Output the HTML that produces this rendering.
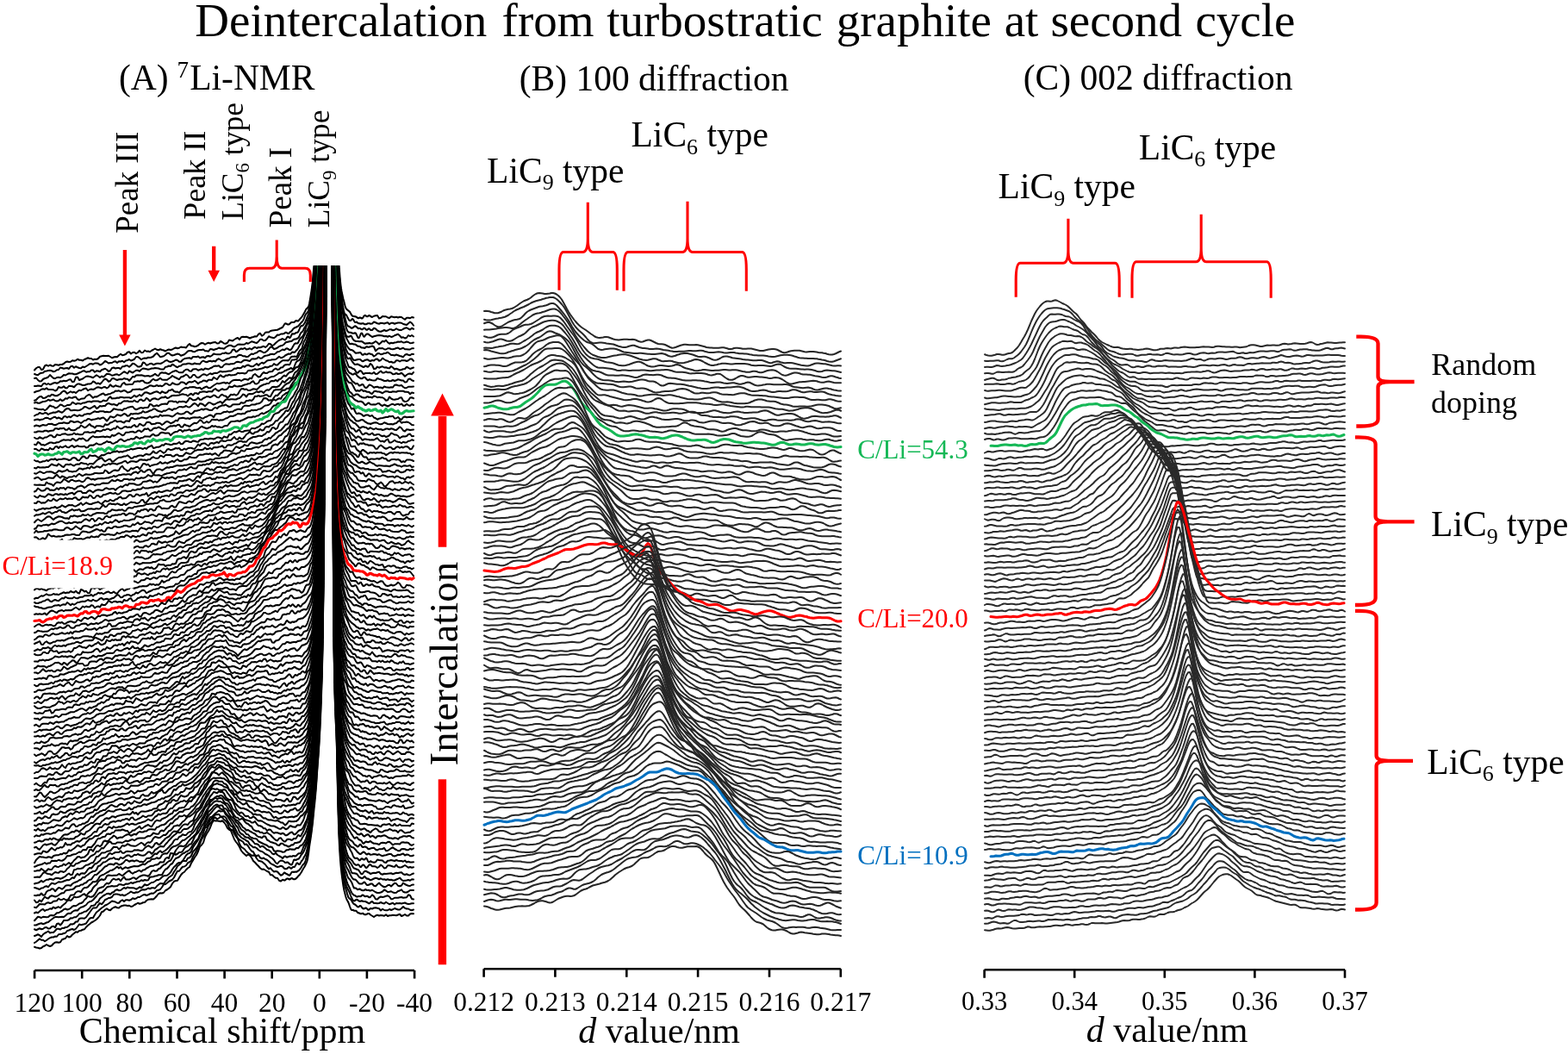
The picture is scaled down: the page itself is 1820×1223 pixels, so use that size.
<!DOCTYPE html>
<html><head><meta charset="utf-8"><title>Deintercalation from turbostratic graphite at second cycle</title>
<style>html,body{margin:0;padding:0;background:#fff;}svg{display:block;}</style></head>
<body><svg width="1820" height="1223" viewBox="0 0 1820 1223">
<defs><filter id="bl" x="0" y="0" width="1" height="1" filterUnits="objectBoundingBox"><feGaussianBlur stdDeviation="0.75"/></filter><clipPath id="ca" clipPathUnits="userSpaceOnUse"><rect x="0" y="1232" width="2400" height="4000"/></clipPath></defs>
<rect width="1820" height="1223" fill="#fff"/>
<g filter="url(#bl)"><rect width="1820" height="1223" fill="#fff"/>
<g transform="scale(0.25)" fill="none" stroke="#000" stroke-width="8" stroke-linejoin="round" stroke-linecap="round">
<g clip-path="url(#ca)"><path d="M160 1718l8-9 8-5 8 0 8 12 8-2 8-16 8-4 8 5 8-5 8 4 8 1 8-7 8 1 8 2 8-3 8 0 8-4 8-7 8-3 8 2 8-1 8-6 8 2 8-2 8-6 8 4 8 0 8 3 8-6 8-3 8-4 8 3 8 0 8 6 8-3 8 1 8-4 8-9 8-2 8-2 8 1 8 0 8-1 8 5 8 5 8-3 8-2 8 1 8-8 8-6 8 6 8-2 8-3 8-9 8-2 8 9 8-6 8-1 8 6 8-5 8-9 8 10 8-1 8-10 8 5 8-1 8 3 8-6 8-4 8-5 8 5 8 2 8-4 8 3 8 2 8 4 8-5 8-3 8 2 8-2 8-5 8-3 8 3 8-2 8-5 8 2 8 0 8 2 8-11 8-7 8 9 8 1 8 3 8-2 8-4 8-7 8-4 8 1 8 6 8-5 8-3 8 3 8-3 8-2 8-1 8 6 8-1 8-9 8 4 8 6 8 1 8-4 8-13 8 2 8 2 8-6 8-5 8-3 8 8 8-11 8-2 8 1 8-1 8 3 8 4 8-4 8-2 8-3 8 1 8-11 8-4 8 12 8-5 8-11 8-1 8 0 8-6 8-2 8-1 8-1 8-1 8-4 8-4 8-4 8-13 2-2 2-3 2 1 2 0 2 1 2 1 2 1 2 1 2 0 2 0 2-1 2-1 2-2 2-2 2-2 2-1 2-1 2 0 2 0 2 0 2 0 2 0 2-1 2-1 2-2 2-3 2 0 2-1 2 1 2 1 2 0 2 0 2-2 2-2 2-2 2-3 2-2 2-2 2-2 2-2 2-3 2-3 2-4 2-3 2-4 2-3 2-4 2-3 2-4 2-5 2-2 2-3 2-1 2-2 2-3 2-3 2-6 2-7 2-11 2-12 2-12 2-13 2-13 2-14 2-16 2-18 2-23 2-26 2-19 2-12 2-13 2-15 2-18 2-19 2-20 2-21 2-21 2-22 2-23 2-25 2-24 2 0 2 0 2 0 2 0 2 0 2 0 2 0 2 0 2 0 2 0 2 0 2 0 2 0 2 0 2 0 2 0 2 0 2 0 2 0 2 0 2 0 2 0 2 0 2 0 2 0 2 0 2 0 2 0 2 0 2 0 2 0 2 0 2 0 2 0 2 0 2 0 2 0 2 0 2 0 2 49 2 46 2 35 2 31 2 25 2 21 2 20 2 29 2 27 2 23 2 18 2 15 2 12 2 10 2 9 2 9 2 9 2 7 2 8 2 8 2 8 2 7 2 4 2 4 2 2 2 1 2 2 2 2 2 1 2 2 2 2 2 1 2 4 2 3 2 4 2 4 2 2 2 2 2 1 2 1 2 0 2 0 2 1 2 0 2 0 2 1 2 1 2 1 2 2 2 1 2 1 2 1 2-1 2-1 2-1 2 0 2 1 2 1 2 1 2 1 2-1 2-1 2-3 2-4 2-2 2-2 2-1 2 0 2 1 2 2 2 1 2 1 2 0 2-1 2-2 2-1 2 0 2-1 2 2 2 2 8 4 8-5 8-2 8-1 8 14 8-3 8-7 8 1 8 0 8 5 8 2 8-7 8 2 8 2 8-2 8 3 8-3 8 1 8 6 8 5 8-8 8 0 8 2 8-5 8 2"/><path d="M160 1736l8 3 8 2 8-7 8-3 8-1 8-7 8-1 8-2 8-1 8 2 8 4 8-2 8-6 8-1 8-10 8 2 8 3 8-2 8-1 8 4 8-11 8-2 8 8 8-6 8 4 8 3 8 1 8-7 8 3 8-5 8-5 8-6 8-1 8 3 8-5 8 0 8 1 8 7 8-3 8-7 8-8 8 4 8 6 8-2 8 0 8-5 8-2 8 7 8-7 8 1 8-3 8 6 8-7 8-2 8-4 8 6 8-3 8-4 8-11 8 0 8 6 8 7 8-5 8-2 8 1 8-4 8 1 8-2 8-4 8-9 8-6 8 8 8 10 8-2 8-2 8-6 8-8 8 0 8 7 8 4 8-2 8-3 8-3 8 2 8 7 8-3 8-3 8-7 8-8 8-2 8 0 8 4 8 1 8-5 8-3 8-1 8 0 8-2 8 7 8 0 8 2 8-11 8 1 8 3 8-3 8-2 8-5 8 3 8 0 8 2 8-7 8-5 8-4 8 0 8 4 8 3 8-5 8-6 8-1 8 1 8 0 8-1 8-6 8 3 8-5 8-5 8 2 8 3 8 2 8-7 8-10 8 0 8 6 8-1 8-8 8-11 8 4 8 2 8 2 8-6 8-9 8 1 8-5 8 0 8-2 2-2 2-2 2-1 2 0 2 1 2 1 2 1 2 2 2 0 2 0 2-2 2-2 2-2 2-2 2-1 2-1 2-2 2-2 2-3 2-3 2-2 2-2 2-1 2-2 2 0 2-1 2-1 2-1 2-1 2-1 2-1 2-1 2-2 2-2 2-3 2-2 2-2 2-3 2-2 2-2 2-2 2-2 2-3 2-3 2-4 2-5 2-6 2-5 2-4 2-4 2-2 2-2 2-2 2-2 2-4 2-5 2-7 2-7 2-9 2-10 2-9 2-11 2-15 2-16 2-20 2-22 2-24 2-27 2-18 2-12 2-12 2-14 2-14 2-16 2-18 2-19 2-22 2-25 2-24 2-28 2-28 2-14 2 0 2 0 2 0 2 0 2 0 2 0 2 0 2 0 2 0 2 0 2 0 2 0 2 0 2 0 2 0 2 0 2 0 2 0 2 0 2 0 2 0 2 0 2 0 2 0 2 0 2 0 2 0 2 0 2 0 2 0 2 0 2 0 2 0 2 0 2 0 2 0 2 0 2 20 2 51 2 42 2 38 2 33 2 29 2 25 2 19 2 28 2 24 2 19 2 17 2 14 2 16 2 14 2 15 2 15 2 12 2 11 2 7 2 6 2 3 2 2 2 1 2 1 2 4 2 3 2 5 2 4 2 3 2 4 2 2 2 1 2 0 2 0 2-2 2-3 2-1 2-2 2 1 2 2 2 3 2 4 2 3 2 3 2 0 2 0 2-1 2-1 2 2 2 2 2 1 2 2 2 0 2 0 2 1 2 0 2 0 2 1 2-1 2 0 2-1 2 0 2 0 2 1 2 1 2 2 2 0 2 0 2 0 2 0 2-1 2-1 2-1 2-1 2 0 2 0 2 0 2 0 2 1 2 1 8-1 8-8 8 3 8 4 8 2 8-4 8 1 8 2 8-3 8-2 8 8 8-6 8 0 8 4 8-3 8-2 8 0 8 1 8 5 8 2 8 2 8-7 8-7 8 6 8 11"/><path d="M160 1756l8-2 8 10 8 6 8-1 8-9 8-4 8-2 8-4 8-10 8 8 8 7 8 2 8-5 8-1 8 2 8-5 8-8 8 2 8-5 8-4 8 1 8 0 8 3 8 0 8-3 8-4 8-3 8-5 8-1 8 6 8-2 8 0 8-7 8 0 8 9 8-6 8 1 8 3 8-8 8-3 8-3 8 5 8 8 8-4 8-12 8-2 8 4 8-2 8 0 8 4 8-11 8 0 8-4 8 0 8 6 8-7 8-9 8 2 8 6 8 7 8 0 8-3 8-17 8 3 8 10 8-2 8-5 8-1 8 6 8-3 8-3 8 0 8 1 8-3 8-5 8-6 8-2 8 6 8 2 8-2 8-3 8-5 8 2 8 7 8 0 8-9 8-5 8-2 8-1 8-1 8 4 8-9 8 0 8 1 8-3 8 7 8-3 8-1 8 4 8-8 8-1 8 3 8-5 8-8 8 2 8 1 8 0 8 0 8-5 8 0 8-3 8 4 8 0 8-5 8-13 8-1 8 11 8-4 8-7 8-4 8 2 8-5 8 7 8-2 8-3 8 5 8-7 8-4 8 5 8-4 8 1 8-3 8-3 8 5 8-6 8-11 8 2 8 8 8-5 8-8 8-7 8-6 8-3 8-4 8 5 2 0 2 1 2-3 2-2 2-3 2-4 2-2 2-2 2 1 2 1 2 2 2 2 2-1 2-1 2-4 2-4 2-4 2-4 2-1 2 0 2 1 2 0 2 0 2-1 2-2 2-1 2-1 2-1 2 0 2-1 2-1 2-1 2-4 2-4 2-5 2-5 2-4 2-4 2-1 2-2 2 0 2 0 2-1 2-2 2-3 2-3 2-3 2-3 2-5 2-5 2-5 2-5 2-5 2-4 2-5 2-5 2-5 2-6 2-8 2-8 2-11 2-12 2-16 2-18 2-19 2-22 2-21 2-25 2-18 2-12 2-14 2-16 2-16 2-18 2-18 2-19 2-20 2-23 2-24 2-27 2-30 2-32 2 0 2 0 2 0 2 0 2 0 2 0 2 0 2 0 2 0 2 0 2 0 2 0 2 0 2 0 2 0 2 0 2 0 2 0 2 0 2 0 2 0 2 0 2 0 2 0 2 0 2 0 2 0 2 0 2 0 2 0 2 0 2 0 2 0 2 0 2 0 2 0 2 0 2 43 2 53 2 45 2 40 2 35 2 29 2 26 2 20 2 27 2 24 2 21 2 17 2 15 2 13 2 11 2 9 2 8 2 9 2 8 2 7 2 8 2 8 2 8 2 7 2 7 2 6 2 5 2 3 2 2 2 0 2 1 2 1 2 1 2 2 2 1 2 2 2 1 2 0 2-1 2-1 2-2 2-1 2-2 2-1 2-2 2 1 2 1 2 1 2 2 2 2 2 2 2 1 2 2 2-1 2 0 2 0 2 0 2 2 2 1 2 1 2 1 2 0 2-1 2-2 2-2 2-1 2 0 2 1 2 2 2 2 2 2 2 1 2 0 2-1 2-2 2-1 2-2 2 1 2 0 2 3 2 3 8 0 8-9 8 3 8 8 8 4 8 1 8-3 8-4 8 4 8-2 8-5 8 0 8 4 8-2 8-6 8 5 8 2 8 0 8-5 8-4 8-2 8 5 8 4 8-7 8 4"/><path d="M160 1792l8 0 8-2 8 1 8 2 8-11 8-3 8 6 8-5 8 5 8-3 8-4 8-2 8 3 8-3 8-7 8 1 8-3 8 2 8-2 8-5 8-1 8 12 8-2 8-20 8-1 8 14 8-3 8-3 8-6 8-5 8-1 8 2 8 2 8 3 8-6 8-6 8 5 8 6 8-6 8 4 8-7 8-8 8 1 8 2 8 5 8-2 8-3 8-1 8 5 8-5 8-6 8-6 8 4 8 5 8-12 8 4 8 4 8-6 8-5 8 0 8 4 8-8 8-5 8 1 8 2 8 2 8-2 8-3 8 0 8-2 8 1 8 1 8 3 8 1 8 0 8-11 8-1 8-4 8 2 8-9 8 4 8 6 8 4 8-6 8-1 8-7 8-1 8 0 8-3 8 0 8 3 8 0 8-4 8 3 8 0 8 1 8-11 8-5 8 5 8 2 8-4 8-2 8 3 8-3 8 3 8-9 8-4 8 5 8 5 8-2 8-5 8-3 8-2 8-5 8-1 8-1 8 2 8-7 8-4 8 1 8 5 8 0 8 3 8-1 8-7 8-6 8 2 8-5 8-2 8-7 8-2 8 4 8 5 8-2 8-6 8-9 8-10 8 1 8 9 8-2 8-4 8-6 8-3 8-2 8-6 2-3 2-2 2-2 2-1 2-1 2 0 2-1 2 0 2 0 2-1 2-1 2 0 2 0 2-1 2 0 2 0 2-1 2-1 2-2 2-2 2-1 2-2 2 0 2-1 2 0 2 0 2 0 2-1 2-1 2-1 2-1 2-1 2-3 2-2 2-4 2-5 2-4 2-5 2-2 2-2 2-1 2-2 2-3 2-3 2-5 2-5 2-2 2-3 2-4 2-3 2-6 2-5 2-6 2-7 2-4 2-5 2-4 2-5 2-8 2-9 2-12 2-12 2-15 2-16 2-19 2-22 2-24 2-27 2-19 2-13 2-12 2-14 2-15 2-17 2-20 2-22 2-23 2-25 2-26 2-28 2-31 2-34 2-6 2 0 2 0 2 0 2 0 2 0 2 0 2 0 2 0 2 0 2 0 2 0 2 0 2 0 2 0 2 0 2 0 2 0 2 0 2 0 2 0 2 0 2 0 2 0 2 0 2 0 2 0 2 0 2 0 2 0 2 0 2 0 2 0 2 0 2 0 2 0 2 31 2 59 2 48 2 41 2 33 2 29 2 24 2 20 2 18 2 25 2 24 2 20 2 18 2 16 2 14 2 13 2 12 2 10 2 10 2 9 2 9 2 8 2 9 2 9 2 7 2 7 2 5 2 6 2 3 2 3 2 1 2 2 2 0 2 0 2 0 2 0 2 1 2 1 2 1 2 0 2 1 2 0 2 0 2 0 2-1 2-1 2 1 2 1 2 4 2 4 2 4 2 5 2 3 2 2 2-1 2-1 2-5 2-5 2-5 2-4 2-1 2-1 2 3 2 4 2 4 2 5 2 0 2 1 2-3 2-3 2-2 2-3 2-1 2-1 2 0 2 0 2 1 2 1 2 2 2 1 2 2 2 1 8 6 8-3 8-2 8-2 8-1 8 1 8 1 8 3 8-1 8 3 8-4 8 5 8-2 8-5 8-3 8-3 8 7 8 9 8-2 8 5 8-3 8-11 8 5 8-5 8 6"/><path d="M160 1821l8-4 8-2 8-2 8-6 8-2 8 2 8-6 8 7 8 0 8 0 8 1 8 5 8-4 8-14 8 3 8 0 8-6 8 8 8 0 8-10 8 1 8 1 8 4 8-9 8-6 8 0 8 3 8 3 8 0 8-3 8-3 8 0 8-2 8-10 8 4 8 7 8-3 8 5 8-8 8-10 8-7 8 4 8 9 8-3 8-11 8-1 8 5 8 3 8-3 8-1 8 1 8-5 8 3 8 0 8 8 8-9 8-10 8 2 8-8 8-1 8 1 8-1 8 2 8 3 8-1 8-1 8 3 8-2 8-4 8-6 8 7 8 2 8-12 8-3 8 2 8-1 8 4 8 3 8-6 8-5 8-3 8-3 8 4 8 5 8 0 8 0 8-9 8-5 8 0 8 7 8 1 8-9 8-1 8 0 8 6 8-3 8-3 8 4 8-7 8 2 8 2 8-5 8-3 8-6 8-2 8 1 8-2 8 8 8-1 8-10 8-5 8 1 8 1 8-2 8 0 8-2 8-6 8-2 8 2 8 1 8-7 8-4 8 1 8 2 8 2 8-10 8-1 8 1 8-2 8-7 8 6 8-1 8-7 8-4 8-1 8-2 8-4 8-1 8 2 8-5 8-7 8-1 8-5 8-5 8 3 2-2 2-1 2-2 2-2 2 0 2-1 2 1 2 1 2 1 2 1 2 2 2 1 2 0 2 0 2-1 2-2 2-2 2-3 2-4 2-4 2-3 2-4 2-3 2-2 2-1 2-2 2 1 2 0 2 0 2 0 2-2 2-1 2-4 2-5 2-4 2-4 2-2 2-3 2-1 2-2 2-2 2-2 2-2 2-3 2-5 2-5 2-6 2-6 2-7 2-7 2-5 2-6 2-3 2-3 2-3 2-3 2-5 2-6 2-8 2-9 2-11 2-11 2-15 2-15 2-18 2-20 2-22 2-25 2-17 2-12 2-14 2-15 2-17 2-18 2-18 2-21 2-21 2-24 2-27 2-30 2-33 2-38 2-28 2 0 2 0 2 0 2 0 2 0 2 0 2 0 2 0 2 0 2 0 2 0 2 0 2 0 2 0 2 0 2 0 2 0 2 0 2 0 2 0 2 0 2 0 2 0 2 0 2 0 2 0 2 0 2 0 2 0 2 0 2 0 2 0 2 0 2 0 2 0 2 53 2 59 2 51 2 42 2 37 2 31 2 27 2 23 2 20 2 26 2 24 2 21 2 19 2 17 2 16 2 15 2 11 2 11 2 7 2 6 2 7 2 6 2 10 2 8 2 6 2 5 2 2 2 2 2 1 2 0 2 0 2 0 2-1 2-1 2-1 2-2 2 2 2 1 2 4 2 5 2 3 2 3 2 2 2 2 2 1 2 1 2 1 2 1 2 0 2 0 2 0 2 0 2 0 2 0 2 1 2 0 2 0 2 0 2 0 2-1 2 1 2 0 2 1 2 1 2 2 2 1 2 2 2 1 2 1 2 1 2 0 2-1 2 0 2-1 2 1 2 0 2-1 2 0 2-1 2 0 2 1 2 1 8 0 8-4 8-6 8 6 8 8 8-7 8-8 8 3 8-7 8 10 8 6 8-4 8 2 8-3 8-1 8-3 8 1 8-2 8 5 8-1 8-3 8 2 8 5 8-1 8-2"/><path d="M160 1859l8-3 8-9 8-6 8-1 8 8 8-1 8-4 8-6 8 2 8-8 8 2 8 4 8 0 8-4 8-5 8-9 8-5 8 4 8 9 8-5 8-5 8 5 8-3 8 5 8-7 8-6 8 2 8-5 8-4 8-2 8 11 8-5 8-2 8 2 8-3 8-6 8-2 8 2 8 3 8-5 8-1 8 6 8-5 8-12 8 8 8 2 8-6 8 3 8 2 8 1 8-14 8-5 8 9 8 0 8-1 8 0 8-1 8-12 8 0 8-2 8 2 8-4 8 0 8 8 8 3 8 0 8-4 8-9 8-6 8 6 8 0 8-4 8-6 8 7 8 1 8 0 8 0 8-6 8-5 8-8 8 5 8 4 8 4 8 4 8-11 8-2 8-4 8-6 8 5 8 11 8-3 8-11 8 0 8 10 8 3 8-4 8-7 8-5 8 1 8 5 8-5 8-5 8 4 8-4 8-2 8 1 8-5 8-4 8 3 8-1 8 0 8-2 8-1 8 0 8-5 8-7 8 1 8-4 8 2 8-2 8-8 8 4 8-7 8-2 8 4 8 3 8-1 8-6 8-6 8 8 8-8 8-5 8 4 8-6 8-7 8-2 8-1 8-2 8 0 8-1 8-6 8-7 8 6 8-2 8-5 2-2 2-2 2-1 2-1 2-1 2-1 2-1 2-1 2-1 2-1 2 1 2 0 2 0 2 0 2-2 2-2 2-2 2-2 2-1 2 0 2 1 2 1 2-1 2 0 2-2 2-2 2-2 2-3 2-2 2-1 2-3 2-3 2-4 2-4 2-4 2-4 2-2 2-3 2-3 2-4 2-5 2-6 2-5 2-5 2-5 2-5 2-4 2-4 2-4 2-4 2-3 2-3 2-3 2-4 2-5 2-5 2-6 2-7 2-10 2-11 2-13 2-15 2-17 2-18 2-17 2-19 2-19 2-20 2-16 2-10 2-15 2-15 2-19 2-19 2-20 2-22 2-23 2-25 2-28 2-31 2-33 2-37 2-34 2 0 2 0 2 0 2 0 2 0 2 0 2 0 2 0 2 0 2 0 2 0 2 0 2 0 2 0 2 0 2 0 2 0 2 0 2 0 2 0 2 0 2 0 2 0 2 0 2 0 2 0 2 0 2 0 2 0 2 0 2 0 2 0 2 0 2 0 2 7 2 71 2 59 2 52 2 44 2 37 2 33 2 27 2 23 2 20 2 25 2 25 2 20 2 18 2 15 2 11 2 10 2 9 2 8 2 10 2 9 2 8 2 7 2 7 2 5 2 4 2 4 2 5 2 3 2 4 2 3 2 4 2 4 2 3 2 2 2 0 2 1 2-1 2-1 2 0 2 1 2 1 2 0 2 1 2 0 2 0 2 0 2 1 2 1 2 1 2 2 2 2 2 1 2 1 2 0 2 0 2 1 2 0 2 1 2 2 2 1 2 1 2 1 2 0 2 0 2 0 2 0 2 1 2 1 2-1 2-1 2-2 2-2 2-1 2 0 2 1 2 1 2 0 2 0 2 0 2-1 2-1 2 0 8-3 8 4 8 19 8-8 8-5 8 1 8-1 8 5 8 1 8-5 8 0 8 3 8 1 8-2 8-3 8-2 8 6 8-2 8-3 8 6 8 0 8 1 8 0 8-5 8 0"/><path d="M160 1870l8-3 8 4 8 0 8-4 8-3 8-1 8-2 8-6 8 4 8-2 8-3 8 6 8 2 8-2 8-7 8 7 8-3 8-8 8 2 8-7 8 2 8 1 8-4 8-1 8 11 8 3 8-5 8-1 8-1 8-10 8-5 8-3 8 8 8 8 8-6 8 1 8-4 8-5 8-4 8-3 8 8 8-2 8-3 8-1 8-5 8-2 8-7 8 1 8-2 8 5 8-3 8-3 8 3 8 7 8-2 8-3 8-9 8 0 8-1 8 0 8-1 8 3 8-2 8-5 8-3 8-4 8-6 8 1 8 3 8-1 8-4 8 4 8-2 8 3 8-5 8-8 8 1 8 6 8 0 8-10 8 4 8 3 8 1 8-3 8-8 8 0 8 3 8 7 8-8 8-4 8 2 8-2 8-5 8 6 8 8 8-7 8-2 8-6 8 1 8 4 8-8 8 0 8 1 8-13 8 5 8 5 8-12 8-8 8 7 8 2 8-8 8 1 8-4 8 3 8-1 8-1 8-2 8-7 8 2 8-1 8 0 8 2 8-3 8-11 8-1 8 1 8-4 8-3 8 3 8-2 8-2 8-2 8-3 8-4 8 3 8-3 8-4 8-1 8-10 8 6 8 0 8-8 8-7 8-6 8 0 2 0 2 0 2 0 2 0 2 0 2 0 2 0 2 1 2-1 2 0 2-3 2-2 2-3 2-4 2-2 2-2 2-1 2-1 2 0 2 0 2 0 2 0 2 0 2-1 2 1 2 0 2 0 2 1 2-2 2-2 2-5 2-5 2-4 2-5 2-3 2-3 2-2 2-2 2-1 2-2 2-5 2-6 2-7 2-7 2-6 2-5 2-3 2-3 2-5 2-5 2-5 2-6 2-4 2-5 2-5 2-6 2-6 2-8 2-9 2-10 2-13 2-13 2-17 2-18 2-19 2-20 2-20 2-23 2-16 2-12 2-13 2-14 2-16 2-16 2-19 2-20 2-24 2-25 2-30 2-33 2-35 2-38 2-41 2-9 2 0 2 0 2 0 2 0 2 0 2 0 2 0 2 0 2 0 2 0 2 0 2 0 2 0 2 0 2 0 2 0 2 0 2 0 2 0 2 0 2 0 2 0 2 0 2 0 2 0 2 0 2 0 2 0 2 0 2 0 2 0 2 0 2 0 2 37 2 72 2 59 2 50 2 43 2 36 2 31 2 26 2 22 2 21 2 25 2 23 2 20 2 18 2 16 2 14 2 13 2 12 2 10 2 9 2 9 2 7 2 7 2 7 2 5 2 5 2 3 2 4 2 3 2 3 2 3 2 3 2 2 2 2 2 2 2 1 2 1 2 0 2 0 2 1 2 1 2 1 2 1 2 2 2 2 2 2 2 2 2 2 2 1 2 0 2-1 2 0 2 0 2 0 2 0 2-1 2 0 2-1 2 0 2 1 2 2 2 3 2 3 2 1 2 1 2 0 2-1 2-2 2-2 2 0 2 0 2 2 2 1 2 0 2 0 2-1 2-2 2 0 2-1 2 0 2 0 2 1 2 1 8 2 8 9 8-5 8-8 8-1 8 5 8-2 8-3 8-1 8-4 8 6 8 7 8 0 8 2 8-4 8 3 8 3 8 2 8 3 8-10 8-3 8 3 8 2 8-6 8 1"/><path d="M160 1895l8 2 8 2 8 1 8 1 8-2 8 6 8-5 8-9 8-9 8 4 8 1 8 7 8-2 8-6 8-8 8 2 8 6 8-1 8-5 8 0 8-2 8-11 8 4 8 5 8-4 8 1 8 2 8-5 8 0 8-3 8-3 8-1 8 3 8-4 8 0 8 0 8 0 8 4 8-2 8-6 8 3 8-1 8-12 8-7 8 9 8-1 8 0 8-3 8 1 8-4 8 1 8 2 8-1 8 0 8 0 8 3 8-6 8-7 8 7 8-4 8-6 8 6 8-8 8-8 8-1 8 3 8 4 8-2 8-4 8-3 8-2 8 4 8 5 8-9 8 4 8 3 8-3 8-9 8-1 8-4 8 9 8 3 8-1 8 5 8-9 8-7 8-5 8-3 8 3 8-5 8 0 8-1 8 1 8 3 8 1 8-2 8 8 8-6 8-4 8-3 8 7 8 0 8-6 8-6 8-5 8-5 8 2 8-2 8-2 8-2 8 4 8-3 8 5 8-9 8-6 8-2 8-1 8 1 8-1 8 5 8-5 8-4 8 2 8 2 8-8 8 2 8-16 8-5 8 7 8 7 8-2 8-12 8-8 8 4 8 0 8-6 8-1 8-1 8-9 8-5 8 6 8-2 8-8 8-1 8-9 2-1 2-2 2 0 2 0 2 0 2-1 2 0 2 0 2 0 2 1 2 0 2 0 2-3 2-3 2-6 2-5 2-3 2-3 2 0 2 0 2 0 2 0 2 0 2-1 2 0 2-1 2 0 2-1 2-1 2-2 2-3 2-3 2-4 2-4 2-3 2-3 2-3 2-2 2-2 2-2 2-4 2-3 2-4 2-5 2-4 2-5 2-3 2-4 2-5 2-5 2-6 2-5 2-6 2-7 2-7 2-7 2-8 2-10 2-10 2-12 2-11 2-13 2-13 2-14 2-17 2-18 2-21 2-23 2-16 2-14 2-14 2-15 2-17 2-18 2-21 2-22 2-22 2-25 2-27 2-29 2-35 2-38 2-44 2-28 2 0 2 0 2 0 2 0 2 0 2 0 2 0 2 0 2 0 2 0 2 0 2 0 2 0 2 0 2 0 2 0 2 0 2 0 2 0 2 0 2 0 2 0 2 0 2 0 2 0 2 0 2 0 2 0 2 0 2 0 2 0 2 0 2 0 2 66 2 73 2 60 2 49 2 42 2 35 2 30 2 27 2 23 2 23 2 26 2 23 2 21 2 18 2 15 2 13 2 11 2 8 2 8 2 7 2 5 2 7 2 6 2 8 2 7 2 7 2 6 2 5 2 4 2 4 2 3 2 2 2 1 2 1 2 0 2 2 2 2 2 4 2 4 2 4 2 4 2 3 2 2 2 2 2 1 2 0 2 0 2-1 2 0 2-1 2 0 2-1 2 0 2-1 2 0 2 0 2 0 2 0 2 0 2 2 2 1 2 2 2 2 2 1 2 1 2-1 2 0 2-2 2-1 2-1 2-1 2 0 2-1 2 0 2-1 2 0 2 1 2 1 2 2 2 1 2 1 2 0 2 1 8-4 8 2 8-7 8-1 8 9 8-3 8-10 8 6 8 5 8 2 8 6 8-2 8 4 8-1 8-9 8 0 8 5 8-5 8 0 8 0 8 3 8-3 8-7 8 0 8 9"/><path d="M160 1930l8-5 8-2 8-7 8 3 8 2 8-5 8 1 8 7 8-5 8-2 8-3 8 1 8-3 8-4 8 4 8 3 8-6 8-9 8-4 8 1 8 8 8 0 8-2 8 1 8 1 8-1 8-3 8-5 8-8 8 1 8 5 8 3 8-4 8-5 8-4 8 12 8-4 8-8 8 2 8-2 8 0 8-9 8-3 8 3 8 3 8-2 8 3 8 3 8-10 8 1 8-7 8-5 8 1 8-1 8 3 8-1 8 1 8-6 8 6 8 2 8-10 8-2 8 7 8-3 8-11 8 6 8 9 8-8 8-4 8-1 8 4 8 1 8-6 8-4 8 1 8-4 8 7 8-2 8-6 8-4 8-1 8 1 8-1 8-1 8-3 8-2 8 2 8 1 8 6 8-7 8-4 8 7 8-9 8 0 8 4 8-9 8-1 8-2 8 1 8 2 8-3 8 0 8 1 8-9 8-5 8 7 8 4 8-6 8-4 8 4 8-1 8-3 8-12 8 3 8 0 8-7 8 4 8 1 8-2 8 1 8-4 8-3 8-2 8-3 8-1 8-7 8-4 8 12 8 1 8-5 8-14 8 1 8-4 8-6 8 6 8-5 8-5 8-2 8-1 8-5 8-5 8-7 8 1 8-3 8-5 2-2 2-1 2 0 2-1 2-1 2-1 2-1 2-1 2-1 2 0 2-1 2 0 2-2 2-2 2 0 2-1 2 2 2 2 2 0 2 1 2-3 2-2 2-5 2-6 2-5 2-5 2-4 2-3 2-2 2-2 2-1 2-1 2-1 2 0 2-2 2-2 2-4 2-4 2-4 2-4 2-6 2-6 2-6 2-6 2-4 2-5 2-3 2-2 2-5 2-5 2-7 2-8 2-7 2-8 2-6 2-6 2-6 2-7 2-8 2-10 2-8 2-10 2-12 2-13 2-16 2-18 2-20 2-22 2-16 2-13 2-13 2-15 2-18 2-19 2-23 2-24 2-26 2-28 2-31 2-34 2-36 2-40 2-44 2-33 2 0 2 0 2 0 2 0 2 0 2 0 2 0 2 0 2 0 2 0 2 0 2 0 2 0 2 0 2 0 2 0 2 0 2 0 2 0 2 0 2 0 2 0 2 0 2 0 2 0 2 0 2 0 2 0 2 0 2 0 2 0 2 0 2 19 2 86 2 69 2 58 2 48 2 40 2 36 2 30 2 27 2 23 2 19 2 23 2 20 2 18 2 16 2 14 2 15 2 13 2 11 2 11 2 8 2 7 2 6 2 6 2 8 2 7 2 6 2 7 2 5 2 5 2 2 2 2 2 0 2-1 2-1 2-2 2 2 2 2 2 4 2 4 2 3 2 3 2 3 2 2 2 2 2 3 2 1 2 2 2 0 2 0 2-1 2 0 2-1 2 0 2 1 2 1 2 1 2 1 2 1 2 1 2 1 2 1 2 1 2 1 2 1 2 2 2 0 2 1 2-1 2-1 2-2 2-2 2 0 2 1 2 1 2 2 2 0 2 1 2-2 2-1 2-3 2-4 2-3 2-2 8 7 8 17 8-1 8-9 8 5 8-4 8-2 8 5 8-1 8 3 8 1 8-9 8 6 8 8 8-3 8 3 8 4 8-2 8-3 8-1 8-9 8 4 8 5 8-3 8-3"/><path d="M160 1950l8-3 8-1 8 4 8-3 8-1 8-5 8-2 8 2 8 5 8-4 8-5 8-2 8 7 8-4 8 4 8 4 8-12 8-2 8 6 8-5 8 4 8-7 8-5 8 4 8 3 8-6 8 4 8 0 8-7 8-1 8-2 8 2 8-4 8-5 8-4 8 3 8 0 8-3 8 0 8 0 8 4 8-2 8 2 8-1 8-6 8-9 8 2 8 2 8 1 8 0 8 3 8-8 8 0 8-5 8-2 8-2 8-1 8 10 8 4 8-3 8-4 8-2 8 3 8-3 8 0 8-1 8-15 8 2 8 8 8-2 8-3 8 4 8-6 8-3 8-1 8-1 8 2 8-13 8-1 8 0 8 3 8-2 8 7 8-7 8 2 8-2 8 1 8 4 8-8 8-13 8 4 8 6 8 0 8-3 8-8 8 9 8 0 8-7 8-3 8-5 8 1 8 3 8-4 8-6 8 3 8 7 8 1 8-10 8-4 8 6 8 1 8 9 8-7 8-9 8 2 8-3 8 5 8-5 8-14 8-11 8-1 8 4 8-2 8 6 8 0 8-3 8-4 8 1 8 2 8-7 8-8 8-4 8-4 8-2 8-3 8 0 8-10 8-2 8 1 8-6 8 7 8-9 8-3 8-9 8-7 2 2 2 2 2 0 2 0 2-2 2-3 2-3 2-2 2-2 2-2 2-2 2-2 2 0 2-1 2-1 2 0 2-1 2-1 2-2 2-1 2-3 2-2 2-2 2-2 2-3 2-2 2-1 2-1 2-1 2 0 2-1 2-1 2-2 2-2 2-4 2-3 2-5 2-4 2-5 2-4 2-5 2-4 2-5 2-6 2-6 2-6 2-4 2-4 2-4 2-5 2-5 2-5 2-6 2-7 2-7 2-7 2-7 2-9 2-10 2-10 2-11 2-12 2-14 2-14 2-17 2-18 2-19 2-21 2-16 2-15 2-15 2-17 2-18 2-19 2-20 2-23 2-25 2-28 2-30 2-33 2-35 2-39 2-42 2-47 2-3 2 0 2 0 2 0 2 0 2 0 2 0 2 0 2 0 2 0 2 0 2 0 2 0 2 0 2 0 2 0 2 0 2 0 2 0 2 0 2 0 2 0 2 0 2 0 2 0 2 0 2 0 2 0 2 0 2 0 2 0 2 0 2 41 2 86 2 70 2 58 2 49 2 42 2 36 2 32 2 28 2 24 2 21 2 23 2 19 2 17 2 14 2 13 2 10 2 9 2 9 2 8 2 10 2 8 2 9 2 10 2 8 2 8 2 6 2 5 2 5 2 5 2 6 2 6 2 4 2 4 2 1 2 1 2 0 2 0 2 1 2 1 2 2 2 1 2 1 2 1 2 0 2 1 2 2 2 2 2 4 2 3 2 3 2 3 2 0 2 1 2-2 2-1 2-3 2-2 2-1 2-1 2 0 2 1 2 2 2 2 2 3 2 4 2 1 2 2 2-1 2-1 2-1 2-1 2 0 2 0 2 0 2 0 2 0 2 0 2 0 2 0 2 0 2-1 2 1 2 1 8 1 8-6 8 8 8-1 8-7 8-6 8 8 8 0 8-5 8 4 8-1 8 2 8 7 8-1 8-4 8 4 8-1 8-4 8 7 8 9 8-7 8-5 8-1 8 3 8-9"/><path d="M160 1978l8-4 8 2 8 3 8-4 8-3 8 2 8 0 8-6 8 0 8-1 8 4 8 2 8-3 8-5 8-1 8 0 8-3 8 2 8 2 8-2 8-9 8 2 8 4 8-2 8-2 8 3 8 5 8-6 8-6 8-1 8-7 8 1 8 5 8-3 8-1 8-2 8-3 8 3 8-4 8-2 8 7 8 9 8-9 8-12 8 2 8 3 8-5 8-8 8 2 8 3 8-4 8-6 8 3 8 8 8-2 8-9 8 2 8-2 8-1 8 2 8-3 8-2 8-8 8 6 8-1 8-3 8-4 8-2 8-6 8 0 8 6 8 4 8 2 8 2 8-6 8 1 8-5 8-5 8 3 8 4 8-7 8 1 8-5 8-5 8 0 8 2 8-2 8-4 8 5 8 1 8-6 8-8 8-4 8 5 8 8 8-12 8 1 8 4 8 7 8-8 8-8 8 0 8 5 8 4 8-3 8-5 8-3 8-3 8 8 8-8 8-9 8-2 8 2 8-2 8 0 8 1 8 0 8-4 8-2 8-7 8-11 8 3 8 9 8-12 8-2 8 1 8-2 8-5 8-5 8 4 8-4 8 0 8 7 8-10 8-5 8 2 8-7 8-8 8-1 8 2 8-2 8-4 8-10 8-13 8 7 2-1 2-1 2-3 2-3 2-1 2-2 2-2 2-1 2-3 2-2 2-1 2-2 2 1 2 0 2 1 2 1 2-1 2 0 2-3 2-3 2-4 2-5 2-4 2-4 2-3 2-2 2-1 2-1 2-2 2-1 2-2 2-2 2-4 2-4 2-5 2-5 2-4 2-5 2-2 2-2 2-2 2-2 2-3 2-4 2-4 2-5 2-5 2-5 2-6 2-7 2-7 2-8 2-7 2-8 2-8 2-9 2-8 2-8 2-9 2-9 2-8 2-10 2-11 2-13 2-15 2-16 2-18 2-20 2-17 2-15 2-17 2-18 2-18 2-21 2-22 2-24 2-27 2-30 2-31 2-34 2-35 2-39 2-44 2-48 2-12 2 0 2 0 2 0 2 0 2 0 2 0 2 0 2 0 2 0 2 0 2 0 2 0 2 0 2 0 2 0 2 0 2 0 2 0 2 0 2 0 2 0 2 0 2 0 2 0 2 0 2 0 2 0 2 0 2 0 2 0 2 0 2 77 2 84 2 71 2 58 2 49 2 42 2 34 2 30 2 25 2 21 2 21 2 22 2 21 2 18 2 16 2 14 2 12 2 12 2 11 2 11 2 10 2 9 2 7 2 9 2 6 2 6 2 5 2 3 2 5 2 4 2 5 2 4 2 3 2 3 2 2 2 1 2 1 2 1 2 1 2 1 2 2 2 1 2 0 2 0 2-1 2-2 2-1 2-1 2 2 2 1 2 2 2 3 2 3 2 2 2 2 2 1 2 2 2 1 2 1 2 2 2 1 2 1 2 0 2 0 2-1 2-1 2-2 2-1 2-1 2 0 2 1 2 1 2 2 2 3 2 2 2 2 2 1 2 2 2-1 2-1 2-1 2-1 2 1 2 1 8 2 8 1 8-1 8-9 8 3 8 2 8 3 8 4 8 0 8-3 8 4 8-1 8-4 8 4 8-3 8-4 8 2 8 3 8 0 8 8 8-1 8-13 8-2 8 7 8 3"/><path d="M160 2006l8 0 8-4 8 0 8 1 8 0 8-4 8 0 8 4 8-3 8-1 8-1 8-9 8 0 8 3 8-4 8 1 8-2 8 8 8 0 8-8 8 8 8 2 8 0 8-3 8-7 8-2 8-11 8 5 8 6 8-3 8-7 8-7 8 9 8 2 8 7 8-9 8 0 8 0 8 2 8 2 8-12 8 3 8-2 8-8 8-2 8-5 8-4 8 7 8-2 8-1 8 4 8 3 8-8 8 0 8 2 8-15 8-1 8 5 8 0 8-4 8 1 8-5 8 1 8 2 8 2 8-4 8-5 8 6 8-3 8-3 8 0 8 2 8-10 8 6 8-2 8 0 8-1 8 1 8 2 8 3 8-5 8-7 8-5 8 4 8 1 8-1 8-3 8-7 8 0 8 7 8 4 8-6 8-9 8 0 8-2 8-2 8-5 8 4 8-4 8 0 8 4 8 2 8 0 8-8 8-5 8 5 8-8 8-3 8-4 8 1 8-4 8 6 8 4 8-2 8-8 8-1 8 0 8 0 8-1 8-8 8 3 8-2 8-9 8 0 8-3 8 3 8-7 8-14 8 1 8-4 8 4 8-2 8-1 8-4 8 0 8 7 8 0 8-15 8-13 8-3 8-1 8 1 8-2 8-8 8-9 2-2 2-2 2-1 2-2 2-1 2-1 2-1 2-1 2-1 2 0 2-2 2-1 2-2 2-3 2-3 2-2 2-2 2-1 2-2 2-2 2-1 2-2 2-1 2-1 2-1 2-2 2-3 2-4 2-3 2-4 2-3 2-2 2-2 2-3 2-2 2-3 2-3 2-4 2-4 2-5 2-5 2-6 2-4 2-5 2-3 2-3 2-3 2-4 2-5 2-5 2-7 2-6 2-8 2-8 2-8 2-9 2-8 2-8 2-8 2-8 2-12 2-13 2-15 2-16 2-16 2-17 2-18 2-19 2-16 2-16 2-15 2-17 2-17 2-19 2-22 2-24 2-26 2-30 2-31 2-35 2-37 2-42 2-47 2-52 2-12 2 0 2 0 2 0 2 0 2 0 2 0 2 0 2 0 2 0 2 0 2 0 2 0 2 0 2 0 2 0 2 0 2 0 2 0 2 0 2 0 2 0 2 0 2 0 2 0 2 0 2 0 2 0 2 0 2 0 2 0 2 0 2 111 2 86 2 71 2 59 2 47 2 41 2 33 2 29 2 26 2 22 2 22 2 22 2 19 2 18 2 14 2 12 2 11 2 10 2 10 2 8 2 9 2 7 2 8 2 10 2 9 2 8 2 5 2 5 2 3 2 2 2 3 2 2 2 2 2 3 2 3 2 3 2 2 2 3 2 3 2 3 2 3 2 3 2 1 2 2 2 1 2 1 2 2 2 2 2 2 2 1 2-1 2-1 2 0 2 0 2 3 2 3 2 2 2 2 2 0 2-1 2-1 2-1 2-1 2-1 2-1 2 0 2 2 2 2 2 4 2 3 2 2 2 2 2 1 2 0 2-1 2-1 2-2 2-2 2-3 2-2 2-2 2-1 2 1 2 0 8 5 8 7 8-3 8-1 8 4 8-1 8 4 8-8 8 3 8 1 8 1 8-2 8 1 8-11 8-1 8 3 8 1 8-2 8 8 8 5 8-1 8-5 8 0 8 0 8-1"/><path d="M160 2031l8 5 8 0 8-7 8 4 8 3 8-6 8 0 8-5 8-5 8 1 8 8 8 0 8-12 8 2 8 1 8-5 8-1 8-1 8 5 8 0 8-1 8-1 8-6 8 6 8-2 8 3 8 0 8-1 8-10 8 0 8-1 8 3 8-1 8-2 8 3 8-9 8 1 8 2 8-2 8-6 8 2 8-5 8 0 8 6 8-4 8-5 8 2 8-12 8 7 8 5 8-2 8-6 8-2 8 4 8-2 8 2 8-7 8-5 8 9 8-2 8-12 8 4 8 5 8-3 8-12 8-2 8 2 8 8 8-1 8-1 8-4 8 0 8 2 8 7 8-5 8-8 8-3 8 3 8 6 8-3 8-4 8-7 8 3 8-13 8 0 8-2 8 2 8 2 8-2 8 3 8-4 8-2 8-1 8 1 8 0 8-2 8 5 8 1 8-6 8-2 8-5 8-3 8 3 8 8 8-14 8-3 8 0 8 1 8-5 8-4 8 0 8-3 8 5 8-3 8 0 8-6 8-3 8-3 8 0 8 2 8-13 8-5 8 0 8 1 8-1 8-5 8 0 8 0 8-4 8-1 8-3 8-7 8-14 8-1 8 3 8 8 8-2 8 1 8-13 8-10 8 1 8-9 8-8 8-9 8 1 2-1 2 0 2-2 2-2 2-2 2-1 2 0 2 0 2 0 2 1 2-2 2-1 2-3 2-3 2-4 2-4 2-3 2-3 2-3 2-3 2-2 2-3 2-2 2-3 2-2 2-3 2-3 2-4 2-3 2-4 2-2 2-3 2-3 2-3 2-6 2-5 2-6 2-5 2-6 2-5 2-4 2-4 2-2 2-2 2-3 2-3 2-4 2-5 2-5 2-6 2-5 2-5 2-5 2-6 2-8 2-8 2-6 2-8 2-8 2-9 2-9 2-11 2-12 2-13 2-16 2-16 2-19 2-20 2-16 2-16 2-15 2-16 2-18 2-19 2-22 2-25 2-27 2-29 2-33 2-35 2-37 2-41 2-45 2-50 2-36 2 0 2 0 2 0 2 0 2 0 2 0 2 0 2 0 2 0 2 0 2 0 2 0 2 0 2 0 2 0 2 0 2 0 2 0 2 0 2 0 2 0 2 0 2 0 2 0 2 0 2 0 2 0 2 0 2 0 2 0 2 36 2 112 2 83 2 69 2 57 2 49 2 41 2 36 2 31 2 25 2 23 2 18 2 18 2 16 2 14 2 13 2 11 2 12 2 11 2 11 2 11 2 10 2 9 2 7 2 9 2 8 2 7 2 5 2 5 2 4 2 4 2 3 2 3 2 2 2 2 2 1 2 1 2 0 2 0 2 1 2 1 2 3 2 3 2 4 2 3 2 4 2 4 2 4 2 3 2 4 2 3 2 0 2 1 2-2 2-1 2 1 2 1 2 1 2 0 2-1 2-1 2-2 2-2 2 0 2 0 2 2 2 2 2 1 2 2 2-1 2-1 2 0 2 0 2 2 2 1 2 1 2 1 2 0 2 0 2 0 2 0 2 1 2 1 2 2 2 2 8 3 8-11 8-2 8 3 8 0 8 3 8 4 8-6 8-3 8 1 8 3 8 0 8-3 8 1 8 1 8-4 8 0 8 0 8 0 8 4 8 0 8 1 8 9 8-7 8 2"/><path d="M160 2063l8 2 8-13 8 4 8 9 8-1 8 3 8-5 8-4 8-4 8 0 8 3 8-1 8-3 8 0 8-5 8-4 8-3 8 2 8-1 8 0 8 2 8-8 8 3 8 7 8-4 8-7 8 3 8-4 8 5 8 7 8-1 8-9 8-7 8-5 8 5 8-1 8 1 8-1 8-1 8-1 8 3 8-3 8 2 8 2 8-11 8 4 8-3 8-6 8-4 8 5 8 6 8-3 8-11 8 0 8-1 8-2 8-1 8 4 8-1 8-7 8-1 8 7 8-6 8-9 8 2 8-3 8 10 8-2 8-8 8-3 8 1 8-5 8 4 8 5 8 3 8 1 8-9 8-5 8-4 8 1 8-3 8 3 8-6 8-1 8 11 8 0 8-12 8 4 8 2 8 4 8-7 8-6 8-4 8 2 8-6 8-10 8 4 8 10 8-1 8-6 8 6 8-5 8-10 8 1 8 1 8-2 8 5 8-3 8 1 8-3 8-5 8-2 8-6 8-3 8 1 8-3 8-4 8-5 8 1 8 1 8-3 8 1 8-8 8-3 8 0 8-6 8 2 8-2 8 1 8-5 8-1 8-4 8-7 8-5 8-1 8-2 8-6 8-13 8-6 8 5 8-6 8-4 8 2 8-15 8-5 2-2 2-1 2-2 2-2 2 0 2-1 2 0 2-1 2-2 2-2 2-3 2-3 2-3 2-4 2-3 2-3 2-3 2-3 2-2 2-2 2-2 2-2 2-3 2-2 2-2 2-1 2 0 2 0 2-1 2-2 2-4 2-3 2-3 2-4 2-3 2-3 2-5 2-4 2-6 2-6 2-7 2-6 2-6 2-5 2-5 2-5 2-5 2-6 2-6 2-7 2-8 2-8 2-7 2-7 2-5 2-6 2-8 2-8 2-10 2-10 2-11 2-11 2-12 2-12 2-13 2-13 2-14 2-15 2-15 2-16 2-18 2-19 2-20 2-21 2-23 2-24 2-28 2-30 2-32 2-35 2-38 2-41 2-47 2-53 2-37 2 0 2 0 2 0 2 0 2 0 2 0 2 0 2 0 2 0 2 0 2 0 2 0 2 0 2 0 2 0 2 0 2 0 2 0 2 0 2 0 2 0 2 0 2 0 2 0 2 0 2 0 2 0 2 0 2 0 2 0 2 61 2 115 2 87 2 70 2 59 2 47 2 39 2 32 2 27 2 25 2 21 2 21 2 20 2 17 2 16 2 13 2 12 2 11 2 10 2 9 2 8 2 7 2 6 2 5 2 9 2 10 2 8 2 8 2 7 2 6 2 5 2 6 2 5 2 6 2 4 2 4 2 3 2 1 2 2 2 1 2 2 2 3 2 2 2 3 2 2 2 1 2 0 2-1 2-1 2-2 2-2 2 0 2 0 2 0 2 0 2 1 2 1 2 2 2 2 2 2 2 1 2 1 2 1 2 1 2 2 2 0 2 1 2 0 2 1 2 0 2 0 2 0 2 0 2-1 2 0 2-2 2-2 2 0 2 0 2 1 2 2 2-1 2 0 2 0 2 0 8 3 8-8 8 2 8 5 8-2 8 2 8 0 8 5 8 9 8-2 8-15 8 8 8 4 8 1 8-2 8-1 8-6 8-1 8 15 8 4 8-1 8-5 8-12 8-1 8 4"/><path d="M160 2084l8 0 8 6 8 2 8-10 8 3 8 4 8-2 8 3 8-11 8 6 8 0 8-11 8-2 8 8 8-8 8 5 8-3 8-5 8 7 8 1 8-6 8-3 8 8 8-4 8-3 8 3 8 1 8 0 8-2 8 7 8-2 8-9 8-1 8 1 8-4 8-6 8 5 8 1 8-1 8-5 8-3 8-6 8 4 8-1 8 7 8 1 8-5 8-3 8-8 8-5 8 4 8 6 8-2 8-5 8 0 8-5 8 2 8-2 8-9 8 4 8 5 8-4 8-1 8-6 8 1 8 0 8 1 8-8 8-4 8 7 8 0 8-3 8-9 8-3 8 2 8 2 8-1 8 0 8 11 8-8 8-6 8-3 8-1 8-7 8 0 8 8 8-7 8 1 8-2 8-3 8 7 8-2 8-3 8 0 8-3 8-7 8-6 8 4 8 3 8 3 8-3 8-3 8-7 8 4 8-3 8 5 8-1 8 2 8 1 8-6 8-2 8 0 8-11 8-8 8-1 8 0 8-2 8-1 8 3 8-4 8-3 8-4 8-4 8-4 8 0 8 0 8-4 8 2 8-5 8-1 8-7 8-5 8 4 8-5 8-4 8-5 8-5 8-12 8-8 8 0 8-9 8-2 8-1 8-9 8-11 2-1 2-1 2-2 2-3 2-4 2-4 2-3 2-4 2-1 2-2 2-1 2-2 2-2 2-3 2-4 2-3 2-4 2-3 2-3 2-2 2-2 2-1 2-1 2-1 2-1 2-2 2-2 2-3 2-4 2-4 2-6 2-5 2-5 2-6 2-5 2-5 2-4 2-5 2-3 2-2 2-2 2-3 2-4 2-4 2-5 2-6 2-6 2-6 2-6 2-6 2-5 2-6 2-5 2-5 2-7 2-6 2-7 2-8 2-7 2-9 2-9 2-10 2-12 2-13 2-14 2-15 2-15 2-17 2-16 2-17 2-17 2-19 2-19 2-20 2-22 2-25 2-28 2-30 2-35 2-38 2-39 2-43 2-48 2-54 2-43 2 0 2 0 2 0 2 0 2 0 2 0 2 0 2 0 2 0 2 0 2 0 2 0 2 0 2 0 2 0 2 0 2 0 2 0 2 0 2 0 2 0 2 0 2 0 2 0 2 0 2 0 2 0 2 0 2 0 2 0 2 91 2 113 2 84 2 70 2 57 2 48 2 41 2 36 2 31 2 28 2 25 2 21 2 20 2 13 2 12 2 9 2 8 2 9 2 7 2 10 2 8 2 8 2 8 2 5 2 8 2 7 2 6 2 7 2 7 2 9 2 8 2 7 2 6 2 4 2 4 2 2 2 1 2 1 2 1 2 0 2 1 2 1 2 1 2 3 2 2 2 2 2 3 2 1 2 2 2 1 2 1 2 1 2 1 2 1 2 1 2 1 2 1 2 0 2 0 2-1 2 0 2 0 2 0 2 1 2 1 2 1 2 1 2 2 2 2 2 3 2 3 2 1 2 2 2-1 2 0 2-2 2-2 2-2 2-2 2 0 2-1 2 1 2 2 2 2 2 2 8 1 8-1 8 1 8-5 8-1 8 8 8 4 8-6 8 4 8 4 8-4 8-5 8-2 8 5 8-3 8-2 8 4 8-5 8 9 8 0 8-8 8 6 8 2 8-7 8 4"/><path d="M160 2105l8 3 8 10 8-7 8-3 8 0 8 5 8-2 8-4 8 4 8 1 8-1 8-5 8-1 8-7 8 5 8 6 8-11 8-1 8-2 8 6 8 4 8-6 8 0 8 2 8-2 8-3 8 11 8-2 8-7 8 1 8-1 8-9 8-4 8 13 8-3 8-4 8-8 8 3 8-3 8 5 8 7 8-12 8-5 8 4 8 6 8 3 8-14 8-7 8 1 8 2 8-3 8 1 8 3 8-1 8-1 8-4 8-3 8-10 8 1 8 4 8-7 8-1 8 7 8 1 8-9 8-6 8 5 8-4 8-8 8 5 8 4 8-3 8-2 8 2 8-3 8-3 8 0 8 1 8 7 8-5 8-12 8-2 8-2 8 1 8 0 8 2 8 3 8-3 8-5 8 3 8 4 8-4 8-2 8 0 8-3 8 1 8-5 8-4 8-7 8 1 8 6 8-2 8-1 8-10 8 2 8 1 8-1 8 4 8-7 8 0 8 2 8-3 8-3 8-3 8-4 8-5 8 0 8 1 8 6 8-1 8-13 8-1 8 3 8-8 8-6 8-3 8-1 8-5 8-3 8-2 8-4 8 1 8-8 8-4 8-2 8-8 8-15 8 1 8-2 8-14 8-6 8-8 8-10 8-6 8 0 2-1 2-1 2-3 2-3 2-4 2-4 2-4 2-3 2-4 2-3 2-4 2-3 2-4 2-4 2-4 2-4 2-2 2-2 2-2 2-2 2-2 2-3 2-4 2-4 2-4 2-4 2-3 2-3 2-1 2-2 2-2 2-2 2-4 2-4 2-5 2-4 2-4 2-4 2-3 2-3 2-4 2-4 2-3 2-4 2-4 2-3 2-3 2-4 2-4 2-5 2-7 2-6 2-8 2-7 2-9 2-9 2-10 2-10 2-10 2-9 2-8 2-9 2-8 2-8 2-9 2-9 2-11 2-11 2-14 2-16 2-19 2-20 2-21 2-24 2-25 2-28 2-31 2-34 2-37 2-40 2-39 2-43 2-46 2-52 2-54 2 0 2 0 2 0 2 0 2 0 2 0 2 0 2 0 2 0 2 0 2 0 2 0 2 0 2 0 2 0 2 0 2 0 2 0 2 0 2 0 2 0 2 0 2 0 2 0 2 0 2 0 2 0 2 0 2 0 2 0 2 120 2 112 2 83 2 68 2 56 2 46 2 39 2 33 2 29 2 26 2 22 2 20 2 18 2 17 2 15 2 13 2 12 2 12 2 11 2 10 2 10 2 7 2 7 2 7 2 10 2 9 2 8 2 6 2 4 2 4 2 3 2 4 2 5 2 6 2 6 2 4 2 4 2 2 2 3 2 1 2 2 2 2 2 1 2 1 2 1 2 2 2 1 2 3 2 3 2 3 2 2 2-1 2-1 2-2 2-2 2 0 2 1 2 2 2 2 2 1 2 2 2 0 2 1 2 1 2 1 2 2 2 2 2 1 2 0 2 1 2 0 2 1 2 2 2 1 2 0 2-1 2-1 2-2 2-2 2 0 2-1 2 1 2 1 2 1 2 2 8-1 8-4 8-2 8 8 8 2 8-4 8 11 8-8 8-10 8 10 8-4 8-5 8 3 8 6 8 3 8-4 8 12 8 1 8-4 8-7 8-3 8 3 8 0 8-1 8-1" stroke="#12b856" stroke-width="12.8"/><path d="M160 2136l8 5 8-1 8 6 8-2 8-3 8 0 8-5 8 4 8-6 8-3 8 2 8-4 8 7 8-4 8 0 8-1 8-2 8 1 8 2 8 4 8-2 8-8 8-2 8 3 8 9 8 1 8-10 8-9 8 1 8 8 8-1 8-13 8 2 8 1 8-2 8 4 8 6 8-5 8-7 8 1 8-3 8-5 8-3 8 2 8-5 8-2 8 0 8-4 8 6 8-3 8 2 8-4 8-1 8-4 8-1 8-5 8 3 8-2 8-2 8-2 8-1 8 2 8 3 8-5 8 4 8-8 8-3 8-5 8 13 8-2 8-3 8 0 8-3 8-7 8 2 8-8 8 2 8 1 8 3 8-2 8-4 8 1 8-2 8-6 8 9 8-1 8-9 8-4 8 1 8 3 8 1 8-6 8 1 8 3 8 1 8-9 8-2 8-1 8-3 8 1 8 1 8-3 8 1 8 2 8-3 8-5 8 0 8 3 8 3 8-10 8 3 8 2 8-15 8 1 8-7 8-6 8 2 8-4 8-3 8 5 8 0 8-4 8-1 8-1 8 0 8-10 8 0 8 1 8-5 8-3 8-6 8-9 8 2 8-5 8-7 8-3 8-1 8-14 8-14 8-5 8-2 8-4 8-9 8-3 8-5 2-1 2-1 2 0 2 0 2 0 2-1 2-3 2-4 2-5 2-6 2-6 2-5 2-5 2-4 2-3 2-2 2-2 2-2 2-3 2-2 2-3 2-3 2-5 2-4 2-4 2-4 2-3 2-3 2-3 2-3 2-6 2-5 2-7 2-7 2-6 2-7 2-6 2-6 2-4 2-3 2-4 2-3 2-5 2-6 2-7 2-7 2-6 2-6 2-6 2-6 2-7 2-7 2-7 2-7 2-7 2-8 2-8 2-8 2-10 2-10 2-13 2-13 2-13 2-14 2-11 2-11 2-11 2-12 2-14 2-16 2-18 2-20 2-21 2-22 2-24 2-26 2-28 2-32 2-32 2-36 2-38 2-41 2-48 2-54 2-46 2 0 2 0 2 0 2 0 2 0 2 0 2 0 2 0 2 0 2 0 2 0 2 0 2 0 2 0 2 0 2 0 2 0 2 0 2 0 2 0 2 0 2 0 2 0 2 0 2 0 2 0 2 0 2 0 2 0 2 6 2 142 2 112 2 83 2 68 2 56 2 49 2 41 2 36 2 31 2 25 2 22 2 17 2 15 2 14 2 13 2 14 2 12 2 12 2 12 2 10 2 10 2 6 2 6 2 3 2 7 2 8 2 6 2 8 2 6 2 7 2 5 2 5 2 5 2 3 2 2 2 3 2 2 2 4 2 5 2 3 2 4 2 0 2-1 2-1 2-1 2 2 2 2 2 5 2 4 2 4 2 4 2 2 2 2 2 0 2 0 2-1 2-1 2 0 2 1 2 0 2 1 2 1 2 0 2 2 2 1 2 2 2 2 2 2 2 1 2 0 2-1 2-1 2-2 2 0 2-1 2 0 2 0 2 0 2 0 2 1 2 1 2 2 2 1 2 0 2 0 8-3 8 10 8 3 8 6 8-4 8-2 8-1 8-2 8-2 8 0 8-4 8 1 8-2 8 11 8-1 8-5 8 8 8 4 8-11 8-3 8 3 8-1 8-1 8 2 8-3"/><path d="M160 2172l8 2 8-7 8 3 8 0 8-1 8 1 8-2 8 0 8-7 8-7 8 4 8 2 8 2 8-9 8 5 8 7 8 3 8-11 8-2 8 2 8-3 8 5 8 3 8-6 8-2 8 1 8-7 8 2 8 2 8 0 8 6 8-6 8 0 8 2 8-8 8-8 8-6 8-4 8-3 8 9 8 8 8-5 8-5 8-1 8 12 8-2 8-7 8-6 8-5 8 0 8-2 8-3 8 0 8-5 8 7 8 7 8-1 8-7 8 1 8-4 8-2 8 0 8 3 8-6 8-4 8 3 8 0 8-7 8-9 8 8 8 1 8-7 8-5 8 6 8 6 8-5 8-12 8-2 8 5 8-2 8-3 8-4 8 2 8-2 8 9 8-1 8-6 8 5 8-6 8-2 8 0 8 3 8 1 8-10 8-11 8 7 8-9 8-2 8 0 8 6 8 5 8-11 8-2 8 3 8-4 8-3 8 4 8-10 8-1 8 3 8 0 8-5 8 0 8 0 8-8 8-7 8 10 8 1 8-9 8 7 8-1 8-9 8-11 8-5 8-8 8 9 8 2 8-8 8-1 8-4 8-9 8 6 8-2 8-13 8-3 8 2 8-8 8-2 8-7 8-12 8 0 8-10 8-8 8-9 8-9 2-3 2-4 2-2 2-2 2 0 2 0 2 1 2 1 2-2 2-1 2-3 2-3 2-4 2-3 2-5 2-4 2-5 2-5 2-3 2-4 2-2 2-3 2-3 2-4 2-5 2-4 2-5 2-6 2-4 2-4 2-3 2-4 2-2 2-2 2-3 2-4 2-5 2-5 2-6 2-6 2-5 2-6 2-6 2-6 2-5 2-6 2-7 2-6 2-6 2-6 2-6 2-6 2-7 2-8 2-8 2-8 2-9 2-8 2-8 2-9 2-10 2-10 2-11 2-12 2-13 2-13 2-12 2-14 2-14 2-17 2-19 2-20 2-22 2-24 2-24 2-26 2-27 2-30 2-34 2-36 2-40 2-43 2-48 2-52 2-59 2-20 2 0 2 0 2 0 2 0 2 0 2 0 2 0 2 0 2 0 2 0 2 0 2 0 2 0 2 0 2 0 2 0 2 0 2 0 2 0 2 0 2 0 2 0 2 0 2 0 2 0 2 0 2 0 2 0 2 36 2 139 2 108 2 81 2 65 2 54 2 47 2 40 2 37 2 32 2 28 2 25 2 22 2 20 2 15 2 14 2 10 2 9 2 11 2 9 2 12 2 11 2 11 2 10 2 6 2 9 2 7 2 6 2 7 2 6 2 5 2 5 2 3 2 3 2 4 2 3 2 4 2 3 2 2 2 3 2 2 2 3 2 3 2 3 2 2 2 1 2 2 2 2 2 3 2 4 2 2 2 3 2 1 2 1 2 0 2 0 2 0 2 0 2 0 2-1 2-1 2-1 2-1 2-1 2 0 2-1 2 1 2 0 2 1 2 1 2 2 2 2 2 2 2 1 2 1 2 1 2 1 2 2 2 1 2 1 2 1 2 0 2 0 2 0 2 1 2 1 8-3 8-3 8-1 8 2 8 5 8 1 8-2 8-6 8 3 8 4 8 1 8-1 8 2 8-4 8-2 8-8 8-4 8 11 8-3 8 0 8-2 8 2 8 5 8 7 8 1"/><path d="M160 2197l8 2 8-5 8-5 8 2 8 5 8-1 8-5 8 0 8-1 8 1 8 4 8 4 8-5 8-8 8 1 8 4 8-3 8-2 8-6 8 8 8 1 8 2 8-2 8 0 8-6 8-8 8 1 8 4 8-4 8-1 8-4 8 5 8-11 8 7 8 0 8-6 8 1 8 4 8-5 8-9 8 3 8-2 8-5 8 3 8-4 8 0 8 2 8 2 8-4 8-2 8-3 8-5 8-1 8 10 8-5 8-4 8 0 8 1 8 2 8-3 8-7 8-1 8 2 8-1 8 3 8-4 8 0 8-8 8-4 8 5 8 1 8-1 8-11 8 2 8 5 8-10 8-1 8 1 8-1 8 7 8 0 8-7 8-1 8 7 8-1 8 1 8-8 8-8 8 3 8 3 8-1 8-7 8-7 8-2 8-3 8 1 8 0 8-2 8-8 8 7 8-2 8-3 8 5 8-8 8-1 8 1 8-3 8-1 8-4 8 9 8-1 8-11 8-1 8 2 8-2 8-6 8-1 8-7 8-3 8-1 8 4 8-1 8 1 8-10 8-5 8-4 8-4 8 0 8-2 8-3 8 0 8 1 8-6 8-4 8-10 8 2 8-8 8-13 8 0 8 7 8-5 8-21 8-7 8-1 8-13 2-3 2-3 2-1 2-2 2-1 2-2 2-2 2-2 2-2 2-3 2-1 2-3 2-2 2-4 2-4 2-4 2-4 2-4 2-2 2-3 2-2 2-3 2-5 2-5 2-5 2-4 2-4 2-3 2-3 2-3 2-2 2-3 2-3 2-4 2-5 2-5 2-6 2-7 2-5 2-6 2-5 2-5 2-5 2-6 2-7 2-7 2-7 2-8 2-6 2-6 2-5 2-6 2-6 2-7 2-9 2-8 2-9 2-9 2-7 2-8 2-8 2-9 2-9 2-10 2-12 2-12 2-14 2-15 2-14 2-17 2-18 2-18 2-21 2-22 2-25 2-27 2-30 2-33 2-34 2-36 2-37 2-41 2-47 2-52 2-58 2-55 2 0 2 0 2 0 2 0 2 0 2 0 2 0 2 0 2 0 2 0 2 0 2 0 2 0 2 0 2 0 2 0 2 0 2 0 2 0 2 0 2 0 2 0 2 0 2 0 2 0 2 0 2 0 2 0 2 65 2 143 2 110 2 82 2 65 2 54 2 46 2 39 2 35 2 30 2 27 2 24 2 22 2 20 2 17 2 16 2 12 2 11 2 10 2 9 2 8 2 8 2 7 2 7 2 7 2 10 2 9 2 8 2 8 2 7 2 6 2 6 2 4 2 3 2 3 2 3 2 3 2 3 2 2 2 2 2 1 2 1 2 2 2 1 2 3 2 2 2 1 2 1 2 0 2 1 2 2 2 1 2 3 2 2 2 2 2 2 2 2 2 2 2 3 2 3 2 0 2 1 2-1 2-1 2-2 2-1 2 0 2-1 2 0 2 0 2 1 2 1 2 0 2 1 2 0 2 0 2 2 2 1 2 2 2 2 2 0 2-1 2-1 2-2 2-1 2-1 8 5 8 3 8-5 8 3 8 2 8-1 8 4 8-2 8-4 8 0 8 3 8-4 8 2 8 4 8 1 8-7 8-8 8 6 8 11 8 4 8-9 8 1 8 2 8-1 8-1"/><path d="M160 2221l8-4 8-2 8 6 8 7 8-3 8-1 8-2 8-5 8 1 8 1 8 0 8-9 8-7 8 9 8 6 8-8 8 3 8 4 8 3 8-6 8 0 8-1 8-5 8 5 8-8 8-6 8 6 8 4 8-5 8-3 8 2 8 0 8-1 8-2 8-4 8 0 8 1 8 0 8-1 8-1 8-13 8 5 8 9 8-2 8-6 8-5 8-1 8 3 8-3 8-13 8-6 8 12 8 5 8 7 8-4 8-10 8 3 8-3 8-5 8-1 8 10 8-11 8-13 8-1 8 6 8-3 8 10 8-5 8-2 8-2 8-1 8-4 8-7 8 7 8-1 8-4 8 5 8-4 8-4 8-3 8 4 8-7 8-5 8 7 8 2 8-3 8-6 8 1 8-4 8-9 8 3 8 1 8 1 8-2 8-8 8-5 8 1 8-1 8-3 8-1 8 2 8-3 8 6 8-4 8-3 8 7 8 5 8-12 8-4 8-9 8-1 8 2 8 0 8 3 8-1 8-11 8-10 8 3 8 4 8-4 8-4 8-8 8 5 8 0 8-11 8-5 8 2 8 2 8 2 8-2 8-3 8-1 8-9 8-6 8 1 8-7 8 3 8-10 8-6 8-9 8-4 8-6 8-3 8-9 8-9 2-3 2-3 2-2 2-1 2 0 2 0 2-1 2-1 2-3 2-3 2-4 2-4 2-4 2-4 2-4 2-3 2-4 2-4 2-5 2-5 2-4 2-3 2-2 2-2 2-2 2-3 2-4 2-5 2-5 2-5 2-4 2-4 2-4 2-5 2-6 2-7 2-8 2-8 2-7 2-6 2-4 2-4 2-4 2-4 2-3 2-3 2-4 2-4 2-5 2-6 2-7 2-7 2-6 2-6 2-5 2-6 2-7 2-7 2-10 2-10 2-11 2-12 2-12 2-12 2-10 2-12 2-11 2-11 2-13 2-15 2-17 2-18 2-20 2-22 2-24 2-26 2-29 2-33 2-36 2-37 2-39 2-43 2-47 2-54 2-59 2-66 2-26 2 0 2 0 2 0 2 0 2 0 2 0 2 0 2 0 2 0 2 0 2 0 2 0 2 0 2 0 2 0 2 0 2 0 2 0 2 0 2 0 2 0 2 0 2 0 2 0 2 0 2 0 2 0 2 93 2 143 2 111 2 83 2 69 2 57 2 47 2 40 2 34 2 30 2 25 2 23 2 20 2 18 2 17 2 15 2 13 2 12 2 9 2 7 2 6 2 5 2 6 2 4 2 6 2 8 2 9 2 8 2 9 2 8 2 7 2 7 2 6 2 5 2 4 2 5 2 3 2 4 2 3 2 4 2 2 2 3 2 1 2 0 2 0 2 0 2 2 2 1 2 3 2 3 2 3 2 2 2 0 2 0 2-2 2-2 2-2 2-2 2 0 2 0 2 3 2 2 2 3 2 4 2 3 2 3 2 2 2 2 2-1 2 0 2-1 2-2 2-1 2-2 2 0 2 0 2 1 2 0 2 2 2 1 2 2 2 1 2 0 2 0 2-1 2-1 8-5 8 9 8 0 8-3 8 0 8 6 8 3 8-3 8 6 8-3 8-4 8-11 8 3 8 5 8 0 8 5 8 11 8-6 8-3 8 1 8-2 8-8 8-2 8 11 8-1"/><path d="M160 2250l8 1 8 0 8-1 8 1 8 1 8 0 8-14 8 6 8 2 8 2 8 7 8-11 8-6 8 1 8 2 8-6 8-11 8 3 8 6 8 4 8-8 8-2 8 5 8 2 8-2 8-2 8 5 8 2 8-5 8-11 8-4 8 4 8 5 8-3 8 4 8-4 8-2 8 0 8-1 8 1 8-1 8-2 8 0 8-4 8-1 8-5 8 4 8-3 8-5 8 1 8-3 8-1 8 2 8-2 8 0 8 3 8-8 8-4 8-2 8 7 8-8 8-7 8 8 8 1 8-7 8-4 8-1 8 11 8 11 8-14 8-8 8-1 8 0 8 5 8-4 8-6 8-4 8 2 8-3 8 0 8-3 8-3 8-2 8 2 8-1 8 1 8-3 8 0 8-2 8-3 8 1 8-2 8 1 8-7 8-6 8 1 8 1 8-1 8-1 8-4 8-2 8-4 8 3 8-1 8-6 8 0 8 0 8-1 8-2 8 0 8-2 8-1 8-9 8-5 8-4 8 1 8 3 8-4 8-2 8-11 8 3 8 1 8-10 8 0 8 0 8-1 8-4 8-2 8-2 8 3 8-5 8-6 8 3 8-3 8-1 8-7 8-3 8-8 8-5 8-2 8-10 8-9 8-2 8-9 8-8 2-1 2-1 2-2 2-2 2-2 2-3 2-2 2-1 2-1 2-1 2-3 2-3 2-5 2-6 2-5 2-5 2-3 2-3 2-3 2-2 2-3 2-3 2-5 2-5 2-6 2-6 2-4 2-6 2-4 2-4 2-5 2-4 2-4 2-3 2-3 2-3 2-3 2-4 2-5 2-5 2-6 2-6 2-6 2-5 2-6 2-6 2-6 2-6 2-4 2-4 2-4 2-4 2-7 2-6 2-8 2-9 2-8 2-8 2-7 2-8 2-7 2-8 2-9 2-9 2-10 2-11 2-12 2-14 2-15 2-18 2-19 2-19 2-21 2-22 2-24 2-25 2-27 2-31 2-32 2-33 2-38 2-40 2-48 2-52 2-59 2-66 2-71 2 0 2 0 2 0 2 0 2 0 2 0 2 0 2 0 2 0 2 0 2 0 2 0 2 0 2 0 2 0 2 0 2 0 2 0 2 0 2 0 2 0 2 0 2 0 2 0 2 0 2 0 2 0 2 123 2 138 2 109 2 81 2 68 2 57 2 48 2 42 2 35 2 30 2 25 2 22 2 20 2 17 2 16 2 15 2 13 2 11 2 10 2 9 2 9 2 7 2 8 2 7 2 6 2 10 2 7 2 7 2 6 2 5 2 7 2 5 2 8 2 6 2 6 2 6 2 3 2 3 2 2 2 1 2 1 2 2 2 2 2 3 2 2 2 2 2 2 2 1 2 3 2 2 2 3 2 2 2-1 2-1 2-3 2-2 2 0 2 0 2 1 2 2 2 1 2 0 2 2 2 2 2 3 2 3 2 1 2 2 2-1 2-2 2-1 2-1 2 0 2 0 2 0 2 1 2 0 2 1 2 0 2 0 2 0 2 0 2 1 2 1 2 0 2 0 8-1 8 1 8-5 8-4 8 10 8 6 8-2 8 4 8-8 8-5 8 16 8 0 8-5 8-6 8 6 8 2 8 1 8 5 8-6 8 3 8-1 8-6 8-1 8-5 8 3"/><path d="M160 2282l8-4 8-12 8 6 8 6 8 0 8-3 8-9 8 1 8 8 8-1 8 2 8-3 8-8 8 7 8-8 8 2 8-2 8 8 8-10 8 0 8 3 8 0 8 6 8-4 8-8 8-2 8-3 8 3 8 7 8-5 8-7 8-3 8-2 8 1 8 5 8-4 8 0 8 0 8-5 8-2 8 1 8 0 8-1 8-7 8-7 8 4 8 1 8-7 8 3 8 4 8-2 8-8 8 1 8 0 8 3 8-2 8 0 8 3 8-10 8 3 8 0 8-4 8 2 8-2 8-5 8-8 8 5 8 2 8-8 8 3 8 0 8-1 8 2 8 1 8-5 8-3 8-3 8-1 8-2 8-3 8 1 8 4 8-10 8-5 8 1 8-1 8-4 8 5 8-6 8-6 8-3 8 6 8 1 8 0 8-13 8-2 8 1 8-4 8 2 8-5 8 2 8-3 8-9 8 6 8-4 8 2 8 3 8-1 8-3 8 3 8 2 8-5 8-2 8-3 8-4 8-4 8-2 8-6 8-2 8-1 8-3 8 1 8-6 8 3 8-3 8-2 8 1 8-3 8-8 8 5 8-1 8-2 8-10 8-6 8-1 8 0 8 0 8-18 8-4 8-3 8 4 8-9 8-9 8 2 8-16 2-3 2-4 2-1 2-1 2-1 2 0 2-3 2-3 2-4 2-4 2-5 2-5 2-7 2-6 2-6 2-5 2-2 2-2 2-2 2-1 2-1 2-2 2-1 2-1 2-3 2-3 2-6 2-5 2-6 2-5 2-3 2-3 2-2 2-3 2-2 2-3 2-4 2-4 2-7 2-6 2-7 2-7 2-6 2-6 2-4 2-4 2-4 2-4 2-5 2-5 2-6 2-6 2-8 2-8 2-8 2-9 2-8 2-8 2-7 2-7 2-7 2-8 2-10 2-10 2-11 2-13 2-13 2-15 2-15 2-17 2-18 2-19 2-20 2-21 2-23 2-25 2-27 2-30 2-33 2-32 2-35 2-39 2-44 2-49 2-56 2-64 2-74 2-44 2 0 2 0 2 0 2 0 2 0 2 0 2 0 2 0 2 0 2 0 2 0 2 0 2 0 2 0 2 0 2 0 2 0 2 0 2 0 2 0 2 0 2 0 2 0 2 0 2 0 2 0 2 151 2 143 2 111 2 83 2 67 2 55 2 46 2 39 2 34 2 29 2 26 2 23 2 22 2 19 2 19 2 17 2 15 2 13 2 11 2 9 2 6 2 6 2 6 2 6 2 7 2 9 2 8 2 8 2 6 2 5 2 3 2 2 2 2 2 1 2 3 2 2 2 5 2 4 2 6 2 5 2 5 2 5 2 1 2 1 2-1 2-2 2 0 2 0 2 2 2 1 2 3 2 2 2 2 2 3 2 3 2 4 2 2 2 2 2-2 2-1 2-2 2-2 2 0 2 0 2 1 2 1 2-1 2-1 2 0 2-1 2 2 2 1 2 1 2 2 2 0 2 0 2 0 2 0 2 1 2 1 2 1 2 1 2 0 2 0 2-1 2 0 8 1 8 4 8 12 8 0 8-11 8-6 8 6 8 7 8 4 8-3 8-5 8 2 8 8 8-2 8-8 8-2 8 6 8-5 8 4 8-5 8-1 8 4 8 9 8-2 8-14"/><path d="M160 2302l8 6 8 2 8-10 8 3 8 2 8 2 8-6 8-8 8 2 8 4 8 0 8-6 8 0 8 4 8-4 8 1 8 3 8-4 8 3 8-5 8-2 8-2 8 8 8-8 8-6 8-1 8 0 8 8 8 0 8 0 8-8 8-4 8 4 8 6 8-7 8-4 8-2 8 1 8 2 8-2 8-7 8-2 8 5 8 0 8-2 8 0 8 7 8-8 8-5 8-5 8 4 8-7 8-5 8 4 8-9 8 1 8 0 8 1 8 4 8 1 8-1 8-4 8-10 8-1 8 0 8-3 8-3 8 3 8 7 8-5 8 5 8-6 8-9 8-9 8 2 8 3 8-4 8 3 8-3 8-2 8 6 8 3 8-10 8 0 8 1 8-5 8 0 8 1 8-5 8-4 8-2 8 0 8 1 8-5 8-3 8-1 8 4 8-2 8-11 8-8 8 0 8 7 8-3 8 6 8-9 8-7 8 0 8-2 8 6 8-2 8 1 8 1 8-4 8-5 8-1 8-6 8 3 8 0 8-10 8-5 8 2 8-7 8-1 8 6 8-4 8-14 8 7 8 2 8-5 8-8 8-2 8 3 8-3 8-1 8-4 8-6 8-3 8 2 8-10 8-5 8-2 8-6 8-5 8-8 8-12 2-2 2-2 2-2 2-1 2-1 2-1 2 0 2-1 2-4 2-4 2-7 2-7 2-6 2-7 2-5 2-4 2-3 2-4 2-4 2-5 2-5 2-5 2-4 2-4 2-2 2-2 2-3 2-2 2-3 2-4 2-5 2-6 2-6 2-5 2-3 2-3 2-2 2-3 2-3 2-4 2-5 2-4 2-4 2-4 2-5 2-5 2-7 2-8 2-7 2-7 2-5 2-5 2-3 2-3 2-3 2-2 2-5 2-5 2-7 2-8 2-12 2-11 2-13 2-13 2-12 2-12 2-12 2-12 2-14 2-16 2-17 2-19 2-19 2-21 2-22 2-25 2-27 2-30 2-35 2-34 2-39 2-42 2-46 2-50 2-56 2-64 2-70 2-71 2 0 2 0 2 0 2 0 2 0 2 0 2 0 2 0 2 0 2 0 2 0 2 0 2 0 2 0 2 0 2 0 2 0 2 0 2 0 2 0 2 0 2 0 2 0 2 0 2 0 2 0 2 176 2 140 2 110 2 84 2 68 2 57 2 47 2 41 2 35 2 30 2 24 2 22 2 19 2 17 2 17 2 15 2 16 2 14 2 12 2 11 2 9 2 8 2 9 2 8 2 8 2 11 2 8 2 7 2 3 2 3 2 1 2 1 2 2 2 2 2 5 2 5 2 7 2 6 2 5 2 5 2 3 2 2 2 0 2 0 2 0 2-1 2 0 2-1 2 0 2 0 2 4 2 3 2 4 2 4 2 2 2 2 2 1 2 1 2 2 2 2 2 1 2 2 2-1 2-2 2-2 2-3 2-2 2-1 2 0 2 1 2 2 2 2 2 1 2 1 2 2 2 1 2 2 2 2 2 2 2 2 2-1 2-1 2-1 2-2 2 0 2-1 8 2 8-2 8 3 8-3 8 1 8-1 8 4 8 1 8 7 8-4 8-6 8-2 8 3 8-4 8 2 8-1 8 3 8-2 8 0 8 1 8-1 8 3 8 0 8 7 8-4"/><path d="M160 2335l8 1 8-9 8 2 8 6 8-2 8 1 8-6 8-8 8 5 8-1 8-10 8 7 8 4 8-6 8-5 8 3 8-1 8-5 8 6 8-3 8 1 8 1 8-6 8-1 8 9 8 3 8-6 8-9 8 3 8-1 8 2 8-11 8 3 8 10 8-1 8-10 8-1 8 7 8-2 8-9 8 0 8-3 8-3 8-3 8 3 8 1 8-3 8 6 8-1 8-6 8-8 8-1 8 0 8 3 8-1 8-1 8-6 8 2 8-1 8-4 8 1 8-2 8-8 8 5 8 0 8 0 8-2 8-2 8 1 8-4 8-1 8 1 8-3 8-2 8-4 8 0 8-5 8-1 8-3 8 1 8-1 8 1 8 2 8-12 8 1 8 0 8-3 8 0 8-4 8-3 8 6 8 4 8-7 8-11 8-6 8 8 8-13 8-5 8-3 8 0 8 5 8 0 8 1 8-5 8-6 8 3 8-2 8-3 8 5 8-1 8-7 8-4 8-1 8 0 8-4 8 1 8 5 8-1 8-6 8-2 8-4 8-1 8-3 8 1 8-7 8-4 8-6 8-4 8 10 8-3 8 0 8 3 8-5 8-7 8-2 8-8 8-4 8-1 8-4 8 0 8-4 8-8 8-13 8-11 8-7 2 2 2 1 2 0 2 0 2-4 2-4 2-6 2-6 2-7 2-6 2-5 2-5 2-4 2-4 2-3 2-4 2-3 2-4 2-3 2-2 2-4 2-4 2-6 2-6 2-6 2-6 2-2 2-2 2 0 2 0 2-2 2-1 2-4 2-4 2-6 2-5 2-6 2-6 2-4 2-4 2-2 2-3 2-3 2-4 2-4 2-5 2-4 2-5 2-4 2-5 2-5 2-5 2-7 2-7 2-7 2-7 2-6 2-5 2-6 2-5 2-8 2-9 2-11 2-13 2-13 2-14 2-12 2-12 2-12 2-13 2-16 2-17 2-21 2-22 2-23 2-26 2-28 2-30 2-35 2-33 2-38 2-41 2-46 2-50 2-55 2-62 2-67 2-78 2-33 2 0 2 0 2 0 2 0 2 0 2 0 2 0 2 0 2 0 2 0 2 0 2 0 2 0 2 0 2 0 2 0 2 0 2 0 2 0 2 0 2 0 2 0 2 0 2 0 2 24 2 184 2 140 2 110 2 84 2 68 2 57 2 46 2 40 2 34 2 29 2 25 2 22 2 20 2 18 2 17 2 15 2 14 2 13 2 9 2 9 2 6 2 6 2 5 2 4 2 5 2 8 2 8 2 8 2 7 2 7 2 7 2 7 2 6 2 7 2 7 2 7 2 5 2 5 2 3 2 3 2 0 2 1 2 0 2 0 2 2 2 1 2 2 2 2 2 1 2 1 2 1 2 1 2 3 2 2 2 3 2 2 2 0 2 0 2-4 2-4 2-4 2-5 2 0 2-1 2 3 2 3 2 4 2 3 2 2 2 2 2 1 2 1 2 0 2 0 2 0 2-1 2 2 2 2 2 4 2 3 2 2 2 1 2-1 2-1 2-1 2-2 8 0 8 1 8-1 8-2 8 3 8-4 8-4 8 6 8 0 8 9 8 1 8-6 8-1 8 0 8 2 8-2 8 4 8 9 8-4 8 3 8-10 8 0 8 0 8 2 8 4"/><path d="M160 2365l8 6 8-4 8-3 8-2 8-3 8 4 8-4 8 2 8-1 8-4 8 0 8-4 8 7 8-4 8-3 8-7 8 5 8 4 8-6 8-4 8 1 8-1 8 5 8 1 8-5 8-4 8-7 8 10 8-5 8-6 8 4 8 3 8 0 8-4 8-2 8-2 8-3 8 6 8 5 8-9 8-7 8 3 8-1 8-7 8 5 8 1 8-7 8-2 8-7 8-3 8 8 8-1 8-1 8-7 8-8 8 0 8 8 8-1 8-10 8 1 8 6 8-3 8-3 8 0 8-7 8 15 8-6 8-7 8-3 8-3 8 4 8-8 8 3 8 1 8-3 8-3 8-2 8 2 8 1 8-5 8-11 8 4 8-4 8 2 8-8 8-3 8 1 8-3 8-2 8 6 8 1 8-6 8-8 8-11 8 1 8 6 8 4 8-16 8-1 8-6 8-1 8-2 8 7 8-2 8 1 8-9 8 4 8-2 8 0 8 3 8 1 8-3 8-8 8-4 8 0 8 0 8 1 8-5 8-2 8-4 8-1 8-3 8-5 8-5 8 4 8-5 8-7 8 2 8 6 8 0 8-5 8-7 8-6 8 3 8-2 8 1 8-2 8-7 8-1 8-3 8-6 8-12 8-9 8-13 8-11 2-4 2-4 2-4 2-3 2-2 2-2 2 0 2-1 2-2 2-3 2-5 2-6 2-8 2-8 2-7 2-7 2-5 2-4 2-2 2-2 2-1 2-2 2-3 2-4 2-4 2-3 2-3 2-2 2-3 2-2 2-4 2-4 2-4 2-3 2-3 2-3 2-3 2-3 2-2 2-1 2-1 2 0 2-2 2-1 2-5 2-5 2-7 2-6 2-6 2-5 2-3 2-3 2-5 2-5 2-9 2-8 2-9 2-10 2-10 2-9 2-8 2-8 2-7 2-8 2-10 2-10 2-11 2-12 2-14 2-16 2-17 2-19 2-17 2-19 2-19 2-22 2-26 2-28 2-35 2-34 2-37 2-40 2-46 2-50 2-55 2-62 2-68 2-79 2-79 2 0 2 0 2 0 2 0 2 0 2 0 2 0 2 0 2 0 2 0 2 0 2 0 2 0 2 0 2 0 2 0 2 0 2 0 2 0 2 0 2 0 2 0 2 0 2 0 2 60 2 182 2 140 2 107 2 82 2 66 2 54 2 46 2 39 2 33 2 29 2 25 2 21 2 20 2 18 2 17 2 15 2 14 2 12 2 11 2 10 2 11 2 10 2 10 2 10 2 8 2 10 2 7 2 7 2 6 2 5 2 5 2 4 2 4 2 3 2 2 2 2 2 0 2 1 2 1 2 0 2 2 2 1 2 3 2 2 2 2 2 2 2 3 2 3 2 3 2 3 2 2 2 3 2 2 2 3 2 2 2 2 2 1 2 2 2 0 2 0 2 0 2-1 2-1 2-1 2-1 2-1 2 0 2 1 2 2 2 1 2 1 2 1 2 2 2 1 2 0 2 1 2-1 2-1 2-1 2-1 2-1 2-2 2-1 2-1 2 0 2 1 8 5 8 3 8 7 8 3 8-3 8 1 8 1 8 1 8-1 8 1 8 2 8-4 8-3 8-4 8 4 8 4 8 0 8 5 8-5 8-1 8 2 8-1 8-2 8 8 8-2"/><path d="M160 2395l8-6 8 1 8-2 8-3 8-4 8 5 8-4 8-5 8 0 8 7 8-3 8-5 8 0 8-7 8-1 8 8 8 1 8 4 8-3 8-6 8-4 8-4 8 6 8-3 8 0 8-3 8 9 8 0 8-2 8-4 8-5 8 0 8-1 8 2 8 0 8-3 8 2 8-1 8-10 8-8 8 10 8-3 8-10 8-3 8 3 8-1 8 3 8-5 8 3 8 4 8 0 8-7 8 7 8-4 8-5 8-5 8 2 8 0 8 3 8 1 8-5 8-10 8-1 8 14 8-3 8-9 8-11 8 0 8 7 8-6 8-7 8 0 8 6 8-7 8-1 8-2 8-1 8 5 8-11 8 0 8 6 8-2 8-10 8-2 8-1 8 3 8-6 8-6 8 0 8 3 8-3 8-1 8-4 8-4 8-13 8 4 8-1 8-6 8 2 8 2 8-4 8 5 8-6 8-2 8-8 8 0 8 2 8 0 8-5 8 2 8-3 8 3 8 1 8-6 8-1 8-2 8-5 8-3 8-4 8 0 8 7 8-5 8-5 8-7 8-7 8 3 8-2 8 1 8-2 8 4 8-1 8-13 8-8 8 1 8 3 8 0 8-3 8-7 8-12 8-1 8-3 8-12 8-3 8-12 8-13 2-3 2-3 2-4 2-4 2-4 2-5 2-3 2-3 2-4 2-3 2-5 2-5 2-4 2-5 2-3 2-2 2-3 2-2 2-3 2-3 2-4 2-4 2-4 2-4 2-2 2-3 2-3 2-4 2-5 2-6 2-6 2-6 2-5 2-4 2-3 2-3 2 1 2 0 2 1 2 2 2-2 2-1 2-4 2-5 2-5 2-6 2-6 2-6 2-6 2-5 2-6 2-6 2-3 2-5 2-2 2-3 2-5 2-4 2-8 2-8 2-9 2-11 2-10 2-10 2-10 2-10 2-10 2-12 2-14 2-17 2-18 2-19 2-19 2-20 2-22 2-24 2-27 2-31 2-34 2-31 2-34 2-37 2-41 2-45 2-51 2-58 2-69 2-79 2-94 2-27 2 0 2 0 2 0 2 0 2 0 2 0 2 0 2 0 2 0 2 0 2 0 2 0 2 0 2 0 2 0 2 0 2 0 2 0 2 0 2 0 2 0 2 0 2 0 2 68 2 184 2 141 2 111 2 86 2 70 2 58 2 49 2 41 2 35 2 30 2 25 2 21 2 19 2 17 2 15 2 14 2 12 2 11 2 10 2 9 2 9 2 9 2 8 2 8 2 8 2 9 2 10 2 9 2 7 2 6 2 5 2 3 2 3 2 3 2 3 2 3 2 4 2 4 2 4 2 3 2 2 2 2 2 1 2 2 2 2 2 1 2 2 2 1 2 0 2 1 2 0 2 1 2 2 2 1 2 2 2 2 2 1 2 2 2 1 2 1 2 1 2 1 2 1 2 0 2 0 2 0 2-1 2 0 2 0 2 0 2 1 2 1 2 1 2 1 2 0 2 0 2 0 2-1 2 0 2 0 2 1 2 2 2 0 2 1 2 0 2 0 8 1 8 0 8 1 8-1 8-5 8 3 8 12 8-2 8 0 8-4 8-1 8 5 8 2 8 2 8-9 8-1 8 7 8 3 8-2 8-3 8-8 8 0 8 4 8-5 8 4"/><path d="M160 2425l8-9 8-6 8 5 8 5 8-6 8-6 8-7 8-4 8 1 8 7 8 7 8-7 8-4 8-4 8 1 8 2 8 4 8 2 8-1 8 3 8-13 8 2 8-4 8 2 8 3 8-3 8 0 8-7 8 4 8 0 8-5 8 6 8 1 8-7 8-2 8-4 8-1 8 1 8 0 8 0 8 3 8-1 8-9 8-1 8-8 8 2 8 2 8 0 8-3 8 1 8-2 8 6 8 0 8-11 8-4 8 2 8 0 8-6 8 0 8-2 8-1 8-1 8-1 8-2 8-6 8 1 8-2 8 0 8 0 8-3 8 1 8-4 8-8 8-1 8-4 8 7 8 2 8 0 8-1 8-5 8 2 8-5 8-3 8-3 8-11 8-2 8 3 8 2 8 0 8-7 8-6 8 4 8 2 8-10 8-8 8-2 8-1 8-7 8 0 8 9 8 4 8-10 8 3 8-1 8 0 8 0 8-10 8-4 8 3 8-6 8-6 8 7 8-4 8-3 8 3 8 0 8 0 8-2 8-4 8-8 8 4 8-9 8 3 8-3 8-2 8 5 8-6 8-5 8 1 8-3 8-3 8 0 8-5 8-5 8-4 8 3 8-1 8-7 8-11 8-4 8-3 8-10 8-5 8-13 8-20 2-5 2-5 2-3 2-2 2 0 2 0 2-2 2-1 2-4 2-4 2-6 2-6 2-7 2-6 2-6 2-6 2-5 2-4 2-3 2-3 2-2 2-1 2 0 2-1 2-1 2-2 2-3 2-3 2-4 2-3 2-2 2-2 2-3 2-3 2-3 2-3 2-2 2-2 2-2 2-2 2-4 2-4 2-4 2-5 2-4 2-4 2-4 2-4 2-4 2-4 2-3 2-3 2-3 2-3 2-5 2-6 2-7 2-7 2-7 2-8 2-7 2-7 2-7 2-8 2-11 2-11 2-13 2-14 2-15 2-16 2-17 2-17 2-19 2-20 2-23 2-24 2-25 2-29 2-33 2-30 2-35 2-39 2-41 2-46 2-51 2-57 2-69 2-79 2-94 2-66 2 0 2 0 2 0 2 0 2 0 2 0 2 0 2 0 2 0 2 0 2 0 2 0 2 0 2 0 2 0 2 0 2 0 2 0 2 0 2 0 2 0 2 0 2 0 2 106 2 183 2 141 2 110 2 85 2 68 2 57 2 46 2 40 2 33 2 29 2 26 2 23 2 21 2 19 2 15 2 14 2 12 2 10 2 10 2 9 2 7 2 7 2 7 2 5 2 7 2 8 2 8 2 8 2 8 2 7 2 8 2 8 2 6 2 5 2 2 2 1 2 1 2 0 2 1 2 1 2 2 2 1 2 2 2 1 2 4 2 4 2 5 2 5 2 3 2 3 2-1 2 0 2-1 2-2 2 1 2 0 2 0 2 0 2 0 2 0 2 2 2 3 2 2 2 2 2-1 2-1 2-1 2-2 2 2 2 2 2 4 2 4 2 3 2 2 2 0 2 1 2-2 2-2 2-3 2-2 2-2 2-2 2 1 2 0 2 2 2 1 8 9 8 2 8-7 8 3 8 2 8-1 8-5 8 2 8 3 8 4 8-1 8-1 8-1 8 6 8-7 8 1 8 5 8 4 8 0 8 7 8-11 8-2 8 4 8-5 8-4"/><path d="M160 2455l8-4 8-13 8 1 8 3 8-5 8 0 8-2 8 4 8-4 8-5 8 3 8-2 8-5 8-4 8-3 8 0 8 5 8 5 8 0 8-4 8 3 8-1 8-4 8 0 8 4 8-3 8 1 8-6 8-7 8-3 8 5 8 4 8-10 8 0 8 12 8-5 8-10 8 0 8 6 8-1 8-11 8-5 8 6 8 1 8-8 8 0 8-3 8 1 8-3 8 1 8-5 8-1 8 9 8-4 8-6 8 1 8 1 8 6 8-7 8-12 8 4 8-8 8 0 8-4 8 1 8 9 8-10 8 0 8 7 8-2 8-14 8-5 8 4 8 8 8-2 8 1 8 1 8-2 8-9 8-3 8 7 8 0 8-13 8-12 8 1 8 3 8 2 8 1 8-7 8-3 8 5 8-3 8-10 8-3 8-2 8-11 8 2 8 5 8-1 8-3 8-6 8-5 8-5 8-1 8 5 8-5 8-7 8-6 8 9 8 7 8-8 8-6 8 0 8 1 8-1 8 2 8 0 8 1 8-5 8-8 8-6 8 0 8-5 8-4 8 9 8-4 8-2 8-2 8-3 8 3 8-8 8-6 8-3 8 12 8-3 8-8 8-5 8 3 8-10 8-14 8 6 8-14 8-18 8-8 8-11 2-5 2-6 2-4 2-4 2-4 2-3 2-5 2-4 2-5 2-6 2-4 2-4 2-1 2-2 2 0 2 0 2-1 2 0 2-3 2-3 2-4 2-5 2-5 2-5 2-5 2-4 2-3 2-3 2-2 2-2 2-2 2-1 2-2 2-2 2-4 2-4 2-5 2-6 2-4 2-4 2-1 2-1 2 1 2 1 2-1 2-1 2-4 2-3 2-3 2-4 2-4 2-4 2-5 2-6 2-7 2-7 2-6 2-7 2-7 2-7 2-8 2-9 2-10 2-10 2-9 2-10 2-10 2-11 2-13 2-15 2-18 2-18 2-20 2-21 2-21 2-24 2-27 2-30 2-33 2-30 2-32 2-35 2-40 2-45 2-53 2-60 2-70 2-79 2-92 2-101 2 0 2 0 2 0 2 0 2 0 2 0 2 0 2 0 2 0 2 0 2 0 2 0 2 0 2 0 2 0 2 0 2 0 2 0 2 0 2 0 2 0 2 0 2 0 2 137 2 181 2 139 2 108 2 82 2 68 2 56 2 46 2 40 2 34 2 30 2 26 2 24 2 20 2 18 2 17 2 14 2 14 2 13 2 11 2 11 2 8 2 8 2 8 2 6 2 8 2 9 2 8 2 7 2 7 2 6 2 6 2 5 2 4 2 3 2 3 2 1 2 2 2 2 2 2 2 2 2 1 2 0 2 0 2 0 2 2 2 2 2 3 2 3 2 2 2 2 2 1 2 1 2 3 2 3 2 4 2 4 2 2 2 3 2 0 2 1 2 0 2 0 2 0 2 1 2 0 2 0 2 0 2 1 2-1 2 0 2 0 2 0 2 1 2 1 2 0 2 1 2-2 2-2 2-2 2-3 2-1 2-1 2 1 2 0 2 2 2 1 8 3 8 2 8 10 8 6 8-4 8-7 8 7 8 12 8-1 8-8 8-10 8-4 8-1 8 10 8-3 8 0 8-4 8 7 8-1 8-6 8 2 8 5 8-6 8 7 8 5"/><path d="M160 2473l8-11 8 8 8-1 8-1 8-1 8-3 8 1 8-2 8-2 8 1 8-4 8-1 8 1 8 2 8 1 8 0 8-1 8-9 8-3 8 3 8 7 8-2 8-6 8-8 8 6 8 5 8 4 8-13 8-4 8 1 8 1 8 4 8 2 8-4 8-7 8 1 8-1 8-7 8 5 8-6 8-6 8 4 8 1 8-6 8 4 8-6 8-7 8 4 8 7 8-4 8-1 8-5 8 2 8 0 8-1 8-3 8-2 8 0 8-14 8 1 8 2 8 2 8 2 8-6 8-1 8 0 8-4 8-3 8 0 8 5 8 2 8-10 8 1 8 2 8 4 8-3 8 6 8-8 8-3 8-9 8-9 8 0 8 5 8-1 8-2 8-6 8-7 8-2 8 1 8 1 8-3 8-3 8-1 8-5 8-7 8-5 8-3 8-4 8-3 8-2 8 1 8 5 8-5 8 1 8 0 8-9 8-3 8 5 8 1 8-8 8-3 8-2 8-3 8 3 8 1 8-1 8-3 8-3 8-4 8-7 8-3 8-2 8 5 8 1 8-5 8-1 8 0 8 0 8 1 8-8 8-6 8 5 8-2 8-2 8-3 8-6 8-6 8 0 8-2 8-12 8-3 8-16 8-20 8-11 8-17 2-6 2-5 2-5 2-5 2-4 2-4 2-3 2-2 2-2 2-1 2-2 2-1 2-1 2-1 2-1 2-2 2-3 2-3 2-4 2-4 2-4 2-4 2-2 2-3 2-2 2-2 2-4 2-3 2-2 2-2 2-1 2-1 2-1 2-2 2-3 2-2 2-4 2-4 2-4 2-3 2-3 2-2 2-3 2-2 2-2 2-3 2-2 2-3 2-2 2-3 2-3 2-3 2-4 2-4 2-5 2-5 2-6 2-6 2-6 2-7 2-7 2-7 2-7 2-8 2-9 2-9 2-12 2-12 2-14 2-15 2-16 2-16 2-18 2-19 2-24 2-25 2-28 2-32 2-33 2-30 2-33 2-36 2-40 2-46 2-52 2-59 2-67 2-78 2-90 2-105 2-40 2 0 2 0 2 0 2 0 2 0 2 0 2 0 2 0 2 0 2 0 2 0 2 0 2 0 2 0 2 0 2 0 2 0 2 0 2 0 2 0 2 0 2 0 2 156 2 181 2 138 2 110 2 85 2 69 2 57 2 48 2 40 2 36 2 31 2 28 2 25 2 21 2 18 2 15 2 14 2 13 2 11 2 11 2 9 2 8 2 7 2 6 2 5 2 6 2 7 2 7 2 6 2 6 2 6 2 6 2 6 2 5 2 5 2 4 2 4 2 3 2 4 2 2 2 2 2 2 2 2 2 2 2 3 2 3 2 3 2 2 2 2 2 0 2 0 2 1 2 1 2 1 2 1 2 0 2-1 2 2 2 2 2 4 2 4 2 2 2 3 2 1 2 1 2 0 2 0 2 0 2 0 2 0 2 0 2-1 2 0 2-1 2-1 2-1 2-1 2 0 2 0 2 0 2-1 2-1 2-1 2 1 2 0 2 3 2 3 8 7 8 5 8-9 8-12 8 7 8 5 8 1 8 2 8-3 8 4 8 0 8 4 8 3 8-6 8 3 8 3 8 0 8-7 8 2 8 2 8 3 8-2 8-10 8-1 8 11"/><path d="M160 2494l8-1 8 6 8 9 8-8 8-3 8 6 8-9 8-16 8 7 8 5 8-3 8 3 8 1 8-2 8 1 8-1 8-2 8-4 8-1 8 1 8-1 8-2 8 0 8 3 8 1 8 0 8-11 8-7 8 1 8 1 8 3 8 0 8-3 8-4 8-4 8-4 8 2 8 5 8-3 8 7 8-1 8-14 8-4 8 3 8 1 8-7 8-2 8 4 8 0 8-1 8-2 8-4 8-1 8 3 8 3 8-2 8-10 8 4 8-6 8-6 8 8 8 0 8-5 8-7 8 2 8 1 8 2 8 5 8-8 8-8 8 2 8-2 8 2 8 2 8-15 8-5 8 6 8 2 8-4 8-5 8 1 8-4 8-1 8 4 8-7 8 3 8-3 8-14 8-3 8 3 8 2 8-8 8-3 8-4 8-2 8 3 8-9 8-4 8 1 8-3 8-6 8 1 8-5 8-6 8 6 8 1 8 0 8-5 8-1 8-5 8-4 8 2 8-4 8 3 8 2 8-5 8 0 8 4 8-4 8-5 8-9 8 7 8 3 8-10 8-2 8 4 8-3 8-4 8-6 8-10 8 4 8 3 8-6 8 7 8-2 8-8 8-5 8-9 8-7 8-8 8-10 8-14 8-20 8-17 8-5 2-5 2-5 2-6 2-5 2-2 2-3 2-1 2-2 2-2 2-2 2-2 2-3 2-3 2-2 2-3 2-4 2-3 2-3 2-2 2-3 2-2 2-3 2-2 2-3 2-1 2-1 2-1 2 0 2-3 2-3 2-4 2-4 2-5 2-4 2-2 2-2 2 1 2 0 2 0 2 0 2-1 2-1 2-3 2-2 2-5 2-4 2-5 2-6 2-3 2-3 2-1 2-2 2-3 2-3 2-4 2-5 2-5 2-6 2-5 2-6 2-8 2-8 2-8 2-8 2-10 2-10 2-14 2-14 2-15 2-17 2-17 2-17 2-17 2-19 2-18 2-21 2-23 2-26 2-33 2-28 2-33 2-37 2-40 2-45 2-49 2-56 2-66 2-75 2-90 2-105 2-92 2 0 2 0 2 0 2 0 2 0 2 0 2 0 2 0 2 0 2 0 2 0 2 0 2 0 2 0 2 0 2 0 2 0 2 0 2 0 2 0 2 0 2 0 2 191 2 180 2 138 2 108 2 84 2 68 2 57 2 48 2 41 2 34 2 29 2 24 2 21 2 19 2 17 2 17 2 15 2 14 2 14 2 13 2 11 2 11 2 10 2 7 2 7 2 4 2 6 2 3 2 3 2 5 2 4 2 6 2 6 2 7 2 6 2 4 2 5 2 3 2 3 2 3 2 2 2 3 2 3 2 2 2 2 2 1 2 1 2 1 2 1 2 2 2 1 2 4 2 3 2 3 2 2 2 1 2 2 2 0 2-1 2 1 2 0 2 1 2 2 2 1 2 1 2 0 2-1 2-2 2-1 2-1 2 0 2 2 2 1 2 1 2 1 2 1 2 0 2 1 2 1 2 0 2-1 2-2 2-2 2-1 2 0 2 2 2 2 8 7 8 3 8-4 8 2 8 6 8-4 8 3 8 4 8-2 8 1 8-7 8-4 8 3 8 5 8 4 8-3 8 2 8 2 8-2 8 2 8 2 8-2 8-2 8-4 8-3"/><path d="M160 2524l8 13 8-10 8-4 8 1 8-1 8-1 8-2 8-5 8-3 8 4 8 0 8 0 8 4 8-6 8-6 8-5 8 17 8 1 8-9 8-3 8-3 8 2 8-11 8 3 8 2 8-1 8-1 8 4 8-3 8-5 8-2 8 2 8-7 8 3 8 1 8-3 8 2 8-9 8-4 8 2 8 2 8-3 8-1 8 3 8 0 8 2 8-3 8-9 8 5 8-2 8-5 8 0 8-5 8 1 8 2 8-2 8-3 8 1 8-1 8 4 8-11 8-7 8 3 8 2 8 4 8-7 8-1 8 4 8-10 8 0 8 5 8-2 8-5 8-7 8 0 8-5 8-1 8 1 8 5 8-7 8-10 8-1 8 4 8 4 8-9 8-9 8 0 8 6 8-7 8-5 8-7 8-1 8-2 8-7 8 2 8 0 8-5 8-5 8-3 8-1 8 0 8-4 8 6 8-12 8-1 8-7 8-1 8 7 8-4 8-7 8-5 8 4 8 6 8-4 8-2 8 0 8 6 8-4 8 0 8-12 8-6 8-3 8 12 8-5 8-3 8-1 8-1 8-7 8-8 8 6 8 4 8 0 8-7 8 0 8-8 8-10 8-6 8-2 8-1 8-10 8-7 8-20 8-19 8-10 8-15 2-4 2-5 2-4 2-4 2-4 2-3 2-2 2-3 2-1 2-2 2-3 2-2 2-5 2-4 2-3 2-4 2-3 2-2 2-3 2-3 2-3 2-3 2-2 2-1 2 0 2 2 2 0 2 0 2-2 2-1 2-3 2-3 2-3 2-2 2-1 2-1 2-2 2-3 2-3 2-3 2-3 2-4 2-3 2-4 2-3 2-3 2-1 2-1 2 0 2-1 2-1 2-1 2-4 2-3 2-6 2-5 2-6 2-5 2-5 2-6 2-6 2-6 2-9 2-10 2-10 2-11 2-13 2-13 2-14 2-15 2-14 2-15 2-16 2-19 2-22 2-25 2-27 2-30 2-32 2-28 2-31 2-34 2-39 2-45 2-51 2-58 2-67 2-77 2-88 2-104 2-119 2 0 2 0 2 0 2 0 2 0 2 0 2 0 2 0 2 0 2 0 2 0 2 0 2 0 2 0 2 0 2 0 2 0 2 0 2 0 2 0 2 0 2 0 2 206 2 181 2 139 2 111 2 86 2 71 2 60 2 50 2 42 2 36 2 31 2 26 2 24 2 19 2 17 2 15 2 14 2 13 2 12 2 11 2 11 2 8 2 7 2 5 2 4 2 4 2 6 2 8 2 6 2 6 2 6 2 5 2 6 2 5 2 4 2 5 2 5 2 5 2 4 2 4 2 4 2 3 2 2 2 1 2 0 2-1 2-1 2-1 2 0 2 2 2 3 2 3 2 4 2 3 2 2 2 0 2 0 2-2 2-1 2-1 2-1 2 1 2 1 2 4 2 3 2 3 2 4 2 3 2 2 2 2 2 1 2 1 2 0 2-1 2-1 2-2 2-2 2 0 2-1 2 0 2 0 2 0 2 1 2 1 2 1 2 2 2 1 8-2 8-7 8 7 8 9 8 3 8-10 8 5 8-3 8-2 8 5 8-2 8 3 8 4 8-3 8-4 8-7 8-3 8 3 8 4 8-2 8 8 8 10 8 2 8-2 8-2"/><path d="M160 2560l8-2 8 0 8-2 8-6 8 0 8 2 8-8 8-7 8 5 8 6 8-3 8 3 8-6 8 2 8-5 8 2 8-12 8 3 8-5 8-4 8 10 8 3 8 4 8-5 8-6 8-9 8 5 8 6 8-7 8-3 8 7 8 3 8-5 8-1 8-2 8 0 8-6 8-10 8 8 8-2 8-4 8-3 8 5 8-6 8-2 8 2 8-1 8-6 8 0 8-6 8-1 8 2 8-8 8 0 8 5 8 5 8-8 8 3 8 3 8-5 8 2 8-6 8-4 8 4 8 2 8-13 8 1 8 3 8-9 8-2 8 6 8-2 8 0 8 0 8-1 8-11 8-9 8-1 8 2 8-1 8 4 8-6 8-13 8 8 8-2 8-1 8-5 8-12 8-1 8-10 8 1 8 7 8-8 8 0 8-7 8 7 8 6 8-10 8-5 8-4 8-8 8 3 8-2 8-1 8-1 8-6 8-2 8-7 8 3 8 4 8-2 8-2 8-1 8-1 8-2 8 7 8-2 8-15 8 2 8-3 8 0 8-5 8 4 8 5 8-10 8-4 8-2 8-4 8 5 8-2 8-9 8 0 8 8 8-10 8-9 8 0 8-6 8-18 8 2 8-4 8-12 8-17 8-29 8-17 8-17 2-4 2-4 2-2 2-1 2 0 2 0 2 0 2 0 2-1 2 0 2-3 2-3 2-5 2-4 2-5 2-5 2-2 2-3 2-2 2-1 2-2 2-2 2-2 2-2 2-2 2-1 2-1 2-1 2 1 2 1 2 2 2 2 2 1 2 1 2-1 2-1 2-4 2-4 2-5 2-4 2-5 2-4 2-5 2-4 2-3 2-4 2-1 2-1 2-2 2-2 2-2 2-4 2-2 2-2 2-1 2-2 2-4 2-4 2-6 2-7 2-7 2-8 2-8 2-9 2-10 2-10 2-12 2-13 2-16 2-17 2-17 2-16 2-17 2-18 2-20 2-22 2-26 2-29 2-33 2-29 2-31 2-35 2-37 2-43 2-47 2-54 2-63 2-73 2-88 2-104 2-124 2-41 2 0 2 0 2 0 2 0 2 0 2 0 2 0 2 0 2 0 2 0 2 0 2 0 2 0 2 0 2 0 2 0 2 0 2 0 2 0 2 0 2 0 2 238 2 179 2 137 2 109 2 85 2 69 2 57 2 49 2 41 2 36 2 31 2 26 2 24 2 20 2 19 2 17 2 16 2 15 2 13 2 12 2 11 2 9 2 9 2 8 2 7 2 7 2 7 2 7 2 7 2 6 2 7 2 5 2 5 2 2 2 2 2 1 2 1 2 2 2 2 2 2 2 3 2 2 2 2 2 0 2 0 2 0 2-1 2 1 2 1 2 2 2 2 2 3 2 3 2 3 2 3 2 3 2 2 2 0 2 0 2-1 2 0 2 0 2-1 2 0 2 1 2 1 2 0 2 2 2 1 2 1 2 1 2 0 2 0 2-1 2-1 2 1 2 2 2 4 2 3 2 3 2 3 2-1 2-1 2-1 2-1 2 0 2 0 8-4 8 1 8 0 8 7 8-6 8 7 8 8 8-4 8-2 8 3 8-1 8-2 8-4 8 0 8 5 8-2 8-8 8 5 8 4 8-2 8 7 8-1 8-3 8 0 8 5"/><path d="M160 2584l8-6 8-4 8-2 8 0 8 1 8 8 8-8 8-6 8 5 8 5 8-9 8-7 8 10 8-5 8 2 8 6 8-10 8 1 8 0 8-9 8-9 8 7 8 2 8-2 8-1 8-1 8 5 8 1 8-9 8 1 8-1 8-7 8 9 8-1 8-5 8-4 8-2 8 1 8 2 8 5 8-8 8-5 8-1 8 3 8-4 8-7 8 4 8 8 8-4 8-11 8 0 8 7 8-2 8-7 8 8 8-8 8-6 8 0 8-8 8 3 8 6 8-1 8-1 8-3 8-2 8-2 8-7 8-4 8 6 8-3 8 1 8-3 8-1 8-4 8-3 8-1 8 4 8-1 8-4 8-3 8-4 8-14 8 7 8 7 8-6 8-9 8-4 8-3 8-5 8-5 8 1 8-5 8-7 8-1 8-1 8-10 8 2 8-1 8 2 8 1 8-3 8-13 8 3 8-1 8-14 8 12 8-1 8-3 8-6 8 3 8 3 8 0 8-1 8-7 8-6 8 4 8 0 8 0 8-11 8 0 8 1 8 8 8-4 8-11 8 1 8-6 8 2 8 3 8-12 8-3 8-1 8 1 8-3 8-6 8-2 8-10 8-5 8 0 8-11 8-20 8-21 8-19 8-9 8-13 8-8 2-4 2-4 2-5 2-5 2-4 2-3 2-1 2-2 2-1 2-2 2-2 2-3 2-2 2-2 2-2 2-2 2-3 2-3 2-2 2-1 2-2 2-1 2-2 2-1 2 0 2 1 2 0 2 0 2-2 2-1 2-1 2 0 2-1 2 0 2-2 2-2 2-2 2-2 2-1 2-2 2-2 2-1 2-4 2-4 2-4 2-5 2-2 2-2 2-1 2 0 2-1 2-1 2-2 2-2 2-4 2-3 2-6 2-5 2-6 2-6 2-6 2-7 2-8 2-9 2-11 2-12 2-12 2-13 2-12 2-14 2-15 2-15 2-17 2-18 2-20 2-22 2-25 2-28 2-31 2-28 2-30 2-33 2-39 2-43 2-48 2-56 2-63 2-74 2-85 2-102 2-122 2-86 2 0 2 0 2 0 2 0 2 0 2 0 2 0 2 0 2 0 2 0 2 0 2 0 2 0 2 0 2 0 2 0 2 0 2 0 2 0 2 0 2 32 2 240 2 180 2 137 2 110 2 85 2 70 2 59 2 48 2 41 2 35 2 30 2 28 2 24 2 20 2 19 2 15 2 14 2 13 2 12 2 11 2 10 2 6 2 7 2 5 2 4 2 6 2 6 2 6 2 6 2 6 2 6 2 5 2 6 2 3 2 4 2 1 2 2 2 3 2 2 2 4 2 4 2 3 2 3 2 2 2 1 2 3 2 2 2 4 2 3 2 3 2 3 2 1 2 1 2-1 2-1 2-2 2-2 2-2 2-1 2 1 2 2 2 3 2 3 2 3 2 3 2 1 2 2 2-1 2 0 2 2 2 1 2 2 2 3 2 2 2 2 2 0 2 1 2-1 2-1 2-2 2-2 2-2 2-1 2 0 2 0 2 2 2 2 8 7 8-6 8 2 8-1 8 4 8 0 8 4 8 2 8 0 8-5 8-2 8 1 8 7 8 4 8-10 8-1 8 0 8 12 8 6 8-3 8-3 8-1 8-12 8-2 8 4"/><path d="M160 2615l8-5 8-1 8-5 8-7 8-1 8-5 8 2 8 4 8 8 8-1 8-1 8 4 8-4 8-5 8-2 8-5 8 3 8-8 8-2 8 7 8-1 8-2 8-5 8 0 8-6 8 4 8-4 8 0 8 0 8 0 8 6 8-8 8-4 8-5 8 5 8 6 8 6 8-7 8-6 8-6 8 9 8-1 8-9 8-3 8-4 8-9 8 4 8 7 8-4 8 0 8 4 8-2 8-11 8-7 8 2 8 7 8-2 8-4 8-4 8-2 8 6 8 0 8 1 8-8 8-1 8 6 8-5 8-10 8-1 8 4 8 0 8-15 8 4 8 4 8-3 8-3 8 5 8-5 8-1 8 0 8-12 8-2 8-4 8-2 8-3 8-4 8-3 8-1 8 0 8-6 8-8 8-5 8 6 8-7 8 0 8-4 8-11 8 0 8 2 8-3 8-2 8 5 8-8 8-14 8 3 8 3 8-7 8-2 8 7 8-7 8-1 8 6 8-5 8 0 8 3 8-6 8-1 8-2 8-1 8 0 8-4 8-4 8 5 8-9 8-5 8 3 8-1 8-1 8-2 8-8 8-7 8-6 8 4 8 3 8-13 8-8 8-1 8-11 8-10 8-11 8-13 8-24 8-19 8-13 8-13 2-2 2-1 2-2 2-2 2-2 2-3 2-3 2-2 2-2 2-1 2-1 2-1 2-3 2-2 2-5 2-4 2-4 2-4 2 0 2 0 2 1 2 1 2 0 2 0 2 0 2 0 2-1 2-1 2-2 2-1 2-2 2-2 2-2 2-2 2-2 2-2 2 0 2-1 2 0 2-1 2 0 2 1 2 0 2 0 2-1 2-1 2-3 2-3 2-5 2-4 2-4 2-5 2-3 2-4 2-4 2-3 2-4 2-5 2-6 2-6 2-7 2-7 2-8 2-9 2-9 2-10 2-11 2-12 2-14 2-15 2-16 2-15 2-17 2-18 2-19 2-22 2-23 2-26 2-30 2-24 2-30 2-32 2-40 2-44 2-48 2-54 2-61 2-70 2-83 2-99 2-120 2-135 2 0 2 0 2 0 2 0 2 0 2 0 2 0 2 0 2 0 2 0 2 0 2 0 2 0 2 0 2 0 2 0 2 0 2 0 2 0 2 0 2 52 2 240 2 180 2 138 2 109 2 84 2 71 2 58 2 49 2 42 2 35 2 30 2 26 2 21 2 20 2 17 2 16 2 15 2 14 2 13 2 13 2 12 2 10 2 9 2 5 2 6 2 5 2 7 2 7 2 7 2 6 2 6 2 4 2 4 2 4 2 4 2 5 2 4 2 4 2 3 2 2 2 2 2 1 2 1 2 1 2 1 2 2 2 1 2 1 2 1 2 1 2 1 2 1 2 1 2 2 2 2 2 3 2 2 2 1 2 1 2-1 2 0 2-1 2 0 2 0 2 0 2 0 2 0 2 2 2 1 2 2 2 2 2 1 2 1 2-1 2-1 2 1 2 0 2 1 2 2 2 2 2 2 2 1 2 2 2 1 2 2 2-1 2-1 8-2 8-2 8 6 8 3 8-4 8 1 8-4 8 2 8 6 8 9 8 1 8 2 8-7 8-3 8-1 8 2 8-1 8 1 8 2 8-4 8-8 8 8 8 3 8 0 8-3"/><path d="M160 2638l8 0 8 0 8-9 8 3 8 8 8-15 8-2 8 4 8 2 8-4 8 3 8-8 8-8 8 2 8 1 8-2 8 3 8 5 8 1 8 1 8-11 8 2 8-4 8-3 8 5 8-5 8-5 8 0 8 0 8 6 8 2 8-2 8 3 8-16 8-6 8-4 8-1 8 1 8 4 8 2 8 1 8 6 8-5 8-3 8-10 8 7 8 0 8 3 8 2 8-12 8-12 8-1 8 6 8-5 8-7 8 13 8-2 8-6 8-10 8 1 8 10 8-12 8 1 8 1 8 0 8 6 8-4 8 5 8-9 8-2 8-3 8-4 8-1 8-4 8-1 8 0 8-10 8 0 8 6 8 2 8 0 8-4 8-14 8-8 8 5 8 2 8 2 8-10 8-4 8-4 8-5 8-5 8-4 8-6 8-2 8-1 8-5 8-4 8 1 8 0 8-4 8-2 8-7 8 7 8-5 8-6 8-7 8-2 8 7 8 6 8-3 8 0 8 0 8-6 8-1 8 3 8-2 8-7 8-5 8-3 8-4 8 7 8 0 8 1 8-2 8 1 8-7 8-8 8-4 8-4 8-7 8 4 8-1 8-6 8-7 8-13 8-6 8-8 8-14 8-14 8-19 8-13 8-16 8-6 8-14 2-6 2-5 2-6 2-5 2-3 2-3 2-3 2-2 2-2 2-2 2 0 2 0 2 2 2 1 2 1 2 0 2 1 2 0 2 1 2 1 2-1 2 0 2-3 2-2 2-2 2-2 2-1 2-1 2-2 2-3 2-3 2-3 2-2 2-2 2-1 2-2 2-2 2-3 2-1 2-1 2 0 2 0 2 0 2-1 2-3 2-3 2-2 2-3 2 0 2-1 2-1 2-1 2-3 2-3 2-3 2-3 2-4 2-5 2-6 2-7 2-8 2-8 2-7 2-7 2-6 2-8 2-10 2-10 2-14 2-15 2-16 2-16 2-17 2-19 2-18 2-21 2-23 2-27 2-31 2-26 2-30 2-33 2-38 2-43 2-48 2-55 2-64 2-73 2-86 2-101 2-120 2-145 2-16 2 0 2 0 2 0 2 0 2 0 2 0 2 0 2 0 2 0 2 0 2 0 2 0 2 0 2 0 2 0 2 0 2 0 2 0 2 0 2 85 2 241 2 180 2 138 2 108 2 85 2 69 2 58 2 50 2 42 2 37 2 32 2 26 2 22 2 19 2 17 2 16 2 14 2 14 2 12 2 12 2 11 2 8 2 9 2 6 2 7 2 7 2 8 2 8 2 8 2 5 2 4 2 2 2 2 2 2 2 1 2 3 2 3 2 5 2 5 2 3 2 3 2 1 2 1 2 0 2 1 2 2 2 2 2 2 2 1 2 1 2 1 2 0 2 0 2 1 2 1 2 0 2 1 2 1 2 1 2 1 2 2 2 1 2 2 2 1 2 1 2 1 2 1 2 1 2 1 2 1 2 1 2 0 2 0 2 1 2 0 2 1 2 2 2-1 2 0 2-2 2-1 2 0 2 0 2 1 2 1 2 2 2 2 8-2 8 6 8 4 8-2 8 1 8 0 8 1 8 8 8-2 8-3 8 1 8 1 8-1 8 7 8-4 8-2 8 4 8-6 8 2 8 3 8 2 8-6 8 5 8 5 8-6"/><path d="M160 2660l8-2 8 4 8 1 8-4 8-2 8 1 8-3 8-1 8-3 8-3 8 7 8 0 8 3 8-5 8-2 8-1 8 0 8-1 8-3 8-1 8 5 8-7 8-3 8 0 8 1 8 8 8 2 8-8 8-7 8-9 8 5 8 0 8-2 8-6 8 3 8 2 8 1 8-5 8-9 8 4 8 2 8-3 8-3 8-5 8 5 8-3 8-5 8-8 8 8 8 6 8-4 8-6 8-1 8-2 8-8 8-4 8 5 8-2 8-6 8-1 8 2 8-1 8 3 8 5 8-1 8-2 8-4 8-9 8-6 8 2 8-2 8 1 8 1 8-1 8-7 8-1 8-5 8-1 8 0 8-3 8 0 8-4 8-7 8-7 8-1 8 5 8-5 8-6 8-2 8 0 8 0 8-10 8-8 8-2 8 1 8-4 8-1 8-7 8-4 8-5 8-2 8 1 8-2 8 0 8 1 8 3 8-14 8-9 8 1 8 9 8 5 8 0 8-10 8 2 8 0 8-2 8-5 8-3 8-2 8-6 8 7 8-1 8 5 8-13 8-10 8 11 8-6 8-11 8 5 8 3 8-3 8-3 8-8 8-9 8-12 8-11 8-15 8-6 8-12 8-17 8-9 8-23 8-13 8-5 8-12 2-3 2-2 2-3 2-3 2-2 2-3 2-2 2-2 2-2 2-1 2-1 2-1 2-1 2-1 2-1 2 1 2-1 2 0 2-2 2-2 2-1 2-1 2 2 2 2 2 1 2 1 2-2 2-1 2-2 2-1 2-2 2-1 2-1 2-1 2-2 2-2 2-3 2-4 2-3 2-2 2 0 2 0 2 2 2 2 2 0 2-1 2-3 2-3 2-4 2-4 2-3 2-3 2-3 2-3 2-2 2-3 2-3 2-4 2-5 2-6 2-6 2-8 2-7 2-8 2-9 2-11 2-12 2-13 2-14 2-15 2-14 2-14 2-16 2-18 2-20 2-22 2-24 2-28 2-29 2-24 2-26 2-30 2-35 2-40 2-47 2-54 2-62 2-73 2-84 2-101 2-118 2-145 2-60 2 0 2 0 2 0 2 0 2 0 2 0 2 0 2 0 2 0 2 0 2 0 2 0 2 0 2 0 2 0 2 0 2 0 2 0 2 0 2 118 2 239 2 178 2 137 2 108 2 84 2 71 2 58 2 49 2 42 2 36 2 30 2 26 2 23 2 21 2 18 2 16 2 13 2 12 2 11 2 11 2 10 2 10 2 10 2 9 2 8 2 6 2 5 2 3 2 1 2 3 2 2 2 5 2 5 2 5 2 6 2 5 2 5 2 4 2 5 2 4 2 4 2 2 2 1 2 0 2 0 2 0 2 0 2 1 2 2 2 2 2 2 2 2 2 2 2 2 2 2 2 0 2 1 2-1 2 0 2-1 2 0 2 1 2 0 2 2 2 3 2 2 2 3 2 2 2 1 2 0 2 0 2-1 2 0 2-1 2 0 2 0 2 1 2 0 2 1 2 0 2 0 2 0 2 0 2 0 2 0 2 1 2 0 8 8 8-4 8-9 8 6 8 7 8 1 8-2 8-1 8 6 8 3 8-5 8 7 8 2 8 1 8 0 8 1 8-3 8-6 8 2 8 2 8 9 8 0 8-3 8 1 8-1"/><path d="M160 2691l8-3 8 4 8 0 8-2 8 4 8-10 8-6 8-2 8 6 8 2 8-4 8-1 8-7 8-11 8-6 8 13 8-1 8-1 8 2 8 1 8-6 8 1 8-1 8 4 8 2 8-2 8-6 8-2 8 3 8 0 8-3 8-2 8 0 8 1 8-2 8-4 8 3 8 1 8-5 8-1 8-10 8-1 8 3 8 5 8-3 8 1 8-5 8-4 8-2 8 0 8-5 8-3 8 9 8-2 8-1 8-3 8-8 8-1 8-9 8 4 8 4 8-3 8-4 8 1 8 0 8 0 8 0 8-2 8-3 8 0 8-3 8-5 8-4 8 1 8 3 8 0 8-7 8-3 8-8 8-7 8 5 8 0 8-6 8-6 8-2 8-9 8 3 8 1 8-4 8-13 8-1 8-3 8-4 8-1 8-8 8-5 8 1 8 2 8-9 8 1 8 3 8-7 8 4 8-9 8-3 8-2 8-6 8 7 8-8 8-1 8 2 8-5 8 3 8-5 8-3 8 6 8 2 8 0 8-2 8-7 8-6 8 8 8-2 8-8 8-6 8 5 8 5 8-7 8-2 8-1 8-6 8-10 8-7 8-5 8-12 8-17 8-3 8-12 8-15 8-17 8-20 8-21 8-3 8-11 8-12 2-3 2-3 2-2 2-3 2-1 2-2 2 0 2-1 2 0 2 0 2 0 2 0 2-1 2 0 2 0 2-1 2-1 2-2 2-2 2-1 2-1 2 0 2 0 2 0 2 2 2 1 2-1 2 0 2-4 2-4 2-2 2-2 2 1 2 1 2 1 2 1 2-2 2-2 2-4 2-4 2-4 2-3 2-2 2-1 2-1 2 0 2-2 2-2 2-1 2-2 2 0 2 0 2-1 2 0 2-4 2-3 2-6 2-5 2-6 2-7 2-7 2-7 2-6 2-6 2-7 2-8 2-10 2-11 2-13 2-14 2-14 2-14 2-16 2-17 2-22 2-24 2-27 2-29 2-31 2-26 2-27 2-31 2-35 2-39 2-45 2-51 2-60 2-69 2-81 2-96 2-114 2-139 2-113 2 0 2 0 2 0 2 0 2 0 2 0 2 0 2 0 2 0 2 0 2 0 2 0 2 0 2 0 2 0 2 0 2 0 2 0 2 0 2 140 2 242 2 182 2 140 2 108 2 85 2 68 2 57 2 47 2 41 2 36 2 32 2 29 2 26 2 22 2 20 2 16 2 14 2 12 2 11 2 10 2 10 2 6 2 5 2 3 2 3 2 3 2 4 2 4 2 5 2 6 2 6 2 7 2 7 2 6 2 6 2 5 2 4 2 4 2 3 2 3 2 3 2 2 2 2 2 2 2 1 2 3 2 2 2 4 2 3 2 1 2 1 2 0 2-1 2 0 2-1 2 1 2 0 2 1 2 1 2 1 2 0 2 1 2 0 2 2 2 2 2 3 2 3 2 0 2 0 2-1 2-1 2-1 2-1 2 0 2 0 2 1 2 1 2 2 2 1 2 3 2 2 2 1 2 2 2 0 2 0 2 0 2 1 8 0 8-2 8-3 8 5 8-4 8-1 8 5 8-2 8 2 8 3 8 5 8 2 8-2 8 5 8 2 8-4 8-2 8 5 8 3 8-2 8-7 8 1 8-5 8 4 8-1"/><path d="M160 2709l8 1 8 0 8 3 8 1 8 6 8-1 8-12 8 1 8 2 8-6 8-3 8 0 8 2 8-2 8-1 8 1 8-2 8-4 8-4 8 1 8 5 8 6 8-7 8-4 8 5 8-3 8 0 8-7 8 1 8 2 8-14 8-8 8 3 8 11 8 4 8-2 8-3 8-13 8-3 8 7 8 6 8-14 8 1 8 6 8-6 8-6 8 0 8 6 8-1 8-4 8-1 8 2 8-1 8-3 8 0 8-7 8-7 8 4 8 8 8-8 8-6 8 1 8 2 8-6 8-4 8-1 8 4 8-4 8 7 8-1 8-7 8-14 8 3 8 0 8-1 8 8 8-4 8-1 8 1 8-7 8 1 8-3 8-19 8-3 8 0 8-6 8-2 8 7 8-9 8-17 8-7 8 2 8 4 8-4 8-13 8-4 8-4 8 3 8 2 8-1 8-4 8-3 8-6 8-2 8 2 8 2 8-4 8-3 8 2 8-2 8-5 8-1 8-5 8 7 8 5 8-9 8-3 8 3 8-12 8 2 8 2 8-2 8-7 8 5 8-2 8-5 8-3 8-2 8 0 8-3 8-5 8-11 8-3 8-7 8-20 8-6 8-10 8-14 8-22 8-18 8-16 8-12 8-6 8-10 8-6 2-3 2-3 2-2 2-2 2-2 2-2 2-2 2-2 2-2 2-2 2-1 2-1 2 0 2-1 2-1 2-1 2-1 2 0 2 1 2 1 2 2 2 1 2 1 2 0 2 0 2 1 2-1 2-1 2-1 2-2 2 0 2-1 2 1 2 0 2 1 2 0 2 0 2 1 2-1 2-1 2-2 2-2 2-2 2-2 2-3 2-3 2-3 2-2 2-2 2-2 2-2 2-3 2-3 2-4 2-4 2-4 2-3 2-4 2-5 2-5 2-5 2-6 2-6 2-6 2-7 2-8 2-11 2-12 2-14 2-16 2-15 2-15 2-16 2-17 2-18 2-20 2-22 2-25 2-29 2-23 2-29 2-31 2-37 2-42 2-46 2-53 2-59 2-69 2-80 2-95 2-116 2-141 2-150 2 0 2 0 2 0 2 0 2 0 2 0 2 0 2 0 2 0 2 0 2 0 2 0 2 0 2 0 2 0 2 0 2 0 2 0 2 0 2 178 2 238 2 179 2 138 2 107 2 85 2 68 2 56 2 46 2 39 2 35 2 30 2 27 2 25 2 22 2 19 2 17 2 15 2 13 2 11 2 10 2 9 2 9 2 7 2 7 2 7 2 5 2 6 2 7 2 6 2 7 2 7 2 7 2 6 2 5 2 6 2 3 2 3 2 1 2 1 2 1 2 1 2 1 2 1 2 1 2 0 2 0 2-1 2 2 2 2 2 2 2 3 2 1 2 2 2-1 2-1 2 0 2-1 2 3 2 2 2 2 2 3 2 2 2 1 2-1 2 0 2-2 2-2 2-1 2 0 2 1 2 1 2 1 2 2 2 1 2 2 2 1 2 1 2 2 2 1 2 1 2 1 2 0 2 0 2 1 2 1 2 1 2 2 8-1 8-1 8 1 8-1 8 6 8-1 8-3 8 0 8 9 8 6 8-1 8-6 8 4 8 4 8 2 8-4 8 3 8 7 8-2 8-4 8-10 8-6 8 8 8 5 8 4"/><path d="M160 2738l8-7 8 1 8 4 8-4 8 4 8 2 8 3 8-7 8-2 8-3 8 2 8-5 8-4 8 8 8-4 8-1 8-3 8-7 8 0 8 6 8 1 8-1 8 6 8-5 8-8 8-10 8 9 8-1 8-3 8 6 8-5 8-1 8 0 8 1 8-4 8-2 8 3 8-1 8-12 8-1 8 6 8 5 8 2 8-5 8-10 8-7 8-1 8 0 8 3 8-3 8-3 8 3 8 3 8-1 8-2 8 4 8-5 8-8 8 0 8-14 8 1 8 5 8-2 8-3 8 5 8 3 8-7 8 0 8-5 8 3 8-9 8 2 8 1 8-11 8-5 8 5 8-6 8 7 8-3 8-2 8-3 8-4 8 0 8-13 8-6 8-1 8 0 8-1 8-3 8-18 8-2 8 0 8-6 8 1 8-5 8-9 8 3 8-9 8 0 8-2 8 0 8 2 8-8 8-6 8 3 8 4 8 4 8-2 8-8 8-2 8-4 8 3 8 1 8-2 8-3 8-4 8 0 8 5 8-3 8-3 8-3 8-3 8-4 8 8 8-9 8-11 8 3 8 1 8-4 8-8 8-9 8-4 8-6 8-17 8-14 8-13 8-10 8-14 8-16 8-13 8-9 8-5 8-13 8-9 8-4 2-1 2-2 2-2 2-2 2-4 2-3 2-5 2-4 2-2 2-2 2-1 2 0 2 0 2 0 2-1 2 0 2-2 2-2 2-2 2-2 2-1 2-1 2 0 2 0 2 0 2 0 2-1 2-2 2-1 2-1 2 2 2 1 2 1 2 2 2 1 2 0 2 1 2 0 2 1 2 0 2 0 2 0 2-3 2-2 2-2 2-2 2-1 2 0 2-2 2-1 2-4 2-3 2-4 2-4 2-4 2-4 2-3 2-3 2-3 2-3 2-4 2-5 2-5 2-7 2-8 2-9 2-10 2-10 2-12 2-12 2-15 2-14 2-16 2-18 2-19 2-21 2-23 2-27 2-33 2-26 2-31 2-33 2-38 2-41 2-45 2-50 2-56 2-65 2-78 2-92 2-113 2-138 2-173 2-22 2 0 2 0 2 0 2 0 2 0 2 0 2 0 2 0 2 0 2 0 2 0 2 0 2 0 2 0 2 0 2 0 2 0 2 0 2 211 2 240 2 179 2 138 2 107 2 85 2 70 2 57 2 47 2 40 2 32 2 27 2 24 2 20 2 20 2 17 2 17 2 16 2 15 2 13 2 12 2 12 2 8 2 8 2 7 2 6 2 6 2 7 2 7 2 5 2 4 2 4 2 2 2 2 2 3 2 3 2 4 2 5 2 4 2 4 2 3 2 3 2 2 2 2 2-1 2 0 2 0 2 0 2 3 2 2 2 4 2 4 2 2 2 2 2 2 2 1 2 2 2 2 2 1 2 1 2-1 2-1 2 0 2 0 2 0 2 0 2 0 2 0 2-1 2-1 2 0 2 0 2 1 2 0 2 2 2 1 2 1 2 1 2 0 2-1 2 0 2-1 2 0 2 1 2 1 2 1 2-1 2-2 8 2 8 9 8 9 8 1 8-4 8-11 8 6 8 3 8 7 8 3 8 0 8-10 8-4 8 1 8 3 8 2 8 7 8-3 8 2 8 4 8-4 8 0 8-2 8 7 8-2"/><path d="M160 2779l8-4 8 1 8-6 8-5 8 2 8-5 8-5 8 5 8 0 8-1 8-5 8 3 8-1 8 3 8-5 8-3 8-4 8 4 8-3 8 1 8-7 8 4 8 2 8-7 8 8 8 3 8-18 8 3 8 7 8-3 8 10 8-1 8-21 8-3 8 4 8-5 8 1 8 8 8-5 8-3 8-3 8-4 8-1 8 4 8-6 8-1 8 3 8 2 8-8 8-10 8-5 8 4 8 4 8-4 8 7 8-2 8-10 8 0 8 3 8 5 8-5 8-8 8 0 8-2 8-8 8 1 8 5 8-3 8-6 8 2 8 4 8-7 8-5 8 1 8-2 8 3 8 2 8-10 8-10 8-6 8 5 8 0 8-10 8-6 8-3 8-10 8 0 8-5 8 0 8-1 8-4 8 4 8-1 8-11 8-4 8 1 8 0 8-4 8-4 8 0 8-12 8-3 8 2 8-8 8-2 8-6 8 7 8 4 8 2 8-8 8-6 8-1 8-7 8 4 8 2 8-12 8 6 8 2 8-9 8 3 8 1 8-9 8-1 8-3 8 3 8 5 8-3 8-6 8-8 8-13 8-1 8-10 8-23 8-10 8-11 8-6 8-12 8-17 8-11 8-16 8-4 8-11 8-2 8-8 8-15 2-4 2-3 2-1 2-2 2-1 2-1 2-2 2-1 2-1 2-1 2-1 2-1 2 0 2 0 2 0 2 0 2 0 2-1 2-2 2-1 2-2 2-1 2 0 2 0 2 1 2 2 2 0 2 0 2-1 2-1 2-1 2-1 2 0 2 1 2 2 2 1 2 1 2 0 2-1 2-1 2 0 2-1 2-1 2-1 2-1 2-2 2-2 2-2 2-2 2-2 2-3 2-3 2-2 2-2 2-1 2-2 2-4 2-4 2-5 2-6 2-6 2-7 2-6 2-7 2-8 2-8 2-11 2-11 2-12 2-13 2-13 2-13 2-15 2-17 2-19 2-22 2-22 2-26 2-28 2-22 2-26 2-29 2-36 2-40 2-46 2-51 2-58 2-68 2-78 2-94 2-113 2-139 2-172 2-60 2 0 2 0 2 0 2 0 2 0 2 0 2 0 2 0 2 0 2 0 2 0 2 0 2 0 2 0 2 0 2 0 2 0 2 0 2 239 2 238 2 177 2 136 2 107 2 84 2 70 2 58 2 50 2 43 2 37 2 31 2 26 2 23 2 19 2 16 2 14 2 13 2 12 2 11 2 10 2 9 2 9 2 8 2 7 2 7 2 5 2 6 2 5 2 5 2 4 2 5 2 5 2 5 2 5 2 4 2 3 2 2 2 3 2 2 2 4 2 3 2 4 2 4 2 2 2 1 2 0 2-1 2 1 2 2 2 3 2 3 2 2 2 3 2 1 2 2 2 0 2 1 2 0 2 0 2 1 2 1 2 1 2 2 2-1 2 0 2-2 2-2 2 0 2-1 2 0 2 0 2-1 2 0 2 1 2 0 2 3 2 3 2 3 2 4 2 3 2 2 2 0 2 0 2-1 2-2 2-2 2-1 8 0 8 1 8 0 8 1 8 1 8-4 8 0 8 8 8-1 8 6 8 1 8 6 8-3 8-10 8 6 8-5 8 6 8 6 8 2 8-5 8 0 8-2 8 0 8 10 8-2"/><path d="M160 2796l8 4 8 0 8-3 8-2 8-5 8-1 8-6 8-1 8 8 8 3 8-6 8-3 8 3 8 2 8-7 8-6 8 2 8-8 8 5 8 2 8 0 8 0 8-6 8 5 8 1 8-4 8-2 8 0 8-6 8-1 8 1 8-1 8-4 8 7 8-7 8-2 8-7 8 3 8-2 8 5 8-5 8-4 8-2 8 6 8 0 8-6 8 7 8 2 8-11 8-7 8-5 8 10 8-4 8-4 8-1 8-10 8 5 8 3 8-3 8-2 8-4 8 0 8-2 8 1 8 0 8-4 8-7 8 4 8-3 8 5 8-3 8 2 8-8 8-13 8 9 8-4 8-5 8-1 8-9 8-2 8-3 8 1 8 0 8-5 8-6 8-1 8-2 8-11 8-8 8-1 8-5 8-7 8-4 8-5 8-5 8 5 8 4 8-10 8-3 8 6 8-9 8-5 8 3 8-4 8-1 8-3 8 0 8-5 8 2 8-1 8-2 8-2 8-4 8-8 8 13 8 6 8-12 8-8 8 4 8 0 8-9 8-1 8-2 8-2 8 0 8-8 8 4 8-2 8-13 8-10 8-13 8-4 8-6 8-9 8-17 8-17 8-14 8-10 8-14 8-15 8-4 8-5 8-14 8-16 8-4 2-1 2 0 2-1 2 0 2-3 2-1 2-3 2-3 2-2 2-1 2 0 2 1 2 1 2 2 2 0 2 0 2-1 2-1 2-1 2-2 2-1 2 0 2 0 2 0 2 2 2 1 2 1 2 1 2-1 2-2 2-2 2-3 2-2 2-2 2 0 2-1 2 2 2 2 2 3 2 3 2 2 2 2 2-1 2 0 2-3 2-3 2-4 2-4 2-4 2-5 2-3 2-3 2-2 2-2 2-2 2-2 2-2 2-2 2-2 2-3 2-5 2-5 2-7 2-8 2-8 2-9 2-10 2-10 2-11 2-12 2-12 2-12 2-14 2-16 2-18 2-20 2-22 2-25 2-27 2-21 2-26 2-28 2-34 2-39 2-43 2-49 2-57 2-66 2-79 2-94 2-115 2-138 2-170 2-113 2 0 2 0 2 0 2 0 2 0 2 0 2 0 2 0 2 0 2 0 2 0 2 0 2 0 2 0 2 0 2 0 2 0 2 0 2 267 2 235 2 175 2 134 2 106 2 84 2 69 2 58 2 50 2 41 2 37 2 31 2 27 2 24 2 20 2 17 2 16 2 14 2 15 2 13 2 13 2 12 2 9 2 9 2 7 2 6 2 5 2 5 2 4 2 2 2 3 2 3 2 4 2 3 2 4 2 4 2 3 2 3 2 3 2 3 2 3 2 3 2 2 2 3 2 2 2 1 2 2 2 1 2 0 2 0 2 1 2 1 2 2 2 2 2 4 2 4 2 2 2 2 2-1 2 0 2-1 2-2 2 1 2 0 2 1 2 0 2 1 2 1 2 2 2 2 2 2 2 2 2 1 2 0 2 0 2-1 2 1 2 1 2 0 2 0 2 0 2-1 2 0 2 0 2-1 2-1 2 0 2 0 8 4 8-3 8 8 8 5 8-5 8 9 8 1 8-1 8 3 8-6 8-1 8-6 8 0 8 4 8 6 8 0 8 6 8 3 8-1 8 8 8-8 8-2 8 4 8-6 8-1"/><path d="M160 2813l8 4 8 0 8 4 8 0 8 4 8 0 8-3 8-3 8-1 8 0 8-5 8-3 8 0 8-2 8 4 8-5 8-2 8 2 8-11 8 6 8 7 8-7 8 5 8-5 8-6 8-1 8-2 8-2 8 1 8-3 8-5 8 4 8 2 8-7 8 5 8 2 8-5 8-7 8-2 8 7 8-2 8-2 8 4 8-2 8-4 8-2 8-7 8-8 8 3 8 10 8-1 8-7 8-2 8-3 8 1 8 6 8-6 8-3 8-8 8 4 8-6 8-6 8-3 8 3 8 11 8-5 8-4 8-3 8-5 8-1 8-2 8-1 8-8 8 1 8 1 8 5 8-4 8-2 8-2 8 0 8-3 8-10 8 1 8-5 8-11 8 1 8-1 8-10 8-8 8-3 8 2 8-7 8-5 8 0 8-16 8-2 8-5 8 1 8-3 8-4 8-5 8 2 8-2 8-5 8 2 8-2 8-6 8-5 8 1 8 2 8-3 8-2 8-5 8 0 8 4 8 9 8-8 8-4 8 0 8-4 8-5 8 1 8 4 8 1 8-12 8-2 8-3 8-6 8-5 8-10 8-22 8-17 8-10 8-6 8-18 8-14 8-3 8-10 8-10 8-10 8-10 8-20 8-6 8-2 8-2 2-3 2-3 2-3 2-2 2-1 2-1 2-1 2-1 2 0 2 0 2 1 2 0 2 1 2 0 2 0 2 0 2 0 2 0 2-1 2 0 2-1 2-2 2-1 2-2 2-1 2-1 2 0 2-1 2 1 2 1 2 2 2 2 2 1 2 1 2-2 2-2 2 0 2-1 2 0 2-1 2-1 2-1 2-1 2 0 2-1 2-1 2-1 2-1 2 0 2-1 2 0 2 0 2-2 2-1 2-2 2-3 2-4 2-4 2-5 2-6 2-7 2-7 2-8 2-8 2-6 2-7 2-6 2-8 2-9 2-10 2-13 2-12 2-14 2-17 2-18 2-20 2-23 2-26 2-31 2-24 2-28 2-31 2-33 2-38 2-43 2-48 2-57 2-66 2-78 2-92 2-111 2-134 2-167 2-151 2 0 2 0 2 0 2 0 2 0 2 0 2 0 2 0 2 0 2 0 2 0 2 0 2 0 2 0 2 0 2 0 2 0 2 0 2 289 2 235 2 178 2 137 2 108 2 86 2 70 2 58 2 48 2 41 2 35 2 30 2 27 2 23 2 20 2 18 2 15 2 14 2 13 2 11 2 11 2 10 2 8 2 8 2 5 2 5 2 5 2 5 2 7 2 7 2 7 2 7 2 7 2 6 2 5 2 5 2 2 2 1 2 0 2 0 2 0 2 0 2 2 2 2 2 3 2 3 2 3 2 2 2 2 2 2 2 1 2 1 2 1 2 1 2 1 2 1 2 2 2 2 2 1 2 2 2-1 2-1 2-2 2-1 2 0 2 1 2 4 2 3 2 3 2 3 2 0 2 0 2-1 2-1 2 0 2 0 2 2 2 2 2 3 2 2 2 0 2 1 2-3 2-2 2-3 2-2 2-2 2-1 8 5 8 6 8 6 8 0 8 4 8-2 8-2 8 15 8-4 8-5 8 0 8 4 8-5 8 1 8 8 8 0 8 3 8 0 8-5 8-2 8 0 8 7 8-1 8 6 8-5"/><path d="M160 2852l8-3 8 2 8-2 8 2 8-1 8-4 8 8 8-8 8-8 8-4 8 2 8 5 8 3 8-8 8-2 8-2 8 5 8-5 8 1 8-1 8 1 8-3 8-6 8-5 8 5 8 6 8-6 8-10 8 5 8-5 8 3 8 0 8-8 8 2 8 11 8-6 8-2 8 4 8-13 8 3 8 0 8-8 8-12 8 5 8 4 8-5 8-1 8 4 8-2 8 0 8 4 8-13 8 4 8-1 8-8 8-2 8 13 8-1 8-5 8-8 8-2 8-4 8 3 8-4 8 4 8 3 8-12 8 3 8 0 8-5 8-1 8-7 8 5 8 1 8-8 8-2 8-5 8 0 8-3 8 0 8 3 8-8 8-12 8-6 8-2 8 1 8-1 8-7 8-8 8-11 8-3 8-1 8-2 8-5 8-4 8-7 8-8 8-3 8 0 8-2 8 5 8-2 8-5 8 3 8-2 8-8 8-2 8 5 8-5 8-8 8-4 8 7 8-3 8 4 8-3 8-6 8-4 8 2 8-8 8 12 8-5 8-4 8-6 8-9 8-4 8 3 8-12 8-8 8-1 8-3 8-27 8-21 8-8 8-15 8-11 8-4 8-9 8-13 8-12 8-6 8 2 8-9 8-7 8-6 8-8 2-1 2-1 2-2 2-2 2-4 2-3 2-4 2-4 2-3 2-3 2-1 2-2 2 0 2-1 2 1 2 0 2 1 2 1 2 0 2 1 2 1 2 2 2 2 2 2 2 1 2 1 2 0 2-1 2-1 2-2 2-1 2 0 2 1 2 1 2 0 2 1 2 1 2 0 2 2 2 1 2 1 2 0 2-2 2-2 2-1 2-2 2 0 2 0 2-1 2-1 2-3 2-2 2-3 2-2 2-2 2-2 2-4 2-3 2-5 2-5 2-6 2-7 2-7 2-7 2-7 2-8 2-7 2-9 2-8 2-10 2-11 2-10 2-14 2-15 2-20 2-21 2-25 2-28 2-29 2-23 2-25 2-28 2-33 2-37 2-41 2-47 2-54 2-64 2-77 2-91 2-111 2-134 2-166 2-196 2 0 2 0 2 0 2 0 2 0 2 0 2 0 2 0 2 0 2 0 2 0 2 0 2 0 2 0 2 0 2 0 2 0 2 0 2 335 2 234 2 173 2 133 2 105 2 83 2 70 2 57 2 48 2 40 2 36 2 32 2 29 2 25 2 21 2 19 2 15 2 12 2 12 2 11 2 13 2 11 2 11 2 9 2 6 2 5 2 4 2 3 2 4 2 3 2 3 2 2 2 5 2 4 2 5 2 6 2 5 2 5 2 3 2 2 2 2 2 1 2 3 2 3 2 2 2 3 2 1 2 2 2 2 2 2 2 3 2 4 2 1 2 1 2-3 2-3 2-3 2-3 2-1 2-2 2 0 2 0 2 1 2 1 2 2 2 2 2 1 2 1 2 1 2 0 2 0 2 0 2 1 2 1 2 2 2 2 2 1 2 1 2 1 2 1 2 1 2 1 2 1 2 2 2 2 2 2 2 1 2 1 8-11 8 2 8 5 8 4 8 1 8 0 8 0 8 0 8 0 8 6 8 7 8 0 8 2 8-2 8-6 8 1 8-6 8 6 8 3 8-3 8 2 8-2 8 0 8 10 8 10"/><path d="M160 2882l8-1 8-1 8-2 8 7 8 3 8-5 8-7 8-2 8-3 8 2 8-5 8-4 8 6 8-9 8-3 8 0 8 8 8-3 8-6 8-1 8 1 8 0 8-3 8 3 8 3 8-7 8-6 8 1 8-9 8-1 8 8 8 1 8-6 8-3 8 0 8 2 8 8 8-8 8-12 8-1 8 0 8 3 8 1 8-1 8-7 8 1 8-3 8 0 8-4 8 2 8 4 8-9 8-3 8 2 8 6 8-1 8 2 8-1 8-14 8 1 8-2 8-8 8 0 8 2 8 3 8-4 8-10 8-1 8 4 8-4 8-1 8-3 8 6 8 4 8-5 8 0 8-13 8-2 8 7 8-9 8-9 8-8 8-12 8 5 8 4 8-5 8-8 8-10 8-6 8-4 8-4 8-3 8-2 8-7 8-7 8 0 8-5 8-11 8 1 8 1 8-1 8-8 8-3 8-1 8 5 8-2 8-1 8-4 8-1 8-8 8 12 8 8 8-11 8 1 8 5 8 1 8-7 8-5 8-1 8 0 8-5 8 1 8-6 8-10 8-11 8 0 8-4 8-10 8-19 8-5 8-14 8-17 8-14 8-8 8-16 8-16 8-5 8-2 8-10 8-6 8-8 8-13 8 3 8-5 8-9 2-2 2-3 2-3 2-2 2-2 2-2 2-1 2-2 2-1 2-1 2 0 2 0 2 1 2 2 2-1 2 0 2-3 2-2 2-2 2-2 2 1 2 1 2 1 2 1 2-1 2 0 2-1 2 0 2 1 2 1 2 2 2 2 2 4 2 3 2 3 2 4 2-1 2-1 2-3 2-4 2-3 2-4 2-1 2-1 2 1 2 1 2 1 2 1 2 1 2 0 2-1 2-1 2-1 2-2 2-2 2-3 2-5 2-5 2-7 2-7 2-5 2-7 2-5 2-7 2-8 2-8 2-9 2-10 2-9 2-11 2-10 2-10 2-11 2-12 2-16 2-18 2-24 2-28 2-32 2-25 2-26 2-29 2-31 2-35 2-40 2-46 2-54 2-62 2-75 2-89 2-109 2-133 2-165 2-200 2-40 2 0 2 0 2 0 2 0 2 0 2 0 2 0 2 0 2 0 2 0 2 0 2 0 2 0 2 0 2 0 2 0 2 10 2 339 2 237 2 177 2 136 2 106 2 85 2 68 2 57 2 49 2 41 2 37 2 32 2 27 2 24 2 19 2 16 2 16 2 13 2 14 2 12 2 12 2 11 2 9 2 8 2 7 2 6 2 6 2 5 2 5 2 4 2 4 2 5 2 6 2 6 2 4 2 4 2 2 2 2 2 1 2 1 2 2 2 2 2 2 2 2 2 4 2 3 2 3 2 4 2 2 2 1 2 0 2 0 2 0 2 0 2 1 2 1 2 0 2 0 2-1 2 0 2 0 2 1 2 1 2 1 2 0 2 0 2 0 2 0 2 0 2 0 2 2 2 1 2 1 2 2 2 1 2 2 2 2 2 3 2 1 2 2 2 0 2-1 2-1 2-2 2-1 2-2 2-1 2 0 8 4 8 4 8 0 8 3 8-6 8 4 8 4 8-5 8 6 8 9 8 2 8-5 8 2 8-1 8 4 8 1 8-6 8 1 8 1 8 1 8 3 8 1 8-3 8 4 8-6" stroke="#ff0000" stroke-width="12.8"/><path d="M160 2909l8-6 8-5 8-1 8 7 8 2 8-5 8-2 8 3 8-2 8 1 8 5 8-2 8-11 8-4 8 2 8-3 8 7 8 0 8-6 8-3 8-2 8 2 8 4 8-3 8-11 8 2 8 5 8-9 8-7 8 2 8 4 8-5 8-5 8 4 8 7 8-8 8-7 8 2 8-6 8-1 8 1 8 4 8-3 8-2 8-2 8-8 8-4 8 9 8-6 8 3 8 0 8-4 8-1 8-3 8-7 8 1 8-6 8 0 8 0 8 1 8 3 8-12 8 4 8-1 8-4 8 1 8-3 8 0 8-2 8-6 8 6 8 1 8-10 8-7 8 6 8 1 8-12 8-9 8 9 8 1 8-13 8-2 8 2 8-7 8 3 8-1 8-11 8-8 8-9 8-5 8-6 8-5 8 0 8 0 8-8 8-11 8 0 8 3 8-6 8-6 8 1 8-1 8-5 8-3 8 0 8-4 8-8 8-1 8 7 8 4 8-4 8-1 8 4 8-1 8-1 8 3 8-6 8-1 8 2 8-8 8-4 8 1 8-4 8-7 8-8 8-3 8-3 8-10 8-13 8-15 8-16 8-6 8-7 8-28 8-11 8-6 8-15 8-11 8 1 8 1 8-12 8-14 8 5 8-12 8-6 2 2 2 3 2 1 2 2 2 0 2-1 2-3 2-3 2-4 2-3 2-3 2-3 2 0 2-1 2 0 2 1 2-1 2-1 2-1 2-1 2-1 2 0 2 1 2 1 2 2 2 2 2 2 2 2 2-1 2 0 2-2 2-1 2-1 2-1 2-1 2-1 2 0 2-1 2 1 2 1 2 1 2 1 2 0 2 1 2 1 2 1 2 0 2 1 2-2 2-2 2-4 2-3 2-3 2-3 2-1 2-2 2-1 2-1 2-2 2-3 2-4 2-5 2-7 2-7 2-8 2-10 2-10 2-12 2-11 2-12 2-12 2-12 2-14 2-16 2-17 2-20 2-22 2-25 2-30 2-23 2-29 2-32 2-34 2-38 2-40 2-47 2-52 2-61 2-72 2-87 2-106 2-131 2-164 2-200 2-72 2 0 2 0 2 0 2 0 2 0 2 0 2 0 2 0 2 0 2 0 2 0 2 0 2 0 2 0 2 0 2 0 2 26 2 342 2 237 2 179 2 136 2 109 2 87 2 71 2 59 2 48 2 41 2 34 2 28 2 26 2 22 2 21 2 19 2 15 2 14 2 12 2 10 2 10 2 10 2 10 2 10 2 9 2 9 2 8 2 8 2 7 2 6 2 4 2 4 2 2 2 2 2 3 2 2 2 3 2 3 2 3 2 4 2 1 2 1 2 0 2-1 2 0 2 0 2 3 2 4 2 4 2 4 2 3 2 3 2 2 2 3 2 1 2 1 2 0 2 0 2-1 2-1 2 0 2-1 2 1 2 1 2 3 2 2 2 1 2 1 2-1 2-1 2 0 2 0 2 1 2 1 2 0 2-1 2 0 2-1 2 2 2 1 2 1 2 2 2 0 2 1 2 0 2 0 2 2 2 1 8 2 8-2 8 5 8 5 8-5 8-4 8 1 8 12 8 8 8 2 8-2 8-4 8 4 8-2 8-5 8-8 8 6 8 13 8 7 8-2 8-12 8 2 8 0 8 5 8 5"/><path d="M160 2937l8-3 8-7 8 2 8 1 8 2 8-1 8 0 8-2 8-6 8-5 8 3 8-5 8 2 8-4 8-4 8 5 8 0 8-4 8-9 8 1 8 10 8 2 8-1 8-9 8-2 8 0 8-6 8-2 8-1 8 1 8 8 8-5 8-4 8 3 8-2 8-3 8 4 8-5 8-3 8-6 8-6 8 2 8 5 8-4 8 0 8-1 8-3 8-5 8-1 8 0 8-5 8-1 8 7 8 4 8-8 8-4 8 1 8-4 8-6 8-2 8 11 8-2 8-13 8-3 8 1 8 5 8 2 8-6 8-4 8-9 8-2 8 3 8 4 8 3 8-12 8-8 8 2 8-7 8-5 8 2 8-3 8 2 8-4 8-7 8-8 8-8 8 10 8-5 8-14 8-6 8-3 8-6 8 1 8-1 8-13 8-7 8 8 8-8 8-11 8-6 8 2 8-8 8-12 8-1 8 12 8-5 8-3 8-4 8 3 8-6 8 2 8-1 8 3 8 4 8-1 8 4 8-3 8 1 8-5 8 4 8 1 8-8 8-5 8-11 8-6 8-6 8-3 8-14 8-6 8-5 8-22 8-11 8-13 8-13 8-11 8-6 8-11 8-13 8 3 8 2 8-11 8-8 8-5 8-6 8-7 2-2 2-1 2-2 2-2 2-2 2-1 2-1 2-2 2-2 2-2 2-1 2-2 2 0 2 0 2 1 2 1 2 2 2 2 2 2 2 2 2 0 2 1 2-2 2-1 2-1 2-1 2-1 2 0 2 1 2 1 2 1 2 2 2 1 2 2 2 0 2 0 2-1 2-1 2-2 2-2 2-2 2-2 2-2 2-2 2-2 2-1 2 0 2 0 2 1 2 1 2 0 2-1 2-2 2-3 2-2 2-2 2-1 2-1 2-2 2-2 2-5 2-5 2-6 2-7 2-6 2-8 2-8 2-9 2-12 2-13 2-15 2-15 2-17 2-18 2-20 2-23 2-23 2-25 2-28 2-22 2-23 2-27 2-31 2-35 2-41 2-46 2-56 2-65 2-78 2-93 2-110 2-134 2-164 2-198 2-91 2 0 2 0 2 0 2 0 2 0 2 0 2 0 2 0 2 0 2 0 2 0 2 0 2 0 2 0 2 0 2 0 2 33 2 349 2 244 2 183 2 139 2 109 2 87 2 69 2 56 2 46 2 39 2 34 2 30 2 26 2 24 2 20 2 18 2 17 2 15 2 14 2 14 2 11 2 11 2 9 2 7 2 6 2 5 2 6 2 6 2 6 2 7 2 5 2 5 2 3 2 4 2 4 2 3 2 5 2 4 2 5 2 5 2 5 2 5 2 2 2 2 2 0 2-1 2 0 2 0 2 0 2 1 2 0 2-1 2 0 2 1 2 1 2 2 2 3 2 3 2 2 2 2 2-1 2 0 2-3 2-3 2 0 2 0 2 4 2 3 2 4 2 4 2 1 2 1 2-1 2 0 2-2 2-2 2-1 2-2 2 0 2 0 2 1 2 1 2 2 2 1 2 0 2 0 2-1 2-1 8-4 8 8 8 3 8 1 8 1 8 8 8 2 8 2 8 2 8 0 8 4 8 3 8-7 8-2 8 3 8 2 8-1 8 1 8-1 8 0 8-2 8 3 8 8 8 5 8-1"/><path d="M160 2969l8-5 8-8 8-3 8 1 8 2 8-10 8 0 8 5 8-1 8-7 8-3 8 5 8 0 8-2 8-3 8-3 8 4 8 1 8-5 8 4 8-8 8 8 8-9 8-2 8 2 8 0 8-4 8 1 8-6 8-7 8 6 8 0 8 0 8-3 8-3 8 8 8-6 8-6 8 4 8-6 8-2 8-1 8-13 8 2 8 12 8-2 8 0 8-7 8-6 8-3 8 2 8-3 8-2 8-3 8 2 8 1 8 3 8-12 8-4 8-1 8 7 8-11 8 2 8-4 8 8 8 6 8-8 8-7 8 2 8 2 8-8 8-4 8 1 8-6 8-3 8-1 8-2 8-5 8-3 8 1 8-2 8-2 8-10 8-4 8 1 8-7 8-2 8-13 8-2 8 1 8-9 8-1 8-10 8-5 8-3 8-4 8-2 8-15 8 0 8-1 8 1 8-8 8-8 8 7 8-3 8-7 8 1 8 0 8 1 8-4 8-3 8 2 8 6 8 1 8-2 8 2 8 4 8-11 8-6 8-2 8-2 8 1 8 1 8-7 8-7 8-11 8-4 8-10 8-8 8-7 8-14 8-11 8-21 8-10 8-6 8-11 8-5 8-10 8-5 8 1 8-11 8-3 8-4 8-3 8-4 2-2 2-2 2-3 2-2 2-1 2-2 2-1 2 0 2 0 2-1 2 0 2 0 2-1 2-1 2 0 2 1 2 0 2 1 2 1 2 1 2 1 2 0 2 0 2 0 2 1 2 1 2 0 2 1 2-2 2-1 2-1 2-1 2 2 2 2 2 3 2 2 2 2 2 1 2-1 2 0 2-2 2-2 2-2 2-3 2-2 2-2 2-2 2-2 2-2 2-2 2-1 2-1 2-1 2-1 2-2 2-2 2-3 2-4 2-4 2-5 2-4 2-5 2-4 2-5 2-7 2-8 2-12 2-13 2-13 2-14 2-12 2-12 2-13 2-14 2-18 2-21 2-22 2-26 2-28 2-22 2-26 2-29 2-34 2-39 2-43 2-49 2-56 2-64 2-76 2-91 2-109 2-134 2-165 2-198 2-117 2 0 2 0 2 0 2 0 2 0 2 0 2 0 2 0 2 0 2 0 2 0 2 0 2 0 2 0 2 0 2 0 2 55 2 349 2 242 2 179 2 134 2 107 2 86 2 72 2 60 2 53 2 45 2 40 2 35 2 27 2 25 2 18 2 16 2 12 2 12 2 11 2 10 2 12 2 10 2 11 2 11 2 10 2 9 2 7 2 6 2 4 2 4 2 4 2 3 2 5 2 4 2 3 2 3 2 2 2 3 2 3 2 3 2 5 2 4 2 3 2 2 2 1 2 1 2 0 2 0 2-1 2-1 2-1 2-1 2 0 2 0 2 3 2 3 2 4 2 4 2 5 2 4 2 2 2 3 2 2 2 1 2 1 2 0 2 0 2 0 2 0 2 0 2-1 2 0 2 0 2 0 2-1 2-1 2 0 2-1 2 0 2-1 2 0 2 0 2 0 2 0 2 1 2 1 2 2 2 1 8 1 8 1 8 3 8 6 8 8 8-1 8-11 8 0 8 4 8 4 8-3 8-2 8 11 8 0 8-2 8 4 8 0 8-6 8 6 8-2 8-2 8-2 8 7 8 0 8-1"/><path d="M160 2988l8-4 8-3 8-5 8 15 8 1 8-10 8-5 8 7 8 3 8-3 8-5 8 0 8-6 8 0 8 1 8-3 8 3 8-4 8-4 8-4 8-1 8-4 8 8 8-4 8 1 8-1 8-2 8-5 8-1 8 0 8 0 8 2 8 0 8 5 8-10 8-10 8 3 8-2 8 2 8-3 8-4 8 1 8-3 8-9 8-5 8-1 8 0 8-1 8 1 8-1 8-6 8 1 8 4 8-7 8 0 8 0 8-12 8 5 8 0 8-1 8-5 8-5 8 1 8 3 8 1 8 3 8 5 8-9 8-5 8-1 8-4 8-5 8-7 8 6 8-1 8-3 8-6 8 1 8 2 8-12 8-5 8 7 8-7 8-10 8-3 8-9 8-3 8 1 8-11 8-7 8-2 8-11 8 0 8-3 8 2 8-5 8-6 8-7 8-5 8-9 8 3 8 0 8-2 8-7 8-7 8-7 8-12 8 5 8 5 8 5 8-2 8-2 8 11 8 1 8-1 8 0 8-1 8 5 8-1 8 2 8-10 8-8 8-6 8-4 8-3 8-15 8-9 8 0 8-10 8-18 8-8 8-9 8-8 8-19 8-12 8-2 8-7 8 3 8-2 8-5 8-7 8-8 8-3 8-5 8-8 2-1 2-2 2-2 2-2 2-1 2 0 2 0 2 1 2 0 2 0 2-2 2-2 2-2 2-2 2 1 2 1 2 2 2 1 2 1 2 1 2-1 2 0 2-2 2-2 2 0 2-1 2 0 2 0 2 0 2 0 2 0 2 0 2 1 2 1 2 0 2 1 2 1 2 1 2 0 2 0 2 0 2 0 2 0 2 0 2-1 2-1 2-2 2-3 2-1 2-2 2 1 2 0 2 0 2-1 2-2 2-3 2-5 2-5 2-6 2-5 2-5 2-5 2-5 2-6 2-7 2-8 2-10 2-11 2-12 2-14 2-12 2-13 2-13 2-15 2-19 2-21 2-24 2-28 2-31 2-26 2-27 2-30 2-31 2-36 2-39 2-46 2-53 2-63 2-76 2-91 2-110 2-136 2-168 2-201 2-143 2 0 2 0 2 0 2 0 2 0 2 0 2 0 2 0 2 0 2 0 2 0 2 0 2 0 2 0 2 0 2 0 2 75 2 355 2 247 2 182 2 134 2 106 2 86 2 69 2 57 2 46 2 40 2 35 2 30 2 31 2 26 2 26 2 22 2 17 2 16 2 13 2 12 2 13 2 11 2 10 2 10 2 7 2 7 2 4 2 3 2 5 2 4 2 7 2 6 2 5 2 5 2 4 2 3 2 3 2 2 2 3 2 2 2 1 2 2 2 1 2 0 2 0 2 1 2 1 2 2 2 3 2 3 2 3 2 3 2 1 2 1 2 1 2 1 2 2 2 3 2 3 2 3 2 1 2 0 2-1 2-2 2-1 2-2 2 0 2 0 2 0 2-1 2-1 2-1 2-1 2-1 2 0 2 0 2 3 2 3 2 4 2 4 2 2 2 3 2 1 2 0 2-1 2-1 2-2 2-1 8-1 8 0 8 1 8 5 8-1 8 4 8 8 8 0 8-3 8-4 8-3 8 1 8 7 8 3 8 5 8-2 8-4 8 2 8 0 8 0 8-2 8-5 8 6 8 2 8-6"/><path d="M160 3021l8-4 8-4 8 5 8-3 8-8 8 2 8-2 8-3 8 6 8 0 8-10 8-5 8 5 8-3 8 2 8 0 8-4 8 4 8-7 8-2 8-1 8-3 8 0 8-5 8-2 8 4 8 2 8-6 8-5 8-1 8 0 8-1 8 1 8-3 8-11 8 2 8 4 8 3 8 6 8-6 8-14 8 3 8 1 8-12 8 1 8 6 8-3 8-8 8-1 8 1 8-7 8-1 8 1 8 6 8 4 8-6 8-11 8-1 8-2 8-5 8 5 8 3 8-7 8-3 8 3 8-7 8-6 8 3 8 5 8-4 8-4 8 2 8-3 8-2 8-7 8-3 8 7 8-5 8-5 8-6 8-3 8 1 8-13 8-7 8 4 8-3 8-11 8-8 8-3 8-2 8 1 8-8 8-9 8 2 8-2 8-11 8-5 8-6 8-6 8-2 8-3 8-9 8-10 8 5 8 5 8 0 8-12 8-8 8 4 8 5 8-1 8 4 8 4 8-1 8 0 8 3 8 2 8-6 8 2 8-6 8-2 8-3 8 4 8-12 8 6 8-8 8-15 8-11 8-14 8-19 8-2 8-6 8-10 8-5 8-8 8-12 8 4 8 1 8-13 8-6 8-3 8 1 8-2 8-11 8-7 2-3 2-3 2-1 2-2 2 1 2 1 2 0 2 0 2-2 2-2 2-3 2-2 2-1 2-1 2 1 2 2 2 2 2 3 2 0 2 0 2-2 2-3 2-2 2-3 2 0 2 1 2 2 2 3 2 1 2 1 2-1 2-2 2-2 2-2 2-1 2-1 2 0 2 0 2-1 2-1 2 0 2-1 2 0 2-1 2 0 2-1 2 0 2 0 2-1 2-1 2-1 2-2 2-3 2-3 2-2 2-3 2-3 2-3 2-3 2-4 2-3 2-5 2-6 2-7 2-7 2-9 2-9 2-10 2-11 2-12 2-13 2-14 2-14 2-16 2-17 2-20 2-21 2-25 2-31 2-24 2-27 2-31 2-32 2-36 2-42 2-47 2-57 2-66 2-80 2-96 2-111 2-137 2-163 2-196 2-170 2 0 2 0 2 0 2 0 2 0 2 0 2 0 2 0 2 0 2 0 2 0 2 0 2 0 2 0 2 0 2 0 2 86 2 358 2 249 2 183 2 134 2 107 2 86 2 71 2 58 2 51 2 45 2 40 2 36 2 29 2 26 2 21 2 19 2 18 2 16 2 15 2 14 2 11 2 10 2 8 2 7 2 7 2 7 2 5 2 5 2 2 2 2 2 3 2 3 2 6 2 5 2 6 2 6 2 5 2 4 2 3 2 3 2 1 2 1 2 1 2 0 2 0 2-1 2 0 2 0 2 1 2 0 2 2 2 2 2 3 2 3 2 2 2 2 2 2 2 2 2 3 2 2 2 1 2 2 2 0 2 1 2 1 2 2 2 2 2 2 2 1 2 0 2-2 2-2 2-2 2-1 2 0 2 0 2 0 2 0 2 1 2 0 2 2 2 2 2 2 2 1 2-1 2 0 2-1 2 0 8 5 8 4 8 4 8-3 8-2 8-1 8 2 8-1 8-1 8 5 8 0 8 5 8 0 8 8 8-8 8 6 8-4 8-4 8 4 8 5 8-1 8-4 8 1 8 6 8 4"/><path d="M160 3036l8 4 8 1 8-1 8-2 8-10 8-1 8 5 8 0 8-13 8-2 8 7 8-1 8-2 8 11 8-4 8-2 8-2 8 2 8-1 8-4 8 6 8-5 8-14 8 0 8-5 8-6 8 4 8 4 8 0 8 3 8-7 8-7 8 6 8-4 8-6 8-3 8-7 8 9 8 4 8-3 8-4 8-16 8 5 8 1 8-7 8 3 8-4 8 4 8-2 8 1 8-16 8-2 8 6 8-7 8 4 8 3 8-5 8 4 8 2 8-2 8-10 8-2 8-2 8 3 8-6 8-3 8-5 8 6 8 3 8 0 8-9 8 7 8-1 8-7 8-16 8-1 8-1 8-2 8 8 8-1 8-15 8-10 8 1 8 5 8-6 8 1 8-1 8-9 8-5 8-11 8-9 8-8 8 0 8-4 8-9 8-2 8 0 8-16 8-2 8-1 8-12 8-5 8-1 8-6 8 0 8-3 8-8 8-2 8 3 8 4 8 10 8-1 8-4 8 6 8 5 8 4 8-7 8-2 8 1 8 1 8-8 8 2 8 1 8-1 8-11 8-10 8-17 8-8 8-4 8-11 8-5 8-15 8-15 8-12 8-1 8-2 8 0 8-3 8-1 8 4 8-4 8-15 8-2 8-7 8-6 2-2 2-2 2-1 2 0 2 1 2 1 2-1 2 0 2-1 2-2 2-1 2 0 2 2 2 2 2 1 2 2 2 0 2 0 2-1 2-2 2-2 2-2 2-2 2-3 2-1 2-1 2 0 2 1 2 2 2 1 2 2 2 2 2 1 2 0 2-1 2-2 2-3 2-2 2-2 2-2 2 0 2 0 2 0 2 0 2 0 2-1 2 0 2-1 2-2 2-2 2-1 2-2 2-1 2-2 2-2 2-2 2-3 2-3 2-3 2-3 2-5 2-5 2-6 2-7 2-8 2-9 2-10 2-12 2-13 2-13 2-15 2-14 2-16 2-16 2-17 2-20 2-20 2-24 2-28 2-22 2-26 2-29 2-35 2-39 2-44 2-50 2-55 2-64 2-76 2-92 2-113 2-137 2-167 2-200 2-197 2 0 2 0 2 0 2 0 2 0 2 0 2 0 2 0 2 0 2 0 2 0 2 0 2 0 2 0 2 0 2 0 2 96 2 363 2 253 2 184 2 134 2 105 2 83 2 70 2 58 2 51 2 46 2 41 2 36 2 30 2 26 2 22 2 19 2 18 2 16 2 15 2 13 2 13 2 12 2 9 2 8 2 6 2 6 2 8 2 7 2 8 2 7 2 6 2 5 2 3 2 2 2 2 2 1 2 1 2 1 2 2 2 2 2 2 2 2 2 2 2 3 2 3 2 2 2 3 2 2 2 1 2 2 2 0 2 0 2-1 2-1 2 0 2 1 2 1 2 1 2 0 2 1 2 1 2 1 2 1 2 0 2 1 2 0 2 1 2 1 2 1 2 1 2 1 2 1 2 2 2 2 2 2 2 2 2 2 2 2 2 1 2 1 2-1 2-1 2-2 2-1 2 1 2 1 2 0 2 0 8-2 8 5 8 1 8 3 8 11 8-2 8-1 8-2 8 3 8-1 8 10 8-1 8-2 8-1 8-5 8 5 8 1 8 0 8-3 8 8 8-4 8-3 8 3 8 2 8-2"/><path d="M160 3070l8 0 8 1 8-7 8 1 8-3 8 5 8-4 8 1 8-3 8-3 8-5 8-7 8 2 8 2 8-1 8-4 8 3 8-2 8 4 8-4 8-1 8 4 8 4 8-10 8-6 8 2 8-1 8-13 8 3 8 0 8 1 8-1 8-1 8-3 8-8 8-5 8 3 8 12 8-6 8-7 8 2 8-11 8 4 8 3 8-6 8-8 8-3 8 3 8-7 8 2 8-5 8 9 8-9 8-7 8 7 8-10 8 1 8 2 8 2 8 6 8-6 8-12 8-7 8 1 8 1 8-4 8 4 8-9 8 9 8 3 8-10 8-3 8-1 8 0 8-5 8-5 8 2 8-1 8-2 8-11 8-7 8 2 8-4 8-7 8-5 8 4 8-7 8-11 8 0 8-6 8 1 8-8 8-12 8-3 8 1 8-1 8-1 8-7 8-17 8-7 8-3 8-2 8-15 8-5 8 1 8-1 8-3 8 3 8 2 8 2 8-5 8-4 8 6 8 10 8-1 8 3 8 3 8-6 8 2 8 8 8 5 8-5 8-14 8-16 8-8 8-2 8-2 8-5 8-12 8-9 8-11 8-13 8-11 8-4 8-4 8 0 8 2 8-4 8-5 8 2 8-7 8-1 8-12 8-10 8 0 2-2 2-2 2-3 2-3 2-2 2-2 2 1 2 1 2 3 2 2 2 2 2 1 2-1 2-2 2-2 2-3 2-2 2-3 2-2 2-2 2 0 2 0 2 2 2 2 2 2 2 2 2 1 2 1 2 0 2-1 2 0 2 0 2 0 2 0 2 0 2 0 2-1 2 0 2 0 2-1 2 1 2 1 2 1 2 0 2 0 2-1 2-1 2-1 2-2 2-1 2-1 2-2 2-1 2-1 2-5 2-5 2-8 2-8 2-7 2-8 2-4 2-4 2-1 2-3 2-5 2-6 2-10 2-11 2-12 2-13 2-13 2-12 2-14 2-15 2-19 2-21 2-26 2-28 2-33 2-27 2-28 2-32 2-32 2-37 2-40 2-46 2-54 2-63 2-77 2-93 2-115 2-140 2-169 2-201 2-219 2 0 2 0 2 0 2 0 2 0 2 0 2 0 2 0 2 0 2 0 2 0 2 0 2 0 2 0 2 0 2 0 2 106 2 368 2 256 2 188 2 136 2 107 2 86 2 70 2 58 2 49 2 45 2 41 2 36 2 31 2 28 2 22 2 18 2 15 2 12 2 12 2 11 2 12 2 11 2 11 2 9 2 9 2 9 2 7 2 8 2 5 2 6 2 3 2 4 2 2 2 3 2 5 2 5 2 5 2 6 2 3 2 4 2 4 2 4 2 3 2 4 2 1 2 0 2 0 2 0 2 1 2 1 2 1 2 1 2 0 2 1 2 0 2 1 2 0 2 0 2 0 2 1 2 3 2 3 2 3 2 3 2 0 2 1 2-1 2 0 2-2 2-1 2 0 2-1 2 2 2 2 2 3 2 3 2 2 2 3 2 1 2 1 2-2 2-2 2-2 2-3 2-1 2-2 2 0 2 1 8 7 8-8 8 10 8 5 8 2 8 4 8-2 8 4 8-2 8 1 8-2 8-6 8 4 8 8 8 3 8 0 8-7 8-1 8 12 8 0 8-7 8 1 8 6 8-6 8 1"/><path d="M160 3102l8-4 8-8 8 3 8 0 8-1 8 1 8 6 8-6 8-2 8-4 8-5 8-6 8 0 8-1 8 6 8 4 8-9 8 3 8 8 8-9 8-6 8-7 8 1 8 9 8-1 8-11 8-10 8 0 8 0 8 2 8 3 8-5 8-3 8-7 8 4 8 3 8-7 8 1 8 1 8-4 8-4 8-5 8 0 8-1 8 1 8-2 8-10 8-5 8 4 8 2 8-3 8-5 8-3 8-3 8 7 8-6 8-9 8 9 8 1 8-3 8 8 8-5 8-6 8-9 8 4 8 3 8-4 8-5 8 0 8-6 8-5 8 1 8-1 8-4 8-2 8-12 8 1 8 1 8 1 8-6 8-14 8-2 8 4 8 0 8-12 8-2 8 2 8-10 8-8 8-4 8-4 8-10 8-3 8 7 8-1 8-7 8-14 8-4 8-13 8-16 8 1 8 1 8-1 8-2 8-8 8-8 8-2 8 2 8-4 8 3 8 8 8 0 8 4 8 8 8 1 8-2 8-2 8 4 8-1 8-3 8 0 8-1 8-4 8-13 8-9 8-4 8-6 8-5 8-13 8-4 8-12 8-6 8-2 8-1 8-6 8-10 8 1 8-8 8-8 8 1 8 0 8-7 8-4 8-6 8-7 2 0 2-1 2 2 2 2 2 1 2 2 2-1 2 0 2-1 2-1 2 0 2-1 2 0 2 0 2 0 2 0 2-1 2 0 2-2 2-2 2-1 2-2 2 0 2 0 2 1 2 1 2 0 2 0 2-2 2-2 2-1 2 0 2 1 2 0 2 1 2 0 2 0 2-1 2-1 2-1 2-1 2 0 2-1 2-1 2-2 2-1 2-1 2-1 2 0 2 0 2-1 2 0 2-2 2-3 2-4 2-4 2-4 2-5 2-5 2-5 2-5 2-7 2-6 2-7 2-8 2-9 2-10 2-11 2-12 2-13 2-12 2-13 2-13 2-15 2-18 2-20 2-24 2-27 2-30 2-24 2-26 2-29 2-33 2-37 2-43 2-50 2-56 2-66 2-78 2-95 2-116 2-142 2-170 2-201 2-237 2 0 2 0 2 0 2 0 2 0 2 0 2 0 2 0 2 0 2 0 2 0 2 0 2 0 2 0 2 0 2 0 2 118 2 369 2 256 2 190 2 134 2 110 2 87 2 72 2 61 2 50 2 45 2 40 2 36 2 31 2 28 2 26 2 22 2 20 2 18 2 14 2 13 2 10 2 9 2 8 2 7 2 7 2 6 2 7 2 6 2 7 2 6 2 6 2 6 2 4 2 4 2 2 2 3 2 2 2 3 2 3 2 3 2 2 2 2 2 2 2 2 2 3 2 3 2 2 2 1 2 1 2 1 2 3 2 2 2 2 2 2 2-1 2 0 2-2 2-1 2 1 2 1 2 3 2 2 2 3 2 3 2 1 2 2 2 0 2 0 2-3 2-2 2-2 2-2 2 2 2 1 2 3 2 4 2 3 2 2 2 2 2 1 2 1 2 0 2 0 2 0 2 0 2 0 2 0 2 1 8-2 8-4 8 11 8-8 8 2 8 4 8-8 8-2 8 8 8 0 8 4 8 7 8-1 8 1 8-6 8-11 8 7 8 0 8 5 8-2 8 7 8 2 8-7 8 2 8-1"/><path d="M160 3122l8 0 8 4 8-5 8-8 8-8 8 8 8 4 8-5 8 2 8-3 8 6 8 0 8-7 8 0 8 4 8-7 8-13 8 5 8 7 8-3 8-6 8-3 8-4 8-3 8-9 8 3 8-1 8 0 8 10 8-1 8-2 8-14 8-3 8 0 8 0 8 2 8-7 8-6 8-1 8 8 8-10 8-3 8 1 8 1 8 5 8-9 8-8 8 1 8-3 8-1 8 2 8 0 8 1 8-5 8-9 8 9 8-1 8-7 8-6 8-4 8 1 8-5 8-2 8 7 8-1 8-3 8-1 8 1 8-1 8-4 8-7 8-2 8 3 8-6 8-1 8-1 8-4 8-2 8 0 8 0 8-13 8-4 8-4 8-6 8-3 8-3 8-9 8-3 8 2 8-6 8-11 8 1 8-5 8-5 8-3 8-3 8-13 8-13 8 0 8-10 8-4 8-4 8-9 8 3 8-1 8-7 8-3 8-2 8 0 8 2 8 4 8-6 8 2 8 4 8 6 8 6 8 6 8 7 8-7 8-10 8 6 8-2 8-9 8-9 8-5 8-1 8-4 8-8 8-11 8-8 8-8 8-11 8-13 8-1 8-1 8-2 8-6 8 0 8 0 8-3 8 3 8-4 8-5 8-14 8-1 2 0 2 0 2-2 2-2 2-2 2-2 2 0 2-1 2 1 2 0 2-1 2 0 2-2 2-2 2-1 2-2 2-1 2-1 2 1 2 0 2 1 2 0 2 0 2 1 2 0 2 1 2 1 2 1 2 1 2 1 2 0 2-1 2 0 2 0 2 1 2 2 2 2 2 3 2 1 2 2 2-1 2-1 2-2 2-2 2-4 2-4 2-5 2-6 2-3 2-5 2-1 2-2 2-1 2 0 2 0 2 0 2-1 2-2 2-4 2-5 2-8 2-8 2-8 2-8 2-7 2-8 2-9 2-11 2-12 2-13 2-14 2-14 2-15 2-17 2-19 2-21 2-25 2-26 2-30 2-25 2-26 2-29 2-31 2-35 2-41 2-46 2-55 2-64 2-78 2-95 2-117 2-142 2-170 2-200 2-250 2-25 2 0 2 0 2 0 2 0 2 0 2 0 2 0 2 0 2 0 2 0 2 0 2 0 2 0 2 0 2 0 2 134 2 377 2 262 2 189 2 132 2 107 2 85 2 72 2 60 2 52 2 47 2 43 2 38 2 33 2 29 2 23 2 19 2 17 2 14 2 14 2 12 2 12 2 12 2 10 2 9 2 7 2 6 2 6 2 6 2 6 2 5 2 7 2 6 2 6 2 5 2 4 2 4 2 4 2 3 2 2 2 3 2 2 2 2 2 2 2 2 2 2 2 1 2 2 2 1 2 2 2 1 2 2 2 1 2 3 2 2 2 2 2 1 2 1 2 1 2 1 2 1 2 2 2 1 2 1 2 0 2-1 2-1 2 0 2-1 2 1 2 0 2 0 2 1 2 1 2 1 2 2 2 2 2 1 2 2 2-1 2-1 2-1 2-2 2 1 2 0 2 1 2 2 2 1 2 0 8-4 8-2 8 0 8-3 8 5 8 5 8-4 8 2 8 3 8-4 8 8 8 3 8 4 8 1 8-6 8-1 8-1 8 2 8 7 8 6 8-8 8 5 8-2 8-3 8-1"/><path d="M160 3152l8 0 8-2 8-2 8 2 8-4 8 2 8 4 8-14 8-3 8 2 8 6 8-2 8-2 8-1 8-9 8 1 8 1 8-4 8-3 8-4 8-1 8-2 8 1 8-2 8-5 8 3 8 4 8-7 8-8 8 5 8-7 8 4 8-3 8-2 8 2 8-4 8-5 8-5 8-2 8-8 8-5 8 4 8-3 8 1 8 0 8-1 8-5 8-7 8 4 8-1 8-3 8-6 8 5 8-2 8-1 8 6 8-3 8-14 8-4 8 3 8 6 8-5 8-3 8 4 8-5 8-1 8 2 8-7 8-9 8 7 8 1 8-15 8-3 8 2 8 0 8-2 8 2 8-9 8-7 8-2 8 2 8-8 8-1 8-3 8-13 8-7 8-4 8 9 8-8 8-9 8 2 8-7 8-5 8-14 8-3 8 0 8-1 8-10 8-10 8-2 8-10 8-4 8-4 8-6 8-1 8-1 8-4 8 3 8 2 8 6 8-6 8 2 8 0 8 5 8 13 8-1 8 1 8-5 8 3 8-2 8 3 8-7 8-13 8 3 8-4 8-8 8-7 8-18 8-4 8-6 8-2 8-5 8-11 8-8 8-2 8 2 8-4 8 4 8-1 8-4 8-1 8 1 8-6 8-12 8-8 2-2 2-1 2-2 2-1 2 0 2 0 2 1 2 1 2-1 2-1 2-3 2-3 2-3 2-3 2-1 2 0 2 1 2 1 2 3 2 3 2 2 2 2 2 1 2 0 2 0 2 0 2 0 2 0 2-1 2 0 2-1 2 0 2-1 2 0 2 0 2 0 2 0 2-1 2-1 2-1 2-2 2-1 2-2 2-1 2-1 2-1 2-1 2-1 2-1 2-1 2-2 2-2 2-3 2-3 2-4 2-5 2-4 2-5 2-4 2-4 2-4 2-4 2-5 2-6 2-8 2-9 2-11 2-12 2-13 2-13 2-15 2-15 2-15 2-18 2-18 2-21 2-21 2-25 2-29 2-24 2-27 2-30 2-32 2-37 2-41 2-47 2-53 2-63 2-80 2-97 2-119 2-145 2-170 2-199 2-248 2-49 2 0 2 0 2 0 2 0 2 0 2 0 2 0 2 0 2 0 2 0 2 0 2 0 2 0 2 0 2 0 2 140 2 382 2 266 2 194 2 135 2 108 2 85 2 68 2 58 2 48 2 45 2 42 2 38 2 35 2 31 2 27 2 23 2 19 2 17 2 14 2 11 2 11 2 10 2 9 2 9 2 9 2 8 2 6 2 6 2 4 2 4 2 3 2 4 2 4 2 5 2 4 2 5 2 5 2 5 2 5 2 6 2 3 2 4 2 3 2 3 2 3 2 3 2 2 2 2 2 1 2 1 2 0 2-1 2-1 2-2 2-1 2-1 2 0 2 1 2 2 2 2 2 4 2 3 2 4 2 3 2 2 2 2 2-2 2-1 2-3 2-3 2-3 2-3 2 0 2-1 2 2 2 3 2 2 2 3 2 1 2 1 2 0 2 0 2-1 2 0 2 0 2 0 2 2 2 1 8 1 8 2 8 2 8 4 8-2 8 7 8 4 8-3 8 5 8 0 8-5 8-5 8-1 8 2 8 4 8 2 8 5 8 5 8-7 8-7 8 1 8 11 8-2 8-9 8 5"/><path d="M160 3179l8 6 8-2 8-8 8-1 8 3 8-1 8-1 8 0 8-4 8-3 8 5 8-10 8 0 8-3 8-4 8 5 8-7 8 1 8 4 8-3 8-5 8 3 8-3 8-9 8-4 8-5 8-1 8 2 8-6 8 2 8-6 8-2 8 5 8-4 8-7 8-1 8 0 8 1 8-11 8 0 8 1 8-5 8-4 8-2 8 2 8-6 8-1 8 1 8-3 8 3 8-9 8 7 8-2 8 0 8-1 8-9 8-6 8 14 8 5 8-7 8 0 8-6 8-1 8-5 8-1 8-2 8 1 8-12 8-14 8 7 8-3 8-3 8 2 8 5 8-3 8-6 8-6 8 2 8 3 8-10 8-7 8-1 8-5 8-5 8 0 8-7 8-5 8 0 8-1 8-5 8-8 8-5 8-7 8-5 8-3 8-15 8-2 8-7 8-5 8-10 8 1 8-4 8-9 8-11 8 1 8 6 8-4 8-5 8 1 8 1 8 11 8-4 8-1 8 7 8 4 8 6 8-1 8 2 8 1 8-2 8-4 8-7 8-2 8-6 8-9 8-16 8 1 8-5 8-5 8-7 8-4 8-8 8-12 8 0 8 5 8 1 8-2 8-5 8-4 8-4 8 6 8-12 8-6 8-3 8 1 2 0 2 0 2-1 2-1 2-1 2-1 2-2 2-3 2-2 2-2 2 1 2 0 2 3 2 2 2-1 2-1 2-3 2-3 2 0 2-1 2 3 2 2 2 2 2 2 2 1 2 2 2 0 2 1 2-3 2-3 2-3 2-2 2 1 2 1 2 3 2 2 2 1 2 0 2-2 2-2 2-3 2-3 2-2 2-1 2-1 2-2 2-1 2-2 2-2 2-3 2-3 2-3 2-3 2-5 2-3 2-4 2-2 2-3 2-2 2-2 2-2 2-3 2-4 2-5 2-7 2-8 2-12 2-13 2-16 2-16 2-16 2-15 2-14 2-16 2-17 2-20 2-25 2-26 2-32 2-26 2-27 2-31 2-32 2-37 2-43 2-48 2-58 2-66 2-80 2-98 2-117 2-144 2-168 2-197 2-247 2-75 2 0 2 0 2 0 2 0 2 0 2 0 2 0 2 0 2 0 2 0 2 0 2 0 2 0 2 0 2 0 2 161 2 386 2 268 2 193 2 132 2 106 2 84 2 70 2 59 2 50 2 46 2 44 2 40 2 35 2 31 2 25 2 22 2 20 2 17 2 17 2 15 2 11 2 11 2 8 2 8 2 8 2 8 2 8 2 8 2 5 2 5 2 4 2 3 2 5 2 4 2 6 2 6 2 5 2 5 2 3 2 2 2 2 2 2 2 2 2 2 2 2 2 1 2 3 2 2 2 1 2 2 2-1 2-1 2-2 2-2 2-1 2-1 2 1 2 1 2 1 2 1 2 2 2 1 2 0 2 0 2-1 2-1 2-1 2 0 2 1 2 2 2 4 2 4 2 4 2 5 2 2 2 2 2 0 2 0 2-1 2-1 2-1 2-1 2 1 2 0 2 0 2 1 2-1 2 0 8-8 8 2 8 8 8 0 8 1 8-4 8 9 8 1 8-4 8-6 8 5 8 1 8 5 8 6 8-1 8 3 8-7 8-2 8 5 8 2 8-5 8 0 8-5 8 0 8 5"/><path d="M160 3212l8-2 8-7 8-1 8 3 8-2 8-2 8-5 8-1 8 0 8-3 8-6 8 0 8-1 8-5 8-4 8 6 8 3 8-10 8-5 8-3 8 10 8 5 8-10 8-12 8 4 8 3 8 0 8-2 8-4 8-6 8-1 8 8 8-6 8-14 8 2 8-6 8 4 8-2 8-6 8-3 8-3 8-2 8 4 8-8 8 5 8-3 8-9 8 0 8-1 8-2 8 5 8 2 8-6 8 3 8-7 8-5 8 0 8-2 8-6 8 3 8 5 8-5 8-11 8 8 8 2 8-12 8-6 8 2 8 7 8 0 8-5 8-6 8-6 8 4 8 1 8-4 8 6 8-5 8-9 8-5 8-11 8-1 8-4 8-4 8-10 8 1 8-3 8-6 8 7 8-11 8-16 8 1 8-1 8-5 8-5 8-9 8-9 8-4 8-2 8-14 8-10 8 2 8-10 8-9 8-2 8 2 8-1 8 2 8 2 8 8 8-4 8-4 8 9 8 6 8-1 8 7 8 5 8 0 8-12 8-4 8 4 8-7 8-8 8 1 8 4 8-3 8-14 8-10 8-5 8-5 8-5 8-4 8 1 8-4 8-13 8 2 8 3 8-4 8-3 8 8 8-1 8-1 8-5 8-17 8-3 2 0 2 1 2 0 2 0 2-1 2-1 2-1 2 0 2 0 2 0 2 0 2-1 2-3 2-3 2-3 2-3 2-1 2-1 2 1 2 2 2 3 2 3 2 2 2 2 2 0 2 0 2-1 2-2 2-2 2-3 2-1 2-1 2 1 2 0 2 1 2 0 2-2 2-2 2-1 2-2 2 0 2-1 2-1 2-1 2 0 2-1 2 1 2 0 2 0 2 1 2-1 2-1 2-3 2-4 2-4 2-5 2-4 2-5 2-5 2-5 2-6 2-7 2-6 2-8 2-7 2-8 2-10 2-11 2-13 2-13 2-16 2-15 2-14 2-17 2-16 2-20 2-22 2-25 2-31 2-25 2-29 2-32 2-36 2-41 2-45 2-51 2-57 2-65 2-79 2-96 2-116 2-143 2-169 2-197 2-246 2-101 2 0 2 0 2 0 2 0 2 0 2 0 2 0 2 0 2 0 2 0 2 0 2 0 2 0 2 0 2 0 2 173 2 391 2 271 2 195 2 133 2 108 2 85 2 70 2 60 2 50 2 48 2 45 2 40 2 33 2 29 2 24 2 19 2 18 2 17 2 14 2 13 2 12 2 10 2 10 2 9 2 9 2 9 2 8 2 7 2 6 2 5 2 6 2 6 2 6 2 6 2 3 2 4 2 3 2 3 2 3 2 3 2 3 2 3 2 1 2 1 2 1 2 0 2 2 2 1 2 3 2 2 2 3 2 2 2 2 2 1 2 1 2 0 2 1 2 0 2 1 2 1 2 0 2 0 2-1 2-2 2 0 2-1 2 2 2 3 2 3 2 3 2 1 2 1 2-1 2-1 2-2 2-3 2 0 2-1 2 0 2 0 2 1 2 2 2 1 2 1 2 1 2 1 2 2 2 1 8 5 8 0 8-2 8 3 8-6 8 7 8 14 8-3 8-3 8-2 8 1 8 3 8-2 8 4 8 0 8 4 8-8 8-1 8 1 8 3 8-5 8 0 8 9 8-5 8 0"/><path d="M160 3241l8-7 8 0 8 9 8-6 8-15 8-3 8 1 8-1 8-1 8 2 8-1 8 3 8-1 8-6 8-3 8 1 8-3 8 4 8-5 8-3 8 3 8-4 8-7 8-2 8 0 8-1 8-9 8 0 8 6 8-5 8-5 8 0 8-10 8 0 8-1 8-2 8 2 8-2 8-5 8-3 8-6 8 1 8 1 8-6 8-7 8 2 8-4 8-7 8 10 8-1 8-6 8 2 8-1 8-7 8 3 8-2 8-9 8-3 8 7 8-4 8-5 8 6 8-1 8-1 8-8 8-1 8-4 8-3 8-4 8-1 8 3 8-2 8-6 8 1 8 0 8-11 8-3 8 4 8-2 8-2 8-5 8-11 8-4 8-11 8-1 8 3 8-6 8-9 8-7 8-3 8 1 8-7 8-6 8 0 8-3 8-1 8-11 8-12 8-3 8-12 8-9 8-1 8-1 8-2 8-10 8-1 8-5 8 2 8 7 8-9 8 5 8 10 8 10 8 2 8 0 8 7 8 0 8 1 8 4 8-7 8-9 8 0 8-11 8-1 8-3 8-11 8 0 8-9 8-11 8-3 8-8 8-4 8 9 8-9 8-2 8 2 8-1 8-6 8 7 8 3 8-5 8-7 8-3 8 4 8-3 2-3 2-2 2-4 2-4 2-2 2-3 2 1 2 2 2 2 2 2 2 1 2 1 2 1 2 1 2-1 2 0 2-2 2-2 2 0 2 0 2 1 2 1 2-1 2-1 2-1 2 0 2-1 2-1 2-2 2-2 2-2 2-3 2 0 2-1 2 0 2 0 2-1 2-1 2 0 2-1 2 0 2 0 2-1 2-1 2-2 2-2 2-1 2-2 2-2 2-2 2-3 2-3 2-2 2-3 2-4 2-3 2-5 2-6 2-5 2-5 2-5 2-5 2-6 2-7 2-9 2-10 2-10 2-12 2-12 2-13 2-14 2-14 2-16 2-18 2-21 2-23 2-24 2-27 2-27 2-22 2-23 2-27 2-32 2-36 2-43 2-49 2-58 2-67 2-82 2-101 2-119 2-147 2-168 2-196 2-245 2-130 2 0 2 0 2 0 2 0 2 0 2 0 2 0 2 0 2 0 2 0 2 0 2 0 2 0 2 0 2 0 2 188 2 396 2 275 2 198 2 134 2 107 2 85 2 70 2 60 2 51 2 48 2 46 2 42 2 34 2 31 2 26 2 21 2 18 2 15 2 13 2 11 2 11 2 10 2 10 2 10 2 10 2 8 2 7 2 6 2 6 2 5 2 4 2 5 2 4 2 4 2 4 2 4 2 4 2 3 2 2 2 2 2 1 2 2 2 2 2 2 2 4 2 5 2 4 2 3 2 1 2 1 2 1 2 0 2 2 2 1 2 0 2 1 2 0 2-1 2 0 2 0 2 1 2 2 2 2 2 2 2-1 2 0 2-2 2-1 2 0 2 1 2 1 2 2 2 2 2 1 2 2 2 1 2 1 2 1 2 1 2 1 2 0 2 1 2 1 2 1 2 1 2 1 2-1 2-2 8-10 8 11 8 9 8 1 8-4 8 0 8 3 8-1 8 6 8-6 8 4 8 0 8-7 8-7 8 2 8 9 8 0 8-6 8 3 8 0 8 6 8 1 8 1 8 2 8 5"/><path d="M160 3263l8-1 8-6 8 5 8 3 8-7 8-8 8 1 8-4 8-6 8-1 8 4 8 0 8-5 8 7 8-8 8-7 8 8 8 9 8-10 8-5 8-3 8 0 8-1 8-11 8 6 8 5 8-9 8-10 8-2 8-1 8 5 8 0 8-6 8-1 8-9 8-3 8 2 8-3 8-1 8-2 8-5 8-8 8-4 8-1 8 6 8-1 8-5 8 1 8-6 8 5 8-5 8-3 8 6 8-1 8-5 8-5 8-2 8-3 8 1 8-6 8 1 8-9 8 5 8-1 8 1 8 0 8-1 8-3 8-10 8-7 8 4 8 0 8-4 8-5 8 3 8 2 8-1 8-13 8-9 8-10 8 2 8-3 8-4 8-4 8-6 8 2 8-7 8 0 8-3 8-10 8-5 8-1 8 4 8-10 8-3 8-12 8-7 8-4 8-6 8-8 8-2 8-6 8-3 8-9 8-9 8-1 8 0 8-2 8 3 8 0 8-5 8 13 8 11 8 1 8 3 8 0 8-2 8 3 8 3 8 1 8-12 8-3 8 1 8-2 8-3 8-8 8-4 8-6 8-10 8-4 8 7 8-6 8-9 8-5 8 6 8-2 8-2 8 4 8-4 8-9 8-3 8-1 8-1 8-6 8-6 2-1 2-1 2 0 2-1 2 1 2 0 2 2 2 2 2 2 2 2 2 1 2 0 2 0 2-1 2 0 2 0 2 0 2 1 2 0 2 1 2-1 2-2 2-2 2-3 2-1 2-1 2-1 2 0 2-1 2-1 2-1 2 0 2 2 2 1 2 2 2 2 2 0 2 0 2-3 2-2 2-3 2-3 2 0 2 0 2 1 2 1 2 0 2 0 2-1 2-2 2-3 2-3 2-4 2-5 2-6 2-6 2-7 2-7 2-5 2-6 2-4 2-5 2-6 2-6 2-7 2-9 2-12 2-12 2-14 2-15 2-15 2-15 2-17 2-18 2-20 2-23 2-24 2-27 2-30 2-24 2-27 2-30 2-33 2-38 2-42 2-47 2-54 2-63 2-80 2-97 2-121 2-147 2-172 2-199 2-247 2-153 2 0 2 0 2 0 2 0 2 0 2 0 2 0 2 0 2 0 2 0 2 0 2 0 2 0 2 0 2 0 2 193 2 402 2 279 2 201 2 133 2 108 2 85 2 71 2 59 2 51 2 48 2 46 2 41 2 36 2 32 2 29 2 24 2 23 2 20 2 16 2 14 2 10 2 9 2 7 2 8 2 8 2 8 2 6 2 6 2 5 2 4 2 5 2 4 2 6 2 5 2 5 2 4 2 1 2 2 2 1 2 1 2 3 2 2 2 4 2 2 2 3 2 3 2 1 2 2 2 0 2-1 2 1 2 0 2 3 2 3 2 4 2 4 2 0 2 1 2-1 2 0 2 1 2 2 2 1 2 1 2 0 2 0 2 1 2 0 2 1 2 1 2-1 2 0 2 0 2-1 2-1 2-1 2 0 2 1 2 1 2 1 2-1 2 0 2-2 2-1 2 1 2 1 2 2 2 3 8 9 8 0 8 0 8 3 8-6 8 6 8-6 8 7 8 0 8-4 8 5 8-9 8 4 8 7 8 2 8 3 8-8 8 3 8-7 8 11 8 1 8 0 8 3 8-3 8-3"/><path d="M160 3277l8 7 8 4 8 0 8-2 8-5 8 0 8 2 8 0 8 0 8-5 8-3 8-3 8-7 8-10 8 4 8 1 8 7 8-5 8-7 8 2 8 3 8-6 8-2 8 5 8-4 8-10 8-5 8-8 8 5 8 3 8-11 8 3 8 2 8-12 8 3 8 2 8 1 8-6 8-4 8-2 8-4 8-4 8-5 8-5 8-2 8 1 8 3 8-7 8-2 8 1 8-1 8 9 8-4 8-10 8-1 8 0 8 1 8 1 8-1 8-2 8-2 8-8 8-5 8 0 8-6 8 6 8 2 8 1 8-6 8-6 8 0 8 0 8-6 8 2 8-8 8-1 8 2 8-6 8-7 8-8 8-2 8-3 8-3 8-7 8-6 8-8 8-2 8-3 8-3 8-9 8-2 8-6 8 0 8 1 8-4 8-4 8-8 8-14 8-7 8-8 8-3 8-10 8-9 8-6 8 2 8 2 8 0 8-3 8-1 8 9 8-6 8 7 8 7 8 3 8 2 8 5 8 6 8 11 8-9 8-8 8-9 8-5 8 4 8-4 8-7 8-2 8-7 8-7 8-9 8-6 8 2 8-4 8-2 8-2 8-1 8 2 8-3 8 15 8 1 8-9 8-2 8-3 8-11 8-6 8-4 2 0 2 0 2 1 2 0 2 0 2 0 2 0 2 0 2-1 2 0 2-2 2-2 2-1 2-1 2 0 2 1 2 0 2 0 2 0 2 0 2 1 2 1 2 1 2 1 2 0 2 0 2 0 2 0 2-1 2-1 2-1 2-1 2 0 2 1 2 2 2 2 2 1 2 1 2-1 2-1 2-2 2-3 2-3 2-4 2-2 2-3 2 0 2-1 2 0 2-1 2-1 2 0 2-2 2-2 2-4 2-5 2-6 2-7 2-6 2-6 2-5 2-6 2-7 2-7 2-9 2-10 2-13 2-13 2-13 2-13 2-14 2-13 2-15 2-17 2-20 2-23 2-25 2-28 2-32 2-27 2-27 2-31 2-32 2-37 2-41 2-48 2-56 2-64 2-81 2-100 2-123 2-149 2-172 2-199 2-246 2-174 2 0 2 0 2 0 2 0 2 0 2 0 2 0 2 0 2 0 2 0 2 0 2 0 2 0 2 0 2 0 2 205 2 407 2 283 2 204 2 136 2 109 2 86 2 69 2 59 2 48 2 47 2 47 2 42 2 36 2 33 2 26 2 22 2 19 2 17 2 14 2 13 2 10 2 10 2 8 2 7 2 10 2 10 2 10 2 10 2 7 2 7 2 5 2 4 2 4 2 4 2 4 2 4 2 3 2 3 2 1 2 2 2 2 2 1 2 1 2 0 2 0 2 0 2 1 2 0 2 2 2 2 2 4 2 3 2 4 2 4 2 3 2 3 2 1 2 2 2 0 2-1 2 0 2-1 2-1 2-1 2 0 2 0 2 3 2 2 2 3 2 3 2 4 2 3 2 2 2 2 2 1 2 0 2-2 2-3 2-2 2-2 2 1 2 0 2 1 2 1 2 1 2 0 2 1 2 1 8 7 8 1 8 0 8-7 8 2 8 0 8 1 8 10 8-3 8-4 8-2 8 2 8 10 8 2 8-7 8 2 8 2 8-1 8-2 8 2 8-8 8-1 8 9 8-4 8-1"/><path d="M160 3308l8 3 8 1 8-3 8 2 8 0 8-10 8-2 8-1 8-4 8 16 8-3 8-11 8-2 8 1 8-2 8-2 8 0 8 2 8-8 8-3 8 1 8 1 8-12 8-3 8 3 8 1 8-7 8 0 8 0 8-8 8 3 8-6 8 2 8-1 8 0 8-6 8-4 8-6 8 1 8-11 8-5 8 5 8 2 8 1 8-3 8-11 8 2 8-12 8-7 8-1 8 2 8 5 8-5 8 3 8 11 8-8 8 1 8-1 8-4 8 5 8-7 8-4 8-5 8 2 8-2 8 0 8-10 8-5 8 2 8 1 8-2 8-4 8-5 8-4 8 1 8 4 8-2 8-10 8-10 8-4 8-3 8 0 8-3 8-2 8-9 8-4 8 1 8-6 8 3 8-3 8-11 8-5 8 0 8-4 8-13 8-7 8-1 8-13 8-2 8-5 8-11 8-8 8-5 8-7 8-4 8-3 8-3 8 2 8-1 8 3 8 9 8 8 8-7 8 1 8 10 8-3 8 7 8 11 8-1 8-8 8-1 8-2 8 0 8-4 8-4 8-6 8-9 8-9 8-2 8 1 8-1 8-7 8-8 8 5 8 2 8 1 8 6 8-1 8-5 8 9 8 0 8-5 8-10 8-10 8 0 2-1 2-1 2-2 2-2 2-2 2-1 2 0 2 0 2 1 2 1 2 0 2 1 2 1 2 0 2-1 2 0 2-1 2-1 2 0 2 0 2-1 2 0 2 0 2 0 2 0 2 1 2 0 2-1 2-1 2-2 2-1 2 0 2-1 2 0 2 0 2-1 2 0 2 0 2-2 2-2 2-2 2-2 2-1 2-1 2 0 2 1 2 0 2 1 2 0 2 1 2-2 2-3 2-5 2-5 2-6 2-6 2-5 2-5 2-4 2-5 2-4 2-6 2-6 2-7 2-10 2-10 2-12 2-14 2-13 2-15 2-15 2-16 2-17 2-20 2-21 2-23 2-24 2-26 2-28 2-24 2-25 2-28 2-32 2-36 2-44 2-49 2-58 2-66 2-82 2-101 2-122 2-149 2-172 2-197 2-246 2-203 2 0 2 0 2 0 2 0 2 0 2 0 2 0 2 0 2 0 2 0 2 0 2 0 2 0 2 0 2 0 2 211 2 410 2 284 2 204 2 133 2 110 2 87 2 72 2 61 2 50 2 48 2 46 2 41 2 38 2 33 2 30 2 25 2 23 2 20 2 15 2 14 2 11 2 11 2 8 2 9 2 8 2 7 2 9 2 8 2 9 2 8 2 7 2 7 2 4 2 4 2 1 2 2 2 2 2 1 2 3 2 3 2 3 2 3 2 3 2 2 2 1 2 1 2-1 2 0 2-1 2 0 2 1 2 2 2 3 2 4 2 2 2 2 2 0 2 1 2 0 2 1 2 3 2 2 2 3 2 2 2 2 2 1 2 0 2 0 2-2 2-1 2-2 2-2 2 1 2 0 2 2 2 2 2 4 2 3 2 2 2 3 2 0 2 0 2-3 2-3 2-3 2-4 2-1 2-2 8 9 8 8 8-3 8 0 8-2 8 2 8 1 8 2 8-1 8 0 8 3 8 3 8-3 8 0 8-6 8 4 8 3 8-2 8 1 8 6 8-4 8 8 8-6 8 1 8 3"/><path d="M160 3335l8 1 8-1 8 7 8-7 8-6 8 0 8 1 8 0 8 1 8-2 8 0 8-7 8 1 8 6 8-5 8-8 8 0 8 0 8-3 8-4 8-4 8 0 8 0 8-5 8-3 8-5 8-3 8 0 8 5 8 5 8-8 8-8 8 4 8-5 8-3 8-3 8-9 8-2 8-7 8 5 8-6 8-8 8 0 8-13 8-2 8 6 8 1 8-2 8 0 8 4 8-4 8 0 8 2 8-7 8 1 8 8 8-7 8-5 8-7 8 0 8-1 8-4 8 0 8 1 8-5 8 4 8-4 8-2 8 0 8-4 8-4 8 1 8-9 8-1 8-3 8 0 8-1 8 4 8-6 8-8 8-7 8-9 8-2 8 5 8-17 8-12 8 10 8-7 8-2 8-7 8-8 8 2 8-5 8-5 8-10 8-7 8 1 8-5 8-5 8-12 8-11 8-6 8-4 8-3 8-7 8-2 8-2 8 1 8 8 8-6 8 6 8 7 8-7 8 3 8 10 8 2 8 0 8 7 8 5 8-5 8 0 8-8 8 0 8-6 8-5 8-2 8 0 8-7 8-6 8-3 8-4 8 0 8 6 8 0 8-3 8-5 8 2 8 9 8 0 8-7 8-5 8 2 8-5 8-2 8-6 2-2 2-2 2-1 2 0 2 1 2 2 2 1 2 1 2-1 2-1 2-2 2-1 2-1 2-2 2 0 2-1 2-1 2 0 2-1 2 0 2-1 2 0 2 0 2 0 2 2 2 3 2 2 2 3 2 0 2 1 2-2 2-1 2-2 2-2 2-2 2-2 2-3 2-3 2-2 2-3 2-2 2-1 2-1 2 0 2 0 2-1 2-1 2-1 2-1 2-1 2-1 2-1 2-2 2-3 2-3 2-4 2-5 2-5 2-4 2-4 2-4 2-6 2-6 2-8 2-9 2-11 2-13 2-14 2-14 2-14 2-13 2-14 2-15 2-18 2-22 2-24 2-25 2-27 2-30 2-25 2-29 2-32 2-35 2-40 2-43 2-49 2-56 2-65 2-82 2-101 2-123 2-150 2-170 2-194 2-243 2-233 2 0 2 0 2 0 2 0 2 0 2 0 2 0 2 0 2 0 2 0 2 0 2 0 2 0 2 0 2 0 2 232 2 416 2 290 2 206 2 133 2 108 2 85 2 69 2 59 2 49 2 48 2 47 2 43 2 36 2 32 2 29 2 24 2 24 2 21 2 19 2 16 2 11 2 11 2 6 2 6 2 7 2 6 2 8 2 7 2 7 2 7 2 8 2 6 2 7 2 6 2 4 2 4 2 0 2 1 2 0 2 1 2 2 2 3 2 2 2 2 2 2 2 1 2 3 2 2 2 4 2 3 2 4 2 4 2 3 2 2 2-1 2-1 2-3 2-2 2-1 2-1 2 2 2 1 2 3 2 2 2 2 2 2 2 0 2 1 2 1 2 1 2 2 2 2 2 0 2 1 2 0 2 0 2 0 2 0 2-1 2-2 2 0 2-1 2-1 2-1 2 0 2-1 2 1 2 2 8 10 8 8 8-6 8 2 8 5 8-3 8-2 8 2 8 7 8 0 8-1 8-3 8-3 8-1 8-2 8-3 8 0 8 4 8-1 8 6 8 4 8 0 8 0 8-8 8 3"/><path d="M160 3367l8-4 8 6 8 4 8-11 8-3 8 0 8 0 8 1 8-7 8 3 8 4 8-7 8-3 8 4 8-3 8-1 8 0 8-6 8-3 8-6 8 0 8-3 8-4 8 3 8 0 8-1 8-8 8-6 8-2 8 0 8-6 8 5 8-4 8-5 8-9 8-6 8 5 8 5 8-6 8-8 8-5 8-2 8-1 8-5 8-3 8 4 8-7 8-1 8 1 8-1 8 5 8-4 8-14 8 3 8 2 8 0 8 7 8-11 8-13 8 5 8 4 8 5 8-6 8-6 8 1 8-4 8-3 8 1 8-7 8-6 8-6 8 8 8 0 8-3 8-8 8-13 8 5 8 0 8-5 8-3 8-8 8-4 8-8 8-5 8-1 8 0 8-4 8 7 8-12 8-7 8 0 8-6 8-6 8-2 8-1 8-7 8-12 8-5 8-11 8-10 8-2 8-2 8-18 8-1 8 3 8-5 8-7 8 4 8 2 8 9 8 5 8 10 8 0 8-1 8-2 8 1 8 4 8 3 8 5 8-2 8-14 8 3 8 4 8-10 8-5 8-8 8 0 8-1 8 2 8-5 8-3 8 4 8-11 8-1 8 13 8-5 8-5 8 5 8 4 8-3 8 3 8-2 8-1 8-14 8-7 2 0 2 1 2 0 2 1 2 0 2 0 2-2 2-1 2-2 2-2 2 1 2 0 2 3 2 2 2 0 2 1 2-1 2-1 2 0 2 0 2 0 2 0 2 0 2-1 2 0 2 0 2-1 2-1 2 0 2 0 2 0 2 1 2 0 2 0 2 0 2 0 2 1 2 1 2 0 2 1 2-2 2-1 2-3 2-3 2-3 2-4 2-2 2-2 2-2 2-1 2-1 2-2 2-3 2-3 2-4 2-4 2-5 2-6 2-6 2-7 2-8 2-9 2-9 2-9 2-8 2-9 2-11 2-13 2-14 2-15 2-15 2-16 2-17 2-19 2-21 2-23 2-23 2-25 2-27 2-22 2-27 2-30 2-34 2-38 2-43 2-49 2-57 2-66 2-82 2-103 2-123 2-151 2-171 2-195 2-244 2-257 2 0 2 0 2 0 2 0 2 0 2 0 2 0 2 0 2 0 2 0 2 0 2 0 2 0 2 0 2 0 2 244 2 421 2 293 2 207 2 132 2 107 2 83 2 68 2 58 2 50 2 49 2 51 2 46 2 40 2 36 2 30 2 24 2 21 2 18 2 14 2 12 2 10 2 9 2 10 2 9 2 11 2 9 2 9 2 8 2 8 2 7 2 6 2 5 2 3 2 3 2 2 2 1 2 3 2 1 2 3 2 2 2 5 2 4 2 6 2 6 2 3 2 4 2 0 2 0 2-2 2-1 2 1 2 1 2 3 2 4 2 3 2 3 2 0 2 1 2 0 2 1 2 2 2 2 2 2 2 1 2 1 2 2 2 0 2 1 2 0 2 1 2 1 2 1 2-1 2-1 2-2 2-2 2 0 2 1 2 3 2 3 2 2 2 1 2-2 2-1 2-2 2-2 2 0 2-1 8 1 8 3 8 7 8 5 8 0 8 0 8-3 8-5 8 2 8 6 8-2 8 3 8 8 8-8 8-4 8-4 8 1 8-1 8-2 8 10 8-1 8-6 8 4 8 4 8-1"/><path d="M160 3398l8-1 8-5 8-5 8 4 8-4 8 0 8-1 8 2 8 1 8-4 8-1 8-7 8-6 8 1 8 7 8 2 8-6 8-9 8-2 8 2 8 5 8-4 8-2 8-2 8-3 8-6 8 0 8-7 8-8 8-5 8 1 8 2 8-2 8-4 8-5 8-8 8-3 8-3 8 0 8 0 8-2 8-5 8-5 8 0 8 1 8-4 8-5 8 1 8-2 8-3 8-2 8-3 8-2 8 0 8-1 8 1 8 1 8 3 8-3 8-2 8-7 8-5 8 3 8 3 8 0 8-10 8-5 8 0 8 2 8-2 8 5 8-13 8-6 8-7 8-3 8-5 8 7 8-6 8-3 8-1 8-12 8-9 8-1 8 3 8-6 8-8 8-8 8-4 8 7 8-6 8-4 8-6 8-2 8-10 8-3 8-6 8-4 8-5 8-1 8-14 8-13 8-4 8-3 8 5 8-8 8-9 8-8 8 7 8 2 8 1 8-1 8-3 8 13 8 13 8 5 8-5 8 3 8 2 8 2 8 1 8-6 8 2 8 3 8-13 8-7 8 6 8-1 8-10 8-10 8-1 8 5 8-2 8 1 8-2 8-6 8 4 8 8 8-3 8 5 8 3 8-2 8-11 8-9 8 9 8-8 2-2 2-2 2-1 2-2 2-1 2 0 2 0 2 0 2 1 2 1 2 0 2-1 2 0 2-1 2 1 2 0 2-1 2 0 2-1 2-2 2-1 2-2 2 0 2 0 2 1 2 0 2 1 2 0 2 1 2 0 2 0 2 0 2-1 2 0 2 0 2 1 2 2 2 3 2 1 2 1 2-2 2-2 2-4 2-5 2-4 2-4 2-2 2-3 2-2 2-2 2-2 2-3 2-2 2-3 2-4 2-4 2-6 2-7 2-8 2-8 2-9 2-8 2-7 2-8 2-8 2-8 2-11 2-11 2-14 2-15 2-15 2-15 2-15 2-18 2-20 2-23 2-27 2-28 2-31 2-26 2-27 2-30 2-32 2-37 2-41 2-48 2-57 2-66 2-85 2-105 2-125 2-154 2-172 2-196 2-244 2-266 2 0 2 0 2 0 2 0 2 0 2 0 2 0 2 0 2 0 2 0 2 0 2 0 2 0 2 0 2 0 2 252 2 427 2 296 2 211 2 135 2 108 2 84 2 68 2 56 2 48 2 48 2 51 2 47 2 42 2 37 2 32 2 26 2 20 2 18 2 13 2 10 2 11 2 9 2 12 2 10 2 12 2 10 2 8 2 8 2 4 2 5 2 5 2 5 2 5 2 5 2 5 2 3 2 4 2 2 2 4 2 3 2 5 2 4 2 4 2 3 2 3 2 3 2 3 2 4 2 2 2 3 2-1 2 0 2-1 2-2 2 0 2-1 2 1 2 0 2 2 2 2 2 1 2 2 2 0 2 0 2 0 2 1 2 1 2 1 2 1 2 2 2 1 2 2 2 0 2 0 2 1 2 0 2 2 2 1 2 1 2 1 2 0 2 1 2 0 2 0 2-2 2-1 2-2 2-1 8-2 8 2 8 2 8 2 8 2 8 0 8 6 8-1 8 0 8-2 8 7 8-2 8 2 8-3 8-3 8 2 8-4 8-2 8 6 8 8 8-9 8 3 8-1 8-1 8 2"/><path d="M160 3418l8 0 8-3 8 4 8-1 8-4 8 4 8-7 8-4 8-2 8 6 8 3 8-10 8-6 8 0 8 8 8 1 8-10 8-5 8-3 8 0 8-1 8-2 8-8 8 3 8-7 8 0 8 1 8-4 8-7 8-6 8 0 8 5 8-9 8-11 8 10 8 2 8-5 8-1 8-7 8-1 8-10 8-7 8-1 8-5 8 4 8 1 8-9 8-4 8 8 8 3 8-3 8-9 8 4 8-3 8-5 8 5 8 5 8-10 8-7 8 6 8-9 8 0 8 0 8-2 8 2 8-3 8-3 8-6 8-8 8-1 8 1 8 1 8-8 8 1 8 0 8-1 8-8 8-8 8 7 8-15 8-9 8-4 8-1 8-3 8-3 8-4 8 1 8 5 8-6 8-5 8-3 8-7 8-5 8-7 8-6 8-6 8-4 8-16 8-11 8-5 8-6 8-7 8-8 8-1 8-5 8 0 8-3 8-2 8 2 8 4 8 5 8 5 8-1 8 1 8 15 8 4 8-7 8-3 8 9 8-2 8 1 8-4 8-5 8-4 8-1 8 6 8-4 8-7 8-9 8-2 8 2 8-1 8-1 8-3 8 1 8 16 8 1 8-5 8 2 8-3 8 0 8-5 8 4 8-1 8-11 2 0 2-1 2 1 2 1 2 0 2-1 2-2 2-2 2-2 2-2 2-1 2 0 2 0 2 1 2 0 2 0 2-1 2 0 2-2 2-1 2-1 2-2 2-1 2 0 2 1 2 1 2 2 2 2 2 0 2 1 2 1 2 1 2 1 2 1 2 0 2-1 2-1 2-1 2-1 2-2 2-3 2-3 2-2 2-2 2-1 2 0 2-1 2-2 2-3 2-3 2-5 2-5 2-5 2-5 2-4 2-3 2-3 2-3 2-5 2-4 2-7 2-8 2-8 2-9 2-10 2-11 2-13 2-13 2-13 2-13 2-13 2-13 2-18 2-19 2-25 2-26 2-27 2-28 2-29 2-25 2-26 2-29 2-33 2-36 2-43 2-49 2-56 2-66 2-82 2-103 2-125 2-153 2-174 2-196 2-244 2-296 2 0 2 0 2 0 2 0 2 0 2 0 2 0 2 0 2 0 2 0 2 0 2 0 2 0 2 0 2 0 2 259 2 431 2 298 2 214 2 134 2 110 2 87 2 70 2 60 2 50 2 51 2 50 2 47 2 41 2 36 2 31 2 25 2 22 2 20 2 15 2 14 2 11 2 10 2 8 2 8 2 7 2 7 2 6 2 6 2 7 2 6 2 7 2 7 2 6 2 7 2 5 2 5 2 3 2 3 2 2 2 1 2 2 2 1 2 1 2 1 2 2 2 2 2 4 2 4 2 3 2 3 2 2 2 1 2 0 2 0 2 1 2 1 2 2 2 2 2 1 2 2 2 1 2 0 2 0 2 0 2 0 2 1 2 2 2 2 2 2 2 3 2 1 2 1 2 0 2 1 2 0 2 1 2 1 2 2 2 0 2 1 2 0 2-1 2-1 2-1 2 0 2 0 2 2 2 1 8 0 8-6 8 1 8-4 8 10 8 3 8-4 8-1 8-2 8 2 8 11 8-3 8-1 8-1 8 2 8 9 8-6 8-10 8 4 8-2 8-1 8 0 8 8 8 7 8-6"/><path d="M160 3451l8-5 8 2 8 1 8-8 8 5 8 2 8-4 8-5 8-13 8-2 8-2 8 4 8 0 8-1 8 0 8 0 8-7 8-1 8-1 8 3 8-2 8-6 8-2 8-3 8 5 8-3 8-1 8-8 8-10 8-2 8 6 8-3 8-7 8 0 8-4 8-16 8 0 8-1 8-7 8-4 8-3 8-2 8 10 8-4 8-6 8-3 8-3 8 5 8-3 8-2 8-2 8 2 8 6 8-3 8-9 8 2 8-5 8-6 8 6 8-2 8-5 8-6 8-3 8 1 8-9 8 5 8 6 8-10 8-11 8 6 8 1 8-6 8-3 8 6 8-3 8-4 8-12 8-10 8-3 8 0 8 1 8-6 8-4 8 2 8-14 8 0 8 1 8-11 8-5 8-3 8-4 8-4 8-1 8 4 8-9 8-10 8-4 8-16 8-11 8 4 8-9 8-5 8-10 8-6 8-3 8-2 8-3 8 4 8-1 8 1 8 8 8-3 8 2 8 11 8 7 8-1 8 8 8 1 8-7 8 1 8 0 8-4 8-3 8-3 8-3 8-1 8-5 8 7 8-11 8-2 8 0 8-4 8-2 8 3 8 4 8 6 8 1 8 1 8 8 8 1 8-6 8-2 8-6 8 0 8-2 2-1 2-1 2-2 2-2 2-2 2-2 2-2 2-2 2-2 2-2 2-1 2 0 2 1 2 2 2 3 2 4 2 2 2 3 2 0 2 0 2-2 2-2 2-3 2-3 2-2 2-1 2 1 2 2 2 0 2 0 2-2 2-2 2-1 2-2 2 0 2 0 2-1 2-2 2-2 2-3 2-2 2-2 2 0 2 0 2 2 2 2 2 1 2 1 2-2 2-2 2-5 2-5 2-6 2-6 2-5 2-5 2-6 2-6 2-6 2-7 2-7 2-9 2-8 2-10 2-9 2-10 2-10 2-10 2-11 2-12 2-13 2-14 2-16 2-19 2-22 2-24 2-26 2-28 2-31 2-27 2-29 2-32 2-35 2-38 2-45 2-52 2-58 2-68 2-83 2-105 2-124 2-154 2-171 2-193 2-242 2-312 2-4 2 0 2 0 2 0 2 0 2 0 2 0 2 0 2 0 2 0 2 0 2 0 2 0 2 0 2 0 2 271 2 438 2 305 2 215 2 132 2 106 2 83 2 67 2 57 2 49 2 51 2 53 2 49 2 43 2 38 2 33 2 27 2 24 2 21 2 17 2 14 2 13 2 11 2 9 2 9 2 7 2 6 2 6 2 4 2 4 2 3 2 4 2 4 2 6 2 7 2 8 2 7 2 6 2 5 2 4 2 3 2 3 2 3 2 2 2 2 2 1 2 2 2 3 2 3 2 3 2 3 2 1 2 0 2 0 2-1 2-1 2 0 2-1 2-1 2-1 2-1 2 0 2 0 2 3 2 2 2 2 2 3 2 1 2 1 2 1 2 0 2 1 2 1 2 0 2 1 2 0 2 1 2 0 2 0 2 1 2 0 2 1 2 0 2 1 2 0 2 0 2 0 2 0 2 1 8 4 8 2 8-2 8-5 8 0 8 2 8 6 8 0 8 2 8 9 8-6 8 1 8-1 8-4 8 6 8-1 8-4 8 0 8 0 8 3 8-9 8 2 8 4 8 11 8-5"/><path d="M160 3473l8 0 8 1 8 6 8-7 8-11 8 1 8 0 8-4 8 1 8-7 8 6 8 3 8-3 8 0 8-7 8-2 8 2 8-1 8 5 8-12 8-7 8 4 8-3 8-1 8 1 8-9 8-2 8-2 8-5 8-3 8 4 8 1 8-12 8 1 8-5 8-12 8 5 8 1 8-5 8-8 8-6 8-2 8-2 8-6 8 0 8-1 8-3 8 1 8 4 8-1 8-9 8-9 8-5 8 5 8 13 8-5 8-8 8-4 8-3 8 5 8-6 8-2 8 1 8-2 8 8 8-1 8-6 8-10 8-7 8 3 8-4 8-10 8 2 8-2 8-1 8-4 8-7 8-7 8 0 8-4 8-12 8 1 8-1 8 2 8-13 8-3 8 5 8 0 8-7 8-4 8-8 8-2 8-8 8 4 8-9 8-12 8-4 8-5 8-11 8-8 8-5 8-9 8-7 8-3 8-9 8-4 8-6 8 1 8 7 8 6 8 10 8 0 8 6 8 1 8 3 8 3 8 10 8-1 8 2 8-4 8-6 8 5 8 2 8-3 8-5 8 0 8-7 8-5 8-3 8-1 8-1 8 4 8 0 8 3 8-4 8 1 8 6 8-3 8 3 8 2 8 0 8 8 8-7 8-11 8-6 2 2 2 2 2 4 2 4 2 1 2 2 2-3 2-3 2-3 2-3 2 0 2-1 2-1 2-1 2-2 2-2 2-1 2-1 2 2 2 2 2 3 2 3 2 0 2 0 2-3 2-2 2-2 2-2 2-1 2-1 2-1 2-1 2-1 2-1 2-1 2-2 2-1 2-1 2 0 2 0 2 0 2 0 2 0 2-1 2-1 2-1 2-2 2-2 2-5 2-5 2-5 2-6 2-4 2-5 2-2 2-2 2-2 2-2 2-5 2-5 2-9 2-9 2-12 2-12 2-12 2-13 2-12 2-13 2-12 2-12 2-12 2-12 2-14 2-17 2-21 2-24 2-26 2-27 2-32 2-28 2-31 2-34 2-36 2-40 2-44 2-49 2-56 2-64 2-83 2-104 2-127 2-157 2-173 2-195 2-240 2-311 2-26 2 0 2 0 2 0 2 0 2 0 2 0 2 0 2 0 2 0 2 0 2 0 2 0 2 0 2 0 2 279 2 445 2 309 2 218 2 133 2 107 2 82 2 68 2 57 2 49 2 52 2 53 2 50 2 44 2 39 2 34 2 27 2 21 2 18 2 12 2 10 2 11 2 11 2 12 2 12 2 11 2 11 2 10 2 9 2 9 2 8 2 6 2 6 2 3 2 2 2 3 2 2 2 2 2 3 2 3 2 2 2 3 2 4 2 2 2 3 2 3 2 3 2 3 2 2 2 2 2 1 2 0 2 0 2-1 2 0 2 0 2 0 2 0 2 1 2 1 2 1 2 0 2 1 2 0 2 0 2 0 2-1 2 0 2-1 2 1 2 1 2 3 2 2 2 3 2 2 2 1 2 1 2 0 2 1 2 0 2 0 2 0 2 1 2-1 2 0 2-1 2-1 2 0 2-1 8 7 8 1 8-2 8 3 8 2 8-2 8-3 8 2 8 3 8-2 8 1 8-2 8 1 8 7 8 6 8 1 8-2 8-8 8-5 8 1 8 5 8 8 8 2 8-7 8 0"/><path d="M160 3502l8 7 8-5 8-2 8-5 8 3 8 7 8-7 8-11 8-3 8 3 8 10 8 1 8-5 8-8 8-9 8-9 8 0 8 3 8-1 8-1 8 9 8-5 8-14 8-3 8-5 8-6 8-4 8 7 8-1 8-5 8-4 8-4 8 1 8 0 8 0 8-9 8-4 8-10 8-2 8-1 8-2 8-13 8-1 8-8 8-1 8-2 8 5 8 3 8 0 8-8 8-2 8 8 8 2 8-8 8-5 8 0 8-2 8-6 8-1 8 12 8-4 8-9 8-4 8 3 8-3 8-2 8 1 8 0 8-5 8-7 8-6 8-1 8-3 8-4 8 4 8-7 8-5 8-9 8 0 8 3 8-16 8-1 8-6 8 0 8-8 8 0 8 3 8-2 8-1 8-8 8-7 8-6 8 1 8-5 8-9 8-5 8-4 8-14 8-15 8-5 8-4 8-9 8-1 8-7 8-8 8 0 8-3 8 1 8 2 8 6 8 5 8 6 8 6 8 0 8 2 8 3 8 13 8 2 8-4 8 0 8-6 8-10 8 9 8-1 8-7 8-5 8 1 8 0 8-2 8-4 8 5 8 6 8 1 8 0 8-5 8-3 8 9 8-2 8 5 8-1 8 5 8-4 8 2 8-8 8-6 2 1 2 1 2 0 2 0 2-2 2-2 2-2 2-1 2 1 2 1 2 1 2 0 2 0 2-1 2-1 2-1 2-2 2-2 2-1 2-1 2 0 2 0 2 1 2 0 2 1 2 1 2 0 2 0 2 0 2-1 2 0 2 0 2 0 2-1 2-1 2-1 2-2 2-2 2-2 2-2 2-1 2-1 2 0 2-1 2-1 2-1 2-3 2-2 2-3 2-2 2-3 2-3 2-5 2-5 2-6 2-7 2-6 2-7 2-6 2-6 2-6 2-7 2-7 2-8 2-9 2-11 2-12 2-13 2-14 2-14 2-16 2-17 2-18 2-21 2-23 2-25 2-26 2-28 2-29 2-24 2-24 2-28 2-31 2-36 2-42 2-49 2-59 2-68 2-87 2-109 2-129 2-159 2-173 2-194 2-240 2-310 2-49 2 0 2 0 2 0 2 0 2 0 2 0 2 0 2 0 2 0 2 0 2 0 2 0 2 0 2 0 2 297 2 446 2 310 2 217 2 131 2 108 2 85 2 67 2 58 2 49 2 51 2 56 2 51 2 45 2 41 2 33 2 27 2 22 2 20 2 14 2 12 2 11 2 9 2 10 2 9 2 10 2 9 2 10 2 9 2 10 2 8 2 7 2 7 2 4 2 4 2 2 2 2 2 3 2 3 2 5 2 4 2 4 2 3 2 2 2 1 2 2 2 1 2 2 2 2 2 2 2 2 2 1 2 0 2 1 2 1 2 1 2 1 2 1 2 2 2 0 2 1 2 0 2 0 2 1 2 2 2 1 2 1 2 1 2 0 2-1 2 0 2-1 2 0 2 1 2 0 2 1 2 1 2 1 2 1 2 1 2 1 2 1 2 1 2 0 2 0 2 1 2 1 2 1 2 1 8 0 8-2 8 1 8 2 8 10 8-1 8-12 8-3 8 7 8 3 8 7 8-3 8-9 8 4 8 8 8-1 8-8 8-2 8 1 8 1 8 2 8 1 8 1 8-8 8 8"/><path d="M160 3537l8 6 8-7 8-5 8-4 8-2 8 3 8-6 8-3 8 4 8-10 8 4 8-6 8-5 8 9 8 3 8-8 8-6 8-9 8 1 8 10 8-1 8-10 8 1 8-4 8-4 8 1 8-11 8-3 8-11 8 0 8 3 8-2 8-3 8-8 8 3 8 2 8-13 8 1 8-6 8-15 8 6 8-5 8-1 8-4 8-6 8 1 8-10 8 8 8 7 8-5 8-2 8 5 8-5 8 1 8-2 8-10 8-7 8 4 8 9 8-4 8-7 8-4 8-1 8 3 8-2 8-6 8-1 8-2 8 1 8 1 8-8 8-5 8-5 8-4 8-4 8 4 8-11 8-10 8 1 8 5 8-1 8-17 8-4 8 2 8-10 8-7 8 1 8-4 8-4 8 4 8-7 8-13 8 2 8-6 8-5 8-7 8-3 8-6 8-14 8-5 8-2 8-10 8-16 8 1 8 4 8-9 8-1 8-2 8 2 8 2 8 5 8-1 8 6 8 9 8 6 8 12 8 1 8-4 8 2 8-1 8-4 8 0 8-5 8-2 8 7 8-4 8-4 8-5 8-5 8 2 8 5 8-2 8 0 8 5 8 0 8 3 8-1 8 5 8 0 8 1 8-7 8-4 8-2 8-4 8-2 2 1 2 2 2 0 2 1 2-2 2-1 2-1 2-1 2-2 2-1 2-2 2-1 2 0 2-1 2 0 2 1 2-1 2-1 2 0 2 0 2 2 2 2 2 3 2 3 2 2 2 2 2-1 2-1 2-2 2-1 2 0 2 0 2 1 2 1 2 0 2 0 2-2 2-1 2-4 2-3 2-2 2-3 2-1 2-1 2 0 2 0 2-1 2-1 2-4 2-4 2-4 2-5 2-3 2-3 2-4 2-5 2-5 2-6 2-7 2-7 2-9 2-10 2-11 2-11 2-11 2-11 2-11 2-13 2-13 2-14 2-14 2-16 2-18 2-20 2-23 2-26 2-25 2-27 2-29 2-25 2-30 2-32 2-36 2-41 2-43 2-50 2-57 2-65 2-86 2-107 2-130 2-159 2-174 2-194 2-239 2-308 2-66 2 0 2 0 2 0 2 0 2 0 2 0 2 0 2 0 2 0 2 0 2 0 2 0 2 0 2 0 2 304 2 457 2 318 2 223 2 134 2 105 2 81 2 63 2 53 2 48 2 50 2 57 2 53 2 46 2 42 2 34 2 28 2 24 2 21 2 16 2 14 2 13 2 11 2 10 2 11 2 9 2 8 2 7 2 7 2 6 2 6 2 7 2 6 2 5 2 5 2 5 2 4 2 4 2 4 2 2 2 3 2 1 2 1 2 1 2-1 2 0 2 0 2 2 2 2 2 5 2 4 2 3 2 4 2 1 2 1 2-1 2-1 2 1 2 0 2 1 2 2 2 3 2 2 2 3 2 3 2 1 2 1 2 0 2-1 2-1 2-1 2 0 2 0 2 0 2 0 2 2 2 1 2 1 2 1 2 0 2 0 2 0 2 1 2 0 2 0 2 1 2 1 2 1 2 1 8 2 8 1 8 4 8-1 8 0 8-3 8-1 8-2 8 11 8 2 8-4 8 0 8-3 8 0 8-5 8 1 8 0 8 6 8-2 8 4 8-4 8-7 8 10 8-4 8 2"/><path d="M160 3553l8 1 8-2 8 4 8 1 8-6 8 1 8-3 8-1 8-3 8-4 8 1 8-5 8 3 8-2 8-3 8-4 8-3 8 0 8-6 8-1 8-5 8-5 8 2 8 0 8 4 8-8 8-1 8-1 8-7 8-5 8-3 8 6 8-4 8-15 8-1 8-4 8-6 8-6 8-5 8-4 8-2 8 5 8-3 8-4 8-2 8 1 8-2 8-6 8 2 8-2 8-7 8-1 8 1 8 2 8-2 8-3 8-1 8 0 8-2 8-4 8-4 8 0 8 1 8-1 8 6 8-8 8-8 8 0 8-9 8 2 8-2 8-1 8-6 8-3 8 2 8-4 8-6 8-5 8-3 8-7 8-13 8-3 8-4 8-7 8 2 8 0 8-5 8-3 8 1 8 2 8 2 8-14 8-7 8-3 8-7 8-5 8-14 8-6 8-5 8-6 8-10 8-11 8-11 8-6 8 0 8 4 8 10 8-6 8-5 8-2 8 5 8 9 8 3 8 3 8-6 8 9 8 13 8 9 8-4 8 6 8-13 8-10 8 2 8 8 8-5 8 1 8-5 8-1 8 5 8-4 8 4 8-4 8-4 8-4 8 3 8 8 8 10 8 4 8 1 8 2 8-2 8-10 8 0 8-6 8 1 2 1 2 1 2 0 2 0 2-1 2 0 2-1 2 0 2-1 2 0 2-2 2-3 2-2 2-2 2-1 2 0 2 0 2 0 2 0 2 0 2-1 2 0 2 0 2 0 2-1 2 0 2-1 2-2 2 0 2 1 2 2 2 3 2 2 2 2 2-1 2 0 2-3 2-2 2-3 2-3 2-1 2-1 2 1 2 1 2 0 2 0 2-2 2-3 2-5 2-4 2-5 2-4 2-5 2-6 2-7 2-8 2-7 2-8 2-4 2-4 2-4 2-5 2-8 2-8 2-13 2-13 2-14 2-16 2-13 2-13 2-12 2-13 2-17 2-18 2-24 2-26 2-27 2-28 2-30 2-26 2-29 2-33 2-37 2-41 2-46 2-51 2-56 2-64 2-84 2-106 2-132 2-162 2-176 2-195 2-239 2-308 2-86 2 0 2 0 2 0 2 0 2 0 2 0 2 0 2 0 2 0 2 0 2 0 2 0 2 0 2 0 2 325 2 459 2 318 2 220 2 130 2 105 2 80 2 66 2 55 2 51 2 53 2 59 2 55 2 46 2 41 2 33 2 26 2 21 2 18 2 16 2 13 2 13 2 11 2 10 2 10 2 9 2 9 2 10 2 8 2 9 2 9 2 6 2 6 2 5 2 5 2 4 2 5 2 3 2 3 2 1 2 1 2 2 2 1 2 4 2 3 2 7 2 6 2 6 2 5 2 3 2 2 2-1 2-1 2-1 2-1 2 1 2 0 2 2 2 1 2 1 2 1 2-1 2-2 2-2 2-1 2 0 2 0 2 0 2 0 2-1 2-1 2 0 2 1 2 2 2 2 2 2 2 2 2 1 2 1 2-1 2-1 2-1 2 0 2 1 2 1 2 2 2 2 2 1 2 0 8-2 8 4 8-3 8-4 8 5 8 13 8-4 8-12 8 7 8 4 8 6 8 5 8-4 8-11 8 6 8 1 8-7 8 7 8 4 8-4 8-2 8 1 8 4 8 2 8-5"/><path d="M160 3589l8-5 8 0 8-6 8-10 8-3 8 3 8 6 8-5 8-8 8 7 8 1 8-4 8 5 8-2 8-7 8-12 8 10 8 5 8-14 8-6 8 4 8-5 8 0 8-1 8-4 8-1 8-2 8-5 8-13 8-4 8 7 8 2 8-3 8-7 8-12 8-7 8-2 8 1 8-7 8-2 8-3 8-1 8 4 8-8 8-14 8 1 8-1 8 3 8 9 8-6 8-4 8 1 8-5 8-2 8 6 8-6 8-5 8 2 8 5 8-4 8-6 8 1 8 0 8 0 8-9 8-4 8-2 8-4 8-2 8-4 8-2 8 6 8-1 8-9 8-4 8-5 8-2 8-11 8-11 8 3 8 3 8-11 8-5 8-4 8-3 8-2 8-2 8-5 8 2 8-3 8-8 8-3 8-7 8-7 8-5 8-6 8-8 8-11 8-3 8-1 8-14 8-9 8-6 8-6 8-3 8-3 8 1 8-9 8 2 8 9 8 6 8 0 8-2 8 11 8 9 8 5 8 0 8 3 8-1 8 0 8 5 8-4 8 3 8-3 8-7 8 7 8-2 8 0 8-2 8-3 8-5 8 0 8-4 8 11 8 13 8-4 8-6 8 5 8 7 8 2 8-4 8-4 8 5 8-7 8-1 2 0 2 0 2-1 2-1 2-3 2-2 2-2 2-1 2 1 2 1 2 1 2 1 2 0 2-1 2-2 2-3 2-1 2-1 2 2 2 1 2 2 2 2 2 0 2-1 2 0 2 0 2 1 2 0 2 0 2 0 2-1 2 0 2 0 2 1 2 0 2 0 2-1 2-2 2-5 2-4 2-3 2-4 2-2 2-1 2 0 2 0 2 0 2 0 2-3 2-2 2-5 2-5 2-4 2-5 2-5 2-5 2-6 2-7 2-6 2-6 2-8 2-9 2-12 2-12 2-13 2-13 2-13 2-14 2-14 2-14 2-15 2-15 2-15 2-18 2-20 2-23 2-25 2-26 2-30 2-26 2-29 2-32 2-35 2-39 2-45 2-50 2-59 2-68 2-88 2-111 2-132 2-162 2-175 2-193 2-239 2-307 2-108 2 0 2 0 2 0 2 0 2 0 2 0 2 0 2 0 2 0 2 0 2 0 2 0 2 0 2 0 2 329 2 465 2 323 2 223 2 131 2 106 2 82 2 67 2 57 2 50 2 53 2 58 2 54 2 46 2 42 2 35 2 28 2 23 2 21 2 15 2 12 2 11 2 9 2 11 2 11 2 13 2 13 2 10 2 9 2 7 2 6 2 5 2 4 2 5 2 4 2 5 2 4 2 4 2 3 2 2 2 2 2 1 2 1 2 2 2 2 2 3 2 3 2 4 2 3 2 2 2 2 2 1 2 1 2 1 2 0 2 1 2 1 2 0 2 0 2 0 2-1 2 1 2 1 2 3 2 2 2 3 2 2 2-1 2-1 2-1 2-1 2 2 2 1 2 1 2 1 2-1 2 0 2 1 2 0 2 1 2 2 2 2 2 1 2 1 2 1 2 1 2 0 2 1 2 0 8-6 8 5 8-3 8 8 8 4 8-6 8 1 8-4 8-7 8 5 8 5 8-3 8-2 8 8 8-5 8 4 8 11 8-7 8 3 8-6 8-6 8-2 8 7 8 3 8-8"/><path d="M160 3612l8 0 8-1 8-6 8-3 8 1 8 1 8 0 8-10 8-1 8 4 8-1 8-10 8-2 8 7 8 4 8-1 8-9 8-6 8 1 8-1 8-6 8-11 8 7 8 0 8-1 8-8 8-2 8 1 8-10 8 3 8-3 8-9 8-6 8 6 8-1 8-15 8 0 8 5 8-6 8-14 8 1 8-3 8-13 8 1 8-2 8-5 8 5 8 3 8-11 8-7 8 7 8 5 8-8 8-6 8 0 8 5 8 7 8-6 8-8 8-8 8 1 8 6 8-5 8-3 8-1 8-4 8-2 8 0 8 8 8-6 8-11 8-3 8 7 8-10 8-9 8-4 8 8 8-6 8-14 8 1 8-14 8-5 8-5 8 1 8 4 8-6 8-7 8-3 8-1 8-8 8-3 8-1 8-5 8-4 8-10 8-7 8-9 8-5 8-7 8-10 8-7 8-1 8-4 8-12 8-5 8-4 8-1 8 0 8-3 8 12 8 4 8 0 8 5 8 15 8 2 8-2 8 12 8 8 8 1 8-7 8-11 8 6 8-3 8-5 8-5 8 2 8 9 8-4 8-7 8 6 8 5 8-1 8-3 8 5 8 11 8 4 8-6 8-1 8 8 8 3 8-6 8-9 8 1 8-3 8 2 2 1 2 1 2 2 2 1 2 0 2-1 2-4 2-5 2-4 2-4 2-1 2-1 2 2 2 2 2 1 2 2 2 1 2 1 2 1 2 1 2-2 2-1 2-3 2-2 2-2 2-2 2-1 2-1 2 0 2 1 2 1 2 2 2 2 2 1 2-1 2-1 2-1 2-2 2 0 2-1 2-1 2 0 2-2 2-2 2-3 2-3 2-3 2-3 2-2 2-3 2-3 2-4 2-5 2-5 2-6 2-6 2-7 2-8 2-6 2-6 2-7 2-7 2-8 2-9 2-11 2-13 2-15 2-18 2-16 2-17 2-14 2-15 2-15 2-17 2-21 2-24 2-26 2-28 2-32 2-29 2-32 2-35 2-37 2-40 2-43 2-49 2-54 2-63 2-84 2-107 2-132 2-162 2-175 2-193 2-237 2-306 2-139 2 0 2 0 2 0 2 0 2 0 2 0 2 0 2 0 2 0 2 0 2 0 2 0 2 0 2 0 2 349 2 470 2 327 2 225 2 130 2 107 2 81 2 66 2 56 2 49 2 53 2 58 2 54 2 45 2 40 2 34 2 25 2 24 2 21 2 18 2 16 2 15 2 13 2 10 2 9 2 8 2 6 2 6 2 6 2 7 2 6 2 6 2 6 2 6 2 6 2 5 2 5 2 5 2 5 2 6 2 5 2 4 2 4 2 2 2 2 2 1 2 1 2 2 2 1 2 1 2 1 2 1 2 0 2 1 2 1 2 1 2 1 2 0 2 0 2 1 2 2 2 2 2 2 2 1 2 0 2 0 2 0 2 1 2 1 2 2 2 2 2 1 2 0 2-1 2-1 2 1 2 0 2 1 2 1 2 1 2 1 2 1 2 1 2-1 2 0 2 0 2-1 2 0 2 1 8-2 8-3 8 2 8 3 8 6 8-4 8-1 8 2 8 4 8 2 8-3 8 2 8-1 8 4 8 6 8 0 8-15 8 0 8 15 8-3 8-10 8 1 8 5 8-4 8 8"/><path d="M160 3641l8-6 8 7 8 5 8 1 8-10 8-7 8 2 8-15 8-4 8 3 8-4 8 6 8-1 8-2 8-2 8-2 8-1 8 2 8-7 8-8 8 6 8 0 8-7 8 0 8-10 8-4 8 2 8-5 8-3 8-2 8-2 8-4 8-6 8-6 8 6 8-9 8-16 8-3 8-2 8-2 8 1 8-8 8-2 8-1 8-8 8 0 8 5 8-3 8-4 8 6 8 1 8-7 8-5 8 3 8 3 8-10 8-6 8 3 8-2 8 0 8 3 8 2 8-4 8-4 8-5 8-11 8 11 8-1 8-15 8 5 8-9 8 0 8-4 8-2 8-3 8-3 8-5 8-6 8-13 8 3 8 2 8-5 8-4 8-6 8-7 8-3 8 2 8-7 8-4 8-5 8-6 8 1 8-1 8-5 8-13 8-17 8-4 8 1 8-2 8-9 8-9 8-9 8-5 8-5 8-10 8-11 8 10 8-4 8 0 8 8 8 7 8 6 8 5 8-1 8 2 8 5 8 3 8 4 8 5 8-4 8 7 8 5 8-3 8-5 8-3 8 0 8 1 8 2 8 2 8-5 8 3 8 3 8-2 8-1 8 3 8 10 8-6 8 4 8 4 8-3 8 0 8 2 8-1 8-6 8-2 2 2 2 1 2 2 2 1 2 0 2-1 2-3 2-3 2-4 2-4 2-2 2-3 2 1 2 0 2 3 2 3 2 2 2 3 2-1 2-1 2-2 2-2 2 1 2 0 2 3 2 2 2 0 2 1 2-1 2-1 2-2 2-1 2-1 2-1 2-1 2-1 2-2 2-3 2-3 2-4 2-2 2-2 2 0 2 0 2 0 2-1 2-3 2-2 2-3 2-3 2-2 2-3 2-4 2-4 2-7 2-7 2-8 2-8 2-7 2-7 2-7 2-8 2-7 2-9 2-9 2-11 2-13 2-15 2-15 2-15 2-16 2-17 2-21 2-22 2-25 2-27 2-25 2-27 2-29 2-25 2-30 2-34 2-39 2-42 2-46 2-51 2-56 2-64 2-86 2-110 2-134 2-165 2-175 2-192 2-238 2-304 2-146 2 0 2 0 2 0 2 0 2 0 2 0 2 0 2 0 2 0 2 0 2 0 2 0 2 0 2 0 2 354 2 477 2 330 2 230 2 133 2 107 2 82 2 64 2 55 2 47 2 52 2 61 2 58 2 49 2 44 2 34 2 26 2 21 2 18 2 14 2 13 2 12 2 11 2 12 2 11 2 11 2 11 2 8 2 8 2 7 2 6 2 7 2 7 2 6 2 6 2 4 2 4 2 5 2 4 2 5 2 5 2 3 2 2 2 1 2 0 2 2 2 2 2 3 2 2 2 2 2 2 2 2 2 2 2 1 2 2 2 1 2 0 2 0 2 0 2 1 2 2 2 2 2 2 2 1 2 1 2-1 2 0 2-1 2 0 2-1 2-1 2 0 2 1 2 2 2 3 2 3 2 3 2 1 2 1 2-1 2-1 2-1 2-1 2-1 2-1 2 0 2 0 2 0 2 1 8 5 8 5 8-7 8-2 8 4 8 11 8-2 8-11 8 4 8 2 8-8 8 4 8 7 8-5 8 6 8-2 8-5 8 1 8 2 8 0 8 2 8 7 8-10 8 1 8-2"/><path d="M160 3668l8-4 8 4 8-1 8-7 8-10 8-7 8 9 8 2 8-11 8 1 8 1 8-2 8 7 8 0 8-7 8-3 8 0 8-3 8-1 8-6 8-2 8-4 8-3 8-3 8-1 8-2 8-12 8-2 8 2 8-1 8-4 8 3 8-5 8-4 8-4 8-8 8-16 8 1 8 3 8-3 8-10 8-4 8-4 8-5 8-3 8 1 8-4 8-11 8 3 8 2 8 12 8-1 8-9 8 1 8-1 8-6 8 1 8 0 8 4 8-8 8-5 8 5 8 1 8-3 8 0 8-10 8-13 8-2 8 9 8-1 8-2 8-9 8-1 8-4 8 1 8 2 8-15 8-2 8-11 8-2 8 1 8-15 8-4 8 0 8 1 8-9 8-2 8 0 8-5 8-2 8-2 8-4 8-3 8-10 8-6 8-8 8-10 8-2 8-1 8-12 8-17 8-17 8-2 8 0 8-6 8-1 8 1 8-3 8-2 8 4 8 9 8 4 8 0 8 10 8 8 8 1 8-4 8 11 8 7 8 4 8 0 8-6 8-4 8 4 8-4 8 2 8-3 8 4 8 2 8 0 8-3 8 4 8 4 8 3 8 0 8-1 8 10 8 4 8-7 8-1 8-7 8 0 8 1 8 1 8-4 2 1 2 0 2 2 2 3 2 1 2 2 2-1 2 0 2-1 2-1 2 0 2 0 2 0 2 0 2-2 2-1 2-1 2-2 2 0 2-1 2-2 2-2 2-2 2-3 2-2 2-2 2 0 2 0 2 2 2 1 2 2 2 1 2 1 2 1 2 0 2 1 2-2 2-1 2-3 2-3 2-3 2-3 2-1 2-2 2-2 2-2 2-3 2-4 2-4 2-4 2-3 2-4 2-3 2-3 2-5 2-5 2-8 2-8 2-7 2-7 2-7 2-8 2-8 2-10 2-12 2-14 2-15 2-16 2-15 2-16 2-15 2-15 2-18 2-20 2-23 2-26 2-26 2-26 2-29 2-26 2-28 2-32 2-35 2-40 2-44 2-50 2-58 2-67 2-88 2-112 2-134 2-166 2-178 2-193 2-238 2-304 2-167 2 0 2 0 2 0 2 0 2 0 2 0 2 0 2 0 2 0 2 0 2 0 2 0 2 0 2 0 2 369 2 480 2 332 2 229 2 129 2 107 2 82 2 66 2 58 2 49 2 54 2 61 2 57 2 49 2 44 2 36 2 27 2 22 2 20 2 13 2 11 2 11 2 9 2 12 2 12 2 13 2 12 2 9 2 9 2 9 2 8 2 8 2 8 2 6 2 6 2 5 2 5 2 3 2 3 2 3 2 2 2 1 2 2 2 2 2 2 2 1 2 2 2 0 2 0 2-1 2-1 2 2 2 1 2 4 2 3 2 2 2 3 2 1 2 2 2 1 2 2 2 2 2 2 2 1 2 1 2-1 2 0 2-2 2-1 2 0 2 0 2 0 2 0 2 0 2 0 2 0 2 0 2 1 2 1 2 2 2 2 2 3 2 2 2 1 2 0 2-1 2 0 2 0 2 1 8 8 8 1 8-9 8 5 8-4 8-2 8 8 8 4 8-11 8-6 8 3 8 6 8 7 8-4 8-6 8-4 8 6 8 7 8-1 8 1 8-9 8-1 8 2 8 6 8 3"/><path d="M160 3697l8 1 8-9 8-11 8 3 8 12 8 7 8-8 8-8 8-10 8 1 8 6 8 0 8-5 8-5 8-9 8 0 8 3 8-6 8-2 8 1 8-7 8-1 8-7 8 0 8 2 8-11 8-1 8-2 8 4 8 1 8-5 8 0 8-6 8-10 8-14 8-7 8-3 8 2 8 1 8-10 8-4 8-5 8-4 8-1 8 2 8 3 8-9 8 0 8-1 8-11 8 10 8-2 8-7 8-8 8 10 8-1 8 4 8-3 8 3 8-3 8-6 8-4 8-3 8-5 8 1 8-1 8-2 8-2 8 0 8-2 8-2 8-7 8-9 8-12 8-2 8 4 8-6 8-5 8-5 8-5 8-10 8 5 8-5 8-6 8-4 8-3 8-8 8-4 8 1 8-1 8-9 8-1 8-3 8-9 8-3 8-6 8-7 8-8 8-9 8-11 8-11 8-1 8-16 8-9 8 5 8 2 8-5 8-6 8 3 8 14 8 2 8 10 8 1 8-8 8 8 8 8 8 17 8 4 8-5 8 2 8 0 8-10 8 3 8 5 8 2 8-6 8 4 8-5 8-1 8 3 8 1 8-1 8-2 8 6 8 0 8 8 8 7 8-5 8-3 8 0 8 1 8 7 8-5 8-11 8 2 2 0 2 0 2 0 2 0 2 1 2 1 2 1 2 2 2 1 2 0 2-1 2-2 2-3 2-3 2-2 2-1 2 0 2-1 2 0 2 0 2-2 2-1 2-1 2-1 2-1 2 0 2 2 2 2 2 4 2 4 2 2 2 2 2-2 2-2 2-4 2-4 2-2 2-3 2 0 2-1 2 0 2-1 2-1 2-1 2-2 2-2 2-4 2-3 2-5 2-4 2-4 2-3 2-5 2-5 2-6 2-7 2-8 2-9 2-8 2-7 2-6 2-8 2-7 2-9 2-11 2-13 2-13 2-15 2-14 2-15 2-15 2-17 2-18 2-20 2-23 2-25 2-26 2-27 2-30 2-26 2-28 2-32 2-35 2-39 2-45 2-51 2-59 2-67 2-88 2-112 2-137 2-167 2-179 2-194 2-238 2-304 2-185 2 0 2 0 2 0 2 0 2 0 2 0 2 0 2 0 2 0 2 0 2 0 2 0 2 0 2 0 2 367 2 489 2 339 2 232 2 130 2 106 2 81 2 66 2 58 2 50 2 56 2 63 2 59 2 50 2 44 2 36 2 28 2 25 2 22 2 18 2 15 2 14 2 13 2 10 2 10 2 8 2 8 2 7 2 6 2 6 2 6 2 7 2 6 2 6 2 5 2 4 2 4 2 4 2 4 2 3 2 3 2 2 2 3 2 2 2 2 2 1 2 1 2 2 2 2 2 3 2 2 2 3 2 3 2 2 2 2 2 2 2 1 2 0 2 0 2-1 2-1 2 0 2 0 2 1 2 1 2 2 2 2 2 1 2 1 2 0 2-1 2 0 2 0 2 1 2 1 2 2 2 2 2 0 2 0 2 0 2 0 2 2 2 2 2 3 2 3 2 1 2 2 2 0 2 1 8-5 8 0 8-7 8 4 8 11 8 1 8-3 8-7 8-3 8 2 8 3 8 5 8 0 8 4 8-2 8-4 8-5 8 11 8 6 8-11 8 0 8-2 8 2 8 8 8-3"/><path d="M160 3718l8-5 8 0 8 8 8-6 8 3 8 0 8-12 8-6 8 5 8 7 8-2 8-5 8-3 8-5 8 1 8 3 8-8 8-11 8-2 8-4 8 5 8-1 8-11 8 2 8 2 8-3 8-3 8-2 8-3 8-6 8-9 8-3 8-7 8 0 8-12 8-3 8 7 8-5 8-16 8-2 8 7 8-12 8-9 8-1 8-1 8-2 8 4 8-1 8-8 8 0 8 2 8 0 8 6 8-7 8-1 8-2 8 5 8-6 8 0 8 0 8-5 8 1 8-6 8-11 8-5 8-4 8 3 8 1 8 1 8 4 8-4 8-8 8-9 8 3 8-10 8 0 8-2 8-6 8-9 8-11 8-7 8 6 8-4 8-11 8 2 8-4 8-6 8-3 8-3 8 2 8-7 8-4 8-10 8-2 8 1 8-14 8-9 8-3 8-6 8-22 8-5 8-12 8-7 8-5 8-4 8 9 8 2 8-2 8-2 8 1 8 0 8 6 8 14 8 7 8 3 8 3 8 7 8 3 8 9 8 2 8-6 8-2 8-5 8-7 8 4 8 12 8 0 8-10 8 0 8 1 8 4 8 2 8-3 8-1 8 2 8 0 8 8 8 10 8 11 8 1 8-8 8-11 8-6 8 7 8 1 2 0 2 0 2-1 2-2 2-2 2-3 2-2 2-2 2-1 2 0 2 1 2 0 2 1 2 1 2 0 2 1 2-1 2-1 2-3 2-2 2-1 2-1 2 3 2 2 2 2 2 2 2 0 2 0 2-2 2-1 2-1 2-1 2 1 2 0 2 0 2-1 2-2 2-1 2-2 2-1 2-2 2-1 2-4 2-3 2-3 2-4 2-2 2-3 2-2 2-2 2-1 2-2 2-3 2-3 2-7 2-7 2-9 2-10 2-9 2-10 2-8 2-10 2-9 2-9 2-11 2-12 2-14 2-16 2-16 2-16 2-16 2-15 2-17 2-20 2-23 2-27 2-28 2-29 2-31 2-27 2-28 2-32 2-34 2-38 2-45 2-50 2-58 2-66 2-87 2-112 2-136 2-167 2-180 2-194 2-241 2-305 2-198 2 0 2 0 2 0 2 0 2 0 2 0 2 0 2 0 2 0 2 0 2 0 2 0 2 0 2 0 2 386 2 495 2 343 2 234 2 129 2 104 2 79 2 63 2 55 2 48 2 55 2 64 2 61 2 52 2 46 2 38 2 30 2 25 2 22 2 15 2 14 2 13 2 11 2 11 2 11 2 10 2 8 2 7 2 6 2 7 2 6 2 7 2 6 2 5 2 5 2 4 2 4 2 5 2 4 2 6 2 6 2 5 2 5 2 1 2 2 2 0 2 1 2 3 2 2 2 4 2 4 2 2 2 2 2 0 2 0 2-1 2-1 2 0 2 0 2 1 2 1 2 1 2 1 2 1 2 1 2 1 2 0 2 0 2-1 2 0 2-1 2 0 2 0 2 1 2 0 2 1 2 1 2 1 2 2 2 2 2 2 2 2 2 2 2 1 2 0 2 0 2-1 2 1 2 0 8 1 8-9 8-4 8 11 8-5 8 5 8 1 8 2 8 3 8 1 8-9 8 3 8 8 8 3 8-4 8 3 8-1 8-2 8-6 8-1 8 3 8 3 8 5 8-5 8-5"/><path d="M160 3743l8 7 8-2 8-4 8-3 8 3 8-5 8-6 8 5 8 3 8-4 8-11 8-6 8-6 8 2 8 1 8 5 8-11 8 0 8-4 8-2 8 1 8 2 8-5 8-2 8 6 8-7 8-4 8-15 8-3 8-4 8 0 8 8 8-8 8-10 8-6 8-6 8-3 8-7 8-8 8 7 8-1 8-14 8-3 8-7 8 0 8-6 8 3 8 5 8-6 8 0 8-5 8 2 8 4 8 7 8-12 8-9 8 7 8-1 8-6 8-7 8-1 8 2 8-6 8-4 8 2 8-5 8 1 8 5 8-1 8-10 8-6 8 1 8 0 8-8 8-8 8-1 8 1 8-5 8-5 8-3 8-12 8-14 8 0 8 4 8-2 8-12 8-4 8-4 8-3 8 1 8-1 8-4 8-2 8-15 8-3 8-3 8-4 8-5 8-17 8-18 8-3 8-6 8-10 8-5 8-1 8 4 8-3 8-5 8 1 8 0 8 11 8 7 8-2 8 4 8 7 8 0 8 6 8 3 8 5 8 3 8-3 8-1 8-2 8 0 8 3 8 1 8 0 8 4 8-6 8-2 8 7 8 4 8-4 8-4 8 7 8 18 8-5 8-4 8 6 8 4 8-1 8-9 8-2 8 6 8 6 2-1 2 0 2-2 2-3 2-2 2-3 2-2 2-3 2 0 2-1 2 1 2 0 2 0 2 0 2-1 2 0 2 1 2 0 2 1 2 0 2 0 2-1 2-1 2 0 2 1 2 0 2 1 2 0 2 0 2 0 2 0 2-1 2-2 2-2 2-2 2-2 2-1 2-1 2-1 2-1 2-2 2-1 2-2 2-2 2-1 2-2 2-2 2-1 2-2 2-2 2-2 2-4 2-6 2-6 2-8 2-9 2-9 2-9 2-8 2-8 2-8 2-9 2-10 2-11 2-12 2-13 2-16 2-17 2-16 2-15 2-16 2-16 2-19 2-20 2-22 2-25 2-25 2-26 2-29 2-26 2-29 2-33 2-37 2-40 2-45 2-51 2-58 2-67 2-90 2-116 2-139 2-171 2-179 2-192 2-233 2-299 2-218 2 0 2 0 2 0 2 0 2 0 2 0 2 0 2 0 2 0 2 0 2 0 2 0 2 0 2 0 2 399 2 498 2 344 2 235 2 128 2 104 2 79 2 64 2 55 2 49 2 55 2 65 2 61 2 50 2 45 2 35 2 27 2 24 2 21 2 20 2 17 2 17 2 16 2 14 2 14 2 11 2 10 2 7 2 7 2 5 2 5 2 5 2 5 2 4 2 4 2 4 2 4 2 4 2 4 2 3 2 3 2 3 2 3 2 3 2 3 2 4 2 3 2 4 2 4 2 1 2 2 2 0 2 0 2 1 2 1 2 2 2 1 2 1 2 1 2 2 2 1 2 1 2 2 2 0 2 0 2-1 2 0 2 0 2-1 2 1 2 0 2 1 2 1 2 2 2 1 2 1 2 2 2 0 2 0 2 0 2 1 2 0 2 1 2 0 2 1 2 0 2 0 2-1 2 0 8 2 8 4 8 3 8 4 8-1 8-13 8 1 8 6 8 3 8 2 8-4 8-2 8 1 8-2 8-7 8 3 8 6 8 1 8 0 8-3 8 5 8 0 8 1 8-1 8-6"/><path d="M160 3777l8-1 8-3 8-6 8 9 8 0 8-8 8 1 8-8 8-6 8-9 8 0 8 9 8 2 8-3 8-8 8-3 8 2 8-1 8-8 8-4 8 1 8 1 8 1 8-5 8-9 8 1 8 1 8-9 8-6 8-3 8-4 8-5 8 3 8-15 8-3 8-1 8-6 8 0 8-1 8-11 8-14 8-3 8-7 8 7 8-3 8-4 8 1 8-3 8 2 8-4 8 2 8-7 8-8 8 8 8 6 8-1 8-3 8-4 8-2 8-1 8 8 8-6 8-7 8-8 8 0 8 0 8 1 8-14 8-3 8 3 8 0 8-7 8-8 8-1 8-5 8-6 8 4 8 1 8-6 8-11 8-11 8-13 8-2 8 2 8 6 8-1 8-2 8-10 8-7 8-5 8-4 8 3 8-6 8-4 8-6 8-11 8-7 8-8 8-12 8-11 8-8 8-10 8-8 8-2 8-7 8-2 8 3 8-1 8-8 8 11 8 3 8 0 8 5 8 9 8 20 8 11 8-5 8-1 8 2 8 1 8-5 8 1 8 5 8 1 8 2 8-5 8 5 8-2 8 1 8 2 8-3 8 1 8 8 8-2 8 6 8 3 8-2 8 2 8 7 8 5 8-6 8 3 8-5 8-2 8 3 2 1 2 0 2-1 2-2 2-2 2-2 2-1 2-1 2 1 2 0 2 1 2 1 2 1 2 1 2-1 2-1 2-2 2-2 2-2 2-2 2-3 2-3 2-2 2-2 2 1 2 0 2 2 2 1 2 0 2-1 2-2 2-3 2-1 2-2 2 1 2 0 2 0 2 0 2-1 2-2 2-2 2-2 2-1 2-1 2-1 2-1 2-4 2-4 2-4 2-4 2-3 2-3 2-4 2-5 2-6 2-7 2-7 2-8 2-7 2-6 2-9 2-10 2-11 2-12 2-13 2-14 2-15 2-16 2-17 2-16 2-16 2-17 2-18 2-20 2-22 2-25 2-26 2-27 2-30 2-27 2-29 2-32 2-35 2-39 2-43 2-48 2-57 2-65 2-89 2-116 2-140 2-173 2-179 2-191 2-234 2-298 2-247 2 0 2 0 2 0 2 0 2 0 2 0 2 0 2 0 2 0 2 0 2 0 2 0 2 0 2 0 2 404 2 505 2 350 2 237 2 127 2 104 2 78 2 63 2 55 2 49 2 56 2 65 2 62 2 53 2 46 2 40 2 31 2 28 2 25 2 20 2 17 2 14 2 13 2 9 2 10 2 9 2 8 2 9 2 9 2 9 2 8 2 5 2 6 2 3 2 3 2 2 2 2 2 4 2 3 2 5 2 6 2 4 2 3 2 2 2 0 2 2 2 1 2 1 2 2 2 3 2 3 2 3 2 4 2 1 2 2 2-1 2-1 2 0 2 0 2 2 2 1 2 1 2 1 2 2 2 1 2 1 2 2 2 1 2 2 2 2 2 2 2 1 2 1 2 0 2 0 2 0 2 0 2 2 2 1 2 0 2 1 2-1 2-2 2-1 2-1 2 0 2 0 2 2 2 2 8 8 8-7 8-1 8-2 8-4 8 0 8 8 8-1 8-3 8 6 8 4 8-3 8 3 8-6 8-3 8 0 8 0 8-1 8-2 8 1 8 0 8-7 8 5 8 4 8-3"/><path d="M160 3810l8-4 8-11 8-1 8 6 8-3 8-8 8 2 8 6 8-1 8-14 8-4 8 3 8-1 8-3 8-11 8 3 8 4 8-1 8-7 8-4 8-4 8 0 8 2 8-3 8-6 8-2 8-4 8-6 8-2 8-1 8-2 8-9 8 0 8-11 8-10 8-7 8 2 8-6 8-12 8 11 8 0 8-10 8-6 8-5 8-8 8 1 8-2 8 1 8 2 8-6 8-8 8 5 8 6 8 0 8-4 8-11 8 1 8 0 8 0 8 0 8-3 8-6 8 1 8-6 8-6 8 2 8-4 8-1 8 1 8-4 8-6 8 2 8 2 8-7 8 0 8-8 8-11 8-4 8-5 8-3 8 0 8-5 8-15 8-1 8 3 8-6 8-8 8-4 8 5 8-8 8-2 8-6 8-5 8-3 8-9 8-11 8-3 8-2 8-13 8-22 8-11 8-1 8-10 8-5 8 0 8 1 8-6 8-2 8 2 8-2 8 14 8 4 8 5 8 3 8 8 8 8 8 5 8 2 8 4 8 2 8-1 8 6 8-2 8-3 8 2 8-3 8 0 8 1 8 7 8 1 8-1 8-2 8 6 8 0 8-4 8-2 8 8 8 10 8-4 8 3 8 5 8 3 8-9 8-4 8-3 2-1 2-2 2 0 2 0 2 2 2 1 2 0 2 0 2-2 2-3 2-2 2-1 2-2 2-2 2-1 2-1 2 1 2 1 2 3 2 3 2 3 2 2 2-1 2-1 2-2 2-2 2-1 2-1 2 1 2 1 2-1 2-1 2-1 2-1 2 0 2-1 2 2 2 0 2 2 2 1 2-1 2-1 2-3 2-4 2-3 2-4 2-5 2-5 2-6 2-5 2-5 2-5 2-4 2-4 2-5 2-5 2-8 2-8 2-10 2-9 2-10 2-10 2-9 2-11 2-11 2-13 2-13 2-15 2-13 2-13 2-16 2-16 2-21 2-23 2-25 2-27 2-25 2-26 2-27 2-25 2-29 2-32 2-37 2-40 2-47 2-53 2-61 2-69 2-91 2-118 2-141 2-173 2-177 2-188 2-232 2-295 2-262 2 0 2 0 2 0 2 0 2 0 2 0 2 0 2 0 2 0 2 0 2 0 2 0 2 0 2 0 2 412 2 513 2 356 2 241 2 129 2 103 2 78 2 60 2 52 2 44 2 53 2 65 2 63 2 55 2 50 2 41 2 32 2 26 2 23 2 18 2 15 2 15 2 13 2 13 2 14 2 13 2 12 2 9 2 9 2 7 2 6 2 8 2 6 2 7 2 6 2 3 2 3 2 0 2 1 2 1 2 1 2 4 2 3 2 4 2 3 2 3 2 4 2 2 2 3 2 1 2 1 2 0 2 1 2 0 2 1 2 3 2 2 2 3 2 3 2 2 2 1 2 1 2 1 2 2 2 3 2 1 2 2 2 0 2-1 2-1 2-1 2 0 2 0 2 1 2 0 2-1 2-1 2-1 2-2 2-1 2 0 2 1 2 2 2 3 2 3 2 2 2 2 2 0 2 0 8-7 8-1 8 3 8 7 8-2 8 0 8 2 8-4 8 5 8-3 8-6 8 8 8 7 8-2 8-7 8-3 8 4 8 1 8 0 8-4 8 5 8 3 8 3 8-8 8-3"/><path d="M160 3830l8 4 8-7 8-3 8 3 8-9 8 3 8 0 8 1 8-5 8-6 8-6 8 1 8 2 8 2 8-3 8-11 8-4 8-3 8 3 8-11 8-7 8 6 8-6 8-8 8 2 8 5 8-6 8 0 8-1 8-11 8-4 8 1 8-6 8 0 8-4 8-9 8-12 8-7 8-3 8-5 8-7 8-4 8 1 8-2 8-3 8-2 8-5 8 1 8 5 8-4 8-3 8 1 8 0 8-2 8-4 8-8 8 5 8 8 8-5 8-8 8 3 8-2 8-1 8-3 8-3 8-10 8-1 8-2 8-1 8-10 8-1 8 6 8-6 8-10 8-2 8-1 8 0 8-9 8-6 8 1 8-11 8-13 8-2 8 0 8-4 8-6 8-4 8 0 8 6 8-9 8-10 8-4 8-9 8 1 8-1 8-8 8-14 8-8 8-14 8-6 8-4 8-17 8-8 8-3 8 0 8-5 8-2 8 1 8 7 8 8 8 0 8 1 8 15 8 4 8 0 8 5 8-3 8 7 8 14 8-4 8 4 8 2 8 1 8-6 8 1 8-1 8-1 8 5 8 1 8-1 8-1 8 3 8 2 8-4 8 1 8 4 8 3 8 4 8 5 8 7 8-4 8 1 8-2 8-7 8 10 2 0 2 1 2-3 2-2 2-2 2-2 2 1 2 0 2 2 2 2 2 0 2 1 2-1 2-1 2-3 2-2 2-2 2-2 2-1 2 0 2 1 2 0 2 0 2 0 2-2 2-1 2-2 2-1 2-1 2-1 2-1 2-1 2-1 2-1 2-1 2-1 2 0 2 0 2-1 2 0 2 0 2-1 2-1 2-1 2-1 2-1 2-2 2-2 2-4 2-6 2-6 2-6 2-6 2-6 2-7 2-7 2-9 2-11 2-8 2-8 2-6 2-8 2-8 2-8 2-11 2-12 2-15 2-17 2-18 2-17 2-21 2-21 2-22 2-25 2-25 2-27 2-23 2-24 2-27 2-24 2-28 2-32 2-37 2-41 2-48 2-53 2-60 2-68 2-89 2-116 2-140 2-172 2-179 2-189 2-233 2-297 2-277 2 0 2 0 2 0 2 0 2 0 2 0 2 0 2 0 2 0 2 0 2 0 2 0 2 0 2 0 2 425 2 517 2 356 2 243 2 129 2 104 2 79 2 61 2 52 2 46 2 56 2 68 2 66 2 59 2 53 2 44 2 35 2 29 2 25 2 16 2 13 2 11 2 10 2 11 2 12 2 13 2 12 2 8 2 8 2 5 2 4 2 3 2 3 2 2 2 2 2 2 2 1 2 4 2 3 2 6 2 5 2 6 2 6 2 4 2 5 2 3 2 3 2 3 2 3 2 3 2 3 2 2 2 3 2 0 2 1 2 0 2 0 2 0 2-1 2 0 2 0 2 1 2 0 2 2 2 1 2 3 2 2 2 3 2 2 2 1 2 1 2 0 2-1 2-2 2-1 2 0 2-1 2 1 2 1 2 1 2 1 2 0 2 0 2 2 2 2 2 3 2 2 2 1 2 0 8-10 8-1 8-10 8 6 8 8 8 0 8 5 8 0 8-5 8-7 8 5 8-1 8-9 8 5 8 7 8-3 8-4 8 6 8-3 8 3 8 3 8 0 8 2 8 1 8-6"/><path d="M160 3852l8 3 8-10 8 8 8 2 8-3 8 5 8-7 8-8 8 0 8-4 8 2 8-5 8-6 8 2 8 2 8-1 8-7 8-9 8-6 8 4 8-5 8-6 8-6 8 4 8 2 8-5 8-2 8 2 8-5 8-12 8-4 8-3 8-3 8-2 8-12 8 4 8-7 8-12 8-7 8-4 8-1 8-1 8-4 8-1 8-2 8-2 8-6 8-3 8-5 8-1 8 1 8 5 8-2 8-2 8-2 8-4 8-3 8 2 8 5 8 0 8 0 8-13 8-5 8 7 8 0 8 0 8-9 8-10 8 7 8-2 8-4 8-5 8-6 8-7 8-4 8-7 8-7 8-8 8-2 8 0 8-9 8-5 8-1 8-5 8-7 8-11 8 4 8 6 8-6 8-11 8 1 8-7 8-16 8-2 8 3 8-10 8-12 8-10 8-7 8-15 8-3 8-13 8-11 8-4 8 5 8-5 8 3 8 3 8 3 8-2 8 3 8 6 8 2 8 8 8 9 8 4 8 1 8 17 8 6 8-5 8-5 8-1 8 6 8-2 8 3 8 1 8-1 8-1 8 4 8 4 8-3 8 9 8-2 8-3 8-5 8 3 8 13 8 9 8 4 8 0 8-8 8-6 8 7 8-7 8-2 2 0 2 1 2 0 2 1 2-1 2-1 2-1 2-1 2-1 2-1 2 0 2 1 2 0 2 1 2 1 2 0 2 2 2 1 2 0 2-1 2-1 2-2 2-2 2-1 2-1 2-1 2 0 2 1 2 1 2 1 2 0 2-1 2-1 2-2 2-2 2-2 2 0 2-1 2 1 2 0 2 0 2-1 2-2 2-3 2-3 2-4 2-4 2-3 2-3 2-3 2-3 2-4 2-5 2-5 2-7 2-8 2-11 2-12 2-13 2-12 2-10 2-11 2-7 2-8 2-9 2-11 2-15 2-17 2-17 2-17 2-18 2-19 2-19 2-22 2-23 2-26 2-26 2-26 2-29 2-27 2-31 2-34 2-37 2-42 2-44 2-51 2-57 2-66 2-90 2-117 2-143 2-176 2-180 2-190 2-233 2-295 2-293 2 0 2 0 2 0 2 0 2 0 2 0 2 0 2 0 2 0 2 0 2 0 2 0 2 0 2 0 2 432 2 525 2 362 2 248 2 130 2 107 2 81 2 61 2 52 2 45 2 53 2 68 2 65 2 57 2 51 2 41 2 31 2 26 2 22 2 19 2 15 2 15 2 14 2 11 2 12 2 11 2 9 2 10 2 9 2 9 2 8 2 7 2 6 2 5 2 5 2 5 2 5 2 4 2 3 2 1 2 2 2 0 2 1 2 1 2 1 2 4 2 3 2 5 2 5 2 2 2 3 2 1 2 1 2 2 2 1 2 1 2 2 2-1 2-1 2 0 2-1 2 1 2 1 2 1 2 0 2 0 2 0 2 0 2 0 2 0 2 0 2-1 2-1 2 0 2-1 2 0 2 0 2 1 2 0 2 2 2 2 2 3 2 2 2 2 2 1 2 0 2 1 2-1 2 0 8 3 8 0 8-1 8-7 8 3 8 1 8 6 8-4 8-4 8 6 8 4 8-7 8 2 8 2 8 0 8-1 8 8 8-4 8 0 8-2 8-1 8 5 8 3 8-1 8 0"/><path d="M160 3883l8-6 8 3 8 1 8-8 8 2 8-4 8-2 8 0 8 2 8-1 8-5 8 1 8-7 8-7 8 3 8 0 8-6 8-7 8 2 8 2 8-12 8-8 8-1 8 11 8-1 8-6 8-1 8-6 8 1 8-6 8-4 8-13 8-10 8 2 8-9 8-8 8-2 8-7 8-2 8-5 8 1 8-8 8-6 8-8 8-2 8 5 8 3 8 0 8-8 8-4 8 0 8 7 8-4 8-10 8-1 8 7 8-4 8-10 8 5 8 3 8 2 8-3 8-10 8-5 8 4 8 0 8-6 8-3 8-3 8-5 8-13 8-9 8-3 8-7 8 15 8 1 8-8 8-9 8-4 8-6 8-5 8-1 8-8 8-6 8-5 8 2 8 0 8 0 8-5 8-5 8-5 8-7 8-7 8-7 8-9 8-11 8-11 8-9 8-6 8-12 8-11 8-13 8-3 8-1 8-2 8-4 8-5 8 3 8 5 8-1 8 10 8 9 8-2 8 10 8 4 8 6 8 6 8 10 8 1 8 0 8 3 8-3 8 1 8 1 8 1 8 1 8-3 8-3 8 1 8 4 8 4 8 3 8-7 8 6 8 11 8 0 8-2 8 2 8 8 8 4 8 2 8 5 8 1 8-2 8-4 2-3 2-2 2-1 2-2 2-1 2-1 2 0 2-1 2 0 2 0 2-2 2-2 2-3 2-2 2 1 2 0 2 3 2 2 2 1 2 1 2 0 2 0 2-2 2-1 2-2 2-2 2 0 2 0 2 2 2 3 2 2 2 2 2-1 2-1 2-4 2-3 2-3 2-2 2-1 2-1 2 0 2-1 2-2 2-2 2-3 2-4 2-3 2-3 2-3 2-3 2-5 2-5 2-7 2-7 2-7 2-8 2-7 2-8 2-8 2-7 2-8 2-10 2-10 2-12 2-14 2-15 2-19 2-20 2-17 2-18 2-16 2-17 2-19 2-21 2-24 2-27 2-27 2-26 2-29 2-26 2-30 2-33 2-36 2-39 2-44 2-50 2-57 2-66 2-91 2-119 2-145 2-178 2-182 2-190 2-231 2-294 2-313 2 0 2 0 2 0 2 0 2 0 2 0 2 0 2 0 2 0 2 0 2 0 2 0 2 0 2 0 2 442 2 529 2 365 2 246 2 126 2 104 2 78 2 63 2 54 2 49 2 60 2 71 2 68 2 57 2 50 2 43 2 32 2 28 2 25 2 18 2 15 2 12 2 11 2 11 2 10 2 12 2 11 2 9 2 8 2 7 2 6 2 6 2 6 2 7 2 6 2 6 2 6 2 6 2 5 2 3 2 4 2 1 2 2 2 1 2 1 2 2 2 2 2 2 2 1 2 3 2 2 2 3 2 2 2 1 2 1 2-1 2 0 2 0 2 0 2 3 2 3 2 3 2 3 2 0 2 0 2 0 2-1 2-1 2 0 2 0 2-1 2-1 2 0 2-1 2-1 2 0 2 1 2 1 2 1 2 1 2 1 2 1 2 1 2 2 2 1 2 0 2 1 2-1 2 0 8 2 8 1 8 2 8-2 8-4 8 3 8 3 8-2 8 6 8 5 8-7 8-3 8-2 8-1 8-4 8-5 8 7 8 8 8 1 8-5 8 1 8-9 8 10 8 11 8-4"/><path d="M160 3911l8-2 8-5 8-2 8 4 8-2 8-7 8-1 8 2 8-7 8 6 8-7 8 3 8 4 8 2 8-6 8-10 8-8 8-2 8 1 8-4 8-6 8-4 8 2 8-8 8 1 8 7 8-9 8-6 8-8 8-7 8-3 8-5 8-5 8 1 8-10 8-8 8-8 8-7 8-2 8-3 8-6 8-8 8-6 8 3 8 1 8 1 8-6 8-3 8-1 8-2 8 5 8 1 8-1 8-3 8-8 8 8 8-2 8-8 8 0 8-6 8 1 8-1 8-6 8-2 8 3 8-4 8-3 8-4 8-1 8-2 8-4 8-6 8-1 8-6 8 2 8-7 8-2 8-3 8-3 8-14 8-14 8 3 8-9 8-8 8-1 8-10 8 7 8-2 8-3 8-4 8-4 8-4 8-9 8-9 8-9 8-6 8-10 8-11 8-8 8-10 8-17 8-1 8-4 8-3 8-10 8-3 8 0 8-2 8 2 8 7 8 4 8 5 8 13 8 5 8 8 8 3 8-2 8 10 8 7 8 3 8 1 8-8 8 6 8 9 8 1 8-7 8 1 8 4 8 4 8 0 8-3 8 3 8 6 8 1 8-2 8 2 8 7 8 10 8 0 8-3 8-7 8 0 8 1 8-5 8 6 2 2 2 2 2 0 2 0 2-1 2-2 2-1 2-1 2-1 2-1 2-1 2-1 2-1 2-1 2 0 2 0 2 0 2 0 2-1 2-1 2-2 2-1 2 0 2 0 2 1 2 0 2 0 2 0 2 0 2 0 2 1 2 0 2 1 2 1 2 0 2 0 2-3 2-2 2-3 2-4 2-4 2-4 2-3 2-3 2-1 2-1 2-2 2-3 2-3 2-4 2-5 2-5 2-6 2-6 2-5 2-6 2-5 2-5 2-6 2-6 2-9 2-11 2-12 2-14 2-15 2-16 2-16 2-18 2-18 2-18 2-19 2-21 2-21 2-23 2-23 2-26 2-26 2-26 2-30 2-29 2-31 2-35 2-36 2-39 2-43 2-49 2-56 2-65 2-92 2-120 2-147 2-180 2-182 2-189 2-230 2-292 2-329 2 0 2 0 2 0 2 0 2 0 2 0 2 0 2 0 2 0 2 0 2 0 2 0 2 0 2 0 2 455 2 538 2 371 2 248 2 126 2 101 2 75 2 62 2 53 2 48 2 60 2 73 2 71 2 61 2 55 2 43 2 33 2 25 2 22 2 16 2 13 2 13 2 12 2 11 2 11 2 11 2 10 2 9 2 9 2 6 2 6 2 5 2 4 2 6 2 5 2 8 2 7 2 7 2 6 2 4 2 4 2 2 2 2 2 2 2 1 2 3 2 2 2 3 2 3 2 2 2 3 2 1 2 2 2 1 2 1 2 1 2 1 2 1 2 1 2 1 2 1 2-1 2 0 2-1 2 0 2 1 2 1 2 2 2 2 2 0 2 0 2-1 2-2 2-1 2-1 2 0 2 0 2 1 2 0 2 0 2-1 2 0 2 0 2 0 2 0 2-1 2 0 2 0 2 0 8 1 8 6 8 1 8 11 8 1 8-1 8 1 8-5 8-6 8 0 8 2 8 3 8-10 8-2 8 5 8 0 8 3 8 0 8-7 8 14 8-1 8-2 8-2 8-1 8-5"/><path d="M160 3934l8-3 8 8 8 4 8-10 8-10 8-5 8 4 8-3 8-2 8-3 8 7 8 2 8-8 8-10 8-8 8 2 8-9 8 4 8-1 8 2 8-2 8 1 8-2 8-8 8-2 8-6 8-9 8 5 8 2 8-13 8-3 8-5 8-8 8-9 8-9 8-4 8 0 8 3 8-13 8-5 8-8 8-3 8 3 8-4 8-7 8 1 8 4 8-6 8-2 8-2 8-2 8-1 8-1 8-2 8 3 8-4 8-10 8 9 8-4 8 9 8-9 8-6 8 0 8 1 8-1 8-2 8-3 8-1 8-6 8-1 8-1 8-14 8-4 8-3 8-5 8-9 8 3 8-3 8-8 8-8 8-6 8-8 8 3 8-5 8-9 8 0 8-5 8-14 8 3 8 2 8-4 8-9 8-13 8-3 8-6 8-7 8-7 8-16 8-11 8-7 8-17 8-9 8-3 8 0 8-7 8-11 8 3 8 2 8 2 8 2 8 10 8 2 8 2 8 15 8 2 8 2 8 16 8 4 8 8 8 5 8-6 8-1 8 9 8-1 8-3 8 6 8 8 8 0 8-1 8 4 8-4 8-11 8 6 8 3 8 9 8 10 8-3 8 5 8 8 8-2 8 3 8-2 8-2 8-7 8 0 2 0 2 0 2 0 2 0 2-2 2-1 2-1 2-2 2-1 2-2 2 0 2 0 2 1 2 0 2 0 2 1 2 1 2 1 2 2 2 1 2 1 2 1 2-2 2-2 2-2 2-2 2-1 2-2 2 0 2 0 2 0 2-1 2-1 2-2 2 0 2-1 2 0 2 0 2-1 2-1 2-3 2-4 2-4 2-4 2-2 2-2 2-2 2-1 2-2 2-2 2-3 2-4 2-6 2-7 2-9 2-9 2-10 2-12 2-9 2-10 2-8 2-10 2-10 2-11 2-12 2-13 2-16 2-18 2-18 2-17 2-19 2-20 2-22 2-24 2-25 2-28 2-25 2-25 2-26 2-25 2-28 2-32 2-37 2-41 2-47 2-52 2-58 2-67 2-91 2-119 2-145 2-179 2-182 2-189 2-230 2-292 2-351 2 0 2 0 2 0 2 0 2 0 2 0 2 0 2 0 2 0 2 0 2 0 2 0 2 0 2 0 2 462 2 543 2 374 2 251 2 126 2 102 2 76 2 60 2 51 2 46 2 58 2 73 2 69 2 60 2 53 2 44 2 33 2 28 2 24 2 18 2 14 2 15 2 14 2 14 2 15 2 14 2 13 2 10 2 8 2 7 2 5 2 5 2 5 2 4 2 4 2 5 2 4 2 5 2 5 2 6 2 5 2 4 2 5 2 3 2 2 2 1 2 2 2 0 2 0 2 0 2-1 2 0 2 0 2 1 2 0 2 3 2 3 2 3 2 2 2 1 2 1 2 1 2 1 2 2 2 1 2 0 2 1 2 0 2 0 2 1 2 1 2-1 2 0 2-1 2-2 2 0 2-1 2 1 2 1 2 2 2 1 2 2 2 1 2 2 2 2 2 0 2-1 2-2 2-3 8-3 8 13 8-4 8-2 8 4 8-1 8 2 8-8 8 5 8-1 8 3 8 1 8-2 8 0 8-2 8 2 8 6 8-2 8-8 8 6 8 1 8 7 8-3 8-2 8 4"/><path d="M160 3966l8-3 8-2 8 0 8 2 8-13 8 2 8 4 8-4 8-9 8-8 8 7 8 5 8-10 8 0 8-5 8 2 8-6 8-16 8 10 8-2 8 2 8-8 8-2 8-6 8-2 8 3 8-6 8-8 8-3 8 2 8-6 8-5 8-5 8-10 8-6 8 1 8-16 8-6 8 1 8-10 8-6 8 3 8-1 8-9 8-3 8-2 8 3 8-5 8-1 8 2 8-6 8 0 8-5 8 1 8 6 8-11 8-2 8 11 8 1 8-5 8-3 8-5 8-7 8 5 8 1 8-6 8 0 8-1 8-8 8-11 8-2 8-7 8 6 8-6 8-2 8-3 8-15 8-11 8 0 8-12 8-2 8 6 8-2 8-13 8-11 8 3 8 3 8-2 8-4 8-12 8-4 8-5 8-17 8-1 8-8 8-12 8-18 8-1 8-8 8-14 8-14 8-11 8-9 8 4 8 1 8-11 8-3 8 6 8 4 8 6 8 4 8 4 8 5 8 3 8 11 8 17 8 8 8 0 8 6 8 0 8 1 8 5 8 4 8-8 8-3 8 5 8 3 8 14 8 6 8 2 8-12 8-5 8 7 8 3 8 7 8-1 8 4 8 8 8-1 8 4 8 0 8-4 8-2 8-8 8 2 2 3 2 3 2 1 2 1 2-1 2 0 2-1 2-1 2 0 2 0 2 1 2 0 2 0 2-1 2-1 2-2 2 0 2 0 2 1 2 0 2-1 2-1 2-1 2-2 2 0 2-1 2 1 2 0 2 0 2 0 2 0 2-1 2-1 2-1 2-2 2-1 2-3 2-2 2-3 2-4 2-2 2-3 2-2 2-3 2-3 2-3 2-4 2-4 2-3 2-4 2-2 2-3 2-3 2-4 2-5 2-6 2-10 2-10 2-11 2-9 2-9 2-10 2-11 2-12 2-14 2-16 2-16 2-18 2-16 2-16 2-17 2-19 2-21 2-23 2-27 2-29 2-29 2-30 2-30 2-30 2-29 2-32 2-35 2-38 2-44 2-49 2-59 2-67 2-93 2-122 2-147 2-180 2-180 2-186 2-228 2-288 2-370 2 0 2 0 2 0 2 0 2 0 2 0 2 0 2 0 2 0 2 0 2 0 2 0 2 0 2 0 2 472 2 550 2 379 2 253 2 126 2 103 2 77 2 59 2 52 2 44 2 57 2 74 2 71 2 62 2 55 2 44 2 33 2 29 2 24 2 18 2 16 2 14 2 14 2 13 2 14 2 13 2 11 2 8 2 8 2 5 2 5 2 4 2 4 2 5 2 5 2 5 2 4 2 5 2 4 2 4 2 3 2 4 2 4 2 3 2 3 2 3 2 3 2 3 2 3 2 2 2 2 2 0 2 1 2-1 2-1 2 0 2 1 2 1 2 1 2 1 2 1 2 2 2 2 2 2 2 2 2 0 2 0 2-1 2-1 2 1 2 0 2 1 2 1 2 1 2 0 2 1 2 2 2 2 2 3 2 2 2 2 2-2 2-2 2-3 2-4 2 0 2 0 2 2 2 3 8 4 8-4 8-1 8-1 8 6 8-2 8 4 8-3 8 2 8-7 8 5 8 12 8-6 8 0 8-4 8-1 8 5 8 2 8 3 8 0 8 6 8-8 8-10 8-1 8 2"/><path d="M160 4005l8-14 8-8 8-7 8 2 8 0 8 2 8 1 8-4 8 1 8 4 8-9 8-3 8-1 8 0 8-5 8 1 8-6 8 3 8-4 8-13 8 4 8-6 8-5 8-7 8-8 8 4 8 4 8-7 8-2 8-12 8-8 8-9 8 1 8-5 8-8 8-1 8-1 8-7 8-6 8-9 8 0 8-7 8-12 8 2 8 5 8-9 8 5 8-1 8-3 8 1 8-3 8-3 8-6 8-4 8 7 8-5 8-1 8 4 8 0 8-5 8-2 8-2 8-3 8-2 8-5 8-6 8 5 8 2 8-8 8-10 8-4 8-9 8 4 8-5 8-2 8 1 8-4 8-13 8-7 8 0 8-10 8-9 8-4 8-4 8-5 8-1 8-4 8 6 8-5 8-11 8-6 8 2 8-6 8-7 8-9 8-20 8-12 8-10 8-13 8-7 8-8 8-10 8-14 8-3 8-10 8-4 8-8 8 3 8 7 8 10 8 8 8 4 8 7 8 8 8 3 8 15 8 9 8-1 8 1 8 16 8 8 8-9 8-2 8-2 8 0 8 14 8 7 8-2 8-9 8 1 8 18 8-2 8-8 8 4 8 7 8 11 8-2 8 5 8 3 8 0 8-4 8-8 8 1 8 1 8 0 2 1 2 0 2 2 2 1 2 2 2 2 2 0 2 1 2 0 2-1 2 0 2-1 2-2 2-1 2-2 2-1 2-1 2-2 2 1 2 0 2 1 2 0 2 0 2 0 2-1 2 0 2 0 2 0 2 0 2 1 2-1 2 0 2-2 2-2 2-3 2-2 2-3 2-3 2-3 2-3 2-1 2-2 2-1 2-1 2-3 2-3 2-5 2-5 2-3 2-4 2-2 2-2 2-5 2-5 2-8 2-9 2-9 2-10 2-7 2-8 2-8 2-10 2-11 2-12 2-14 2-16 2-18 2-20 2-19 2-19 2-20 2-20 2-21 2-23 2-24 2-27 2-25 2-26 2-28 2-28 2-30 2-34 2-36 2-40 2-45 2-51 2-58 2-66 2-92 2-122 2-149 2-183 2-182 2-188 2-227 2-288 2-374 2-13 2 0 2 0 2 0 2 0 2 0 2 0 2 0 2 0 2 0 2 0 2 0 2 0 2 0 2 478 2 557 2 386 2 257 2 127 2 103 2 76 2 59 2 51 2 44 2 58 2 75 2 72 2 62 2 56 2 44 2 33 2 29 2 25 2 18 2 16 2 13 2 11 2 9 2 9 2 11 2 11 2 12 2 11 2 10 2 10 2 8 2 8 2 6 2 6 2 5 2 5 2 3 2 4 2 2 2 2 2 3 2 3 2 4 2 3 2 1 2 1 2 0 2 0 2 1 2 1 2 2 2 2 2 1 2 2 2 0 2 0 2 1 2 0 2 3 2 3 2 3 2 4 2 2 2 3 2 0 2 0 2 0 2 0 2 0 2 0 2-1 2 0 2 0 2-1 2 1 2 0 2 0 2 1 2 0 2 1 2 1 2 1 2 0 2 1 2 0 2-1 2 0 2 0 8 1 8 1 8 1 8-1 8 4 8 3 8-9 8-2 8 2 8-2 8-2 8 7 8 1 8-8 8 8 8 0 8-6 8 6 8 0 8 0 8 0 8 0 8 2 8-12 8 2"/><path d="M160 4023l8-3 8-4 8-2 8-2 8-3 8-5 8 6 8-4 8 0 8-11 8 1 8-1 8 1 8-5 8 3 8 1 8-4 8-7 8-12 8 1 8-2 8-4 8-2 8-1 8-5 8-5 8 1 8-10 8-1 8 1 8-13 8 0 8 1 8-9 8-9 8-14 8-10 8 1 8-5 8-3 8-1 8-12 8-1 8 2 8-7 8-1 8-10 8 0 8-1 8 1 8-4 8 3 8 3 8 0 8 12 8-6 8-8 8 0 8-7 8-5 8-7 8 12 8-5 8-6 8-4 8-4 8 6 8 3 8-12 8-12 8-6 8 2 8 1 8-9 8-3 8-3 8-5 8-8 8-4 8-3 8-14 8 2 8-4 8-9 8 0 8-2 8-1 8-10 8-12 8-8 8 3 8-12 8-7 8-13 8 0 8-2 8-15 8-11 8-17 8-8 8-13 8-17 8-15 8-6 8 3 8 3 8 8 8-8 8-5 8 9 8 7 8 11 8 15 8 1 8 4 8 9 8 5 8 6 8 6 8 11 8 0 8 2 8-3 8 4 8-1 8 5 8 2 8 5 8 0 8-1 8-3 8 4 8 7 8 11 8 9 8 3 8 1 8 3 8 1 8-10 8 4 8 0 8 1 8 4 8 2 2-2 2-1 2-3 2-2 2-2 2-2 2 1 2 1 2 3 2 3 2 3 2 3 2 0 2 0 2-2 2-1 2-4 2-3 2-4 2-5 2-2 2-2 2 1 2 0 2 1 2 1 2 2 2 3 2 2 2 2 2 0 2-1 2-2 2-2 2-2 2-2 2-2 2-2 2-1 2-1 2-2 2-1 2-2 2-3 2-2 2-2 2-2 2-3 2-3 2-4 2-5 2-6 2-8 2-10 2-10 2-11 2-10 2-11 2-8 2-6 2-7 2-7 2-10 2-11 2-14 2-15 2-17 2-18 2-18 2-18 2-20 2-22 2-21 2-24 2-25 2-27 2-27 2-26 2-31 2-30 2-32 2-35 2-36 2-40 2-43 2-49 2-57 2-65 2-95 2-124 2-152 2-186 2-184 2-187 2-228 2-287 2-372 2-26 2 0 2 0 2 0 2 0 2 0 2 0 2 0 2 0 2 0 2 0 2 0 2 0 2 0 2 485 2 561 2 387 2 259 2 126 2 103 2 75 2 59 2 51 2 44 2 58 2 75 2 73 2 65 2 57 2 48 2 36 2 32 2 27 2 20 2 17 2 16 2 15 2 13 2 13 2 11 2 10 2 7 2 6 2 6 2 5 2 6 2 5 2 5 2 4 2 4 2 5 2 4 2 4 2 3 2 2 2 4 2 3 2 5 2 4 2 4 2 4 2 3 2 2 2 1 2 1 2 0 2 1 2 1 2 1 2 2 2 2 2 1 2 1 2 1 2 0 2 2 2 1 2 1 2 2 2 1 2 1 2-1 2-1 2 0 2-1 2-1 2-1 2 0 2-1 2 2 2 1 2 2 2 2 2 2 2 1 2 1 2 0 2 1 2 1 2 2 2 2 2 1 2 1 8-9 8-5 8-5 8 5 8 9 8 3 8 0 8-6 8-2 8 0 8-6 8 3 8 5 8-2 8 2 8 8 8-10 8-1 8 7 8 6 8-1 8-2 8 0 8-7 8-2"/><path d="M160 4043l8-1 8-2 8 1 8-9 8 6 8 7 8-3 8-9 8 3 8 0 8-11 8-6 8 4 8 1 8-5 8-1 8-8 8 6 8-6 8-6 8 7 8-8 8-10 8-7 8-9 8-1 8 6 8-3 8-1 8-7 8-7 8-19 8-2 8 8 8-14 8-11 8-2 8 5 8-7 8-16 8-4 8 4 8-4 8-10 8-5 8-9 8 5 8 9 8-4 8-2 8 1 8-6 8-5 8-3 8 0 8 6 8-4 8-4 8 3 8-9 8-5 8 2 8 0 8-4 8 0 8-7 8-2 8 0 8 1 8 1 8-12 8-1 8-6 8-3 8-1 8-4 8-9 8-7 8-5 8-4 8-9 8-7 8-6 8-8 8-2 8 1 8-9 8-2 8-1 8-2 8-10 8-3 8-9 8-11 8-14 8-13 8-9 8-14 8-10 8-14 8-16 8-9 8-7 8-5 8 2 8-1 8 0 8-1 8 3 8 0 8 7 8 6 8 8 8 9 8 12 8 11 8 8 8 9 8-9 8 7 8 12 8 1 8-2 8 1 8-5 8 12 8 8 8-6 8 1 8 9 8 5 8 0 8 0 8 5 8 3 8 1 8 10 8 10 8-1 8-1 8 0 8-2 8 4 8-9 8 0 2 2 2 1 2 1 2 1 2-1 2 0 2-2 2-1 2 0 2-1 2 1 2 0 2 0 2 0 2-1 2 0 2-1 2 0 2 0 2-1 2 0 2-1 2 1 2 1 2 0 2-1 2-1 2-2 2-1 2-2 2 0 2 0 2 0 2 0 2-1 2-1 2-4 2-3 2-3 2-3 2-3 2-3 2-3 2-2 2-3 2-2 2-4 2-5 2-5 2-6 2-6 2-7 2-7 2-7 2-7 2-8 2-7 2-8 2-8 2-7 2-8 2-10 2-11 2-13 2-15 2-16 2-17 2-20 2-17 2-17 2-18 2-19 2-21 2-23 2-26 2-27 2-26 2-25 2-27 2-26 2-29 2-33 2-38 2-42 2-49 2-55 2-62 2-71 2-96 2-127 2-151 2-185 2-181 2-184 2-223 2-282 2-367 2-49 2 0 2 0 2 0 2 0 2 0 2 0 2 0 2 0 2 0 2 0 2 0 2 0 2 0 2 496 2 571 2 395 2 262 2 125 2 100 2 73 2 56 2 47 2 44 2 58 2 77 2 75 2 64 2 57 2 47 2 35 2 31 2 28 2 21 2 18 2 16 2 13 2 11 2 12 2 11 2 9 2 9 2 9 2 8 2 7 2 8 2 7 2 6 2 5 2 4 2 4 2 4 2 4 2 2 2 3 2 2 2 3 2 3 2 3 2 3 2 3 2 2 2 2 2 2 2 1 2 2 2 1 2 2 2 2 2 3 2 2 2 2 2 2 2 0 2 1 2 0 2 1 2-1 2-1 2-2 2-1 2 1 2 1 2 2 2 3 2 2 2 3 2 0 2 1 2-2 2-1 2-2 2-1 2-1 2-1 2 0 2-1 2 1 2 1 2 3 2 3 2 2 2 2 8-6 8 4 8 7 8-9 8-1 8 2 8-3 8-2 8 3 8 6 8 4 8 0 8 3 8-4 8 1 8 5 8-8 8-2 8-4 8 0 8 2 8-3 8 0 8 7 8 3"/><path d="M160 4072l8-1 8-1 8 2 8-9 8-11 8-4 8 6 8 2 8 1 8 4 8-7 8-6 8 2 8 1 8-7 8 1 8 3 8-5 8-11 8-6 8-10 8 3 8 0 8-10 8-2 8-3 8-6 8-2 8 1 8-2 8-6 8-10 8-7 8-3 8-5 8-12 8 1 8-7 8-10 8 2 8-10 8-10 8-9 8-3 8 9 8 1 8 0 8-6 8 0 8 0 8 2 8-5 8-5 8 3 8-3 8-4 8-2 8 5 8-6 8-4 8-1 8 0 8 0 8 0 8-6 8-4 8 1 8-6 8-9 8 3 8 2 8 0 8-13 8-4 8 4 8-10 8-9 8-6 8-12 8 1 8-11 8-8 8-3 8-12 8 1 8-1 8-5 8 7 8-4 8-9 8-8 8-8 8-10 8-13 8-7 8-8 8-14 8-15 8-11 8-13 8-10 8-9 8-8 8-15 8-6 8 1 8 4 8 0 8 0 8 10 8 2 8 9 8 19 8 1 8 3 8 17 8-3 8 13 8 9 8 4 8 0 8 1 8 6 8-1 8 2 8 2 8 0 8 6 8 6 8 0 8 2 8 7 8-2 8 2 8 6 8 5 8 2 8 9 8 5 8-3 8 2 8 7 8 1 8-4 8-10 2 0 2 0 2 2 2 1 2 2 2 2 2 0 2 1 2-1 2-1 2-2 2-2 2-2 2-2 2-1 2 0 2 0 2-1 2 0 2-1 2-1 2-2 2-1 2-2 2 0 2 0 2 3 2 3 2 3 2 2 2 0 2 0 2-1 2-1 2-2 2-1 2-2 2-2 2-3 2-3 2-3 2-3 2-4 2-4 2-4 2-4 2-3 2-4 2-4 2-5 2-5 2-5 2-7 2-7 2-8 2-8 2-9 2-11 2-9 2-9 2-9 2-10 2-10 2-12 2-14 2-15 2-18 2-19 2-18 2-16 2-17 2-19 2-19 2-21 2-25 2-27 2-28 2-28 2-31 2-31 2-33 2-37 2-38 2-42 2-45 2-50 2-56 2-65 2-92 2-123 2-153 2-188 2-187 2-189 2-229 2-287 2-368 2-62 2 0 2 0 2 0 2 0 2 0 2 0 2 0 2 0 2 0 2 0 2 0 2 0 2 0 2 500 2 577 2 398 2 263 2 124 2 102 2 75 2 61 2 52 2 47 2 63 2 79 2 77 2 64 2 56 2 45 2 32 2 28 2 25 2 19 2 17 2 15 2 14 2 12 2 13 2 12 2 10 2 11 2 10 2 10 2 8 2 7 2 6 2 5 2 4 2 4 2 3 2 3 2 2 2 2 2 2 2 3 2 4 2 3 2 4 2 3 2 2 2 4 2 3 2 3 2 3 2 1 2 1 2-2 2-2 2 0 2-1 2 1 2 2 2 3 2 3 2 1 2 2 2 0 2 1 2 1 2 1 2 2 2 3 2 3 2 4 2 1 2 1 2-1 2-2 2-2 2-2 2-1 2-1 2 1 2 1 2 0 2 1 2 0 2-1 2-1 2-1 2-1 2-1 8 7 8 4 8 0 8 2 8 3 8-7 8-2 8 1 8 2 8-6 8-1 8 7 8 8 8-5 8 0 8 0 8 1 8-8 8-1 8 2 8-1 8 2 8 8 8 4 8-5"/><path d="M160 4102l8-3 8-1 8-4 8-7 8 7 8-6 8-5 8 0 8-4 8 2 8 2 8-6 8-2 8 1 8 3 8-3 8-4 8-5 8-8 8-5 8 7 8-2 8-22 8-1 8-5 8 1 8-1 8-2 8-8 8-6 8-1 8-4 8-5 8-1 8-12 8-16 8-1 8-7 8-10 8 0 8-1 8-5 8-2 8-1 8-9 8-9 8 1 8 0 8 10 8-7 8-11 8 3 8-3 8-7 8 4 8 4 8 1 8 1 8-1 8-5 8-5 8-5 8 5 8 9 8-11 8-5 8 2 8-6 8-14 8-7 8 2 8 3 8-2 8-6 8-6 8 1 8-8 8-11 8-3 8-8 8-12 8-1 8-3 8 3 8-9 8-10 8-5 8-10 8-9 8 0 8-6 8-6 8-8 8-14 8-3 8-6 8-17 8-13 8-13 8-17 8-9 8-14 8-12 8-10 8-2 8-4 8 4 8 2 8 3 8 7 8 2 8 2 8 10 8 11 8 9 8 12 8 7 8 15 8 1 8 7 8 6 8-2 8-7 8 13 8 9 8 2 8 8 8 9 8-6 8 1 8 4 8 5 8-3 8 2 8 2 8-2 8 6 8 12 8 9 8-5 8 7 8 2 8-4 8-2 8-3 2 0 2 1 2 1 2 1 2 0 2 0 2 0 2 0 2 0 2-1 2-1 2 0 2 0 2 0 2-1 2 0 2 0 2-1 2 1 2 1 2 1 2 0 2-1 2-1 2-1 2-1 2 0 2-1 2-1 2-1 2-2 2-2 2-3 2-2 2-3 2-3 2-2 2-1 2-1 2 0 2-1 2-2 2-5 2-4 2-5 2-4 2-2 2-2 2-3 2-3 2-4 2-6 2-6 2-6 2-8 2-8 2-9 2-11 2-8 2-8 2-8 2-10 2-12 2-13 2-17 2-18 2-19 2-21 2-18 2-18 2-18 2-20 2-21 2-24 2-26 2-28 2-28 2-26 2-29 2-28 2-31 2-33 2-38 2-41 2-47 2-53 2-59 2-68 2-95 2-126 2-153 2-188 2-183 2-184 2-224 2-283 2-364 2-90 2 0 2 0 2 0 2 0 2 0 2 0 2 0 2 0 2 0 2 0 2 0 2 0 2 0 2 511 2 582 2 400 2 265 2 124 2 103 2 75 2 59 2 52 2 46 2 62 2 82 2 79 2 67 2 60 2 48 2 35 2 29 2 25 2 17 2 14 2 12 2 10 2 12 2 13 2 14 2 13 2 10 2 10 2 7 2 7 2 7 2 7 2 8 2 7 2 7 2 5 2 4 2 4 2 2 2 3 2 1 2 2 2 1 2 1 2 2 2 1 2 3 2 2 2 4 2 3 2 2 2 2 2 1 2 1 2 2 2 1 2 2 2 2 2-1 2-1 2-2 2-3 2-2 2-2 2 1 2 2 2 3 2 4 2 1 2 2 2 0 2-1 2 0 2-1 2 0 2 0 2 1 2 1 2 1 2 1 2 3 2 2 2 1 2 1 2 0 2-1 2-1 2-1 8-2 8-1 8 8 8 3 8-5 8 0 8-1 8-4 8 13 8-1 8-5 8-6 8-4 8 7 8 4 8 5 8 0 8-8 8-1 8 1 8 4 8 0 8-6 8 4 8-5"/><path d="M160 4120l8 2 8 3 8 3 8-6 8-1 8-6 8-2 8 4 8-10 8-8 8 2 8 2 8-5 8-5 8 1 8-1 8-3 8-3 8-3 8 1 8-5 8-7 8 3 8-13 8-8 8 7 8-8 8-1 8 2 8-8 8-12 8-7 8 2 8-9 8-11 8-2 8-7 8-6 8-11 8-2 8 0 8-6 8-12 8-4 8 5 8-5 8-4 8 0 8 0 8-7 8 10 8 0 8-6 8-2 8 1 8 1 8-2 8-6 8 1 8-1 8 2 8 2 8-3 8-10 8-6 8-5 8 4 8 6 8-7 8-13 8-3 8 8 8-2 8-9 8-8 8-9 8-5 8-4 8-9 8-10 8-6 8 1 8 0 8-8 8-10 8-10 8-5 8 0 8 2 8-11 8-6 8-2 8-18 8-19 8-8 8-8 8-9 8-19 8-15 8-13 8-12 8-20 8-7 8 0 8 3 8-3 8 5 8 1 8 1 8-4 8 4 8 12 8 10 8 11 8 8 8 17 8 6 8 9 8 7 8 4 8-1 8 3 8 3 8 4 8 6 8 5 8 9 8-3 8 4 8 0 8 0 8 9 8 7 8-1 8 6 8 3 8-1 8 2 8 2 8 1 8-2 8 4 8 6 8 0 8 8 2 2 2 2 2-1 2-2 2-2 2-2 2-2 2-3 2-3 2-3 2-1 2 0 2 1 2 0 2 1 2 0 2 0 2 0 2 0 2 0 2 0 2 0 2 0 2-1 2 0 2 0 2 0 2-1 2-1 2-2 2-1 2-2 2-2 2-3 2-3 2-3 2-3 2-3 2-1 2-1 2-1 2-1 2-2 2-3 2-2 2-3 2-2 2-3 2-1 2-2 2-4 2-4 2-8 2-9 2-11 2-12 2-12 2-13 2-10 2-10 2-9 2-10 2-11 2-12 2-13 2-16 2-17 2-19 2-18 2-17 2-17 2-18 2-19 2-21 2-24 2-27 2-27 2-26 2-32 2-31 2-36 2-39 2-41 2-44 2-46 2-52 2-57 2-65 2-93 2-125 2-153 2-188 2-184 2-184 2-225 2-283 2-364 2-110 2 0 2 0 2 0 2 0 2 0 2 0 2 0 2 0 2 0 2 0 2 0 2 0 2 0 2 519 2 588 2 404 2 267 2 122 2 102 2 74 2 58 2 50 2 44 2 62 2 83 2 81 2 69 2 61 2 49 2 35 2 30 2 25 2 18 2 16 2 16 2 14 2 13 2 14 2 13 2 12 2 10 2 9 2 7 2 6 2 6 2 5 2 6 2 7 2 6 2 6 2 6 2 4 2 3 2 3 2 2 2 3 2 2 2 1 2 1 2 1 2 0 2 0 2 2 2 2 2 2 2 2 2 2 2 2 2 3 2 2 2 3 2 2 2 1 2 2 2 2 2 2 2 1 2 1 2 0 2-1 2-2 2-2 2-1 2-2 2-1 2-1 2 1 2 1 2 2 2 2 2 2 2 2 2 1 2 1 2-2 2-1 2-1 2 0 2 1 2 1 2 2 2 1 8-1 8-2 8 1 8 3 8-3 8 5 8 3 8-3 8-1 8-3 8-2 8 0 8 8 8 2 8-3 8-4 8 1 8-3 8-3 8 8 8-4 8 1 8 6 8 0 8-3"/><path d="M160 4156l8 1 8-3 8 1 8-9 8 9 8-1 8-15 8-6 8-1 8-7 8 1 8 11 8-9 8-8 8 2 8 5 8-6 8-10 8-2 8 0 8 2 8-9 8-5 8-3 8-3 8-6 8-3 8-10 8 1 8-8 8-5 8-7 8-5 8-4 8 0 8-7 8-17 8-2 8-8 8-8 8-1 8-5 8-7 8-4 8 0 8-5 8 7 8 0 8 3 8-11 8 5 8-3 8-7 8-4 8 0 8 7 8-3 8-7 8 2 8-5 8 4 8 2 8 1 8-2 8-7 8-8 8 0 8 9 8-7 8-12 8-4 8-7 8-5 8 1 8 1 8-11 8-8 8-10 8-8 8-9 8-7 8-6 8-9 8 3 8-2 8-11 8-5 8 1 8-2 8-7 8-6 8-9 8-16 8-6 8-11 8-14 8-12 8-11 8-14 8-17 8-12 8-15 8-9 8-11 8 2 8 3 8-8 8 3 8-1 8 8 8 17 8 8 8 4 8 0 8 6 8 17 8 21 8 10 8 10 8-6 8 5 8 11 8 3 8-2 8 10 8-1 8-7 8 6 8 9 8 6 8-1 8 2 8 5 8 5 8 5 8 3 8 4 8 1 8 0 8 4 8 4 8 5 8 0 8-7 8 3 2 2 2 2 2 1 2 1 2-1 2-1 2-1 2-1 2-2 2-2 2-3 2-2 2-2 2-1 2 0 2 1 2 1 2 1 2 1 2 1 2 0 2 0 2 0 2 1 2 0 2 0 2-2 2-3 2-2 2-2 2 0 2-1 2 1 2 0 2 0 2 0 2-1 2-2 2-3 2-3 2-3 2-3 2-4 2-3 2-6 2-5 2-7 2-7 2-3 2-4 2-3 2-3 2-6 2-6 2-9 2-10 2-11 2-13 2-11 2-10 2-10 2-11 2-11 2-13 2-15 2-16 2-18 2-20 2-19 2-17 2-17 2-19 2-20 2-22 2-27 2-29 2-28 2-27 2-29 2-30 2-32 2-35 2-39 2-43 2-48 2-53 2-59 2-68 2-94 2-126 2-153 2-188 2-181 2-180 2-222 2-278 2-361 2-136 2 0 2 0 2 0 2 0 2 0 2 0 2 0 2 0 2 0 2 0 2 0 2 0 2 0 2 522 2 595 2 408 2 271 2 124 2 104 2 76 2 58 2 51 2 44 2 61 2 82 2 80 2 68 2 61 2 48 2 36 2 31 2 27 2 20 2 17 2 15 2 13 2 12 2 12 2 12 2 11 2 11 2 10 2 9 2 8 2 8 2 7 2 5 2 4 2 3 2 3 2 3 2 2 2 4 2 4 2 4 2 4 2 3 2 3 2 5 2 4 2 6 2 5 2 3 2 3 2 2 2 1 2 1 2 0 2-1 2 0 2 0 2 1 2 3 2 2 2 2 2 2 2 0 2-1 2-2 2-3 2-1 2-1 2 1 2 1 2 1 2 2 2 0 2 0 2-2 2-2 2-2 2-2 2 3 2 2 2 5 2 5 2 2 2 3 2-1 2-1 2-1 2-2 8 4 8 2 8-2 8-11 8 2 8 1 8 1 8 8 8 2 8-9 8-1 8-2 8 2 8 2 8-4 8 3 8 1 8 0 8 3 8-5 8 8 8-3 8 3 8 0 8-1"/><path d="M160 4178l8 11 8-2 8-9 8 7 8-12 8-11 8 6 8 2 8-9 8-4 8 2 8 3 8-2 8-5 8-6 8-4 8 0 8-11 8-3 8 0 8-2 8-1 8-4 8-9 8-2 8-1 8-6 8 0 8-7 8-2 8-9 8-5 8-1 8-12 8-10 8 0 8-7 8-8 8-6 8-9 8-8 8-3 8-7 8-2 8 1 8 3 8-8 8 1 8 7 8-2 8-4 8-7 8-10 8 2 8 6 8-4 8-1 8 4 8-5 8 2 8 5 8-1 8 3 8-6 8-11 8-2 8 0 8-5 8-9 8-7 8 2 8-9 8-6 8 8 8-5 8-5 8-7 8-8 8-9 8-8 8-14 8-6 8 1 8-12 8-3 8-8 8 3 8 0 8-10 8-5 8-1 8-11 8-22 8-13 8-9 8-11 8-9 8-20 8-16 8-9 8-13 8-15 8-1 8-5 8-6 8-5 8 1 8-4 8 2 8 9 8 9 8 3 8 7 8 13 8 19 8 7 8 8 8 10 8 5 8 5 8 5 8 10 8 2 8 3 8 2 8 7 8 0 8-6 8 12 8 8 8 1 8 4 8 8 8 0 8 11 8-6 8 1 8 10 8 6 8-3 8 1 8 3 8 3 8-4 8 4 2 2 2 3 2 1 2 0 2 0 2-1 2-1 2-1 2-2 2-1 2-2 2-2 2-1 2-1 2-1 2-1 2 0 2-1 2 3 2 2 2 3 2 2 2 1 2 0 2-1 2-1 2-2 2-1 2-3 2-2 2-2 2-3 2-1 2-2 2-1 2-1 2 0 2-1 2-1 2-1 2-2 2-2 2-3 2-3 2-5 2-4 2-5 2-5 2-3 2-5 2-3 2-5 2-6 2-7 2-9 2-10 2-13 2-14 2-14 2-13 2-11 2-12 2-12 2-13 2-14 2-16 2-18 2-20 2-16 2-16 2-18 2-19 2-24 2-25 2-29 2-31 2-28 2-26 2-28 2-29 2-30 2-33 2-36 2-40 2-46 2-52 2-60 2-68 2-98 2-130 2-156 2-192 2-182 2-180 2-221 2-277 2-359 2-154 2 0 2 0 2 0 2 0 2 0 2 0 2 0 2 0 2 0 2 0 2 0 2 0 2 0 2 538 2 603 2 414 2 272 2 123 2 102 2 74 2 56 2 50 2 42 2 62 2 83 2 81 2 70 2 62 2 50 2 37 2 32 2 27 2 19 2 16 2 15 2 12 2 12 2 13 2 12 2 12 2 12 2 11 2 11 2 10 2 9 2 7 2 7 2 6 2 6 2 5 2 4 2 4 2 2 2 1 2 2 2 2 2 2 2 1 2 3 2 2 2 3 2 4 2 3 2 3 2 1 2 2 2 1 2 2 2 0 2 0 2 0 2-2 2 0 2 0 2 2 2 2 2 3 2 3 2 1 2 0 2-2 2-3 2-2 2-3 2 0 2 0 2 2 2 2 2 3 2 3 2 2 2 2 2-1 2-1 2-2 2-2 2-3 2-3 2-1 2-2 2 0 2 0 8 8 8 0 8 1 8 6 8-5 8-9 8 6 8 10 8-2 8-11 8 0 8 2 8 3 8 1 8-9 8 10 8 2 8-1 8-4 8-5 8 5 8 6 8-3 8 3 8-2"/><path d="M160 4211l8 2 8-8 8-9 8 1 8 0 8 1 8-7 8-2 8 3 8-2 8-7 8-1 8-1 8-11 8 6 8 0 8-5 8 5 8 3 8-9 8-15 8-1 8-1 8-11 8-5 8 0 8 3 8-13 8-7 8 0 8-3 8-9 8-7 8-9 8 1 8-3 8-10 8-13 8-5 8-2 8-5 8-5 8-4 8-6 8-1 8-4 8-6 8-7 8 8 8-6 8 11 8-6 8-4 8 5 8-3 8-3 8-2 8-2 8 1 8 0 8-3 8-4 8-4 8 3 8-7 8-7 8-2 8-9 8-1 8-1 8-5 8 4 8-3 8-14 8-5 8-2 8 1 8-10 8-12 8-8 8-4 8-2 8-4 8-5 8-9 8-8 8-1 8-6 8-7 8-5 8-10 8-6 8-10 8-13 8-12 8-13 8-15 8-12 8-16 8-15 8-12 8-24 8-7 8-7 8-7 8 6 8-3 8-1 8 3 8 14 8 8 8 0 8 11 8 15 8 16 8 13 8 10 8 1 8 10 8-5 8 1 8 12 8 8 8 3 8 8 8 4 8 14 8 5 8 3 8-1 8 7 8-1 8 6 8-2 8-3 8 6 8 5 8 9 8 8 8 7 8 3 8-11 8-2 8 11 8 6 2 0 2 0 2-2 2-2 2-2 2-3 2-1 2-1 2 0 2 0 2 0 2 1 2 0 2 0 2 2 2 1 2 0 2 0 2-2 2-1 2-2 2-2 2 0 2 0 2 0 2 1 2-2 2-2 2-4 2-3 2-3 2-3 2 1 2 0 2 2 2 2 2 0 2 0 2-4 2-3 2-4 2-4 2-3 2-4 2-5 2-5 2-5 2-6 2-5 2-5 2-5 2-6 2-7 2-7 2-7 2-7 2-8 2-10 2-9 2-9 2-11 2-13 2-14 2-15 2-17 2-18 2-19 2-21 2-18 2-17 2-18 2-19 2-22 2-25 2-28 2-30 2-29 2-27 2-28 2-28 2-30 2-33 2-36 2-40 2-46 2-53 2-60 2-69 2-98 2-130 2-156 2-192 2-183 2-181 2-221 2-278 2-357 2-173 2 0 2 0 2 0 2 0 2 0 2 0 2 0 2 0 2 0 2 0 2 0 2 0 2 0 2 541 2 612 2 422 2 275 2 123 2 100 2 72 2 55 2 48 2 43 2 64 2 87 2 85 2 72 2 64 2 48 2 35 2 29 2 25 2 20 2 17 2 16 2 15 2 15 2 15 2 16 2 13 2 11 2 9 2 7 2 7 2 6 2 6 2 5 2 5 2 4 2 3 2 4 2 3 2 2 2 2 2 2 2 3 2 3 2 3 2 4 2 4 2 3 2 3 2 2 2 2 2 1 2 0 2 1 2 1 2 1 2 1 2 0 2 1 2 1 2 1 2 2 2 3 2 3 2 3 2 3 2 3 2 1 2 1 2-1 2-1 2-3 2-3 2-2 2-3 2 0 2-1 2 0 2 1 2 1 2 1 2 1 2 2 2 0 2 1 2 1 2 2 2 1 2 2 8-3 8-2 8 1 8-3 8-2 8 9 8 3 8-4 8 1 8-1 8-1 8-1 8 4 8-3 8-3 8 1 8-2 8-1 8 8 8 3 8-3 8 4 8 1 8-5 8-3"/><path d="M160 4238l8-4 8 3 8-7 8-7 8-3 8 8 8-5 8-1 8-5 8 2 8-9 8 6 8-4 8-3 8 5 8-9 8-7 8-6 8-11 8-4 8 3 8-7 8-11 8 3 8-1 8-2 8-4 8-6 8-3 8 9 8-10 8-8 8-4 8-15 8-9 8-6 8-14 8-7 8-4 8 3 8-3 8-15 8-4 8 1 8 1 8-1 8 0 8-1 8-6 8 4 8 5 8-7 8-7 8-6 8-4 8 9 8 5 8-6 8-2 8-5 8-2 8 6 8-8 8-1 8-7 8-4 8-5 8-2 8 0 8-5 8 0 8-4 8-9 8 1 8-1 8-16 8-5 8 4 8-24 8 1 8 3 8-17 8-10 8-10 8-1 8 2 8-1 8-6 8-12 8-10 8-8 8-7 8-8 8-10 8-22 8-11 8-17 8-13 8-17 8-15 8-21 8-10 8-8 8-9 8-4 8-2 8 3 8 0 8 5 8 4 8 7 8 10 8 16 8 4 8 13 8 20 8 7 8 4 8 9 8 9 8 12 8 5 8 9 8-2 8 6 8 4 8 5 8 3 8 9 8 5 8 1 8 4 8-8 8 1 8 16 8 4 8 6 8 2 8 3 8 2 8 7 8 2 8-9 8 0 8 7 2 1 2 0 2 1 2 0 2 1 2 1 2 1 2 2 2 0 2 1 2-1 2-1 2-1 2-1 2-2 2-2 2 0 2-1 2 0 2 1 2-2 2-2 2-2 2-3 2-1 2 0 2 0 2 0 2 0 2-1 2-1 2 0 2 0 2-1 2-1 2-1 2-2 2-3 2-3 2-3 2-4 2-4 2-3 2-4 2-3 2-3 2-3 2-3 2-4 2-5 2-5 2-6 2-6 2-7 2-7 2-8 2-11 2-12 2-12 2-11 2-13 2-13 2-13 2-15 2-16 2-17 2-20 2-21 2-19 2-18 2-19 2-20 2-22 2-24 2-25 2-29 2-27 2-25 2-29 2-29 2-33 2-36 2-39 2-43 2-47 2-52 2-58 2-67 2-96 2-130 2-157 2-194 2-184 2-180 2-222 2-277 2-356 2-190 2 0 2 0 2 0 2 0 2 0 2 0 2 0 2 0 2 0 2 0 2 0 2 0 2 0 2 541 2 617 2 423 2 281 2 125 2 105 2 77 2 57 2 50 2 41 2 63 2 86 2 84 2 71 2 64 2 50 2 37 2 31 2 27 2 21 2 17 2 18 2 16 2 14 2 16 2 11 2 11 2 8 2 6 2 8 2 7 2 6 2 6 2 4 2 4 2 3 2 3 2 4 2 4 2 4 2 4 2 6 2 6 2 6 2 5 2 3 2 2 2 0 2 0 2 0 2 0 2 0 2 1 2 0 2 1 2 0 2 1 2 2 2 3 2 2 2 3 2 2 2 3 2 1 2 1 2 1 2 1 2 1 2 1 2-1 2 0 2-2 2-2 2-2 2-2 2 1 2 2 2 2 2 3 2 1 2 2 2-1 2 0 2 1 2 1 2 1 2 2 2 1 2 1 8-3 8-4 8-3 8 2 8 4 8-4 8 5 8-1 8 3 8-3 8 3 8-1 8 3 8 0 8-4 8-3 8-5 8 9 8 5 8-1 8-1 8-2 8 3 8-6 8 1"/><path d="M160 4273l8-9 8-9 8 2 8 3 8-5 8 1 8 1 8-1 8-7 8-1 8 2 8-5 8-8 8 0 8-5 8-4 8-7 8-3 8 4 8-2 8-5 8-8 8-3 8 1 8-5 8-6 8-2 8-4 8-11 8-7 8-11 8 3 8 1 8-3 8-9 8-13 8-14 8-3 8-3 8-2 8-10 8-7 8 3 8-6 8-12 8-6 8 5 8-1 8-3 8 10 8-11 8-8 8 12 8 0 8 0 8-3 8-5 8 0 8 7 8-7 8-6 8-3 8-3 8 0 8 2 8 3 8-8 8-14 8-5 8 3 8-1 8-9 8-3 8-9 8-7 8-3 8-8 8-6 8-3 8-14 8-17 8 4 8-4 8-7 8 0 8-5 8-13 8-7 8-4 8-8 8-2 8-16 8-18 8-11 8-8 8-13 8-16 8-12 8-14 8-19 8-22 8-7 8-8 8-11 8-5 8-3 8 6 8-2 8 0 8 15 8 0 8 10 8 14 8 12 8 6 8 6 8 15 8 6 8 14 8 14 8 5 8 6 8 11 8 1 8 10 8 5 8 3 8 1 8 2 8 11 8 4 8 4 8 4 8 3 8 4 8 7 8-1 8 3 8 16 8 3 8-3 8 1 8 1 8 4 8-1 2-1 2-2 2-2 2-2 2-1 2-1 2 0 2 0 2 0 2-1 2-1 2-2 2 0 2 0 2 1 2 0 2 0 2 1 2 0 2-1 2 1 2 0 2 0 2 0 2-2 2-2 2-1 2-2 2 0 2 0 2 0 2 1 2-2 2-2 2-2 2-3 2-2 2-2 2 0 2-1 2-1 2-2 2-2 2-3 2-3 2-3 2-3 2-4 2-4 2-5 2-7 2-7 2-8 2-9 2-9 2-11 2-12 2-13 2-11 2-11 2-10 2-11 2-12 2-12 2-15 2-16 2-20 2-23 2-21 2-19 2-19 2-21 2-21 2-23 2-26 2-29 2-28 2-27 2-29 2-31 2-34 2-37 2-39 2-42 2-47 2-53 2-59 2-67 2-98 2-131 2-159 2-197 2-185 2-179 2-219 2-274 2-352 2-210 2 0 2 0 2 0 2 0 2 0 2 0 2 0 2 0 2 0 2 0 2 0 2 0 2 0 2 549 2 626 2 430 2 281 2 123 2 102 2 72 2 55 2 48 2 42 2 64 2 90 2 87 2 74 2 66 2 53 2 38 2 33 2 28 2 21 2 18 2 15 2 14 2 12 2 12 2 11 2 11 2 9 2 9 2 9 2 8 2 7 2 6 2 4 2 4 2 3 2 3 2 4 2 4 2 5 2 4 2 4 2 5 2 3 2 3 2 4 2 3 2 2 2 2 2 1 2 1 2 0 2 0 2 1 2 1 2 2 2 2 2 3 2 2 2 2 2 3 2 1 2 2 2 1 2 0 2 0 2 0 2 0 2 0 2-1 2-2 2-1 2-2 2-1 2-1 2 2 2 2 2 3 2 3 2 2 2 2 2 0 2 0 2-1 2 0 2-1 2-1 2-1 2-2 8 0 8 9 8 2 8-8 8-7 8 9 8 6 8 4 8-2 8-6 8-2 8 7 8-8 8-7 8 2 8 10 8 2 8-3 8-12 8 6 8 4 8 3 8 1 8-5 8-1"/><path d="M160 4294l8 0 8-4 8-3 8-2 8 4 8-3 8-4 8-2 8-7 8-6 8-6 8-5 8 0 8 1 8-1 8-1 8 1 8-6 8-8 8-3 8 1 8-8 8-5 8-2 8 1 8-9 8-6 8-2 8-4 8-5 8-10 8-5 8-2 8-6 8-9 8-9 8-10 8-6 8 0 8-8 8-7 8-10 8-3 8-1 8-2 8 2 8-1 8-1 8-7 8 0 8 2 8 1 8-6 8 1 8-2 8-5 8 4 8-4 8-2 8-3 8 0 8-6 8 3 8-4 8 2 8-1 8-14 8-1 8-1 8-3 8-1 8-4 8 0 8 0 8-15 8-11 8-4 8-9 8-10 8-4 8-14 8-10 8-3 8-4 8-8 8-7 8-3 8-6 8-3 8-6 8-11 8-13 8-11 8-8 8-8 8-22 8-9 8-19 8-22 8-17 8-18 8-9 8-9 8-10 8-9 8-6 8 2 8 9 8 3 8 4 8 13 8 9 8 7 8 9 8 8 8 13 8 12 8 9 8 21 8 8 8 4 8 9 8 4 8 0 8 7 8 4 8 9 8 10 8 0 8 4 8 11 8-5 8 3 8 7 8 7 8 2 8 6 8 10 8 3 8-6 8 9 8 5 8 4 8 7 8-9 2 0 2-1 2 1 2 2 2 1 2 1 2-1 2 0 2-1 2-1 2-1 2 0 2-1 2 0 2 1 2 0 2 0 2 0 2-1 2-2 2 0 2 0 2 1 2 1 2 0 2 0 2-2 2-1 2-2 2-2 2-2 2-2 2-1 2-1 2 0 2 0 2 0 2-1 2-3 2-3 2-5 2-5 2-5 2-6 2-4 2-5 2-2 2-3 2-3 2-4 2-5 2-6 2-8 2-8 2-11 2-11 2-13 2-15 2-14 2-12 2-12 2-13 2-12 2-14 2-14 2-17 2-19 2-21 2-19 2-18 2-19 2-20 2-21 2-24 2-27 2-29 2-28 2-26 2-29 2-30 2-33 2-36 2-38 2-42 2-45 2-52 2-56 2-65 2-97 2-132 2-162 2-199 2-187 2-181 2-220 2-273 2-351 2-228 2 0 2 0 2 0 2 0 2 0 2 0 2 0 2 0 2 0 2 0 2 0 2 0 2 0 2 555 2 633 2 435 2 282 2 121 2 100 2 70 2 54 2 47 2 43 2 65 2 92 2 91 2 77 2 69 2 54 2 40 2 32 2 29 2 20 2 17 2 16 2 15 2 14 2 14 2 13 2 12 2 9 2 8 2 6 2 5 2 6 2 5 2 7 2 6 2 6 2 5 2 3 2 2 2 2 2 2 2 3 2 3 2 3 2 3 2 5 2 4 2 6 2 5 2 4 2 4 2 0 2 0 2 0 2 0 2 2 2 1 2 2 2 2 2-1 2 0 2-1 2-1 2 0 2 1 2 1 2 2 2 1 2 1 2 0 2 1 2 0 2 0 2-1 2-1 2-1 2-2 2 1 2 1 2 1 2 1 2 0 2 0 2 0 2-1 2 1 2 2 2 0 2 0 8-3 8 5 8 5 8 3 8 0 8-2 8-4 8-8 8 4 8 6 8-1 8-2 8 5 8 2 8-1 8-7 8-2 8-5 8 10 8 3 8 0 8-4 8-6 8 0 8 0"/><path d="M160 4313l8 4 8-4 8-4 8 4 8-2 8-6 8-1 8 6 8-1 8-8 8-2 8 6 8-17 8-2 8 8 8-9 8-13 8 0 8 0 8-3 8-8 8 1 8-5 8 0 8-6 8-10 8-2 8-3 8-5 8-1 8-7 8-7 8-12 8-1 8-2 8-12 8-4 8-15 8-6 8-7 8-4 8-5 8-1 8 4 8-8 8-3 8-8 8-3 8 4 8-1 8-6 8-6 8 4 8-6 8 3 8 0 8 0 8 1 8 5 8-4 8-6 8 4 8-7 8-9 8 4 8-2 8-6 8-5 8-1 8-5 8-6 8 0 8-5 8-8 8-6 8-1 8-1 8-6 8-8 8-14 8-11 8-7 8-9 8-4 8-1 8-7 8-13 8-13 8-8 8-2 8-8 8-19 8-12 8-11 8-12 8-17 8-18 8-18 8-10 8-12 8-16 8-14 8-2 8-8 8-8 8-6 8-7 8 4 8-1 8 0 8 16 8 7 8 13 8 11 8 14 8 12 8 16 8 17 8 7 8 9 8 5 8 4 8 6 8 4 8 14 8 6 8 7 8-1 8 5 8 8 8 5 8 2 8 5 8 7 8 3 8 5 8 7 8 5 8 8 8 12 8 5 8-10 8-5 8 1 8 5 2 2 2 2 2 0 2 0 2-1 2-1 2 0 2 0 2 2 2 2 2 1 2 2 2 2 2 1 2 1 2 1 2-1 2-1 2-5 2-5 2-5 2-6 2 0 2-1 2 1 2 1 2-1 2 0 2-1 2-2 2 0 2-1 2-1 2-1 2-3 2-3 2-3 2-4 2-3 2-3 2-2 2-2 2-3 2-4 2-3 2-4 2-5 2-5 2-5 2-6 2-5 2-5 2-4 2-5 2-7 2-9 2-12 2-13 2-12 2-11 2-12 2-13 2-14 2-15 2-19 2-20 2-21 2-23 2-18 2-17 2-17 2-20 2-21 2-25 2-26 2-30 2-28 2-26 2-30 2-31 2-33 2-36 2-38 2-42 2-47 2-53 2-61 2-69 2-98 2-133 2-161 2-198 2-185 2-179 2-219 2-272 2-347 2-247 2 0 2 0 2 0 2 0 2 0 2 0 2 0 2 0 2 0 2 0 2 0 2 0 2 0 2 575 2 638 2 437 2 285 2 120 2 102 2 72 2 55 2 48 2 41 2 64 2 90 2 88 2 75 2 65 2 53 2 38 2 32 2 28 2 21 2 17 2 16 2 15 2 12 2 14 2 13 2 12 2 13 2 11 2 10 2 10 2 7 2 7 2 7 2 5 2 6 2 5 2 4 2 4 2 4 2 4 2 5 2 5 2 5 2 4 2 3 2 3 2 2 2 2 2 2 2 1 2 1 2 0 2 2 2 1 2 2 2 1 2 0 2 0 2-1 2-1 2 0 2 0 2 0 2 1 2-1 2 0 2-2 2-2 2-1 2-1 2 1 2 1 2 2 2 1 2 1 2 1 2-1 2 0 2-1 2 0 2 1 2 1 2 1 2 2 2 1 2 0 2-1 2-1 8-10 8 7 8 13 8 1 8-8 8-4 8 2 8-2 8-3 8-2 8 5 8 11 8-1 8-5 8 0 8 0 8-2 8-1 8 3 8-1 8-1 8-12 8 3 8 16 8 2"/><path d="M160 4344l8-3 8-4 8 4 8 7 8-11 8-6 8-4 8-5 8 8 8-2 8 0 8-8 8-9 8 0 8 3 8-6 8 0 8-4 8-1 8-6 8-8 8 1 8-3 8-9 8 0 8-14 8-2 8 0 8 1 8-6 8-11 8-11 8-11 8-10 8 0 8-1 8-12 8-9 8 5 8-9 8-12 8-3 8-5 8-1 8-4 8-11 8-2 8 0 8 2 8 3 8-2 8 4 8-3 8-5 8-5 8-6 8 5 8 2 8-4 8 1 8-5 8-6 8-2 8 1 8-3 8-5 8 3 8-4 8 0 8 2 8-10 8-7 8-6 8 1 8 1 8-12 8-8 8-10 8-5 8-6 8-15 8-11 8-15 8-6 8-8 8-11 8 1 8 1 8-14 8-2 8-9 8-19 8-8 8-9 8-13 8-18 8-17 8-23 8-23 8-4 8-15 8-17 8-8 8-9 8-8 8 0 8-2 8 10 8 1 8-1 8 5 8 15 8 12 8 13 8 3 8 19 8 18 8 16 8 8 8 4 8 5 8 13 8-2 8 9 8 13 8 10 8 4 8 15 8 4 8-4 8 12 8 4 8-3 8 6 8 3 8 7 8 9 8 5 8 3 8 6 8 3 8-2 8-3 8 3 8 9 2 1 2 0 2 1 2 0 2-1 2 0 2-2 2-2 2-1 2-2 2 0 2 0 2 2 2 2 2 1 2 1 2-2 2-1 2-2 2-2 2 0 2 0 2 0 2-1 2-3 2-3 2-4 2-4 2-2 2-2 2 2 2 1 2 2 2 2 2 0 2-1 2-4 2-4 2-3 2-4 2-1 2-3 2-3 2-3 2-4 2-5 2-3 2-3 2-4 2-5 2-6 2-7 2-8 2-9 2-11 2-12 2-12 2-14 2-11 2-10 2-12 2-12 2-15 2-15 2-17 2-18 2-19 2-21 2-20 2-18 2-21 2-23 2-24 2-26 2-26 2-30 2-26 2-24 2-28 2-30 2-35 2-39 2-40 2-44 2-46 2-52 2-57 2-66 2-98 2-133 2-165 2-202 2-188 2-179 2-216 2-270 2-343 2-264 2 0 2 0 2 0 2 0 2 0 2 0 2 0 2 0 2 0 2 0 2 0 2 0 2 0 2 572 2 649 2 446 2 290 2 122 2 99 2 70 2 51 2 44 2 41 2 66 2 95 2 94 2 81 2 71 2 55 2 40 2 32 2 27 2 19 2 15 2 16 2 14 2 13 2 13 2 12 2 10 2 9 2 9 2 10 2 9 2 8 2 8 2 6 2 5 2 4 2 4 2 4 2 3 2 5 2 4 2 6 2 6 2 5 2 4 2 4 2 4 2 3 2 3 2 1 2 1 2-1 2-1 2-2 2-1 2-1 2-1 2 1 2 1 2 1 2 2 2 1 2 2 2 0 2 0 2 0 2-1 2-1 2 0 2 1 2 1 2 0 2 1 2 0 2 0 2 0 2 0 2 1 2 1 2 1 2 1 2 1 2 1 2 2 2 1 2 0 2 0 2-2 2-3 8-4 8 8 8 0 8 1 8-1 8-4 8 4 8 2 8-7 8 5 8 5 8-3 8-3 8 7 8-6 8 1 8-1 8 2 8-2 8-2 8 4 8 2 8-1 8-2 8 0"/><path d="M160 4376l8-5 8-7 8-7 8 6 8 0 8 6 8-5 8-6 8-5 8-3 8 0 8-4 8 1 8-10 8-1 8-1 8-3 8-2 8-10 8-2 8-4 8-2 8 4 8-5 8-10 8-11 8 3 8-2 8-2 8-3 8-12 8-11 8-3 8 0 8-14 8-12 8-6 8-7 8-7 8-5 8-7 8-3 8-5 8-6 8-6 8 2 8 2 8 5 8 0 8-9 8-5 8 7 8-7 8 0 8 2 8-3 8-7 8 3 8-2 8-6 8 0 8-5 8-5 8-2 8 4 8-3 8-4 8-3 8 1 8-6 8-8 8-2 8-3 8-10 8-13 8-1 8-6 8-7 8-4 8-4 8-10 8-16 8-14 8 0 8-11 8-9 8-1 8-5 8-12 8-4 8-6 8-19 8-13 8-14 8-18 8-14 8-21 8-13 8-15 8-15 8-20 8-11 8-10 8-14 8-4 8 8 8-5 8-6 8 3 8 10 8 6 8 9 8 23 8 8 8 4 8 16 8 13 8 11 8 23 8 14 8 5 8 6 8 10 8 7 8 5 8 7 8-1 8 1 8 14 8 10 8 2 8 2 8 7 8 7 8 11 8 9 8-4 8 10 8 7 8-2 8 2 8 9 8 8 8-4 8-9 2 1 2 1 2 2 2 1 2 1 2 1 2 1 2 1 2 1 2 2 2 0 2 1 2-2 2-2 2-4 2-3 2-3 2-2 2 0 2 0 2 0 2 1 2-1 2 0 2 0 2-1 2 1 2 0 2-1 2-1 2-2 2-1 2-1 2-1 2-3 2-2 2-2 2-3 2-3 2-4 2-3 2-3 2-2 2-3 2-1 2-2 2-4 2-3 2-6 2-7 2-8 2-8 2-8 2-9 2-10 2-12 2-12 2-14 2-11 2-9 2-11 2-11 2-14 2-16 2-19 2-21 2-22 2-25 2-19 2-16 2-17 2-18 2-21 2-24 2-27 2-31 2-28 2-26 2-26 2-30 2-32 2-35 2-41 2-44 2-50 2-56 2-59 2-67 2-99 2-134 2-166 2-203 2-189 2-180 2-216 2-270 2-342 2-283 2 0 2 0 2 0 2 0 2 0 2 0 2 0 2 0 2 0 2 0 2 0 2 0 2 0 2 573 2 653 2 448 2 293 2 122 2 104 2 73 2 52 2 46 2 39 2 64 2 94 2 92 2 79 2 70 2 56 2 40 2 34 2 30 2 21 2 17 2 16 2 15 2 13 2 15 2 15 2 13 2 10 2 10 2 7 2 6 2 7 2 6 2 7 2 8 2 6 2 7 2 4 2 3 2 2 2 1 2 2 2 1 2 3 2 2 2 4 2 4 2 3 2 3 2 2 2 1 2 1 2 1 2 2 2 1 2 2 2 2 2 2 2 2 2 0 2 1 2-2 2-1 2-2 2-1 2 1 2 1 2 3 2 3 2 2 2 2 2 1 2 1 2-1 2 0 2-1 2-1 2-1 2 0 2 2 2 2 2 2 2 3 2 0 2 0 2-2 2-1 2-2 2-2 8 2 8-4 8-1 8 2 8 2 8 9 8-7 8 5 8 1 8 0 8-5 8 4 8-3 8-5 8 3 8 3 8 0 8-6 8-8 8 7 8 3 8 0 8 5 8 2 8-3"/><path d="M160 4395l8 3 8 1 8 3 8-2 8-7 8-3 8-6 8 5 8 3 8-3 8-9 8-6 8-1 8 2 8-2 8-12 8-3 8-3 8-11 8 6 8-3 8-9 8-6 8-7 8 2 8-7 8-1 8-4 8-2 8-10 8-8 8-6 8-7 8-4 8-5 8-6 8-8 8-10 8-16 8-3 8-8 8-5 8 6 8 2 8-8 8-5 8-3 8 4 8 1 8-7 8-3 8-2 8 0 8 2 8-1 8 5 8-2 8-6 8-4 8-5 8 4 8-2 8-4 8-1 8-8 8-5 8-1 8-1 8 1 8-7 8-9 8-10 8-3 8 1 8-3 8-10 8-4 8-6 8-7 8-15 8-10 8-3 8-1 8-13 8-13 8-9 8-5 8-10 8-8 8-5 8-18 8-13 8-14 8-11 8-17 8-22 8-7 8-11 8-27 8-15 8-12 8-16 8-21 8-12 8 2 8-1 8 2 8 2 8-4 8 8 8 10 8 16 8 8 8 5 8 20 8 20 8 12 8 10 8 13 8 17 8 10 8 7 8 7 8-6 8 5 8 10 8 15 8 7 8 9 8 8 8 9 8 6 8-1 8 5 8 5 8 3 8 14 8 0 8 8 8 6 8 0 8 12 8 3 8-7 8 3 2 0 2-1 2-2 2-2 2-1 2-2 2 0 2 0 2 1 2 1 2 1 2 1 2-1 2-1 2-2 2-1 2 0 2-1 2 2 2 1 2 1 2 1 2 0 2 0 2-1 2-1 2-1 2-2 2-2 2-2 2-2 2-3 2-2 2-2 2-2 2-2 2-3 2-3 2-3 2-3 2-4 2-4 2-3 2-4 2-3 2-3 2-3 2-4 2-3 2-5 2-4 2-5 2-6 2-8 2-12 2-13 2-15 2-17 2-13 2-12 2-13 2-14 2-14 2-16 2-15 2-17 2-19 2-22 2-20 2-18 2-19 2-21 2-23 2-26 2-28 2-32 2-27 2-26 2-26 2-29 2-31 2-35 2-39 2-43 2-49 2-54 2-62 2-69 2-101 2-138 2-167 2-206 2-185 2-175 2-211 2-263 2-338 2-315 2 0 2 0 2 0 2 0 2 0 2 0 2 0 2 0 2 0 2 0 2 0 2 0 2 0 2 592 2 661 2 453 2 290 2 116 2 98 2 67 2 51 2 45 2 41 2 69 2 99 2 97 2 82 2 72 2 56 2 40 2 35 2 30 2 23 2 20 2 18 2 16 2 13 2 15 2 13 2 11 2 10 2 8 2 8 2 8 2 7 2 6 2 5 2 4 2 3 2 4 2 4 2 5 2 6 2 6 2 5 2 6 2 3 2 2 2 1 2 0 2 0 2 0 2 1 2 2 2 0 2 0 2 0 2 0 2 1 2 2 2 3 2 2 2 1 2 1 2 1 2 0 2 1 2 1 2 1 2 0 2 0 2-1 2 0 2-1 2 1 2 2 2 1 2 1 2 1 2 0 2 0 2-1 2-1 2 0 2-2 2-1 2 0 2 0 2 1 2 1 2 2 2 2 8 5 8 5 8-6 8-3 8 3 8-2 8 1 8 2 8-6 8 7 8-3 8 0 8-2 8 1 8 1 8-3 8-3 8 9 8-3 8-5 8 6 8 0 8-8 8-2 8 1"/></g>
<g stroke="#262626" stroke-width="8"><path d="M2248 1444l8-1 8 1 8 1 8 3 8 2 8 3 8 0 8 0 8-3 8-3 8-5 8-3 8-2 8-2 8-1 8-2 8-3 8-5 8-5 8-6 8-6 8-5 8-5 8-3 8-3 8-4 8-5 8-7 8-6 8-5 8-3 8-1 8 1 8 1 8 2 8 0 8-1 8-1 8-2 8 0 8 2 8 4 8 6 8 8 8 10 8 14 8 15 8 15 8 14 8 12 8 11 8 11 8 10 8 9 8 8 8 7 8 6 8 5 8 5 8 6 8 6 8 6 8 5 8 6 8 4 8 2 8 1 8-1 8-1 8-2 8 0 8 1 8 3 8 3 8 3 8 2 8 1 8 1 8-1 8-1 8-1 8 0 8 0 8 1 8 0 8-1 8 1 8 2 8 4 8 3 8 2 8-1 8-3 8-3 8-2 8 0 8 3 8 4 8 4 8 4 8 3 8 1 8 0 8 1 8 2 8 4 8 4 8 4 8 3 8-1 8-2 8-3 8-3 8-3 8-2 8-2 8 0 8 1 8 1 8 0 8 0 8 0 8-1 8 1 8 2 8 2 8 2 8 2 8 3 8 1 8 1 8 0 8 1 8 0 8 0 8 0 8-1 8-1 8 0 8 2 8 2 8 3 8 0 8-1 8-3 8-1 8 0 8 1 8 1 8 2 8 0 8 0 8-1 8 0 8 0 8 2 8 2 8 2 8 2 8 2 8 0 8 0 8-2 8-2 8-2 8-1 8-1 8 0 8 1 8 2 8 4 8 4 8 4 8 2 8-1 8-2 8-3 8-2 8-1 8-1 8 0 8 0 8 0 8 2 8 2 8 2 8 1 8-1 8-1 8 0 8 0 8 1 8 1 8 2 8 1 8 0 8 2 8 1 8 3 8 2 8 1 8 0 8-2 8-3 8-4 8-4 8-3"/><path d="M2248 1483l8 2 8 1 8 0 8-1 8-2 8-2 8-2 8-1 8-2 8-1 8-2 8-2 8-4 8-4 8-6 8-5 8-6 8-5 8-4 8-3 8-4 8-3 8-3 8-4 8-4 8-4 8-5 8-4 8-3 8-3 8-2 8-2 8-2 8-3 8-2 8-3 8-1 8-2 8 0 8 0 8 3 8 5 8 7 8 8 8 9 8 10 8 12 8 14 8 15 8 15 8 15 8 13 8 11 8 9 8 8 8 7 8 7 8 8 8 9 8 10 8 8 8 6 8 3 8 1 8-1 8-1 8-1 8 0 8 1 8 1 8 2 8 1 8 1 8 1 8 1 8 3 8 3 8 3 8 2 8 2 8 1 8 0 8-2 8-3 8-2 8-2 8 0 8 3 8 3 8 3 8 2 8 2 8 0 8 1 8 1 8 2 8 0 8 0 8-1 8-1 8 1 8 1 8 2 8 2 8 1 8 1 8 1 8 2 8 1 8 2 8 0 8 0 8-1 8 0 8 0 8 0 8-1 8-1 8-1 8 0 8 1 8 0 8 0 8-1 8-1 8 0 8 1 8 3 8 2 8 2 8 1 8 0 8 0 8-1 8-1 8-1 8 1 8 1 8 2 8 1 8 0 8-1 8-1 8 0 8 0 8 2 8 1 8 2 8 0 8 0 8 1 8 0 8 1 8 2 8 1 8 2 8 1 8 0 8 1 8 0 8 0 8 0 8 1 8 1 8 2 8 1 8 1 8 0 8-1 8-2 8-2 8-2 8-1 8-1 8 0 8 0 8 1 8 1 8 2 8 3 8 2 8 3 8 2 8 1 8 0 8 1 8 0 8 1 8 0 8 0 8 0 8 1 8 0 8 2 8 1 8 2 8 1 8 2 8 3 8 2 8 1 8 0 8-2 8-3 8-3 8-3 8-3"/><path d="M2248 1501l8-3 8-2 8 0 8 3 8 4 8 6 8 5 8 3 8 0 8-2 8-5 8-5 8-5 8-5 8-3 8-3 8-3 8-2 8-1 8-2 8-3 8-7 8-8 8-9 8-7 8-5 8-4 8-3 8-3 8-3 8-3 8-3 8-1 8-1 8-2 8-2 8-3 8-4 8-2 8 0 8 3 8 6 8 9 8 9 8 9 8 10 8 11 8 11 8 12 8 14 8 14 8 12 8 12 8 9 8 9 8 8 8 7 8 7 8 5 8 4 8 2 8 3 8 5 8 6 8 7 8 7 8 3 8 2 8-1 8-2 8-1 8-1 8-1 8 0 8 0 8 1 8 2 8 3 8 3 8 4 8 3 8 1 8 1 8 1 8 1 8 1 8 1 8 0 8 0 8-1 8 0 8 1 8 1 8 1 8 1 8 0 8 1 8 0 8 0 8-1 8-1 8-1 8-1 8 2 8 2 8 4 8 4 8 2 8 1 8-2 8-2 8-4 8-2 8-3 8-1 8-1 8 0 8 0 8 2 8 2 8 2 8 3 8 3 8 3 8 1 8 0 8-1 8 0 8 2 8 3 8 3 8 4 8 3 8 1 8-1 8-3 8-4 8-5 8-3 8-1 8 0 8 2 8 2 8 3 8 1 8 1 8 1 8 1 8 1 8 2 8 1 8 1 8 0 8 1 8 1 8 1 8 0 8 0 8-1 8 0 8 0 8 2 8 3 8 3 8 3 8 2 8-1 8-3 8-2 8-2 8 1 8 3 8 2 8 2 8 0 8-1 8 0 8 0 8 1 8 2 8 2 8 2 8 2 8 2 8 1 8 1 8 1 8 0 8-2 8-3 8-3 8-3 8-1 8 0 8 1 8 1 8 1 8 0 8 2 8 2 8 2 8 2 8 1 8 0 8-1 8 0 8 1"/><path d="M2248 1531l8-1 8 0 8 0 8-1 8-1 8-1 8-1 8-2 8-1 8-1 8-1 8-1 8 0 8 1 8 1 8 2 8 0 8-3 8-5 8-6 8-6 8-7 8-6 8-6 8-5 8-6 8-5 8-6 8-4 8-3 8-2 8-1 8-2 8-3 8-2 8-3 8-3 8-3 8-2 8-1 8 0 8 3 8 5 8 7 8 9 8 11 8 10 8 11 8 12 8 13 8 14 8 15 8 14 8 12 8 11 8 10 8 10 8 10 8 9 8 9 8 7 8 6 8 5 8 3 8 3 8 3 8 2 8 2 8 0 8 0 8-1 8-2 8-2 8-2 8-2 8-1 8-1 8-2 8-1 8-1 8 0 8 0 8 2 8 2 8 2 8 3 8 3 8 3 8 3 8 3 8 2 8 2 8 1 8 1 8-1 8-2 8-2 8-2 8 0 8 1 8 4 8 3 8 3 8 1 8-1 8 0 8-1 8 0 8 1 8 3 8 2 8 2 8 2 8 0 8 0 8-1 8-2 8-2 8-3 8-2 8-3 8-3 8-1 8 1 8 2 8 3 8 4 8 5 8 4 8 4 8 3 8 2 8 0 8-2 8-1 8-3 8-1 8-2 8 0 8 0 8 1 8 1 8 1 8 0 8-1 8-1 8 0 8 0 8 0 8 0 8 0 8 1 8 1 8 2 8 3 8 1 8 1 8 0 8-1 8 0 8 0 8 0 8 1 8 1 8 1 8 1 8-1 8-3 8-3 8-2 8-1 8 1 8 5 8 5 8 4 8 3 8 2 8 1 8 0 8 0 8 0 8 1 8 1 8 1 8 0 8 1 8-1 8 0 8 1 8 1 8 2 8 2 8 3 8 2 8 0 8-1 8-3 8-2 8-1 8 1 8 1 8 1 8 0 8 1 8 2 8 2 8 2"/><path d="M2248 1561l8 2 8 3 8 1 8 0 8-2 8-3 8-4 8-4 8-2 8-1 8 0 8 0 8-1 8-3 8-5 8-7 8-6 8-4 8-3 8-3 8-3 8-4 8-3 8-2 8 0 8-1 8-2 8-3 8-5 8-5 8-5 8-5 8-6 8-4 8-3 8-1 8-1 8 1 8 0 8-1 8 0 8 1 8 2 8 5 8 8 8 9 8 11 8 12 8 11 8 11 8 11 8 10 8 12 8 13 8 14 8 14 8 13 8 11 8 10 8 7 8 6 8 4 8 2 8 2 8 1 8 1 8 3 8 3 8 3 8 3 8 2 8 1 8 1 8 1 8 2 8 3 8 3 8 3 8 1 8 1 8 0 8-1 8-2 8-2 8-3 8-3 8-3 8-2 8-2 8 0 8 2 8 4 8 4 8 5 8 4 8 2 8 2 8 0 8-1 8-2 8-2 8-1 8 0 8 1 8 1 8 1 8 1 8-1 8-1 8-2 8-3 8-1 8 2 8 3 8 5 8 4 8 3 8 2 8 2 8 2 8 2 8 3 8 1 8 0 8-2 8-1 8-2 8 0 8 1 8 1 8 1 8 1 8 0 8-1 8 0 8 0 8-1 8-1 8-1 8 0 8 1 8 1 8 0 8-1 8 0 8 0 8 1 8 2 8 2 8 2 8 1 8 2 8 0 8 0 8-2 8-2 8 0 8 1 8 3 8 2 8 0 8-2 8-3 8-3 8-2 8-1 8-1 8 1 8 2 8 4 8 5 8 6 8 5 8 2 8 1 8-2 8-3 8-3 8-3 8-2 8 0 8 1 8 2 8 3 8 2 8 0 8 0 8 1 8 0 8 2 8 2 8 2 8 1 8 1 8 2 8 2 8 1 8 0 8-2 8-3 8-2 8 0 8 2 8 3 8 2 8 3 8 1"/><path d="M2248 1587l8 2 8 1 8-1 8-2 8-2 8-3 8-3 8-3 8-2 8 0 8 2 8 3 8 3 8 1 8 0 8-2 8-4 8-5 8-5 8-5 8-3 8-4 8-4 8-6 8-8 8-8 8-6 8-5 8-3 8-3 8-4 8-4 8-4 8-4 8-3 8-2 8-2 8-1 8-1 8 0 8 1 8 2 8 4 8 4 8 6 8 8 8 11 8 11 8 12 8 12 8 11 8 13 8 14 8 15 8 14 8 12 8 10 8 8 8 8 8 8 8 7 8 7 8 7 8 6 8 5 8 3 8 1 8 0 8 0 8 1 8 1 8 1 8 1 8 1 8 2 8 2 8 3 8 1 8 0 8-2 8 0 8 0 8 1 8 1 8 0 8-1 8 0 8 0 8 0 8 0 8-1 8 0 8 0 8 1 8 1 8 1 8 0 8-1 8-1 8-1 8 0 8 0 8-1 8 0 8-1 8 0 8 1 8 2 8 2 8 3 8 2 8 1 8 0 8 0 8 0 8 1 8 1 8 2 8 2 8 1 8-1 8 0 8-1 8 0 8 0 8 0 8 1 8 1 8 2 8 3 8 2 8 1 8-2 8-2 8-3 8 0 8 1 8 5 8 6 8 6 8 5 8 4 8 1 8 0 8-3 8-4 8-5 8-4 8-3 8 0 8 2 8 3 8 2 8 0 8-1 8-1 8-1 8 0 8 1 8 1 8 0 8 1 8 1 8 1 8 2 8 1 8-1 8-2 8-1 8 1 8 1 8 3 8 4 8 5 8 6 8 5 8 4 8 1 8-1 8-2 8-2 8-2 8-2 8 0 8-1 8 0 8-1 8-1 8-1 8-1 8-1 8 1 8 1 8 3 8 2 8 1 8 0 8-2 8-2 8-1 8 2 8 2 8 2 8 1 8 0 8 0 8 0"/><path d="M2248 1615l8-1 8 1 8 0 8 1 8-1 8-2 8-2 8-1 8-2 8-1 8-1 8-2 8-3 8-2 8-3 8-1 8 0 8 1 8 1 8-1 8-3 8-5 8-5 8-4 8-5 8-5 8-6 8-6 8-7 8-5 8-4 8-3 8-4 8-4 8-6 8-5 8-4 8-3 8-1 8 0 8 0 8 2 8 2 8 5 8 7 8 9 8 9 8 10 8 10 8 12 8 13 8 14 8 14 8 15 8 13 8 13 8 12 8 11 8 10 8 9 8 7 8 7 8 4 8 2 8 2 8 1 8 2 8 3 8 4 8 4 8 3 8 2 8 0 8 0 8 0 8 1 8 0 8 0 8-1 8-1 8 1 8 1 8 1 8 1 8 2 8 2 8 2 8 1 8-1 8-3 8-3 8-4 8-2 8-1 8 1 8 1 8 0 8 1 8-1 8-1 8 0 8 1 8 2 8 4 8 3 8 3 8 2 8 0 8 1 8 0 8 1 8 2 8 2 8 2 8 2 8 1 8 1 8 0 8 0 8 0 8-1 8 0 8 0 8 1 8 0 8 1 8 1 8 2 8 1 8 2 8 2 8 1 8 0 8-1 8-1 8 0 8 0 8 2 8 2 8 1 8 1 8-1 8-1 8-1 8 0 8 2 8 2 8 2 8 0 8-2 8-2 8-3 8-2 8 1 8 4 8 4 8 4 8 2 8 1 8-1 8-1 8-2 8-1 8-2 8 0 8 0 8 1 8 1 8 0 8 0 8 0 8 0 8 0 8-1 8 0 8 1 8 2 8 3 8 4 8 2 8 1 8 1 8 1 8 1 8 1 8-1 8-1 8-1 8 2 8 2 8 4 8 3 8 1 8-1 8-2 8-2 8-2 8-1 8 0 8 2 8 1 8 3 8 2 8 1 8 2 8 1 8 0"/><path d="M2248 1625l8-1 8 1 8 2 8 3 8 2 8 2 8 2 8 2 8 2 8 1 8 0 8-1 8-2 8-4 8-2 8-3 8-2 8-3 8-2 8-2 8-2 8-3 8-4 8-4 8-5 8-6 8-7 8-6 8-6 8-4 8-4 8-3 8-5 8-6 8-6 8-6 8-4 8-2 8 1 8 3 8 4 8 3 8 3 8 3 8 5 8 5 8 6 8 7 8 8 8 11 8 13 8 15 8 15 8 15 8 13 8 12 8 10 8 8 8 6 8 7 8 7 8 8 8 9 8 8 8 7 8 6 8 4 8 3 8 2 8 1 8 0 8 0 8 1 8 1 8 2 8 2 8 1 8 1 8-1 8-1 8-1 8 1 8 1 8 1 8-1 8-1 8-2 8-2 8-2 8-2 8-1 8 0 8 1 8 2 8 3 8 2 8 0 8 0 8 2 8 4 8 5 8 6 8 3 8 0 8-3 8-4 8-3 8-1 8 1 8 1 8 1 8 1 8 0 8 0 8 1 8 1 8 2 8 2 8 2 8 1 8 2 8 2 8 2 8 2 8 1 8 2 8 1 8 0 8 0 8-1 8-1 8-2 8-1 8-1 8 0 8 0 8 2 8 0 8 0 8-1 8-1 8 0 8 0 8-1 8-1 8-1 8-1 8 1 8 2 8 2 8 3 8 4 8 3 8 4 8 2 8 1 8 0 8-1 8-1 8-2 8-1 8-1 8 1 8 2 8 3 8 2 8 2 8 0 8-1 8-2 8-1 8 0 8 1 8 0 8 0 8-1 8-2 8-3 8-2 8 0 8 1 8 3 8 3 8 3 8 2 8 0 8-2 8-1 8-1 8 0 8 2 8 1 8 0 8-1 8-1 8 0 8 1 8 3 8 4 8 3 8 2 8 2 8 1 8 2 8 1 8 1 8 0"/><path d="M2248 1663l8 2 8 2 8 0 8-1 8-1 8-1 8-1 8-1 8-1 8-1 8 0 8 1 8 1 8 0 8-2 8-2 8-3 8-1 8-1 8 0 8-1 8-3 8-4 8-5 8-7 8-8 8-10 8-9 8-9 8-7 8-5 8-2 8-2 8-2 8-3 8-4 8-4 8-3 8-2 8-2 8-2 8-2 8 0 8 1 8 5 8 8 8 11 8 12 8 13 8 13 8 13 8 12 8 13 8 13 8 14 8 15 8 14 8 13 8 11 8 9 8 8 8 7 8 6 8 5 8 4 8 2 8 0 8 1 8 0 8 1 8 1 8 1 8 0 8 1 8 1 8 3 8 3 8 3 8 2 8 1 8 0 8-1 8-1 8-1 8 0 8 2 8 3 8 3 8 1 8 0 8-1 8 0 8 1 8 2 8 3 8 4 8 3 8 4 8 2 8 1 8-1 8-1 8-2 8-1 8-1 8 0 8 0 8-1 8 0 8-2 8-2 8-3 8-2 8-1 8-1 8 1 8 1 8 3 8 3 8 5 8 4 8 4 8 1 8 0 8-1 8-2 8 0 8 1 8 1 8 0 8-1 8-2 8-1 8 0 8 1 8 3 8 3 8 2 8 1 8 0 8 0 8 1 8 0 8 1 8-1 8-2 8-2 8-2 8-1 8 0 8 0 8 2 8 3 8 2 8 2 8 1 8 0 8 0 8 0 8 1 8 0 8 1 8 0 8 1 8 2 8 1 8 1 8 0 8 1 8 1 8 1 8 1 8 1 8 1 8 0 8 0 8-1 8-2 8-1 8-1 8 0 8 0 8 1 8 0 8 0 8 1 8 3 8 3 8 3 8 2 8 0 8 0 8-1 8 0 8 1 8 1 8 0 8 0 8-2 8-2 8 0 8 2 8 2 8 3 8 2 8 1 8 0"/><path d="M2248 1701l8-1 8-3 8-2 8-1 8 0 8 0 8 1 8 0 8 1 8 2 8 2 8 0 8-1 8-3 8-4 8-4 8-3 8-3 8 0 8 0 8 0 8-1 8-2 8-3 8-6 8-8 8-8 8-9 8-7 8-6 8-5 8-4 8-4 8-5 8-6 8-7 8-5 8-4 8-2 8-2 8 0 8 0 8 0 8 3 8 5 8 8 8 9 8 10 8 10 8 10 8 10 8 10 8 9 8 8 8 9 8 10 8 12 8 14 8 13 8 13 8 9 8 8 8 7 8 7 8 8 8 7 8 6 8 4 8 2 8 1 8 1 8 0 8-1 8 0 8 0 8 2 8 2 8 3 8 3 8 3 8 2 8 2 8 2 8 1 8 0 8 1 8 1 8 2 8 3 8 1 8 0 8-1 8-2 8-1 8-1 8-1 8-1 8 0 8 0 8 0 8 2 8 1 8 1 8 1 8-1 8-1 8-1 8 0 8 1 8 2 8 2 8 2 8 1 8 3 8 2 8 2 8 2 8 2 8 1 8 0 8 0 8 1 8 0 8 0 8-1 8-1 8-2 8-2 8-1 8-1 8 0 8 2 8 3 8 4 8 4 8 3 8 2 8 2 8 0 8 0 8-1 8 1 8 1 8 2 8 2 8 1 8 1 8 0 8 0 8 0 8 0 8-1 8-1 8-2 8-4 8-3 8-4 8-2 8-2 8 0 8 0 8 2 8 2 8 3 8 1 8 1 8 0 8 0 8 1 8 3 8 3 8 4 8 2 8 2 8 0 8 1 8 2 8 2 8 3 8 1 8 0 8 0 8-1 8 0 8 0 8 0 8 1 8 0 8-1 8-1 8-2 8-2 8-2 8-1 8 0 8 0 8 1 8 1 8 2 8 2 8 4 8 3 8 4 8 2 8 0 8-2 8-2"/><path d="M2248 1723l8 1 8 2 8 1 8 0 8-2 8-2 8 0 8 1 8 1 8 0 8 0 8-1 8 0 8 0 8-1 8-1 8-2 8-4 8-3 8-4 8-4 8-4 8-4 8-3 8-5 8-5 8-6 8-6 8-6 8-7 8-7 8-8 8-8 8-8 8-6 8-3 8-1 8 0 8 0 8-1 8-1 8 0 8 0 8 1 8 3 8 5 8 6 8 8 8 8 8 9 8 11 8 12 8 13 8 15 8 15 8 16 8 15 8 13 8 11 8 10 8 8 8 8 8 9 8 8 8 8 8 5 8 1 8 0 8-1 8 0 8 2 8 2 8 3 8 2 8 2 8 2 8 2 8 2 8 2 8 2 8 2 8 1 8 0 8-1 8-1 8-2 8-1 8 0 8 1 8 2 8 2 8 3 8 2 8 3 8 1 8-1 8-2 8-4 8-5 8-4 8-2 8 1 8 4 8 6 8 5 8 4 8 3 8 1 8 0 8 1 8 0 8 0 8 0 8-1 8 0 8-1 8-1 8-1 8 0 8 0 8 0 8 0 8 0 8 1 8 1 8 2 8 1 8 0 8 1 8 0 8 1 8 1 8 2 8 1 8 0 8-1 8-1 8-1 8 0 8 2 8 2 8 1 8 2 8 1 8 1 8 1 8 1 8 1 8 1 8 0 8-1 8-2 8 0 8 1 8 1 8 0 8 0 8 0 8 0 8 0 8 1 8 0 8 0 8 0 8 0 8 1 8 2 8 2 8 2 8 1 8 1 8 0 8 0 8 2 8 2 8 2 8 2 8-1 8 0 8-2 8-2 8-2 8-3 8-2 8-1 8-1 8 0 8 0 8 2 8 2 8 4 8 4 8 3 8 3 8 3 8 2 8 1 8-1 8 0 8-2 8-2 8-3 8-3 8-3 8-1 8 1 8 4"/><path d="M2248 1756l8 1 8 1 8 0 8 0 8 0 8 0 8 0 8-2 8-1 8-1 8-1 8 0 8-1 8-1 8-3 8-4 8-5 8-4 8-4 8-3 8-4 8-4 8-4 8-5 8-5 8-5 8-5 8-4 8-3 8-3 8-3 8-4 8-4 8-5 8-6 8-6 8-5 8-3 8-2 8 0 8 1 8 2 8 1 8 1 8 1 8 3 8 3 8 5 8 5 8 5 8 5 8 8 8 10 8 13 8 17 8 17 8 18 8 16 8 15 8 12 8 9 8 8 8 7 8 7 8 7 8 7 8 7 8 6 8 6 8 4 8 4 8 2 8 1 8-1 8-1 8 1 8 1 8 3 8 2 8 1 8-2 8-2 8-2 8-1 8 1 8 1 8 1 8 2 8 2 8 2 8 2 8 2 8 2 8 0 8 0 8-1 8 0 8 1 8 2 8 1 8 2 8 2 8 2 8 2 8 0 8-1 8-2 8-3 8-2 8-1 8 0 8 0 8 1 8 0 8 1 8 2 8 3 8 4 8 4 8 2 8 1 8 1 8 0 8 0 8 0 8 0 8 0 8-2 8-1 8-2 8-2 8-2 8-2 8 0 8 2 8 2 8 3 8 2 8 2 8 0 8 1 8 0 8-1 8-2 8-2 8-1 8-1 8 1 8 2 8 1 8 2 8 0 8 0 8-1 8 0 8-1 8 0 8 0 8-1 8-3 8-2 8-2 8-1 8 1 8 3 8 4 8 4 8 4 8 4 8 2 8 0 8-2 8-2 8-1 8-1 8-1 8 0 8 0 8 1 8 2 8 4 8 4 8 5 8 4 8 2 8 1 8-2 8-2 8-3 8-3 8-1 8-1 8 1 8 1 8 1 8 0 8 0 8 1 8-1 8 0 8-2 8-1 8-2 8 0 8 2 8 4 8 4"/><path d="M2248 1787l8 2 8 3 8 2 8 2 8-1 8-1 8-2 8-1 8 0 8 1 8 0 8-2 8-2 8-2 8-3 8-2 8-3 8-3 8-2 8-2 8-2 8-2 8-4 8-5 8-7 8-7 8-8 8-6 8-7 8-6 8-6 8-5 8-4 8-4 8-5 8-5 8-5 8-6 8-4 8-2 8-1 8 1 8 1 8 1 8 1 8 3 8 5 8 6 8 6 8 7 8 7 8 10 8 12 8 13 8 15 8 15 8 14 8 12 8 11 8 10 8 10 8 10 8 9 8 7 8 5 8 3 8 4 8 3 8 3 8 4 8 2 8 3 8 2 8 4 8 5 8 5 8 4 8 3 8 1 8 0 8-1 8 1 8 2 8 1 8-1 8-1 8-1 8 0 8 0 8 2 8 2 8 3 8 3 8 2 8 0 8-1 8-2 8-2 8-1 8 0 8 2 8 1 8 2 8 0 8 0 8-1 8 0 8-1 8-1 8 0 8 1 8 1 8 2 8 0 8-1 8-2 8-1 8-2 8-1 8-1 8 0 8 1 8 3 8 4 8 5 8 3 8 1 8 0 8 1 8 1 8 3 8 1 8 2 8 0 8 0 8-1 8 1 8 1 8 1 8 0 8-2 8-1 8-2 8 0 8 0 8 1 8 1 8 3 8 2 8 3 8 1 8 0 8-1 8-1 8-1 8 0 8 0 8 2 8 2 8 3 8 2 8 2 8 0 8-1 8-2 8-1 8-1 8 0 8 1 8 2 8 1 8 0 8 0 8-1 8 0 8 0 8 1 8 0 8-1 8-1 8-3 8-1 8 1 8 2 8 3 8 3 8 2 8 1 8-1 8-2 8-1 8-1 8 1 8 2 8 2 8 2 8 0 8-1 8 0 8-1 8 1 8 1 8 1 8 2 8 2 8 1 8 0"/><path d="M2248 1806l8 0 8 1 8 1 8 1 8 0 8-1 8-1 8-1 8 1 8 1 8 0 8 0 8-2 8-3 8-4 8-3 8-2 8-2 8-1 8-2 8-2 8-2 8-2 8-3 8-4 8-5 8-6 8-7 8-5 8-5 8-5 8-5 8-5 8-6 8-5 8-6 8-7 8-6 8-5 8-4 8-3 8-3 8-1 8-1 8 1 8 2 8 4 8 6 8 9 8 10 8 11 8 10 8 11 8 11 8 13 8 14 8 16 8 16 8 15 8 14 8 12 8 10 8 9 8 8 8 9 8 9 8 9 8 7 8 4 8 3 8 1 8 1 8 1 8 1 8 1 8 3 8 2 8 2 8 1 8-1 8-1 8-3 8-2 8-2 8-1 8 2 8 2 8 3 8 3 8 2 8 2 8 0 8-1 8-3 8-3 8-3 8-1 8 0 8 2 8 1 8 3 8 2 8 3 8 1 8 1 8 0 8 0 8-1 8-1 8-1 8-1 8 0 8 1 8 2 8 3 8 2 8 1 8 0 8-1 8-2 8 0 8 1 8 2 8 4 8 3 8 1 8 1 8-1 8-2 8-2 8-2 8-1 8 0 8 0 8 2 8 2 8 3 8 2 8 1 8 0 8-1 8 0 8 1 8 2 8 3 8 3 8 1 8 0 8-1 8-3 8-2 8-3 8-3 8-3 8-1 8-1 8 1 8 3 8 3 8 2 8 0 8-1 8-2 8 1 8 2 8 5 8 4 8 2 8 1 8 0 8 0 8-2 8-3 8-4 8-2 8-1 8 1 8 2 8 3 8 3 8 3 8 2 8 3 8 2 8 1 8-2 8-2 8-2 8-1 8 1 8 3 8 3 8 3 8 1 8-1 8-1 8-2 8 0 8 0 8 0 8 1 8 2 8 4 8 4 8 3 8 1 8 0"/><path d="M2248 1840l8 0 8 0 8 0 8 0 8 0 8 0 8-1 8-1 8-1 8-3 8-4 8-4 8-4 8-1 8 2 8 2 8 3 8 1 8-1 8-1 8-2 8-1 8-2 8-3 8-4 8-4 8-4 8-5 8-5 8-6 8-9 8-9 8-11 8-10 8-8 8-6 8-4 8-4 8-4 8-4 8-3 8-1 8 1 8 2 8 0 8 0 8-1 8 2 8 5 8 10 8 13 8 15 8 15 8 14 8 14 8 12 8 12 8 11 8 12 8 11 8 11 8 10 8 9 8 10 8 10 8 10 8 9 8 7 8 4 8 3 8 0 8 1 8 1 8 3 8 4 8 4 8 1 8-1 8-1 8 1 8 1 8 2 8 1 8-2 8-2 8-4 8-2 8-1 8 0 8 1 8 2 8 2 8 2 8 3 8 3 8 3 8 4 8 4 8 2 8 2 8 0 8 0 8-1 8 0 8 0 8-1 8 0 8-1 8-1 8 0 8 0 8-2 8-3 8-5 8-5 8-3 8 1 8 3 8 5 8 4 8 2 8 2 8 1 8 1 8 1 8 1 8 2 8 3 8 3 8 2 8 1 8 0 8 0 8 1 8 1 8 3 8 3 8 2 8-1 8-2 8-4 8-3 8-2 8-2 8-1 8 0 8 2 8 3 8 2 8 2 8 0 8 0 8 1 8 1 8 2 8 0 8 0 8-1 8-2 8-3 8-1 8 0 8 1 8 2 8 2 8 3 8 1 8 2 8 0 8 0 8-2 8-1 8 0 8 0 8 1 8-1 8-2 8-1 8-2 8 0 8 0 8 0 8 2 8 2 8 2 8 3 8 2 8 3 8 2 8 2 8 1 8 1 8 0 8-1 8-1 8-1 8 0 8 0 8 2 8 2 8 3 8 3 8 2 8 0 8 0 8-1 8-1"/><path d="M2248 1870l8 0 8 0 8-1 8-2 8-3 8-3 8-2 8-1 8 1 8 2 8 3 8 3 8 2 8 0 8 0 8-2 8-3 8-3 8-4 8-5 8-4 8-3 8-3 8-3 8-3 8-4 8-5 8-6 8-6 8-7 8-6 8-5 8-5 8-5 8-6 8-5 8-5 8-5 8-3 8-2 8-2 8 0 8 0 8-1 8-1 8-2 8-1 8 0 8 3 8 5 8 7 8 10 8 13 8 13 8 14 8 14 8 13 8 13 8 13 8 14 8 13 8 12 8 10 8 10 8 7 8 6 8 5 8 4 8 5 8 5 8 6 8 4 8 3 8 2 8 1 8 1 8 3 8 5 8 5 8 4 8 3 8 1 8 0 8 0 8-2 8-1 8 0 8 1 8 1 8 2 8 0 8-1 8-1 8-1 8 0 8 2 8 1 8 1 8 0 8 1 8 1 8 1 8 1 8-1 8-2 8-2 8-3 8-1 8 0 8 1 8 2 8 2 8 1 8 1 8 0 8 0 8 0 8 0 8 1 8 3 8 3 8 2 8 1 8 0 8 0 8 0 8 0 8 0 8 0 8-1 8 1 8 1 8 1 8 2 8 2 8 1 8 0 8 0 8-1 8-1 8-1 8-2 8-3 8-2 8 0 8 2 8 4 8 3 8 3 8 1 8 1 8 1 8 0 8-1 8-2 8-4 8-5 8-5 8-4 8-1 8 0 8 2 8 3 8 3 8 2 8 1 8 1 8 1 8 2 8 4 8 4 8 5 8 5 8 3 8 2 8 0 8-2 8-1 8-1 8-1 8-1 8 0 8 0 8 0 8 2 8 1 8 2 8 0 8-1 8 0 8 0 8 2 8 1 8 1 8 0 8-1 8-2 8-2 8-1 8 0 8 3 8 2 8 2 8 1 8-1 8-2 8-1"/><path d="M2248 1893l8-2 8-2 8-3 8-2 8 0 8 2 8 3 8 4 8 2 8 2 8 2 8 0 8 0 8-1 8-3 8-2 8-2 8-1 8 0 8-2 8-3 8-6 8-6 8-6 8-5 8-5 8-5 8-6 8-7 8-8 8-8 8-9 8-10 8-7 8-6 8-4 8-1 8-1 8 0 8 0 8 0 8-2 8-4 8-4 8-4 8-2 8 0 8 3 8 6 8 8 8 10 8 12 8 12 8 14 8 15 8 13 8 12 8 9 8 8 8 7 8 8 8 8 8 11 8 11 8 12 8 10 8 9 8 7 8 5 8 5 8 4 8 4 8 5 8 5 8 6 8 6 8 5 8 3 8 2 8 0 8 0 8-1 8-1 8-1 8-2 8-2 8-1 8-1 8 1 8 2 8 1 8 2 8 2 8 3 8 2 8 2 8 0 8 0 8-1 8 1 8 1 8 2 8 2 8 0 8-2 8-2 8-3 8-3 8-3 8-1 8-1 8 0 8 2 8 3 8 3 8 4 8 3 8 4 8 2 8 2 8 1 8 0 8-1 8-1 8 0 8 0 8-1 8 0 8 2 8 3 8 4 8 3 8 1 8-2 8-3 8-3 8-4 8-2 8-2 8 0 8 1 8 1 8 3 8 3 8 3 8 2 8 1 8 1 8 1 8 2 8 1 8 0 8-1 8-1 8-1 8-1 8 0 8 1 8 0 8 1 8 1 8 0 8 1 8 2 8 2 8 2 8 2 8 0 8-1 8-4 8-3 8-3 8-1 8 1 8 4 8 3 8 3 8 0 8-1 8-2 8-1 8 1 8 1 8 2 8 0 8 0 8-2 8-2 8-1 8 0 8 1 8 3 8 1 8 1 8-1 8-1 8-1 8 0 8 2 8 2 8 3 8 2 8 3 8 1 8 1 8-1 8-1" stroke="#12b856" stroke-width="12"/><path d="M2248 1921l8 0 8-1 8-1 8-1 8-1 8 0 8-1 8-1 8 0 8 1 8 2 8 2 8 2 8 1 8 2 8 0 8 0 8-3 8-5 8-5 8-4 8-4 8-4 8-4 8-5 8-5 8-6 8-6 8-6 8-6 8-5 8-6 8-4 8-5 8-4 8-6 8-5 8-6 8-6 8-5 8-5 8-3 8-2 8-1 8 1 8 1 8 0 8-1 8-2 8-1 8 2 8 6 8 10 8 13 8 16 8 16 8 18 8 18 8 18 8 18 8 17 8 14 8 11 8 7 8 6 8 6 8 7 8 9 8 8 8 8 8 5 8 4 8 3 8 3 8 3 8 4 8 2 8 1 8-1 8-1 8-1 8 0 8 1 8 0 8-1 8-1 8-3 8-3 8-1 8 0 8 2 8 3 8 3 8 2 8 1 8 1 8 0 8 0 8 0 8 0 8 1 8 1 8 2 8 1 8 1 8 1 8 1 8 1 8 1 8 3 8 2 8 2 8 2 8 0 8 0 8 0 8 0 8 1 8 0 8 0 8-2 8-1 8-2 8 1 8 2 8 3 8 3 8 2 8 1 8 0 8 0 8-1 8 0 8 0 8-2 8-2 8-4 8-3 8-2 8-1 8 0 8 1 8 2 8 1 8 1 8 0 8 0 8-1 8 0 8 2 8 3 8 2 8 2 8 1 8 1 8 1 8 2 8 1 8 1 8 1 8 0 8 0 8-1 8-1 8-2 8-1 8-1 8 0 8 1 8 1 8 3 8 2 8 2 8 1 8-2 8-3 8-3 8 0 8 2 8 3 8 3 8 2 8 2 8 1 8 0 8-1 8-2 8-2 8-2 8 1 8 2 8 5 8 6 8 5 8 4 8 1 8-1 8-3 8-5 8-5 8-4 8-2 8 0 8 4 8 4 8 4 8 3"/><path d="M2248 1950l8-2 8-3 8-1 8 1 8 1 8 1 8 1 8-1 8-2 8 0 8 2 8 4 8 4 8 3 8 1 8-2 8-4 8-5 8-5 8-3 8 0 8 1 8 2 8 0 8-4 8-6 8-7 8-7 8-6 8-5 8-5 8-5 8-6 8-6 8-7 8-6 8-5 8-6 8-6 8-6 8-5 8-5 8-5 8-4 8-4 8-2 8 1 8 3 8 5 8 5 8 5 8 6 8 8 8 9 8 12 8 13 8 14 8 14 8 13 8 13 8 12 8 12 8 11 8 12 8 10 8 10 8 8 8 8 8 8 8 8 8 7 8 5 8 4 8 1 8 2 8 1 8 2 8 3 8 4 8 3 8 3 8 3 8 1 8-1 8-1 8-1 8 0 8 0 8 0 8 1 8 0 8 1 8 1 8 1 8 0 8-1 8-3 8-3 8-2 8-2 8 1 8 2 8 3 8 3 8 2 8 0 8-1 8-1 8-2 8-1 8 0 8 0 8 2 8 3 8 3 8 4 8 2 8 2 8 1 8 1 8 0 8 0 8 0 8 1 8 0 8 1 8 1 8 2 8 2 8 1 8 1 8 0 8-1 8-1 8-2 8-2 8-1 8 0 8 2 8 0 8 0 8 0 8-1 8 0 8 1 8 1 8 2 8 1 8 0 8 0 8-1 8-1 8 0 8 0 8 1 8 1 8 0 8-1 8 1 8 1 8 2 8 3 8 2 8 3 8 2 8 2 8 1 8 1 8 1 8 0 8-1 8-2 8-3 8-3 8-1 8 2 8 2 8 1 8 0 8 0 8 0 8 0 8 1 8 0 8-1 8 0 8 0 8 1 8 2 8 0 8 1 8 0 8 1 8 0 8 0 8-1 8 0 8 2 8 3 8 5 8 5 8 4 8 1 8-1 8-1 8-2 8-1"/><path d="M2248 1978l8 0 8 0 8 0 8 0 8 0 8 0 8 2 8 2 8 1 8-1 8-1 8-2 8-1 8 0 8 1 8 0 8-1 8-2 8-3 8-4 8-5 8-4 8-3 8-4 8-4 8-5 8-6 8-4 8-4 8-2 8-2 8-4 8-5 8-6 8-7 8-5 8-6 8-4 8-4 8-2 8-2 8-2 8-3 8-6 8-6 8-6 8-3 8-1 8 1 8 2 8 2 8 5 8 6 8 9 8 9 8 11 8 11 8 13 8 13 8 15 8 17 8 16 8 16 8 15 8 12 8 10 8 9 8 8 8 7 8 6 8 4 8 2 8 1 8 1 8 3 8 3 8 4 8 4 8 4 8 4 8 3 8 4 8 2 8 3 8 2 8 0 8 0 8-2 8-1 8 1 8 1 8 1 8 1 8 1 8 0 8 1 8 0 8-1 8 0 8-1 8-1 8 0 8 1 8 2 8 3 8 1 8 0 8-1 8-2 8-2 8-3 8-3 8-2 8 1 8 4 8 5 8 5 8 3 8 2 8 1 8 0 8 0 8 0 8 0 8-2 8-2 8-3 8-1 8 0 8 2 8 2 8 1 8 1 8 0 8 0 8 0 8 1 8 0 8 1 8 2 8 2 8 2 8 2 8 1 8 0 8 0 8 1 8 2 8 2 8 1 8-1 8 0 8 1 8 2 8 3 8 2 8 0 8 0 8-1 8-1 8 0 8 0 8 0 8 0 8 0 8-1 8 1 8 2 8 2 8 3 8 1 8 1 8 1 8 1 8 1 8 1 8-1 8-3 8-4 8-4 8-1 8 0 8 3 8 4 8 4 8 3 8 1 8 2 8 2 8 2 8 2 8 1 8 0 8 0 8 0 8-1 8-2 8-3 8-4 8-4 8-2 8 0 8 1 8 2 8 4 8 3 8 2"/><path d="M2248 1998l8 4 8 3 8 1 8-2 8-2 8-1 8 0 8 0 8 0 8 0 8 0 8 1 8 2 8 1 8 1 8 0 8-2 8-2 8-3 8-3 8-2 8-1 8-2 8-3 8-3 8-4 8-4 8-3 8-3 8-3 8-5 8-7 8-8 8-7 8-5 8-3 8-3 8-4 8-5 8-7 8-7 8-7 8-5 8-3 8-3 8-2 8-2 8-1 8-1 8-1 8 0 8 3 8 5 8 8 8 10 8 10 8 11 8 13 8 13 8 16 8 16 8 16 8 17 8 16 8 14 8 13 8 12 8 9 8 7 8 6 8 4 8 3 8 2 8 2 8 2 8 3 8 3 8 3 8 4 8 3 8 2 8 2 8 2 8 2 8 2 8 3 8 2 8 2 8 0 8-2 8-2 8-1 8 1 8 1 8 1 8 1 8 1 8 3 8 2 8 1 8 0 8-2 8-1 8 0 8 1 8 2 8 0 8-1 8-1 8-2 8-1 8 0 8 1 8 2 8 1 8 1 8 0 8 0 8-1 8 0 8 0 8 0 8-1 8 0 8 1 8 2 8 1 8 2 8 1 8 2 8 1 8 1 8 0 8-1 8-1 8 0 8 1 8 1 8 1 8 0 8 0 8-1 8 1 8 1 8 2 8 1 8 0 8 0 8-1 8 0 8 2 8 3 8 2 8 1 8-1 8-1 8-1 8 0 8 0 8 1 8 2 8 1 8 1 8-1 8-1 8-1 8 1 8 2 8 2 8 2 8 2 8 1 8 0 8 0 8-1 8-1 8-1 8-1 8-1 8 0 8 0 8 1 8 1 8 2 8 3 8 2 8 2 8 1 8 0 8 1 8 0 8-2 8-2 8-2 8-1 8 0 8 2 8 3 8 4 8 3 8 1 8 1 8 0 8 1 8 1 8 2 8 1"/><path d="M2248 2029l8 1 8 1 8 1 8 0 8 0 8-2 8-2 8-2 8-1 8 1 8 1 8 0 8 0 8-1 8-1 8-1 8 0 8-2 8-2 8-1 8-1 8-1 8-1 8-1 8-3 8-2 8-3 8-2 8-3 8-3 8-4 8-5 8-7 8-8 8-7 8-8 8-8 8-7 8-6 8-5 8-5 8-3 8-4 8-2 8-3 8-2 8-3 8-2 8-2 8-1 8 0 8 1 8 4 8 6 8 9 8 9 8 12 8 12 8 15 8 17 8 17 8 17 8 16 8 13 8 11 8 10 8 9 8 9 8 8 8 8 8 7 8 5 8 5 8 4 8 4 8 3 8 2 8 3 8 3 8 3 8 2 8 3 8 2 8 3 8 2 8 1 8 1 8 2 8 1 8 1 8 2 8 1 8 1 8 1 8-2 8-2 8-4 8-2 8 0 8 3 8 4 8 2 8-1 8-4 8-4 8-1 8 1 8 3 8 3 8 2 8 2 8 0 8 1 8 0 8 1 8 2 8 2 8 2 8 1 8 1 8 1 8 0 8 1 8 1 8 2 8 2 8 0 8-1 8-1 8-1 8 0 8 0 8 0 8 2 8 2 8 2 8 1 8 1 8-1 8-1 8-2 8-1 8 1 8 2 8 4 8 4 8 2 8 1 8-2 8-4 8-4 8-3 8-1 8 1 8 2 8 2 8 4 8 3 8 2 8 2 8 2 8 1 8-1 8-3 8-4 8-4 8-2 8 0 8 3 8 4 8 4 8 3 8 2 8 1 8 0 8 0 8 0 8 1 8 3 8 2 8 3 8 2 8 2 8 1 8 0 8 1 8 0 8-1 8-1 8-2 8-3 8-3 8-3 8-1 8 0 8 0 8 2 8 1 8 0 8-1 8-1 8-1 8 1 8 2 8 4 8 5 8 4"/><path d="M2248 2052l8 1 8 2 8 3 8 2 8 3 8 1 8 2 8 1 8 0 8-2 8-3 8-3 8-1 8-1 8-1 8-1 8-1 8-3 8-3 8-3 8 0 8 0 8 0 8-1 8-2 8-2 8-2 8-3 8-4 8-6 8-6 8-7 8-6 8-5 8-3 8-4 8-4 8-6 8-6 8-6 8-5 8-5 8-4 8-4 8-3 8-4 8-3 8-4 8-3 8-3 8-2 8-1 8 1 8 3 8 6 8 8 8 11 8 13 8 14 8 15 8 16 8 16 8 16 8 15 8 13 8 12 8 10 8 10 8 8 8 9 8 8 8 10 8 9 8 8 8 7 8 4 8 2 8 1 8 1 8 1 8 1 8 1 8 2 8 2 8 2 8 2 8 2 8 2 8 1 8 2 8 2 8 1 8 0 8-2 8-1 8-2 8 0 8 0 8 1 8 2 8 3 8 3 8 3 8 3 8 2 8 0 8 0 8 0 8 0 8-1 8-1 8-3 8-3 8-2 8-2 8 0 8 1 8 3 8 3 8 3 8 2 8 2 8 1 8 0 8-1 8-2 8-1 8 0 8 2 8 2 8 3 8 2 8 1 8 1 8-1 8 0 8-1 8-1 8 0 8 1 8-1 8-1 8-1 8-1 8-1 8 1 8 2 8 3 8 5 8 5 8 4 8 3 8 1 8 0 8-1 8 0 8 1 8 0 8 1 8 0 8-1 8 0 8 0 8 1 8 3 8 3 8 2 8-1 8-3 8-3 8-2 8 0 8 1 8 1 8 0 8-1 8-2 8-3 8-3 8-2 8 0 8 2 8 2 8 2 8 3 8 3 8 3 8 2 8 1 8 0 8-1 8-1 8 0 8 0 8 2 8 2 8 3 8 1 8 0 8-1 8-1 8 0 8 1 8 2 8 3 8 2 8 4"/><path d="M2248 2089l8 2 8 1 8 0 8 0 8 1 8 0 8 1 8 0 8 0 8-1 8-1 8 0 8-1 8-1 8-1 8-2 8-2 8-2 8-2 8-3 8-4 8-4 8-5 8-4 8-4 8-4 8-4 8-5 8-5 8-5 8-4 8-4 8-3 8-4 8-3 8-4 8-5 8-5 8-5 8-3 8-3 8 0 8 0 8 0 8-2 8-3 8-6 8-6 8-7 8-4 8-3 8 1 8 4 8 5 8 5 8 5 8 6 8 8 8 11 8 12 8 13 8 14 8 14 8 15 8 15 8 16 8 16 8 15 8 13 8 12 8 10 8 9 8 8 8 6 8 5 8 3 8 2 8 1 8 2 8 1 8 0 8 1 8 1 8 1 8 4 8 4 8 6 8 5 8 3 8 2 8 0 8-1 8-2 8-1 8-2 8 0 8 0 8 0 8 1 8 2 8 1 8 3 8 3 8 2 8 0 8-1 8-3 8-2 8-2 8-2 8-1 8-1 8 0 8-1 8 0 8 1 8-1 8 0 8 1 8 1 8 1 8 1 8 2 8 0 8 1 8 1 8 1 8 2 8 2 8 0 8 0 8 1 8 1 8 1 8 2 8 0 8 1 8 1 8 1 8 1 8 0 8 0 8 0 8 1 8 2 8 2 8 2 8 1 8 1 8-1 8-1 8-1 8 0 8 0 8 0 8 1 8 1 8 0 8 1 8 1 8 0 8 0 8 0 8 2 8 2 8 3 8 2 8 1 8 0 8-1 8-1 8-1 8 1 8 2 8 2 8 1 8 1 8 0 8-1 8-1 8-2 8-1 8-1 8-1 8 0 8 1 8 2 8 1 8 1 8 1 8 1 8 1 8 2 8 3 8 4 8 3 8 2 8 1 8-2 8-4 8-4 8-3 8-1 8 1 8 1 8 2 8 2"/><path d="M2248 2113l8 1 8 0 8-2 8-2 8-1 8-1 8-1 8-2 8-2 8-2 8 0 8 1 8 2 8 2 8 3 8 1 8 2 8 0 8-1 8-3 8-4 8-3 8-3 8-2 8-2 8-4 8-5 8-6 8-6 8-6 8-5 8-5 8-4 8-5 8-3 8-4 8-4 8-5 8-5 8-6 8-6 8-4 8-3 8-2 8-1 8-2 8-2 8-3 8-3 8-4 8-3 8-1 8-1 8 2 8 4 8 7 8 9 8 10 8 12 8 12 8 13 8 15 8 15 8 16 8 15 8 13 8 11 8 9 8 10 8 9 8 8 8 8 8 7 8 7 8 7 8 7 8 7 8 6 8 6 8 5 8 6 8 5 8 4 8 3 8 2 8 1 8-1 8-1 8-1 8-1 8 0 8 0 8 1 8 2 8 1 8 2 8 0 8 1 8 0 8 0 8 0 8-1 8-1 8-1 8 0 8 1 8 1 8 1 8 0 8-1 8 0 8 0 8 2 8 3 8 2 8 1 8 0 8-1 8 0 8-1 8 0 8 1 8 0 8-1 8-1 8-1 8-1 8 0 8 1 8 2 8 3 8 4 8 2 8 2 8 2 8 0 8 2 8 2 8 3 8 1 8 1 8 0 8-2 8-3 8-3 8-3 8-2 8-1 8 1 8 3 8 4 8 4 8 4 8 2 8 1 8 0 8-2 8-2 8-2 8-2 8-2 8 1 8 0 8 2 8 1 8 2 8 0 8-1 8-2 8-2 8-1 8 1 8 4 8 3 8 3 8 2 8 0 8-1 8-1 8-1 8 0 8 1 8 2 8 2 8 2 8 2 8 2 8 3 8 1 8 1 8-1 8 0 8-1 8 0 8 0 8 1 8 1 8 2 8 1 8 0 8 1 8 0 8 0 8 1 8 0 8 1 8 1"/><path d="M2248 2150l8 3 8 3 8 3 8 1 8 0 8-2 8-3 8-3 8-3 8-3 8-3 8-2 8-2 8-3 8-3 8-3 8-3 8-2 8-2 8-1 8 0 8 0 8 0 8-2 8-5 8-6 8-6 8-5 8-4 8-4 8-4 8-4 8-3 8-2 8-2 8-2 8-4 8-4 8-5 8-5 8-5 8-5 8-5 8-3 8-3 8-1 8-2 8-2 8-2 8-2 8-1 8 0 8 1 8 1 8 2 8 2 8 4 8 5 8 7 8 10 8 11 8 13 8 12 8 12 8 13 8 13 8 14 8 15 8 15 8 13 8 12 8 10 8 9 8 8 8 6 8 5 8 5 8 5 8 6 8 5 8 5 8 4 8 4 8 2 8 2 8 1 8 0 8 0 8 0 8 0 8-1 8-1 8-2 8 0 8 1 8 2 8 2 8 1 8 1 8 1 8 2 8 3 8 4 8 3 8 1 8-1 8-1 8-2 8-2 8 0 8 0 8 0 8 2 8 2 8 2 8 3 8 3 8 2 8 1 8 0 8-1 8-3 8-2 8-1 8 0 8 2 8 2 8 1 8 0 8-1 8-1 8-1 8 0 8-1 8 1 8 3 8 4 8 4 8 3 8 1 8-1 8-1 8-1 8 1 8 0 8 1 8-1 8-1 8-1 8 0 8 1 8 1 8 3 8 2 8 3 8 3 8 3 8 1 8 0 8-1 8 0 8 0 8 0 8-1 8-1 8-3 8-2 8-2 8 0 8 2 8 3 8 3 8 0 8-1 8-1 8-3 8-2 8-2 8-1 8 2 8 3 8 6 8 5 8 4 8 2 8 1 8 1 8 1 8 3 8 3 8 2 8 1 8-2 8-2 8-2 8 0 8 2 8 4 8 3 8 2 8-1 8-2 8-2 8-1 8-1 8 0 8-1"/><path d="M2248 2183l8 1 8 0 8-2 8-4 8-3 8-3 8-1 8 0 8 1 8 1 8 1 8 0 8-2 8-3 8-4 8-5 8-5 8-3 8-2 8-1 8 0 8 0 8 0 8-1 8-2 8-4 8-3 8-3 8-2 8-2 8-1 8-2 8-3 8-4 8-5 8-4 8-4 8-3 8-4 8-6 8-6 8-8 8-5 8-2 8-1 8-1 8-2 8-5 8-7 8-6 8-5 8-3 8-3 8-1 8 0 8 0 8 3 8 4 8 7 8 10 8 12 8 12 8 14 8 15 8 16 8 17 8 18 8 17 8 15 8 13 8 10 8 7 8 7 8 5 8 7 8 6 8 6 8 6 8 6 8 7 8 8 8 8 8 7 8 5 8 4 8 2 8 1 8 0 8 0 8-1 8-2 8-2 8-1 8 1 8 3 8 3 8 2 8 0 8 0 8-1 8 1 8 3 8 4 8 3 8 0 8 0 8-2 8-2 8 0 8 1 8 0 8 0 8-1 8-2 8-1 8-2 8-1 8-2 8 0 8 0 8 2 8 1 8 1 8 2 8 3 8 4 8 3 8 1 8 0 8-1 8-2 8-1 8 0 8 0 8 0 8 1 8 1 8 1 8 1 8 0 8 0 8 0 8 0 8 0 8 1 8 2 8 4 8 3 8 4 8 2 8 1 8 2 8 1 8 1 8 1 8 0 8 0 8 0 8 1 8 1 8 2 8 1 8-1 8-2 8-1 8-1 8 0 8 0 8 0 8-1 8-1 8-2 8 0 8 0 8 2 8 2 8 3 8 4 8 2 8-1 8-3 8-4 8-5 8-3 8 0 8 2 8 4 8 5 8 3 8 3 8 2 8 3 8 5 8 4 8 1 8 0 8-3 8-4 8-2 8-1 8 1 8 0 8 0 8-1 8-1 8-2 8 0"/><path d="M2248 2201l8 1 8 1 8 2 8 1 8 0 8 0 8 1 8 2 8 1 8 1 8-2 8-4 8-4 8-3 8-1 8 1 8 2 8 1 8 0 8-1 8-1 8-3 8-4 8-4 8-5 8-6 8-6 8-6 8-5 8-3 8-3 8-3 8-4 8-5 8-4 8-4 8-4 8-3 8-5 8-5 8-5 8-5 8-3 8-3 8-1 8-1 8-1 8-2 8-3 8-3 8-2 8-2 8 0 8-1 8 1 8 2 8 3 8 4 8 6 8 6 8 6 8 6 8 8 8 10 8 14 8 17 8 18 8 18 8 15 8 14 8 12 8 12 8 11 8 10 8 9 8 8 8 8 8 9 8 8 8 7 8 5 8 4 8 2 8 1 8 1 8-1 8-2 8-2 8-2 8-1 8 1 8 2 8 4 8 4 8 3 8 1 8-1 8-2 8-4 8-3 8-2 8 0 8 1 8 2 8 4 8 3 8 3 8 1 8 1 8-1 8-1 8-1 8 0 8 1 8 2 8 3 8 2 8 1 8 0 8 0 8-1 8-1 8 1 8 1 8 2 8 3 8 2 8 1 8-2 8-2 8-3 8-1 8 1 8 4 8 5 8 4 8 2 8 0 8-2 8-1 8-2 8-1 8 0 8 0 8 1 8 1 8 2 8 2 8 3 8 2 8 1 8 0 8 0 8-1 8 0 8 0 8 0 8 0 8 0 8 0 8 0 8 1 8 0 8-1 8-1 8-1 8 0 8 2 8 3 8 4 8 3 8 1 8 1 8 1 8 0 8 0 8-1 8 0 8-1 8 0 8 0 8 0 8 0 8 0 8 1 8 1 8 1 8 1 8 0 8 1 8 1 8 0 8 1 8 1 8 2 8 2 8 2 8 2 8 1 8-1 8-2 8 0 8 0 8 2 8 2 8 1 8 0"/><path d="M2248 2236l8-1 8 0 8 0 8 0 8 0 8 0 8-2 8-1 8-2 8-1 8 0 8 1 8 1 8 1 8 1 8 1 8 1 8 0 8 0 8-1 8-3 8-3 8-4 8-5 8-6 8-6 8-6 8-6 8-5 8-4 8-3 8-4 8-4 8-3 8-4 8-5 8-5 8-6 8-5 8-4 8-5 8-4 8-3 8-4 8-3 8-3 8-3 8-4 8-5 8-4 8-3 8-1 8 0 8 1 8 1 8 1 8 1 8 3 8 5 8 7 8 9 8 10 8 12 8 12 8 12 8 13 8 12 8 12 8 12 8 13 8 13 8 13 8 13 8 11 8 11 8 8 8 8 8 6 8 6 8 6 8 5 8 5 8 5 8 4 8 4 8 3 8 4 8 4 8 2 8 1 8 0 8-1 8-1 8 0 8 1 8 2 8 2 8 2 8 2 8 1 8-1 8 0 8 0 8-1 8-1 8 0 8-1 8 2 8 2 8 4 8 3 8 3 8 2 8 3 8 3 8 2 8 2 8 1 8-2 8-3 8-3 8-3 8-2 8-1 8-1 8-1 8-1 8 0 8 1 8 1 8 1 8 1 8 0 8 1 8 2 8 2 8 1 8 1 8 1 8 0 8 0 8 1 8 1 8 2 8 2 8 2 8 1 8 0 8 1 8 0 8 1 8 1 8 1 8 0 8-1 8-2 8-1 8 0 8 2 8 2 8 3 8 1 8 0 8 0 8-1 8 0 8 0 8 1 8-1 8-1 8-2 8-1 8-1 8 0 8 0 8 1 8 3 8 3 8 3 8 3 8 1 8 1 8 2 8 2 8 2 8 2 8 1 8 0 8 0 8-2 8-2 8-2 8-1 8 0 8 1 8 2 8 3 8 5 8 4 8 3 8 1 8-1 8-2 8-3 8-2 8-2 8-2"/><path d="M2248 2261l8 3 8 5 8 3 8 2 8-1 8 0 8-1 8 0 8-2 8-3 8-4 8-4 8-3 8-1 8 0 8-1 8-1 8-2 8-1 8-1 8 1 8 1 8 1 8-1 8-3 8-6 8-7 8-8 8-6 8-6 8-4 8-4 8-4 8-3 8-4 8-3 8-2 8-3 8-4 8-5 8-7 8-7 8-9 8-8 8-8 8-6 8-4 8-2 8-1 8-1 8-1 8 0 8 0 8 1 8 2 8 2 8 3 8 4 8 4 8 6 8 7 8 8 8 10 8 12 8 12 8 13 8 13 8 14 8 15 8 14 8 14 8 13 8 12 8 13 8 12 8 10 8 7 8 6 8 4 8 3 8 4 8 4 8 5 8 4 8 4 8 4 8 3 8 2 8 1 8 0 8-1 8 0 8 1 8 2 8 3 8 3 8 1 8 1 8-1 8 0 8 1 8 1 8 2 8 3 8 2 8 1 8 0 8-2 8-2 8-3 8 0 8 1 8 3 8 4 8 3 8 2 8 1 8-1 8-1 8-1 8 0 8 0 8 0 8-1 8-1 8-1 8 0 8 1 8 1 8 2 8 1 8 0 8 0 8-1 8 1 8 3 8 5 8 5 8 4 8 3 8 2 8 1 8 1 8 0 8-1 8-2 8-2 8-2 8 0 8 1 8 0 8 1 8 0 8 2 8 2 8 3 8 3 8 1 8-2 8-5 8-5 8-4 8-3 8 0 8 2 8 3 8 4 8 5 8 3 8 3 8 1 8 0 8 0 8 1 8 0 8 1 8 0 8 0 8 1 8 3 8 3 8 3 8 2 8 0 8-1 8-2 8-3 8-2 8-1 8 2 8 3 8 4 8 2 8 1 8-1 8-2 8-2 8-1 8 0 8 2 8 1 8 1 8 1 8 1 8 2 8 1 8 2"/><path d="M2248 2286l8 1 8 1 8 1 8 1 8 0 8 0 8-1 8-2 8-2 8-1 8 1 8 1 8 1 8 0 8-2 8-2 8-2 8-4 8-3 8-4 8-3 8-2 8-2 8-1 8-2 8-3 8-3 8-3 8-2 8-3 8-2 8-3 8-3 8-3 8-4 8-6 8-6 8-6 8-5 8-4 8-4 8-5 8-4 8-3 8-4 8-4 8-5 8-5 8-6 8-3 8-1 8 1 8 3 8 3 8 1 8 0 8-1 8 0 8 0 8 2 8 4 8 5 8 8 8 9 8 12 8 11 8 12 8 10 8 11 8 12 8 14 8 14 8 14 8 14 8 12 8 11 8 10 8 8 8 7 8 6 8 7 8 8 8 8 8 9 8 7 8 6 8 3 8 3 8 2 8 2 8 2 8 2 8 0 8-1 8-2 8-2 8-1 8 0 8 2 8 2 8 2 8-1 8-1 8-3 8-1 8 0 8 2 8 4 8 3 8 3 8 2 8 2 8 1 8 1 8-1 8-1 8-1 8 0 8 1 8 1 8 2 8 2 8 1 8 0 8 1 8 1 8 0 8 0 8-1 8-2 8-2 8-3 8-3 8-1 8 0 8 0 8 1 8 1 8 0 8 0 8 1 8 2 8 2 8 3 8 4 8 3 8 4 8 3 8 3 8 2 8 2 8 0 8-1 8-3 8-4 8-4 8-3 8-1 8 1 8 3 8 4 8 3 8 4 8 1 8 0 8-1 8-3 8-1 8 0 8 3 8 4 8 6 8 4 8 1 8-1 8-4 8-3 8-1 8-1 8 0 8-1 8-1 8-1 8 0 8 2 8 2 8 1 8 1 8 0 8 1 8 2 8 4 8 3 8 2 8 1 8 1 8 0 8 0 8 0 8 0 8 0 8-1 8 0 8 2 8 1 8 2 8 1"/><path d="M2248 2320l8-4 8-2 8-1 8 0 8 3 8 2 8 0 8 0 8-1 8-1 8 1 8 1 8 0 8 1 8-1 8-1 8-2 8 0 8-1 8-1 8-2 8-4 8-4 8-3 8-3 8-2 8-3 8-4 8-5 8-6 8-6 8-6 8-6 8-6 8-7 8-6 8-5 8-3 8-2 8-2 8-3 8-2 8-1 8-1 8-1 8-3 8-5 8-6 8-6 8-4 8-2 8 0 8-1 8 0 8-2 8-3 8-3 8-2 8-1 8 2 8 4 8 6 8 8 8 9 8 9 8 10 8 11 8 11 8 14 8 16 8 17 8 17 8 17 8 15 8 14 8 10 8 9 8 8 8 7 8 8 8 7 8 7 8 7 8 7 8 7 8 6 8 5 8 4 8 2 8 2 8 0 8 0 8-1 8-2 8-2 8-1 8 0 8 2 8 2 8 2 8 3 8 3 8 2 8 3 8 1 8 1 8-1 8-2 8-1 8 0 8 1 8 1 8 1 8 1 8 1 8 1 8 1 8 0 8 0 8-1 8-1 8-2 8-1 8 0 8 0 8 1 8 2 8 2 8 4 8 4 8 3 8 3 8 0 8-1 8-2 8-1 8-1 8 0 8 0 8-1 8-1 8 1 8 2 8 4 8 3 8 2 8 1 8 1 8 0 8 0 8 0 8 0 8-1 8 0 8 0 8 1 8 1 8 0 8 0 8 1 8 1 8 2 8 2 8 2 8 1 8-1 8-2 8-2 8-1 8-1 8 1 8 1 8 2 8 1 8 1 8 0 8-1 8 0 8 0 8 1 8 1 8-1 8-1 8 0 8 1 8 2 8 2 8 2 8 1 8 1 8 0 8 1 8 1 8 2 8 1 8 1 8 1 8 1 8 1 8 2 8 1 8-1 8 0 8-1 8 0 8 1 8 0"/><path d="M2248 2350l8 0 8-1 8-1 8 0 8-1 8-1 8-2 8-4 8-4 8-5 8-2 8 0 8 3 8 3 8 2 8 1 8-1 8-1 8 0 8 1 8 0 8-1 8-3 8-3 8-5 8-4 8-3 8-4 8-3 8-6 8-6 8-7 8-5 8-4 8-2 8-2 8-4 8-4 8-5 8-3 8-3 8-3 8-2 8-2 8-2 8-1 8-3 8-4 8-6 8-7 8-7 8-6 8-2 8-1 8 2 8 1 8-1 8-1 8 0 8 1 8 3 8 5 8 5 8 7 8 8 8 10 8 12 8 12 8 13 8 12 8 12 8 14 8 14 8 16 8 18 8 17 8 16 8 13 8 11 8 9 8 7 8 6 8 4 8 2 8 2 8 1 8 3 8 4 8 6 8 6 8 6 8 5 8 2 8 0 8-2 8-3 8-2 8-2 8-2 8 0 8-1 8 1 8 2 8 3 8 3 8 3 8 1 8-1 8-2 8-2 8-1 8 0 8 1 8 3 8 3 8 2 8 2 8 1 8 1 8 0 8 0 8-1 8-1 8-2 8-2 8-1 8 0 8 1 8 2 8 2 8 1 8 0 8 0 8 1 8 2 8 2 8 2 8 2 8 1 8-1 8-2 8-2 8-2 8 0 8 2 8 3 8 4 8 2 8 0 8-2 8-2 8-1 8-1 8 1 8 0 8 1 8 0 8 2 8 2 8 4 8 4 8 4 8 2 8 1 8 0 8 1 8 0 8 0 8-2 8-2 8-3 8-2 8 1 8 2 8 3 8 2 8 2 8 2 8 3 8 2 8 3 8 0 8-1 8-3 8-3 8-3 8-1 8-1 8 0 8 0 8 2 8 3 8 3 8 4 8 3 8 1 8 0 8 0 8 1 8 1 8 1 8 0 8-1 8-2 8-1 8 1 8 3"/><path d="M2248 2376l8 0 8 1 8 2 8 1 8-1 8-3 8-4 8-3 8-2 8-2 8-2 8-1 8-2 8-1 8-1 8-1 8 0 8 0 8 0 8 0 8 0 8 0 8-1 8-2 8-2 8-3 8-2 8-3 8-3 8-4 8-6 8-5 8-6 8-3 8-3 8-2 8-2 8-2 8-4 8-3 8-4 8-5 8-5 8-6 8-6 8-7 8-6 8-4 8-5 8-3 8-3 8-2 8-1 8-2 8-2 8-2 8-1 8 1 8 3 8 4 8 4 8 4 8 4 8 4 8 5 8 7 8 9 8 13 8 13 8 15 8 15 8 14 8 14 8 14 8 14 8 12 8 12 8 10 8 10 8 9 8 9 8 9 8 7 8 5 8 4 8 1 8 1 8 1 8 3 8 4 8 6 8 6 8 5 8 3 8 1 8-1 8-1 8-1 8 1 8 4 8 5 8 5 8 3 8 1 8-2 8-2 8-2 8-1 8-1 8-1 8-2 8-2 8-1 8 1 8 3 8 3 8 4 8 3 8 1 8 0 8 1 8 0 8 1 8 0 8 1 8 0 8-1 8 0 8 1 8 2 8 2 8 2 8 2 8 2 8 2 8 1 8 1 8 0 8-1 8-1 8-1 8 0 8 0 8 2 8 1 8 0 8-2 8-1 8-1 8 0 8 1 8 2 8 2 8 2 8 1 8 2 8 2 8 2 8 1 8 0 8-2 8-3 8-3 8-2 8 0 8 1 8 2 8 2 8 2 8 1 8 1 8 3 8 3 8 4 8 4 8 2 8 0 8-2 8-4 8-4 8-2 8 0 8 2 8 3 8 4 8 3 8 2 8 0 8-1 8-1 8-1 8 1 8 1 8-1 8 0 8-2 8 0 8 1 8 0 8 0 8-1 8-2 8 0 8 1 8 3 8 3 8 3"/><path d="M2248 2397l8 3 8 3 8 1 8 1 8 1 8 0 8-1 8 0 8 0 8-1 8 0 8 0 8-1 8-1 8-2 8-1 8-1 8-1 8-1 8-2 8-3 8-4 8-5 8-4 8-4 8-2 8-3 8-2 8-2 8-4 8-5 8-6 8-6 8-4 8-4 8-4 8-4 8-3 8-3 8-1 8 0 8-1 8-1 8-2 8-5 8-5 8-5 8-5 8-4 8-3 8-4 8-2 8-1 8-1 8 1 8 0 8 0 8-1 8-2 8-1 8-1 8 0 8 0 8 1 8 3 8 4 8 6 8 9 8 11 8 15 8 16 8 17 8 17 8 17 8 16 8 15 8 14 8 14 8 12 8 12 8 11 8 10 8 8 8 7 8 4 8 2 8 1 8 2 8 2 8 4 8 4 8 4 8 2 8 1 8-1 8-2 8-1 8 1 8 3 8 4 8 4 8 4 8 1 8 0 8-1 8-3 8-2 8-1 8 0 8 1 8 1 8 1 8 2 8 2 8 1 8 0 8-1 8-3 8-2 8 0 8 2 8 3 8 2 8 1 8 0 8 0 8 1 8 3 8 3 8 3 8 3 8 2 8 0 8-1 8 0 8 1 8 1 8 1 8 1 8 1 8 1 8 2 8 0 8-1 8-1 8 0 8 1 8 2 8 2 8 1 8-2 8-2 8-3 8-1 8-1 8 0 8 1 8 1 8 1 8 1 8 1 8 1 8 2 8 2 8 3 8 3 8 2 8 1 8 2 8 1 8 2 8 1 8 0 8-1 8-1 8 0 8 1 8 1 8 1 8-1 8-2 8-3 8-2 8 1 8 3 8 4 8 4 8 2 8 0 8-1 8-1 8-1 8-1 8-1 8 1 8 2 8 2 8 3 8 1 8 0 8-1 8 1 8 0 8 1 8 1 8-1 8 0"/><path d="M2248 2425l8-1 8-2 8-1 8 0 8 0 8 1 8 1 8 1 8 1 8 0 8-1 8 0 8-1 8 0 8-1 8-1 8-1 8-1 8-1 8-2 8-2 8-2 8-2 8-2 8-2 8-3 8-4 8-5 8-5 8-6 8-6 8-3 8-2 8-1 8-1 8-3 8-4 8-6 8-5 8-5 8-4 8-3 8-4 8-4 8-3 8-3 8-2 8-2 8-2 8-3 8-4 8-4 8-4 8-4 8-4 8-3 8-2 8-2 8 0 8 1 8 1 8 1 8 2 8 3 8 4 8 7 8 8 8 9 8 10 8 10 8 11 8 14 8 15 8 19 8 19 8 18 8 17 8 14 8 12 8 12 8 11 8 12 8 10 8 8 8 7 8 5 8 4 8 5 8 4 8 4 8 3 8 4 8 2 8 2 8 1 8 0 8 0 8-1 8-2 8-2 8-1 8-1 8 1 8 2 8 2 8 1 8 0 8-1 8-1 8-2 8-1 8 0 8 0 8 1 8 1 8 2 8 2 8 3 8 3 8 2 8 1 8 0 8 0 8 1 8 3 8 3 8 3 8 2 8 0 8 0 8 0 8-1 8 1 8 2 8 2 8 2 8 1 8 1 8 0 8 0 8 0 8-1 8-1 8-1 8 1 8 2 8 2 8 2 8 1 8-1 8-1 8-1 8-1 8 0 8-1 8-2 8-1 8-1 8 0 8 0 8 0 8-1 8 1 8 1 8 2 8 3 8 3 8 4 8 3 8 3 8 3 8 2 8 1 8 0 8 0 8-1 8 0 8-1 8 0 8-1 8-1 8-1 8 1 8 1 8 1 8 2 8 1 8-2 8-2 8-1 8-1 8 2 8 2 8 2 8 0 8 0 8 1 8 1 8 2 8 2 8 2 8 1 8 2 8 2 8 1 8-1 8-3"/><path d="M2248 2466l8-1 8 0 8 0 8 1 8 0 8 0 8-1 8-1 8-2 8-3 8-2 8-1 8 0 8 0 8-1 8-1 8-3 8-3 8-3 8-1 8 0 8 0 8 0 8-3 8-3 8-4 8-2 8-1 8-2 8-1 8-4 8-4 8-5 8-6 8-6 8-4 8-4 8-3 8-2 8-3 8-5 8-4 8-5 8-5 8-3 8-2 8-2 8-4 8-3 8-5 8-5 8-4 8-4 8-3 8-2 8-3 8-2 8-3 8-2 8-1 8 0 8 2 8 4 8 5 8 6 8 6 8 6 8 8 8 8 8 10 8 10 8 11 8 11 8 12 8 14 8 14 8 15 8 16 8 16 8 15 8 15 8 13 8 11 8 9 8 7 8 6 8 4 8 3 8 2 8 3 8 3 8 4 8 3 8 3 8 3 8 2 8 0 8 0 8-1 8-1 8 0 8 1 8 3 8 3 8 2 8 1 8 1 8 1 8 3 8 3 8 2 8 1 8-1 8-3 8-2 8-1 8 0 8 2 8 1 8 1 8 1 8 2 8 2 8 2 8 2 8 0 8-1 8-2 8-2 8-1 8 1 8 2 8 2 8 2 8 1 8 0 8-1 8-1 8 0 8 0 8 0 8 1 8 1 8 0 8 2 8 1 8 1 8 1 8 0 8 0 8-1 8-1 8 0 8 1 8 1 8 2 8 1 8 2 8 2 8 3 8 4 8 4 8 1 8 0 8-2 8-1 8-1 8 1 8 1 8 2 8 1 8 1 8 0 8 0 8 0 8-1 8 0 8 0 8 0 8 1 8 0 8 0 8 1 8 1 8 2 8 2 8 3 8 2 8 2 8 1 8 1 8 0 8-1 8 0 8 0 8 0 8 1 8 1 8 1 8 0 8-1 8-4 8-3 8-2 8 0 8 2 8 5"/><path d="M2248 2484l8-1 8 0 8 1 8 1 8 0 8 0 8-1 8-2 8-1 8 0 8 0 8 0 8 1 8 1 8 0 8-2 8-2 8-3 8-3 8-3 8-2 8-2 8-3 8-3 8-1 8-2 8-1 8-3 8-4 8-5 8-4 8-3 8-3 8-2 8-4 8-4 8-5 8-4 8-4 8-1 8 0 8 0 8-1 8-3 8-5 8-6 8-6 8-6 8-5 8-2 8-1 8 0 8 0 8-2 8-4 8-4 8-5 8-4 8-3 8-1 8-1 8 0 8 0 8-1 8 1 8 4 8 6 8 10 8 12 8 12 8 11 8 12 8 12 8 13 8 15 8 16 8 16 8 15 8 14 8 13 8 11 8 11 8 8 8 8 8 5 8 5 8 5 8 5 8 6 8 6 8 5 8 4 8 4 8 4 8 2 8 2 8 3 8 2 8 3 8 4 8 2 8 2 8 0 8-2 8-2 8-2 8-2 8 0 8 1 8 1 8 2 8 2 8 2 8 3 8 3 8 3 8 2 8 2 8 2 8 1 8 0 8-1 8-2 8-1 8-1 8-1 8 1 8 0 8 0 8-1 8-2 8-2 8-1 8 0 8 2 8 4 8 3 8 3 8 2 8 1 8 0 8-1 8-3 8-4 8-3 8-3 8-1 8 1 8 3 8 5 8 5 8 4 8 2 8 2 8 2 8 1 8 2 8 2 8 3 8 2 8 1 8 2 8 1 8 0 8 1 8-1 8 0 8 0 8 1 8 2 8 3 8 1 8 1 8-2 8-3 8-5 8-3 8-2 8 2 8 3 8 3 8 2 8 0 8-2 8-2 8-2 8-1 8 0 8-1 8 0 8 0 8 2 8 2 8 4 8 5 8 3 8 2 8 1 8 0 8 2 8 2 8 4 8 4 8 2 8 1 8-1 8-2"/><path d="M2248 2518l8 1 8 1 8-1 8-1 8-2 8-2 8-3 8-1 8 0 8 1 8 1 8 1 8 1 8 0 8 0 8 0 8-2 8-3 8-4 8-4 8-3 8-3 8-1 8 0 8-1 8-2 8-1 8-2 8-3 8-4 8-5 8-6 8-5 8-5 8-3 8-3 8-2 8-4 8-3 8-5 8-4 8-5 8-4 8-5 8-4 8-4 8-4 8-4 8-3 8-3 8-3 8-1 8-1 8 0 8-2 8-3 8-5 8-4 8-3 8-1 8-1 8 0 8 1 8 0 8 1 8 1 8 2 8 5 8 8 8 11 8 14 8 17 8 17 8 18 8 16 8 16 8 14 8 13 8 12 8 11 8 11 8 9 8 10 8 8 8 8 8 6 8 7 8 6 8 7 8 8 8 7 8 7 8 6 8 5 8 3 8 0 8-2 8-3 8-2 8-2 8 1 8 2 8 3 8 4 8 4 8 3 8 2 8 1 8 0 8 0 8 1 8 0 8 1 8 0 8-1 8-3 8-3 8-2 8 0 8 3 8 4 8 4 8 2 8 1 8 0 8-1 8 0 8 3 8 4 8 5 8 4 8 3 8 1 8 1 8-1 8-2 8-2 8-3 8-2 8-1 8 1 8 1 8 1 8 1 8-1 8-1 8-2 8 0 8 2 8 3 8 3 8 3 8 3 8 1 8 0 8 1 8 0 8 1 8 2 8 2 8 0 8 0 8 0 8-1 8 0 8 0 8 0 8 0 8-1 8-1 8 0 8 0 8 1 8 1 8 0 8 1 8 2 8 1 8 2 8 2 8 2 8 3 8 3 8 3 8 2 8 0 8-1 8-2 8-2 8-1 8 0 8-1 8-1 8-1 8 0 8 0 8 1 8 2 8 2 8 2 8 2 8 1 8 0 8 0 8 0 8 2 8 1"/><path d="M2248 2543l8 0 8-2 8-3 8-2 8-2 8-1 8 1 8 0 8 0 8 0 8 1 8 1 8 2 8 2 8 1 8-1 8-3 8-3 8-2 8-2 8-2 8-4 8-5 8-6 8-6 8-4 8-1 8 2 8 1 8 1 8 0 8-1 8-3 8-3 8-5 8-5 8-6 8-4 8-4 8-4 8-4 8-3 8-3 8-3 8-2 8-1 8-2 8-2 8-3 8-5 8-4 8-5 8-5 8-3 8-2 8-3 8-3 8-4 8-4 8-3 8-1 8 0 8 1 8 1 8 1 8 0 8 0 8 2 8 5 8 7 8 10 8 11 8 12 8 12 8 13 8 13 8 14 8 14 8 15 8 15 8 15 8 14 8 14 8 15 8 14 8 14 8 12 8 8 8 5 8 2 8 2 8 5 8 6 8 6 8 4 8 1 8-2 8-3 8-1 8-1 8 1 8 0 8 0 8 1 8 1 8 2 8 2 8 2 8 3 8 2 8 1 8 2 8 0 8 0 8-1 8-2 8-2 8 0 8 1 8 2 8 3 8 3 8 2 8 2 8 1 8 1 8 0 8 2 8 2 8 2 8 2 8 2 8 0 8 0 8-2 8-1 8-2 8-1 8 1 8 2 8 2 8 1 8-1 8-2 8-1 8-1 8 0 8 2 8 3 8 4 8 2 8 1 8 0 8-1 8 0 8 0 8 0 8-1 8-1 8 0 8 0 8 2 8 2 8 2 8 1 8 0 8 0 8 0 8 0 8 0 8 2 8 2 8 2 8 2 8 2 8 0 8 1 8 0 8 0 8 1 8 1 8 3 8 1 8 0 8 0 8 0 8 1 8 0 8 0 8-1 8 0 8 0 8 2 8 3 8 3 8 4 8 2 8 1 8-1 8-2 8-2 8-1 8 0 8 1 8 2 8 3 8 3"/><path d="M2248 2568l8 4 8 3 8 2 8-1 8-3 8-3 8-2 8-1 8 0 8 0 8-1 8-1 8-2 8-1 8 1 8 2 8 2 8 0 8-2 8-5 8-5 8-5 8-2 8-1 8 0 8 0 8 0 8-1 8-1 8-2 8-2 8-3 8-4 8-5 8-5 8-6 8-4 8-5 8-4 8-6 8-6 8-5 8-5 8-3 8-2 8-3 8-2 8-2 8-2 8-2 8-1 8-3 8-4 8-5 8-5 8-4 8-2 8-2 8-2 8-2 8-3 8-3 8-1 8 0 8 2 8 4 8 5 8 7 8 8 8 8 8 8 8 7 8 6 8 6 8 9 8 13 8 17 8 19 8 20 8 18 8 17 8 15 8 13 8 12 8 12 8 10 8 9 8 9 8 7 8 6 8 5 8 4 8 3 8 1 8 1 8 0 8 1 8 0 8 2 8 2 8 3 8 3 8 2 8 0 8-1 8-1 8-1 8-1 8-1 8-1 8 0 8 0 8 3 8 3 8 4 8 3 8 2 8 0 8 1 8 0 8 1 8 2 8 1 8 1 8 0 8 0 8-1 8 1 8 1 8 2 8 1 8 1 8 0 8-1 8-1 8-1 8-1 8 0 8-1 8 0 8 0 8 2 8 5 8 5 8 4 8 2 8-1 8-2 8-3 8-3 8 0 8 1 8 2 8 2 8 1 8 1 8 2 8 1 8 2 8 1 8 1 8 0 8 1 8 0 8 0 8-2 8-1 8-1 8 1 8 3 8 5 8 4 8 3 8 0 8 0 8-2 8-1 8 0 8 1 8 1 8 0 8-1 8-1 8 0 8 2 8 4 8 5 8 4 8 3 8 0 8-2 8-4 8-4 8-3 8 0 8 1 8 3 8 4 8 3 8 4 8 4 8 2 8 2 8 0 8-1 8-1 8-1"/><path d="M2248 2591l8-1 8 1 8 1 8 0 8-1 8-2 8-2 8-1 8 1 8 1 8 2 8 0 8-1 8-1 8 0 8 0 8 0 8 0 8-1 8-2 8-1 8-1 8-1 8-1 8-2 8-3 8-5 8-6 8-6 8-5 8-4 8-3 8-3 8-2 8-1 8-2 8-1 8-2 8-1 8-3 8-4 8-4 8-5 8-5 8-6 8-4 8-5 8-4 8-3 8-4 8-4 8-3 8-2 8-1 8-2 8-2 8-2 8-1 8-1 8-1 8-1 8-1 8-1 8 0 8 0 8-1 8-1 8-2 8-2 8 0 8 3 8 5 8 6 8 7 8 6 8 6 8 9 8 10 8 11 8 12 8 10 8 8 8 8 8 9 8 11 8 12 8 13 8 12 8 9 8 7 8 4 8 2 8 1 8 2 8 6 8 11 8 14 8 15 8 11 8 6 8 4 8 3 8 4 8 5 8 6 8 5 8 5 8 4 8 2 8 2 8 1 8 1 8 0 8 1 8 1 8 3 8 4 8 4 8 3 8 0 8-3 8-4 8-2 8 0 8 2 8 3 8 3 8 2 8 1 8 1 8-1 8-1 8-1 8 0 8 2 8 4 8 3 8 3 8 0 8-3 8-4 8-4 8-2 8 1 8 5 8 6 8 5 8 4 8 2 8 0 8 0 8 1 8 1 8 1 8 2 8 0 8 0 8-1 8 0 8 0 8 0 8 0 8 0 8 0 8 0 8 0 8 1 8 2 8 2 8 1 8 1 8 0 8 0 8 1 8 0 8 1 8-1 8-2 8-2 8 0 8 2 8 4 8 5 8 3 8 1 8-1 8-1 8 0 8 2 8 2 8 2 8 1 8 0 8 2 8 2 8 3 8 1 8 1 8-1 8-1 8 0 8 0 8 0 8 0 8 0 8-1 8 0"/><path d="M2248 2613l8 2 8 2 8 1 8 0 8 1 8 1 8 1 8 1 8 2 8 1 8 0 8-2 8-3 8-4 8-5 8-4 8-3 8-1 8-1 8 0 8 0 8 1 8 1 8 0 8-1 8-2 8-4 8-5 8-5 8-3 8-3 8-3 8-2 8-2 8-3 8-2 8-3 8-4 8-4 8-6 8-6 8-5 8-3 8-2 8-2 8-2 8-4 8-4 8-5 8-4 8-2 8 0 8 1 8-1 8-2 8-3 8-5 8-5 8-4 8-2 8 0 8 1 8 1 8 1 8 0 8 1 8 1 8 1 8 1 8 0 8-1 8 0 8 0 8 3 8 4 8 4 8 6 8 5 8 7 8 6 8 6 8 6 8 5 8 5 8 5 8 6 8 6 8 5 8 5 8 3 8-2 8-5 8-7 8-4 8 3 8 14 8 23 8 26 8 24 8 19 8 13 8 9 8 8 8 7 8 6 8 6 8 5 8 5 8 3 8 2 8 2 8 3 8 3 8 6 8 6 8 7 8 7 8 4 8 3 8 2 8 0 8 0 8-1 8 0 8 1 8 0 8 0 8 0 8 1 8 2 8 3 8 3 8 1 8 0 8 1 8 2 8 3 8 4 8 3 8 2 8 0 8 0 8-1 8-3 8-2 8-3 8-1 8 1 8 1 8 1 8 1 8 0 8 0 8 1 8 1 8 0 8 1 8 0 8 0 8 0 8 0 8 1 8 1 8 3 8 3 8 2 8 3 8 2 8 3 8 3 8 2 8 1 8 0 8 0 8 1 8 2 8 2 8 2 8 0 8-2 8-4 8-4 8-3 8-1 8 1 8 1 8 2 8 3 8 4 8 3 8 4 8 3 8 1 8 1 8 0 8 0 8 0 8 0 8-1 8-1 8 0 8 1 8 2 8 1 8 1 8 0 8 0"/><path d="M2248 2648l8 1 8 1 8 1 8 1 8 1 8 1 8-1 8-1 8-2 8-3 8-4 8-3 8-2 8-2 8 1 8 0 8 1 8 0 8-2 8-2 8-2 8-2 8 0 8-1 8-2 8-3 8-4 8-4 8-3 8-3 8-3 8-3 8-4 8-4 8-3 8-4 8-5 8-3 8-3 8-3 8-3 8-3 8-3 8-4 8-4 8-4 8-3 8-1 8 0 8 0 8-1 8-1 8-3 8-2 8-3 8-3 8-3 8-3 8-2 8-2 8-1 8 0 8 0 8 1 8 0 8-1 8-2 8-3 8-1 8 0 8 2 8 3 8 1 8 1 8 0 8 0 8 1 8 2 8 4 8 5 8 6 8 6 8 5 8 6 8 5 8 5 8 3 8 2 8 1 8-1 8-5 8-11 8-15 8-16 8-8 8 5 8 19 8 26 8 28 8 23 8 18 8 11 8 9 8 8 8 8 8 9 8 10 8 9 8 9 8 9 8 8 8 7 8 6 8 5 8 4 8 4 8 4 8 4 8 4 8 5 8 5 8 5 8 3 8 2 8 1 8 3 8 3 8 5 8 4 8 3 8 0 8-1 8-1 8-1 8 1 8 2 8 4 8 4 8 4 8 4 8 4 8 4 8 3 8 1 8-1 8-2 8-2 8-1 8 0 8 2 8 2 8 2 8 2 8 3 8 4 8 3 8 3 8 0 8-2 8-3 8-3 8-3 8-2 8-2 8-1 8 0 8 1 8 3 8 3 8 4 8 3 8 4 8 3 8 3 8 3 8 2 8 1 8 0 8-2 8-2 8-3 8-1 8-1 8 1 8 2 8 2 8 1 8 3 8 2 8 1 8 1 8-1 8-1 8-1 8 0 8 1 8 0 8 0 8 0 8 1 8 2 8 4 8 4 8 4 8 2 8 0 8-1" stroke="#ff0000" stroke-width="12"/><path d="M2248 2678l8-2 8-1 8-1 8 1 8 1 8 1 8 0 8 1 8 0 8-1 8-1 8 0 8-1 8 0 8-1 8 0 8-2 8-2 8-2 8-3 8-3 8-3 8-3 8-2 8 0 8 1 8 2 8 1 8 1 8 0 8 0 8-2 8-3 8-4 8-5 8-3 8-1 8 0 8 1 8-1 8-5 8-7 8-9 8-7 8-4 8-1 8 0 8 1 8-1 8-3 8-5 8-5 8-6 8-6 8-5 8-3 8-2 8 0 8 0 8 0 8-1 8-3 8-3 8-5 8-6 8-5 8-5 8-3 8-2 8 1 8 1 8 1 8 0 8-1 8-3 8-3 8-3 8-4 8-5 8-5 8-5 8-5 8-5 8-5 8-5 8-7 8-8 8-11 8-11 8-10 8-8 8-4 8-2 8 2 8 4 8 7 8 13 8 21 8 27 8 30 8 30 8 30 8 26 8 23 8 20 8 17 8 15 8 13 8 12 8 10 8 9 8 6 8 5 8 4 8 3 8 5 8 6 8 7 8 8 8 8 8 5 8 3 8 3 8 2 8 2 8 2 8 2 8 3 8 3 8 3 8 2 8 1 8 1 8 3 8 3 8 3 8 3 8 3 8 2 8 1 8 0 8 0 8-1 8 0 8 0 8 1 8 2 8 3 8 2 8 2 8 1 8 1 8 1 8 1 8 2 8 2 8 0 8 0 8-2 8-1 8-1 8 0 8 1 8 2 8 2 8 2 8 1 8 0 8-1 8-1 8-1 8 0 8 1 8 1 8 3 8 4 8 3 8 3 8 2 8 1 8-1 8-1 8-1 8 0 8 2 8 4 8 6 8 4 8 3 8 2 8 2 8 1 8 1 8 0 8 0 8-1 8-1 8 0 8 1 8 0 8-1 8-1 8 0 8 2 8 3 8 4 8 5"/><path d="M2248 2693l8-2 8-1 8 1 8 1 8 1 8 0 8-1 8-1 8-1 8 0 8 1 8 1 8 2 8 2 8 3 8 3 8 2 8 3 8 1 8 1 8-1 8-3 8-4 8-6 8-6 8-4 8-2 8 0 8 2 8 2 8 1 8-2 8-3 8-3 8-1 8 0 8-1 8-4 8-7 8-8 8-7 8-5 8-2 8-1 8-1 8-2 8-2 8-2 8-2 8-1 8-2 8-3 8-2 8-2 8-2 8-3 8-3 8-3 8-2 8-1 8-2 8-2 8-4 8-4 8-4 8-2 8-1 8-1 8 0 8-3 8-3 8-5 8-4 8-4 8-3 8-3 8-4 8-4 8-4 8-5 8-4 8-4 8-3 8-3 8-3 8-2 8-4 8-4 8-6 8-8 8-8 8-10 8-9 8-6 8-3 8 2 8 9 8 19 8 26 8 29 8 29 8 28 8 26 8 23 8 21 8 18 8 16 8 14 8 14 8 13 8 11 8 10 8 10 8 8 8 7 8 4 8 3 8 0 8-1 8 0 8 2 8 3 8 4 8 5 8 5 8 5 8 4 8 2 8 2 8 2 8 2 8 2 8 2 8 2 8 2 8 1 8 1 8 0 8-1 8 0 8 1 8 2 8 3 8 3 8 2 8 0 8 0 8-1 8 2 8 2 8 3 8 3 8 1 8-2 8-3 8-4 8-2 8 0 8 3 8 4 8 7 8 7 8 6 8 5 8 3 8 2 8 0 8-1 8 0 8 1 8 1 8 0 8 0 8 1 8 1 8 2 8 2 8 1 8 0 8 0 8-1 8-2 8-1 8 0 8 1 8 0 8 0 8 0 8 1 8 0 8 0 8 2 8 2 8 3 8 2 8 1 8 0 8 0 8 0 8 1 8 1 8 2 8 1 8 2 8 0 8 1 8 0"/><path d="M2248 2716l8 2 8 3 8 3 8 2 8 1 8 0 8-1 8 0 8 1 8 1 8 2 8 1 8 1 8 0 8-2 8-2 8-1 8 0 8 1 8 0 8-1 8-1 8-1 8 0 8-1 8-1 8-2 8-3 8-4 8-4 8-4 8-3 8-3 8-2 8-2 8-2 8-1 8-1 8-1 8-1 8-2 8-2 8-3 8-3 8-3 8-4 8-3 8-3 8-2 8-2 8-3 8-2 8-3 8-3 8-3 8-2 8-1 8-1 8 1 8 0 8 0 8-2 8-3 8-4 8-4 8-4 8-4 8-4 8-5 8-5 8-3 8-1 8 0 8-1 8-1 8-2 8-2 8-4 8-3 8-3 8-4 8-7 8-8 8-10 8-8 8-9 8-7 8-7 8-6 8-4 8-4 8-5 8-4 8-3 8-1 8 3 8 9 8 18 8 25 8 28 8 27 8 25 8 21 8 19 8 18 8 17 8 17 8 15 8 14 8 12 8 12 8 12 8 10 8 10 8 9 8 8 8 6 8 4 8 3 8 2 8 2 8 3 8 4 8 3 8 2 8 1 8 1 8 3 8 3 8 4 8 3 8 2 8 0 8-1 8-2 8-3 8-2 8 1 8 3 8 5 8 5 8 3 8 1 8-1 8-1 8-1 8 1 8 2 8 2 8 2 8 3 8 3 8 4 8 3 8 2 8 1 8-1 8-2 8-2 8-1 8 1 8 3 8 4 8 4 8 3 8 2 8 1 8 1 8 0 8 0 8-1 8-1 8-2 8 0 8 1 8 3 8 3 8 1 8 1 8-1 8-2 8-3 8-2 8 0 8 2 8 3 8 4 8 4 8 5 8 4 8 3 8 1 8 0 8-1 8-1 8-1 8 1 8 2 8 0 8-1 8-1 8-1 8 0 8 3 8 4 8 3 8 2"/><path d="M2248 2752l8 1 8 0 8-1 8-2 8-1 8 0 8 2 8 2 8 3 8 1 8 1 8-1 8-2 8-1 8-1 8 1 8 1 8 0 8 1 8-1 8-1 8-3 8-3 8-2 8-3 8-2 8-2 8-1 8-2 8-1 8-1 8-1 8 0 8 0 8-1 8 0 8-1 8-1 8 0 8-1 8-1 8-1 8-3 8-2 8-2 8-1 8-1 8-2 8-2 8-4 8-3 8-3 8-3 8-1 8-3 8-3 8-5 8-4 8-5 8-3 8-3 8-2 8-4 8-6 8-6 8-4 8-2 8 1 8 3 8 3 8 2 8-1 8-3 8-6 8-6 8-6 8-6 8-4 8-4 8-4 8-4 8-5 8-5 8-5 8-5 8-6 8-7 8-7 8-7 8-7 8-7 8-6 8-6 8-4 8-2 8 2 8 7 8 16 8 23 8 27 8 28 8 27 8 25 8 22 8 20 8 18 8 14 8 13 8 12 8 10 8 10 8 9 8 9 8 7 8 6 8 6 8 4 8 4 8 5 8 4 8 5 8 3 8 4 8 4 8 5 8 6 8 6 8 5 8 3 8 2 8-1 8-1 8-1 8 0 8 2 8 2 8 3 8 3 8 3 8 4 8 4 8 2 8 1 8 1 8 0 8 0 8-1 8-2 8-1 8-2 8 0 8 0 8 2 8 3 8 3 8 4 8 3 8 1 8 1 8-1 8 1 8 2 8 3 8 2 8 1 8 0 8-1 8-1 8 0 8 0 8 1 8 2 8 1 8 2 8 2 8 1 8 1 8-1 8-2 8-1 8 1 8 3 8 5 8 7 8 6 8 4 8 3 8 0 8-2 8-3 8-4 8-2 8-2 8-1 8 0 8 1 8 2 8 1 8 2 8 2 8 1 8 0 8 1 8 0 8 1 8 0 8 0"/><path d="M2248 2793l8-3 8-3 8-2 8-2 8 0 8 0 8 2 8 0 8 0 8 0 8 1 8 1 8 3 8 1 8-1 8-1 8-2 8-1 8-1 8 0 8-1 8-2 8-2 8-1 8-2 8 0 8-1 8-1 8 0 8 0 8 1 8 2 8 0 8-1 8-2 8-3 8-2 8-3 8-1 8 1 8 1 8 1 8 0 8-2 8-4 8-4 8-5 8-6 8-6 8-6 8-5 8-4 8-3 8-1 8-1 8-1 8-1 8 0 8 0 8 0 8-1 8-2 8-2 8-2 8-2 8-4 8-4 8-4 8-3 8-2 8 0 8-1 8-2 8-3 8-5 8-4 8-4 8-3 8-3 8-4 8-6 8-8 8-9 8-10 8-10 8-10 8-10 8-9 8-9 8-8 8-6 8-4 8-4 8-2 8-1 8 1 8 4 8 14 8 22 8 29 8 30 8 29 8 26 8 23 8 19 8 18 8 16 8 15 8 14 8 12 8 10 8 9 8 8 8 7 8 6 8 6 8 6 8 4 8 4 8 3 8 2 8 1 8 2 8 1 8 2 8 1 8 3 8 4 8 6 8 7 8 7 8 5 8 2 8 0 8-2 8-2 8 0 8 2 8 5 8 5 8 3 8 2 8-1 8-2 8-1 8-1 8 1 8 3 8 2 8 2 8 1 8 1 8 1 8 1 8 2 8 2 8 1 8 0 8-1 8-1 8-1 8 0 8 2 8 3 8 3 8 3 8 2 8 1 8 0 8-1 8 1 8 2 8 3 8 4 8 3 8 2 8 0 8-2 8-1 8 0 8 2 8 2 8 1 8 2 8 0 8 1 8 1 8 1 8 1 8 1 8 1 8 2 8 2 8 2 8 3 8 3 8 2 8 2 8 1 8 0 8-1 8 0 8-1 8 0 8-2 8-1 8 1"/><path d="M2248 2805l8 0 8 1 8 4 8 4 8 4 8 3 8 1 8-1 8-2 8-2 8 0 8 0 8 1 8 1 8 2 8 1 8 0 8-1 8-1 8-2 8-2 8-3 8-3 8-1 8-1 8-1 8-1 8-2 8-2 8-2 8-3 8-2 8-1 8-1 8 1 8 1 8 1 8-1 8-2 8-4 8-2 8-1 8 1 8 1 8 0 8-2 8-3 8-4 8-3 8-3 8-2 8-2 8-2 8-3 8-2 8-2 8-3 8-2 8-3 8-3 8-2 8 0 8 0 8-1 8 0 8-2 8-3 8-3 8-2 8-3 8-3 8-3 8-4 8-4 8-5 8-4 8-4 8-5 8-6 8-7 8-7 8-6 8-5 8-7 8-8 8-11 8-12 8-12 8-9 8-7 8-5 8-4 8-3 8-3 8-3 8-1 8 1 8 10 8 19 8 26 8 29 8 30 8 30 8 27 8 24 8 21 8 17 8 14 8 13 8 13 8 11 8 10 8 9 8 7 8 5 8 4 8 4 8 4 8 5 8 5 8 4 8 3 8 3 8 3 8 4 8 3 8 4 8 4 8 3 8 2 8 2 8 0 8 1 8 0 8 1 8 1 8 1 8 1 8 2 8 2 8 3 8 3 8 3 8 2 8 3 8 2 8 2 8 2 8 0 8-1 8 0 8-1 8 0 8-1 8-1 8-1 8-1 8 0 8 1 8 2 8 1 8 1 8 0 8 2 8 2 8 3 8 3 8 1 8 1 8 1 8 0 8 1 8 1 8 1 8 1 8 2 8 2 8 1 8 0 8 0 8 0 8 0 8 0 8 1 8 2 8 4 8 4 8 4 8 4 8 3 8 3 8 2 8 2 8 2 8 0 8-2 8-4 8-4 8-5 8-3 8-2 8 0 8 2 8 2 8 2 8 3 8 2"/><path d="M2248 2841l8 1 8 2 8 1 8 0 8 1 8 0 8 0 8 0 8 0 8 0 8 1 8 1 8 1 8 0 8-2 8-3 8-3 8-3 8-3 8-1 8 0 8 2 8 3 8 3 8 2 8 1 8 0 8 0 8-2 8-1 8-2 8-2 8-2 8 0 8 2 8 2 8 2 8 1 8-1 8-3 8-3 8-4 8-2 8-3 8-3 8-3 8-2 8-3 8-2 8-2 8-2 8-3 8-2 8 0 8-1 8 0 8-2 8-2 8-2 8-2 8-2 8-2 8-4 8-5 8-4 8-3 8-2 8-2 8-2 8-1 8-1 8 0 8 0 8-3 8-4 8-6 8-6 8-6 8-5 8-5 8-7 8-6 8-7 8-6 8-5 8-8 8-9 8-12 8-14 8-14 8-12 8-11 8-7 8-6 8-3 8 0 8 2 8 9 8 18 8 26 8 30 8 32 8 30 8 28 8 25 8 21 8 18 8 16 8 13 8 10 8 8 8 7 8 6 8 6 8 6 8 8 8 8 8 8 8 6 8 5 8 4 8 3 8 2 8 2 8 1 8 2 8 1 8 1 8 1 8 1 8 0 8 0 8 2 8 4 8 5 8 4 8 2 8 2 8 0 8 0 8 1 8 1 8 2 8 2 8 2 8 1 8 0 8 0 8 0 8 2 8 2 8 2 8 1 8 2 8 1 8 2 8 2 8 3 8 3 8 2 8 1 8 1 8 0 8 0 8-1 8-1 8-1 8-2 8-2 8-2 8-1 8 0 8 1 8 1 8 1 8 1 8 2 8 4 8 4 8 5 8 3 8 0 8-1 8-2 8 0 8 1 8 2 8 3 8 5 8 5 8 5 8 2 8 2 8 0 8 0 8 1 8 0 8 1 8 1 8 2 8 2 8 1 8 1 8 1 8 1 8 0 8 0"/><path d="M2248 2867l8 2 8 3 8 2 8 0 8 0 8-1 8-1 8-1 8 0 8-1 8 0 8 0 8 1 8 1 8 0 8-1 8-1 8 0 8 1 8 2 8 1 8 0 8-1 8-1 8-1 8 0 8 1 8 1 8 2 8 1 8-1 8-3 8-4 8-4 8-1 8 0 8 0 8-1 8-2 8-2 8-1 8 0 8-1 8 0 8-1 8-1 8-4 8-5 8-5 8-6 8-3 8-1 8 2 8 4 8 3 8 1 8-1 8-2 8-1 8-1 8 0 8-2 8-2 8-4 8-5 8-6 8-6 8-6 8-6 8-4 8-3 8-3 8-2 8-1 8-1 8-2 8-2 8-3 8-4 8-6 8-7 8-9 8-9 8-8 8-8 8-7 8-8 8-9 8-11 8-12 8-13 8-11 8-9 8-7 8-3 8 1 8 3 8 9 8 16 8 22 8 24 8 24 8 26 8 25 8 24 8 23 8 19 8 16 8 15 8 14 8 14 8 14 8 13 8 10 8 7 8 5 8 3 8 3 8 4 8 5 8 6 8 4 8 3 8 2 8 2 8 3 8 6 8 5 8 5 8 3 8 1 8-1 8-2 8-1 8 1 8 2 8 2 8 2 8-1 8-1 8-2 8 0 8 1 8 2 8 2 8 2 8 2 8 1 8 1 8 2 8 1 8 0 8 1 8 0 8 1 8 2 8 2 8 3 8 2 8 2 8 1 8 3 8 3 8 3 8 4 8 3 8 1 8 1 8 0 8 0 8-1 8-2 8-1 8-1 8 0 8 1 8 2 8 3 8 2 8 1 8 1 8 1 8 1 8 0 8 0 8 0 8 0 8 1 8 1 8 1 8 1 8 0 8 1 8 1 8 0 8-1 8-2 8 0 8 0 8 3 8 4 8 3 8 3 8 0 8-1 8-2 8 0"/><path d="M2248 2901l8 1 8 1 8 0 8-1 8 0 8 0 8 0 8 0 8-1 8-1 8-2 8-2 8-1 8-1 8 1 8 2 8 1 8 1 8 1 8 0 8 0 8 1 8 3 8 2 8 2 8 0 8-2 8-2 8-2 8-1 8-2 8-1 8-3 8-3 8-2 8 1 8 1 8 1 8 0 8-1 8-1 8 0 8 1 8 2 8 2 8 2 8 0 8-2 8-4 8-5 8-5 8-4 8-3 8-3 8-3 8-3 8-4 8-3 8-3 8-2 8-1 8 1 8 1 8 0 8-1 8-2 8-4 8-3 8-3 8-3 8-2 8-2 8-3 8-5 8-4 8-5 8-3 8-2 8-2 8-4 8-6 8-8 8-9 8-9 8-9 8-8 8-10 8-10 8-12 8-12 8-12 8-10 8-10 8-8 8-6 8-5 8 0 8 5 8 16 8 24 8 30 8 31 8 31 8 27 8 25 8 21 8 20 8 19 8 17 8 14 8 10 8 7 8 4 8 5 8 5 8 7 8 9 8 8 8 7 8 6 8 4 8 3 8 2 8 0 8-1 8-1 8 0 8 1 8 2 8 3 8 2 8 2 8 1 8 1 8 0 8 2 8 3 8 6 8 5 8 4 8 2 8 0 8 0 8 0 8-1 8-1 8-1 8-1 8-1 8 0 8 1 8 1 8 3 8 2 8 2 8 2 8 2 8 0 8-1 8-1 8 1 8 1 8 2 8 3 8 2 8 3 8 2 8 2 8 2 8 0 8 0 8-1 8 0 8 1 8 2 8 3 8 2 8 1 8-1 8-1 8-1 8 0 8 3 8 4 8 5 8 4 8 2 8 0 8-1 8-3 8-3 8-2 8 0 8 1 8 0 8 1 8 2 8 3 8 4 8 3 8 2 8 2 8 1 8 0 8 1 8 1 8 1"/><path d="M2248 2929l8-1 8-2 8-2 8-3 8-1 8 1 8 1 8 2 8 1 8 0 8-2 8-2 8-1 8 1 8 4 8 4 8 4 8 3 8-1 8-2 8-2 8-3 8 0 8 1 8 1 8 2 8 2 8 1 8 0 8 0 8 1 8 0 8-1 8-2 8-2 8-3 8-1 8 0 8 1 8 0 8-1 8-2 8-2 8-3 8-2 8-1 8 0 8 0 8 1 8 0 8-2 8-2 8-4 8-4 8-3 8-3 8-2 8-1 8 0 8 1 8 0 8-2 8-3 8-4 8-3 8-2 8 0 8 0 8-1 8-3 8-4 8-5 8-6 8-5 8-5 8-5 8-4 8-5 8-5 8-6 8-8 8-9 8-10 8-10 8-9 8-10 8-10 8-11 8-10 8-10 8-10 8-10 8-11 8-8 8-7 8-2 8 2 8 6 8 15 8 20 8 26 8 27 8 28 8 26 8 24 8 20 8 18 8 15 8 14 8 13 8 12 8 11 8 11 8 11 8 11 8 9 8 7 8 5 8 4 8 2 8 1 8 1 8 4 8 5 8 8 8 6 8 4 8 2 8 0 8-2 8-1 8-1 8 0 8 2 8 3 8 5 8 4 8 3 8 1 8 0 8-1 8 1 8 0 8 1 8 1 8 1 8 2 8 2 8 4 8 4 8 3 8 3 8 1 8-1 8 0 8 0 8 1 8 2 8 2 8 1 8 0 8 0 8 0 8 0 8 1 8 3 8 5 8 4 8 2 8 0 8-2 8-3 8-3 8-2 8-1 8 1 8 1 8 2 8 1 8 1 8 1 8 2 8 2 8 3 8 4 8 3 8 2 8 1 8 0 8 0 8 0 8 1 8 1 8 1 8 1 8 2 8 3 8 4 8 3 8 2 8 0 8-2 8-1 8 0 8 1 8 2 8 3"/><path d="M2248 2950l8 4 8 4 8 3 8 2 8 1 8 0 8-1 8-3 8-2 8-2 8-1 8 1 8 2 8 2 8 1 8 1 8 2 8 1 8 1 8 1 8-1 8-2 8-2 8-1 8 0 8 0 8-1 8-2 8-3 8-3 8-3 8-1 8 1 8 2 8 2 8 0 8-1 8-3 8-2 8 0 8 1 8 0 8 0 8-2 8 0 8 0 8 1 8 1 8 1 8-1 8-2 8-2 8-2 8-2 8 0 8-2 8-2 8-3 8-3 8-3 8-1 8-1 8 0 8 1 8 1 8 0 8-2 8-4 8-5 8-4 8-4 8-2 8-4 8-4 8-5 8-6 8-6 8-7 8-6 8-5 8-5 8-5 8-8 8-9 8-11 8-12 8-10 8-10 8-9 8-9 8-8 8-8 8-9 8-10 8-9 8-7 8-4 8 0 8 10 8 18 8 24 8 27 8 27 8 27 8 26 8 24 8 22 8 19 8 17 8 14 8 13 8 12 8 11 8 9 8 6 8 4 8 2 8 1 8 2 8 4 8 6 8 8 8 7 8 6 8 3 8 2 8 2 8 2 8 4 8 3 8 2 8 1 8 0 8 0 8 0 8 1 8 2 8 1 8 1 8 2 8 0 8 1 8 0 8 1 8 0 8 1 8 0 8 1 8 1 8 0 8 0 8 1 8 2 8 3 8 3 8 3 8 3 8 2 8 3 8 4 8 4 8 4 8 2 8 0 8 0 8-1 8 0 8 0 8 1 8 0 8 0 8 1 8 2 8 2 8 2 8 2 8 2 8 1 8 2 8 2 8 2 8 2 8 0 8-3 8-3 8-2 8-2 8 0 8-2 8-1 8-1 8 0 8 1 8 4 8 5 8 6 8 5 8 3 8 2 8 0 8 1 8 2 8 3 8 4 8 3 8 2 8 1"/><path d="M2248 2977l8 1 8 2 8 1 8 1 8 0 8 0 8 0 8 0 8 0 8 1 8 3 8 4 8 4 8 3 8 2 8 2 8 0 8 0 8-1 8-2 8-4 8-3 8-3 8-2 8 0 8 2 8 3 8 2 8 2 8 0 8-1 8-1 8-2 8-1 8-1 8 0 8 0 8 0 8-1 8-1 8 0 8-1 8-1 8-1 8-1 8 0 8 0 8-1 8-1 8-1 8-1 8 1 8 1 8 1 8 0 8-1 8-3 8-3 8-5 8-5 8-3 8-1 8 1 8 3 8 2 8 2 8 1 8-1 8-2 8-3 8-4 8-4 8-5 8-6 8-6 8-6 8-6 8-5 8-6 8-5 8-7 8-9 8-9 8-10 8-10 8-12 8-12 8-13 8-13 8-13 8-13 8-12 8-10 8-9 8-7 8-4 8-1 8 2 8 11 8 19 8 25 8 27 8 28 8 27 8 25 8 22 8 20 8 18 8 16 8 13 8 12 8 10 8 8 8 8 8 8 8 7 8 7 8 5 8 3 8 2 8 4 8 5 8 7 8 8 8 6 8 4 8 1 8 0 8 0 8 0 8 1 8 3 8 4 8 3 8 2 8 1 8-1 8-2 8-1 8-1 8 1 8 2 8 3 8 5 8 5 8 4 8 3 8 2 8 0 8 0 8 1 8 2 8 2 8 2 8 1 8 0 8-2 8-3 8-4 8-2 8 0 8 1 8 2 8 3 8 2 8 1 8 1 8 0 8 1 8 2 8 4 8 4 8 3 8 1 8 1 8-1 8-1 8 0 8 0 8 1 8 0 8 0 8 0 8 1 8 1 8 2 8 1 8 0 8 1 8 1 8 2 8 3 8 2 8 2 8 1 8 0 8 0 8 2 8 1 8 3 8 2 8 3 8 2 8 1 8 1 8-1 8-1"/><path d="M2248 3014l8-1 8-2 8-2 8-2 8 0 8 1 8 1 8 1 8 1 8 2 8 1 8 2 8 2 8 0 8 1 8 1 8 2 8 2 8 0 8 0 8-2 8-2 8-2 8-1 8-1 8 0 8 1 8 1 8 0 8 1 8 1 8 1 8 0 8-1 8-1 8 0 8 0 8 1 8 2 8 1 8 1 8-1 8-1 8-1 8 0 8 1 8 1 8 0 8-1 8-2 8-1 8-1 8 0 8 0 8 0 8-2 8-2 8-3 8-2 8-2 8-2 8-2 8-4 8-5 8-4 8-3 8 0 8 1 8 3 8 1 8-1 8-3 8-4 8-7 8-8 8-8 8-8 8-7 8-6 8-4 8-6 8-6 8-9 8-11 8-11 8-11 8-11 8-13 8-14 8-14 8-14 8-10 8-8 8-5 8-4 8-3 8-2 8 0 8 6 8 15 8 22 8 27 8 28 8 27 8 25 8 23 8 21 8 18 8 14 8 10 8 7 8 6 8 7 8 9 8 8 8 8 8 7 8 6 8 5 8 4 8 4 8 3 8 2 8 2 8 2 8 3 8 4 8 5 8 5 8 4 8 3 8 2 8 4 8 4 8 5 8 5 8 4 8 2 8 0 8-1 8-1 8-1 8 1 8 2 8 3 8 3 8 2 8 1 8 2 8 1 8 1 8 1 8 1 8 3 8 3 8 3 8 2 8 0 8 0 8 0 8 0 8 0 8 1 8 0 8-2 8-2 8-2 8-1 8 0 8 1 8 0 8 1 8 1 8 3 8 3 8 5 8 4 8 4 8 2 8 2 8 0 8 1 8 2 8 1 8 0 8 1 8 1 8 1 8 0 8 1 8-1 8-2 8-2 8-2 8-1 8 1 8 2 8 4 8 4 8 3 8 1 8-1 8-2 8-1 8-1 8 0 8 2"/><path d="M2248 3042l8 0 8-1 8-3 8-1 8-1 8 0 8 2 8 1 8 2 8 1 8 0 8 1 8-1 8-1 8-1 8 0 8 2 8 3 8 3 8 2 8 0 8-1 8-3 8-2 8-1 8-1 8 1 8 1 8 1 8 3 8 3 8 4 8 2 8 0 8-3 8-4 8-4 8-3 8-1 8 1 8 0 8-1 8-1 8-2 8 0 8 0 8 0 8 0 8-1 8-2 8-1 8 0 8 1 8 2 8 2 8 1 8 1 8 1 8 1 8 0 8 1 8-1 8-2 8-4 8-6 8-6 8-7 8-4 8-3 8 0 8 1 8 0 8-2 8-3 8-5 8-5 8-5 8-4 8-4 8-5 8-6 8-8 8-9 8-11 8-12 8-12 8-13 8-13 8-13 8-12 8-10 8-10 8-8 8-9 8-8 8-7 8-5 8-1 8 4 8 14 8 21 8 24 8 24 8 24 8 22 8 21 8 21 8 21 8 19 8 17 8 14 8 12 8 10 8 8 8 6 8 6 8 6 8 5 8 5 8 5 8 4 8 3 8 3 8 4 8 5 8 6 8 5 8 3 8 1 8 0 8 1 8 3 8 4 8 3 8 2 8 0 8-2 8-2 8-1 8 1 8 1 8 2 8 2 8 2 8 2 8 1 8 1 8 0 8 1 8 1 8 1 8 2 8 2 8 2 8 2 8 1 8 1 8 1 8 0 8 0 8 1 8 2 8 3 8 4 8 3 8 2 8 2 8 2 8 1 8 2 8 1 8 1 8-1 8-1 8-1 8 1 8 2 8 4 8 4 8 3 8 1 8-1 8-2 8-2 8-1 8 1 8 3 8 3 8 3 8 2 8 1 8-1 8 0 8-1 8 0 8 1 8 3 8 4 8 3 8 0 8-1 8-2 8-1 8-1 8 2 8 4 8 3"/><path d="M2248 3054l8 4 8 3 8 4 8 3 8 2 8 3 8 1 8 0 8-1 8-1 8-2 8-1 8 0 8 1 8 2 8 3 8 2 8 2 8 1 8 0 8 0 8-1 8 1 8 1 8 3 8 2 8 2 8 1 8-1 8-1 8-1 8 0 8 1 8 1 8 2 8 1 8 0 8-1 8-2 8-1 8-1 8-1 8-1 8-1 8-1 8 0 8 1 8 1 8 1 8 0 8-1 8-1 8-1 8 1 8 0 8 1 8-1 8-1 8-2 8-2 8-2 8-4 8-4 8-5 8-5 8-2 8-1 8 0 8-1 8 0 8-1 8-3 8-4 8-6 8-7 8-6 8-6 8-5 8-4 8-5 8-6 8-9 8-10 8-11 8-11 8-12 8-11 8-12 8-12 8-13 8-14 8-14 8-13 8-12 8-11 8-7 8-4 8 1 8 8 8 18 8 24 8 28 8 29 8 26 8 24 8 21 8 18 8 16 8 14 8 14 8 13 8 11 8 10 8 9 8 7 8 7 8 6 8 6 8 6 8 5 8 5 8 5 8 5 8 4 8 3 8 2 8 1 8 1 8 1 8 2 8 3 8 4 8 4 8 3 8 2 8 0 8 0 8 0 8 0 8 3 8 3 8 4 8 2 8 0 8 0 8 0 8 1 8 3 8 3 8 2 8 2 8 0 8 0 8 0 8 1 8 0 8 1 8 0 8 0 8 0 8-1 8 1 8 1 8 2 8 3 8 3 8 2 8 1 8 1 8 2 8 3 8 4 8 5 8 3 8 1 8 0 8-1 8-1 8 0 8 0 8 0 8-1 8 1 8 1 8 3 8 3 8 2 8 1 8 0 8-1 8-1 8-2 8-1 8 0 8 2 8 4 8 4 8 4 8 2 8 2 8 2 8 2 8 1 8 1 8-1 8-2 8-1"/><path d="M2248 3087l8 5 8 5 8 3 8 1 8-1 8-1 8 0 8 1 8 2 8 2 8 1 8 0 8 0 8 0 8 2 8 4 8 4 8 5 8 3 8 1 8-2 8-5 8-5 8-3 8-1 8 3 8 3 8 2 8 1 8 0 8-1 8-1 8-1 8-1 8-1 8-1 8-2 8-2 8-1 8 0 8 1 8 1 8 0 8-1 8-1 8 0 8 0 8 1 8 1 8 0 8 1 8 1 8 3 8 3 8 1 8 0 8-3 8-5 8-5 8-4 8-4 8-2 8-3 8-1 8-1 8 0 8 1 8 0 8-1 8-2 8-4 8-6 8-6 8-5 8-5 8-5 8-4 8-4 8-5 8-6 8-8 8-8 8-10 8-10 8-11 8-10 8-10 8-11 8-11 8-11 8-13 8-13 8-14 8-14 8-13 8-11 8-7 8-2 8 2 8 10 8 18 8 23 8 27 8 28 8 29 8 26 8 22 8 20 8 16 8 14 8 12 8 10 8 8 8 9 8 9 8 10 8 9 8 8 8 6 8 6 8 5 8 6 8 5 8 4 8 3 8 2 8 1 8 1 8 2 8 3 8 3 8 1 8 2 8 0 8 0 8 0 8 2 8 3 8 4 8 4 8 3 8 0 8-1 8-1 8 1 8 1 8 2 8 3 8 2 8 1 8 1 8 1 8-1 8 0 8 1 8 2 8 3 8 2 8 1 8 3 8 3 8 4 8 3 8 3 8 0 8-3 8-3 8-3 8-2 8 1 8 2 8 4 8 5 8 5 8 6 8 4 8 2 8 1 8 0 8 0 8-1 8-1 8-1 8-1 8 0 8 3 8 3 8 2 8 0 8-3 8-5 8-6 8-3 8-1 8 2 8 3 8 5 8 4 8 4 8 3 8 3 8 3 8 2 8 2 8 0 8-1 8-2"/><path d="M2248 3114l8-2 8-2 8-1 8-1 8 0 8 1 8 2 8 2 8 2 8 2 8 2 8 1 8 1 8 0 8 0 8 1 8 3 8 3 8 3 8 2 8 1 8 1 8 0 8 0 8-1 8 1 8 0 8 1 8 2 8 3 8 4 8 3 8 2 8 0 8-2 8-2 8-1 8 0 8 0 8 0 8-1 8-1 8-2 8-1 8-1 8 0 8 0 8 1 8 0 8 0 8-1 8 0 8 1 8 0 8 0 8-1 8 0 8 0 8-1 8-1 8-3 8-4 8-4 8-3 8-2 8 0 8 1 8 1 8 0 8-1 8-3 8-5 8-6 8-5 8-5 8-4 8-4 8-5 8-5 8-6 8-7 8-7 8-9 8-10 8-11 8-13 8-13 8-13 8-14 8-14 8-15 8-15 8-16 8-15 8-13 8-9 8-4 8-1 8 4 8 11 8 18 8 23 8 24 8 26 8 25 8 24 8 24 8 23 8 21 8 17 8 14 8 10 8 9 8 7 8 8 8 7 8 7 8 6 8 5 8 3 8 3 8 2 8 3 8 3 8 5 8 6 8 6 8 4 8 2 8 0 8 0 8 0 8 1 8 3 8 3 8 4 8 2 8 2 8 2 8 3 8 2 8 4 8 3 8 2 8 1 8 2 8 1 8 0 8 0 8 0 8 0 8-1 8 1 8 2 8 3 8 4 8 3 8 3 8 3 8 2 8 2 8 0 8-1 8-2 8-1 8-1 8 0 8 1 8 3 8 2 8 4 8 2 8 2 8 0 8-1 8-2 8-1 8-1 8 1 8 3 8 5 8 5 8 3 8 2 8 1 8 0 8 1 8 2 8 2 8 3 8 1 8 0 8-1 8 0 8 0 8 1 8 2 8 2 8 1 8 0 8-2 8-2 8-3 8 0 8 1 8 4 8 3"/><path d="M2248 3148l8 4 8 3 8 3 8 0 8 0 8-2 8 0 8 0 8 1 8 1 8 0 8-1 8-1 8 0 8-1 8 0 8-1 8 1 8 1 8 3 8 3 8 2 8 2 8 0 8 1 8 1 8 1 8 2 8 1 8 2 8 0 8-2 8-2 8-2 8-2 8 0 8 1 8 0 8 1 8 0 8 1 8 1 8 1 8 1 8-1 8 0 8-1 8-1 8 1 8 0 8 1 8 1 8 0 8-1 8-2 8-1 8 0 8 2 8 2 8 2 8 0 8-2 8-4 8-3 8-3 8-2 8-1 8-1 8-1 8-2 8-2 8-3 8-3 8-3 8-4 8-4 8-3 8-4 8-4 8-5 8-7 8-9 8-10 8-12 8-14 8-14 8-15 8-15 8-15 8-14 8-14 8-14 8-13 8-13 8-12 8-10 8-7 8-4 8-1 8 8 8 16 8 25 8 29 8 30 8 28 8 25 8 20 8 17 8 14 8 13 8 12 8 10 8 11 8 10 8 11 8 11 8 10 8 8 8 7 8 5 8 4 8 4 8 4 8 2 8 1 8 0 8-1 8 0 8 2 8 5 8 6 8 6 8 5 8 1 8 0 8-1 8 0 8 3 8 4 8 5 8 5 8 4 8 4 8 3 8 1 8-2 8-2 8-3 8-1 8-1 8 1 8 2 8 2 8 2 8 2 8 1 8 1 8 0 8 0 8-1 8-1 8-1 8 0 8-1 8 0 8 1 8 3 8 5 8 6 8 5 8 4 8 2 8 0 8-1 8-1 8-1 8 0 8 1 8 0 8 0 8 0 8 0 8 1 8 0 8-1 8 0 8 0 8 1 8 0 8 2 8 2 8 2 8 2 8 2 8 1 8 1 8 1 8 2 8 2 8 4 8 3 8 3 8 3 8 2 8 1 8 0 8 0"/><path d="M2248 3188l8 1 8 2 8 1 8 2 8 1 8 0 8 0 8-1 8-1 8-1 8-1 8-1 8-1 8 0 8-1 8 1 8 0 8 0 8 0 8 1 8 0 8 1 8 1 8 2 8 1 8 2 8 2 8 1 8 2 8 1 8 0 8-1 8-1 8-1 8 0 8 0 8 1 8 0 8-2 8-2 8-1 8 1 8 1 8 2 8 1 8 1 8 0 8 1 8 1 8 2 8 1 8 0 8-2 8-3 8-1 8 0 8 1 8 1 8 0 8-1 8-1 8-1 8 0 8-1 8-1 8-2 8-2 8-1 8-1 8-1 8-2 8-3 8-5 8-5 8-5 8-5 8-5 8-5 8-6 8-7 8-8 8-9 8-9 8-9 8-10 8-12 8-12 8-14 8-13 8-14 8-14 8-16 8-16 8-18 8-16 8-13 8-10 8-6 8-1 8 6 8 16 8 24 8 27 8 28 8 27 8 25 8 22 8 21 8 18 8 17 8 16 8 14 8 12 8 10 8 7 8 7 8 6 8 7 8 6 8 5 8 4 8 3 8 4 8 5 8 5 8 5 8 3 8 2 8 1 8 2 8 3 8 3 8 4 8 2 8 2 8 3 8 3 8 3 8 1 8 1 8 2 8 1 8 2 8 2 8 1 8-1 8-1 8-1 8 1 8 2 8 2 8 2 8 2 8 2 8 2 8 1 8-1 8-2 8-2 8-1 8 2 8 2 8 2 8 2 8 1 8 1 8 2 8 3 8 4 8 4 8 4 8 2 8 0 8-2 8-4 8-3 8-1 8 2 8 2 8 2 8 2 8 1 8 1 8 0 8 1 8 1 8 1 8 2 8 2 8 1 8 2 8 1 8 0 8-2 8-2 8-3 8-3 8-1 8 2 8 3 8 4 8 4 8 3 8 1 8 0 8 0 8 2"/><path d="M2248 3198l8 3 8 2 8 2 8 2 8 1 8 0 8-1 8 0 8 1 8 3 8 4 8 3 8 3 8 2 8 0 8-1 8-3 8-2 8-3 8-1 8 1 8 3 8 5 8 4 8 3 8 1 8-1 8-1 8-1 8 0 8 1 8 1 8 1 8 0 8 0 8 0 8 0 8 1 8 1 8 2 8 1 8 0 8-2 8-3 8-4 8-2 8-2 8 0 8 0 8 1 8 1 8 0 8-1 8-1 8-1 8 0 8 1 8 2 8 2 8 2 8 1 8 1 8 0 8-2 8-3 8-5 8-5 8-6 8-4 8-3 8-2 8 0 8-1 8-2 8-4 8-5 8-6 8-8 8-9 8-10 8-10 8-9 8-9 8-11 8-12 8-13 8-15 8-14 8-13 8-10 8-9 8-11 8-12 8-14 8-15 8-13 8-11 8-7 8-3 8 3 8 12 8 19 8 24 8 28 8 29 8 29 8 27 8 26 8 22 8 20 8 15 8 12 8 8 8 7 8 6 8 6 8 5 8 4 8 4 8 5 8 5 8 6 8 5 8 5 8 6 8 6 8 6 8 6 8 5 8 3 8 3 8 2 8 2 8 3 8 2 8 2 8 2 8 2 8 2 8 2 8 1 8 1 8 0 8 1 8 0 8 2 8 2 8 2 8 3 8 2 8 1 8 1 8 1 8-1 8-1 8-3 8-3 8-2 8-1 8 0 8 2 8 3 8 3 8 3 8 3 8 3 8 4 8 3 8 4 8 4 8 2 8 1 8 0 8-2 8-1 8-1 8 0 8 2 8 3 8 3 8 4 8 3 8 3 8 1 8 0 8-1 8-3 8-2 8-2 8-1 8-1 8-1 8 0 8 0 8 1 8 1 8 0 8 0 8 1 8 3 8 5 8 5 8 3 8 1 8-1 8-2 8 0"/><path d="M2248 3232l8 2 8 2 8 2 8 2 8 1 8 0 8 0 8-2 8-2 8-3 8-2 8-3 8-1 8 0 8 1 8 2 8 3 8 4 8 5 8 3 8 3 8 1 8 0 8 1 8 1 8 1 8 2 8 0 8-1 8-2 8-3 8-3 8-3 8-1 8 1 8 1 8 2 8 2 8 1 8 1 8 0 8 1 8 1 8 2 8 1 8 2 8 1 8-1 8-2 8-1 8 0 8 1 8 2 8 2 8 0 8 0 8-1 8-2 8-2 8-3 8-4 8-3 8-4 8-3 8-3 8-3 8-1 8 0 8 0 8 0 8-3 8-3 8-5 8-6 8-6 8-5 8-4 8-4 8-3 8-5 8-6 8-9 8-11 8-11 8-12 8-12 8-14 8-14 8-16 8-16 8-15 8-15 8-14 8-13 8-13 8-11 8-9 8-5 8-2 8 2 8 9 8 17 8 23 8 27 8 28 8 27 8 25 8 22 8 19 8 18 8 15 8 14 8 12 8 11 8 9 8 9 8 7 8 6 8 6 8 7 8 6 8 8 8 7 8 8 8 7 8 6 8 4 8 2 8 1 8 0 8 2 8 2 8 3 8 2 8 2 8 1 8 0 8-1 8-1 8 2 8 4 8 4 8 5 8 3 8 1 8 1 8 1 8 2 8 3 8 2 8 0 8 1 8 1 8 2 8 2 8 2 8 1 8-1 8-1 8-1 8-1 8 1 8 3 8 5 8 5 8 4 8 2 8 0 8 0 8 0 8-1 8-1 8-1 8-1 8-1 8 2 8 3 8 3 8 1 8-1 8-1 8 0 8 2 8 2 8 2 8 1 8 1 8-1 8-1 8-1 8 0 8 2 8 3 8 4 8 3 8 1 8-1 8-2 8-2 8-2 8 0 8 0 8 2 8 4 8 4 8 4 8 2"/><path d="M2248 3268l8-2 8-1 8 0 8 1 8 1 8 0 8 0 8 0 8-1 8 1 8 0 8 1 8 2 8 1 8 1 8 0 8-1 8-3 8-3 8-2 8-2 8 0 8 1 8 3 8 5 8 5 8 5 8 4 8 2 8 2 8 0 8-1 8 0 8 0 8 1 8 1 8 1 8 0 8-1 8-2 8-2 8-1 8 0 8 1 8-1 8-1 8-3 8-1 8-1 8 0 8 0 8-1 8-1 8-2 8 0 8 1 8 2 8 2 8 2 8 1 8 1 8-1 8-2 8-3 8-3 8-3 8-3 8-4 8-4 8-4 8-6 8-5 8-5 8-4 8-4 8-2 8-4 8-5 8-8 8-10 8-11 8-11 8-10 8-10 8-11 8-11 8-11 8-10 8-11 8-11 8-13 8-15 8-16 8-15 8-15 8-11 8-9 8-6 8-1 8 2 8 9 8 17 8 22 8 25 8 26 8 25 8 23 8 21 8 17 8 15 8 13 8 12 8 10 8 10 8 8 8 9 8 8 8 8 8 9 8 7 8 7 8 6 8 5 8 5 8 5 8 4 8 4 8 4 8 3 8 4 8 4 8 3 8 3 8 4 8 4 8 6 8 5 8 5 8 3 8 2 8 2 8 1 8 1 8 1 8 1 8 1 8 2 8 3 8 4 8 4 8 4 8 3 8 2 8 1 8 1 8 0 8-1 8-2 8-2 8-4 8-2 8-1 8 2 8 4 8 5 8 4 8 2 8 1 8 0 8 2 8 2 8 3 8 2 8 0 8-1 8-3 8-2 8-1 8 0 8 1 8 2 8 2 8 2 8 1 8 2 8 4 8 4 8 4 8 2 8 0 8-3 8-3 8-2 8-1 8 1 8 1 8 2 8 1 8 2 8 2 8 2 8 2 8 1 8 1 8 1 8 1 8-1"/><path d="M2248 3289l8-2 8 0 8 1 8 4 8 4 8 5 8 3 8 1 8-1 8-2 8-2 8-2 8-2 8 0 8 0 8 0 8 1 8 2 8 1 8 2 8 1 8 0 8 0 8-1 8 0 8 0 8-1 8-1 8-1 8 0 8 1 8 2 8 2 8 3 8 1 8 2 8 0 8 0 8-1 8 0 8-1 8-1 8 0 8 0 8-1 8-2 8-4 8-3 8-3 8 0 8 1 8 2 8 2 8 1 8 0 8-1 8 0 8-1 8-1 8-2 8 0 8-1 8 0 8-1 8-3 8-5 8-5 8-5 8-4 8-3 8-1 8-2 8-2 8-2 8-2 8-3 8-3 8-4 8-6 8-7 8-9 8-9 8-9 8-10 8-11 8-12 8-15 8-16 8-16 8-15 8-15 8-16 8-17 8-16 8-15 8-11 8-7 8-4 8-2 8 0 8 8 8 14 8 21 8 25 8 27 8 25 8 24 8 23 8 21 8 19 8 18 8 16 8 12 8 11 8 9 8 8 8 8 8 9 8 8 8 9 8 8 8 7 8 4 8 3 8 2 8 1 8 1 8 2 8 5 8 6 8 7 8 5 8 2 8 1 8 2 8 3 8 5 8 6 8 6 8 5 8 3 8 1 8 0 8 0 8-1 8 0 8 1 8 3 8 3 8 4 8 3 8 1 8 1 8 0 8 2 8 2 8 2 8 1 8 0 8-1 8-2 8-1 8 0 8 2 8 3 8 2 8 1 8 0 8 0 8 1 8 1 8 3 8 2 8 2 8 2 8 1 8-1 8-1 8-1 8 0 8 2 8 3 8 4 8 4 8 3 8 1 8 0 8-1 8-1 8 0 8 0 8 1 8 1 8 2 8 2 8 2 8 3 8 2 8 0 8 1 8-1 8 1 8 0 8 1 8 0 8-2 8-1"/><path d="M2248 3317l8 3 8 1 8-1 8 0 8 0 8 3 8 3 8 2 8-1 8-1 8-3 8-3 8-2 8-1 8 0 8 2 8 4 8 4 8 4 8 2 8 1 8 0 8-1 8-1 8-1 8 0 8-1 8-1 8-2 8-1 8 0 8 2 8 2 8 4 8 3 8 3 8 0 8-1 8-4 8-5 8-5 8-3 8-1 8 2 8 2 8 2 8 0 8 0 8 0 8 0 8 2 8 2 8 1 8 0 8-1 8-2 8-3 8-4 8-5 8-3 8-3 8-1 8-1 8-1 8-1 8-2 8-2 8-2 8-2 8-3 8-3 8-4 8-4 8-3 8-4 8-3 8-5 8-5 8-6 8-6 8-6 8-6 8-8 8-10 8-12 8-14 8-15 8-16 8-18 8-18 8-17 8-16 8-13 8-11 8-11 8-10 8-11 8-12 8-9 8-4 8 5 8 16 8 23 8 27 8 28 8 26 8 25 8 22 8 20 8 17 8 15 8 15 8 14 8 15 8 15 8 13 8 9 8 7 8 3 8 3 8 5 8 8 8 9 8 9 8 8 8 6 8 3 8 2 8 2 8 3 8 3 8 4 8 4 8 3 8 4 8 5 8 5 8 4 8 4 8 2 8 1 8 0 8 0 8 0 8 1 8 0 8 2 8 2 8 3 8 5 8 4 8 5 8 4 8 2 8 1 8 0 8-1 8 1 8 1 8 3 8 3 8 1 8 1 8-1 8-1 8-1 8 1 8 0 8 0 8-1 8-2 8-1 8 0 8 2 8 1 8 2 8 1 8 2 8 2 8 3 8 2 8 2 8 1 8 0 8 2 8 3 8 2 8 2 8 0 8-2 8-2 8-1 8-1 8 1 8 1 8 2 8 2 8 2 8 2 8 1 8 0 8-2 8-1 8-1 8 0 8 1 8 4"/><path d="M2248 3340l8 0 8 0 8 2 8 2 8 3 8 3 8 1 8 0 8-1 8-3 8-2 8 0 8 1 8 1 8 3 8 2 8 2 8 3 8 3 8 3 8 2 8 1 8 1 8 0 8 0 8-2 8-1 8-1 8-2 8-1 8 0 8 0 8 1 8 2 8 2 8 1 8-1 8-1 8-1 8 1 8 1 8 2 8 1 8 0 8 0 8-1 8 0 8 0 8 0 8-1 8-2 8-2 8-2 8-1 8-2 8-1 8-2 8-2 8-2 8-3 8-3 8-2 8-1 8 0 8-1 8-1 8-3 8-4 8-3 8-3 8-3 8-3 8-3 8-3 8-4 8-5 8-5 8-6 8-6 8-6 8-7 8-7 8-9 8-11 8-13 8-14 8-14 8-15 8-14 8-13 8-15 8-15 8-17 8-18 8-16 8-14 8-13 8-10 8-7 8-2 8 5 8 14 8 21 8 26 8 27 8 26 8 26 8 23 8 21 8 20 8 17 8 15 8 13 8 11 8 10 8 9 8 8 8 8 8 8 8 7 8 7 8 7 8 7 8 7 8 6 8 5 8 6 8 5 8 5 8 4 8 3 8 2 8 3 8 4 8 5 8 7 8 6 8 6 8 4 8 2 8 1 8 0 8-1 8 1 8 1 8 1 8 1 8-1 8 0 8 0 8 2 8 4 8 5 8 4 8 2 8-1 8 0 8 0 8 1 8 1 8 2 8 2 8 3 8 2 8 2 8 1 8 1 8 1 8 2 8 3 8 3 8 2 8 0 8-2 8-2 8-1 8-1 8-1 8-1 8 0 8 1 8 3 8 3 8 3 8 3 8 2 8 0 8 0 8-1 8-3 8-2 8-2 8-1 8 2 8 3 8 3 8 2 8 1 8 1 8 2 8 2 8 2 8 2 8 1 8 2 8 1 8 2"/><path d="M2248 3374l8-1 8-1 8-1 8 1 8 3 8 4 8 2 8 0 8-2 8-1 8 1 8 2 8 4 8 4 8 2 8 1 8-1 8-2 8-3 8-2 8-1 8 2 8 2 8 4 8 4 8 2 8 0 8-2 8-3 8-3 8-2 8-2 8-1 8 0 8-1 8 0 8 1 8 1 8 1 8 1 8 0 8-1 8-1 8 0 8 0 8 1 8 0 8 1 8-1 8-1 8 0 8 0 8 1 8 1 8 0 8-2 8-3 8-4 8-3 8-3 8-3 8-2 8-3 8-2 8-2 8-3 8-3 8-4 8-5 8-4 8-3 8-3 8-3 8-3 8-6 8-6 8-8 8-7 8-7 8-5 8-6 8-6 8-7 8-9 8-10 8-11 8-13 8-15 8-15 8-17 8-17 8-18 8-17 8-16 8-14 8-11 8-8 8-5 8-4 8-2 8 3 8 11 8 19 8 24 8 25 8 25 8 23 8 22 8 20 8 18 8 17 8 14 8 14 8 12 8 11 8 11 8 9 8 8 8 8 8 8 8 9 8 8 8 9 8 8 8 7 8 6 8 7 8 7 8 7 8 7 8 6 8 5 8 3 8 1 8 1 8 3 8 3 8 3 8 3 8 2 8 3 8 2 8 1 8 2 8 2 8 2 8 1 8 0 8 0 8 2 8 1 8 3 8 1 8 2 8 1 8 1 8 1 8 2 8 2 8 1 8 1 8 2 8 1 8 3 8 2 8 3 8 1 8 1 8-1 8-1 8-1 8-1 8 0 8 0 8 0 8 0 8 0 8 0 8 1 8 1 8 2 8 1 8 1 8 0 8 0 8 0 8 1 8 3 8 3 8 4 8 3 8 2 8 1 8 0 8 0 8 0 8 0 8 0 8 1 8 2 8 2 8 1 8 0 8-1 8-1 8 0 8 1"/><path d="M2248 3397l8-1 8 0 8 0 8 0 8 0 8 1 8 1 8 1 8 3 8 3 8 3 8 2 8-1 8-2 8-3 8-2 8 0 8 1 8 2 8 2 8 2 8 1 8 0 8-1 8-1 8-1 8 1 8 2 8 3 8 2 8 1 8-1 8-3 8-2 8-1 8 0 8 1 8 1 8 2 8 1 8 0 8-1 8-1 8 0 8 1 8 1 8-1 8-2 8-1 8 1 8 2 8 3 8 3 8 1 8-2 8-2 8-3 8-4 8-4 8-5 8-4 8-4 8-3 8-1 8-2 8-1 8-2 8-3 8-4 8-3 8-3 8-4 8-4 8-3 8-4 8-5 8-6 8-8 8-8 8-9 8-9 8-9 8-10 8-12 8-13 8-14 8-13 8-14 8-13 8-13 8-14 8-13 8-14 8-14 8-15 8-14 8-13 8-12 8-9 8-5 8 0 8 9 8 17 8 23 8 26 8 28 8 28 8 27 8 26 8 24 8 20 8 16 8 12 8 11 8 9 8 9 8 9 8 6 8 5 8 3 8 3 8 5 8 5 8 6 8 6 8 6 8 6 8 6 8 7 8 7 8 8 8 8 8 8 8 8 8 8 8 5 8 3 8 2 8 1 8 2 8 3 8 3 8 4 8 3 8 3 8 1 8 2 8 2 8 2 8 2 8 3 8 3 8 4 8 4 8 2 8 0 8-2 8-2 8-2 8 0 8 0 8 2 8 3 8 3 8 3 8 3 8 3 8 2 8 1 8 1 8-1 8 0 8-1 8-1 8-1 8-1 8 0 8 2 8 3 8 3 8 3 8 1 8 0 8-1 8-2 8 0 8 1 8 3 8 3 8 1 8-1 8 0 8-1 8 1 8 1 8 2 8 2 8 3 8 3 8 2 8 1 8-1 8-1 8-2 8-1 8 0 8 2"/><path d="M2248 3430l8-3 8-2 8 0 8 2 8 3 8 3 8 3 8 1 8 0 8-1 8-1 8-1 8 0 8-1 8 0 8 1 8 2 8 2 8 3 8 1 8 1 8 0 8-1 8-1 8-1 8-2 8-2 8-2 8-2 8-2 8-1 8-2 8 0 8 1 8 2 8 4 8 4 8 4 8 2 8-1 8-3 8-4 8-5 8-3 8 0 8 2 8 1 8 0 8-2 8-3 8-3 8-2 8-2 8 0 8-1 8-1 8 0 8 1 8 1 8 0 8-2 8-2 8-4 8-3 8-4 8-3 8-4 8-3 8-4 8-3 8-4 8-4 8-6 8-6 8-7 8-8 8-7 8-6 8-5 8-3 8-4 8-4 8-7 8-8 8-11 8-14 8-15 8-16 8-18 8-17 8-16 8-16 8-14 8-13 8-12 8-10 8-9 8-7 8-5 8-3 8 1 8 8 8 14 8 20 8 23 8 25 8 25 8 24 8 24 8 21 8 16 8 13 8 9 8 8 8 8 8 7 8 8 8 8 8 7 8 9 8 9 8 10 8 9 8 7 8 5 8 3 8 4 8 5 8 8 8 8 8 9 8 8 8 6 8 6 8 5 8 6 8 5 8 4 8 4 8 4 8 4 8 3 8 4 8 2 8 2 8 1 8 1 8 1 8 2 8 3 8 3 8 4 8 3 8 3 8 3 8 1 8 0 8-2 8-2 8-1 8 0 8 1 8 3 8 3 8 3 8 3 8 3 8 3 8 2 8 1 8 0 8-2 8-2 8-2 8 0 8 1 8 3 8 2 8 1 8 2 8 2 8 3 8 3 8 3 8 1 8 0 8-2 8-2 8 0 8 0 8 1 8 2 8 2 8 2 8 3 8 1 8 2 8 1 8 2 8 2 8 1 8-1 8-3 8-3 8-3 8-1 8 0"/><path d="M2248 3446l8-1 8 0 8 1 8 2 8 2 8 3 8 2 8 3 8 4 8 3 8 3 8 0 8-1 8-3 8-2 8-1 8 0 8-1 8-1 8-2 8-2 8-1 8 1 8 2 8 2 8 2 8 3 8 2 8 3 8 1 8 0 8-2 8-1 8-2 8-1 8 0 8 0 8 0 8-1 8 1 8 1 8 2 8 1 8 1 8-2 8-2 8-3 8-3 8-3 8-2 8-2 8-1 8-1 8-3 8-1 8-2 8 0 8 0 8-2 8-3 8-3 8-3 8-2 8-2 8-2 8-2 8-3 8-3 8-3 8-3 8-4 8-6 8-6 8-6 8-7 8-7 8-6 8-5 8-5 8-5 8-6 8-6 8-8 8-10 8-11 8-13 8-16 8-15 8-16 8-15 8-14 8-13 8-14 8-13 8-13 8-12 8-11 8-7 8-5 8-1 8 2 8 9 8 15 8 18 8 20 8 19 8 19 8 20 8 18 8 18 8 17 8 14 8 14 8 12 8 11 8 10 8 10 8 10 8 10 8 9 8 10 8 8 8 9 8 7 8 7 8 5 8 3 8 4 8 4 8 7 8 10 8 10 8 9 8 8 8 6 8 5 8 3 8 3 8 3 8 5 8 5 8 5 8 4 8 3 8 2 8 2 8 1 8 2 8 1 8 1 8 1 8 1 8 1 8 1 8 0 8 1 8 1 8 1 8 0 8 1 8 2 8 3 8 2 8 3 8 2 8 2 8 1 8 0 8 0 8 1 8 3 8 4 8 5 8 4 8 2 8 1 8 0 8-2 8-2 8-3 8 0 8 1 8 1 8 2 8 1 8 2 8 3 8 1 8 0 8 0 8 0 8-1 8 0 8-1 8 0 8 0 8 2 8 2 8 2 8 2 8 0 8 1 8 2 8 2 8 2 8 2 8 2"/><path d="M2248 3483l8 4 8 5 8 3 8 3 8 1 8 1 8 1 8 0 8-1 8-2 8-3 8-4 8-4 8-3 8-1 8 0 8 0 8 1 8 1 8 1 8 0 8-1 8-2 8-1 8 0 8 0 8 0 8-2 8-2 8-1 8 0 8 3 8 4 8 3 8 1 8-1 8-3 8-3 8-2 8 0 8 3 8 3 8 2 8-1 8-3 8-5 8-4 8-4 8-1 8-1 8 1 8 1 8 1 8 0 8 0 8-1 8-2 8-3 8-2 8-3 8-2 8-2 8-1 8 0 8 0 8-1 8-2 8-2 8-3 8-4 8-5 8-6 8-7 8-8 8-8 8-7 8-6 8-6 8-6 8-8 8-8 8-10 8-11 8-10 8-11 8-10 8-12 8-12 8-13 8-13 8-13 8-14 8-14 8-13 8-14 8-12 8-11 8-10 8-6 8-4 8-1 8 7 8 14 8 18 8 22 8 23 8 22 8 20 8 17 8 16 8 15 8 16 8 15 8 13 8 11 8 8 8 6 8 5 8 6 8 7 8 9 8 8 8 9 8 7 8 7 8 7 8 7 8 7 8 9 8 8 8 8 8 8 8 7 8 7 8 7 8 7 8 6 8 5 8 5 8 5 8 6 8 6 8 4 8 3 8 3 8 2 8 2 8 3 8 2 8 1 8 1 8 0 8 0 8 1 8 2 8 2 8 3 8 3 8 2 8 3 8 3 8 3 8 2 8 0 8-2 8-2 8-1 8 2 8 4 8 5 8 5 8 4 8 2 8-1 8-1 8-3 8-2 8-1 8 0 8 2 8 1 8 1 8 1 8 1 8 2 8 2 8 2 8 1 8 0 8 0 8-1 8-2 8-1 8 0 8 2 8 2 8 2 8 2 8 2 8 3 8 4 8 3 8 2 8 1 8 0 8 0 8 0"/><path d="M2248 3509l8-1 8 2 8 2 8 2 8 1 8 0 8-1 8-2 8-2 8-2 8-2 8-1 8-2 8-1 8 1 8 4 8 4 8 4 8 4 8 1 8 0 8-2 8-1 8-1 8 0 8 0 8 1 8 0 8 1 8 2 8 2 8 3 8 1 8-1 8-2 8-4 8-4 8-5 8-5 8-3 8-2 8 0 8 2 8 3 8 2 8-1 8-3 8-6 8-5 8-5 8-2 8-2 8-2 8-1 8 0 8 1 8 1 8 2 8 2 8 0 8-2 8-5 8-5 8-6 8-4 8-4 8-3 8-4 8-4 8-5 8-4 8-3 8-1 8-1 8-2 8-4 8-6 8-9 8-9 8-11 8-11 8-10 8-9 8-7 8-8 8-8 8-10 8-13 8-14 8-16 8-15 8-13 8-13 8-11 8-12 8-11 8-10 8-8 8-7 8-5 8-2 8 2 8 8 8 15 8 19 8 22 8 23 8 22 8 21 8 17 8 15 8 11 8 10 8 9 8 9 8 10 8 10 8 9 8 8 8 8 8 7 8 8 8 7 8 7 8 8 8 8 8 8 8 7 8 8 8 7 8 8 8 8 8 9 8 10 8 9 8 8 8 6 8 6 8 5 8 5 8 4 8 4 8 4 8 2 8 3 8 2 8 3 8 3 8 4 8 4 8 5 8 4 8 4 8 2 8 0 8-2 8-1 8-1 8 1 8 2 8 3 8 2 8 3 8 3 8 4 8 4 8 4 8 3 8 1 8 1 8 1 8 1 8 0 8 0 8 1 8 0 8 1 8 1 8 0 8 0 8 0 8 1 8 0 8 2 8 1 8 1 8 1 8-1 8-1 8-1 8 0 8 1 8 1 8 1 8 2 8 2 8 2 8 1 8 1 8 0 8 2 8 3 8 3 8 2 8 0 8-2 8-3"/><path d="M2248 3541l8-2 8-2 8-1 8 0 8 1 8 2 8 1 8 0 8 1 8 1 8 2 8 2 8 1 8 1 8 0 8-1 8-1 8-1 8 0 8 0 8 0 8 0 8-1 8-2 8-3 8-2 8-2 8 0 8 0 8 0 8-1 8-1 8-1 8 1 8 2 8 2 8 3 8 3 8 2 8 0 8-1 8-3 8-3 8-3 8-2 8-1 8-1 8 0 8 0 8-1 8-2 8-2 8-4 8-4 8-4 8-5 8-5 8-4 8-3 8-2 8 0 8 0 8 0 8-1 8-3 8-5 8-5 8-5 8-3 8-3 8-2 8-3 8-2 8-5 8-5 8-7 8-7 8-6 8-6 8-5 8-4 8-5 8-6 8-9 8-11 8-13 8-14 8-14 8-15 8-15 8-16 8-14 8-15 8-13 8-13 8-12 8-12 8-10 8-9 8-6 8-3 8 3 8 9 8 16 8 19 8 22 8 22 8 20 8 19 8 17 8 16 8 14 8 13 8 11 8 10 8 10 8 9 8 10 8 10 8 9 8 9 8 8 8 8 8 6 8 6 8 5 8 6 8 7 8 8 8 9 8 8 8 8 8 6 8 7 8 7 8 7 8 8 8 7 8 6 8 5 8 4 8 5 8 6 8 9 8 8 8 7 8 4 8 0 8-1 8-1 8 1 8 3 8 5 8 4 8 3 8 0 8-1 8 0 8 1 8 3 8 4 8 5 8 4 8 4 8 2 8 2 8 1 8 2 8 1 8 0 8 0 8 0 8-1 8-2 8-3 8-3 8 0 8 2 8 5 8 5 8 4 8 5 8 3 8 2 8 0 8-1 8-2 8-1 8 0 8-1 8 0 8 0 8 1 8 1 8 0 8 1 8 0 8 0 8 1 8 1 8 2 8 2 8 2 8 2 8 3 8 2 8 2"/><path d="M2248 3574l8-2 8-1 8 0 8 2 8 2 8 2 8 2 8 1 8 1 8-1 8-1 8-2 8-3 8-4 8-5 8-4 8-2 8-1 8 1 8 3 8 1 8 1 8-1 8-1 8 0 8 1 8 2 8 1 8 0 8-3 8-5 8-4 8-2 8 0 8 1 8 1 8 0 8-1 8-2 8-2 8-3 8-2 8 0 8 0 8 2 8 2 8 2 8 2 8-1 8-1 8-3 8-4 8-4 8-4 8-3 8-2 8-3 8-2 8-3 8 0 8 0 8 1 8 1 8-1 8-2 8-4 8-5 8-6 8-5 8-4 8-3 8-3 8-4 8-6 8-6 8-8 8-7 8-8 8-8 8-8 8-8 8-9 8-8 8-7 8-8 8-7 8-9 8-11 8-14 8-14 8-15 8-14 8-13 8-13 8-13 8-14 8-13 8-13 8-10 8-6 8-2 8 4 8 11 8 16 8 17 8 18 8 17 8 17 8 17 8 17 8 16 8 16 8 15 8 14 8 12 8 11 8 10 8 9 8 7 8 6 8 5 8 5 8 5 8 6 8 5 8 7 8 8 8 9 8 8 8 9 8 8 8 9 8 8 8 9 8 8 8 9 8 7 8 7 8 8 8 7 8 8 8 7 8 6 8 4 8 4 8 3 8 2 8 3 8 4 8 4 8 4 8 3 8 3 8 2 8 1 8 1 8 2 8 1 8 2 8 2 8 4 8 5 8 5 8 4 8 4 8 2 8 1 8 1 8 0 8 0 8 1 8 2 8 2 8 3 8 2 8 0 8-1 8-2 8-1 8 1 8 2 8 1 8 2 8 1 8 1 8 1 8 1 8 0 8 0 8 1 8 0 8 0 8-1 8-1 8-1 8-2 8-2 8-1 8 2 8 3 8 3 8 4 8 2 8 2 8 2 8 1 8 0"/><path d="M2248 3597l8 1 8 1 8 0 8-2 8-3 8-2 8-2 8 0 8 1 8 2 8 0 8-1 8-1 8-1 8-1 8 0 8 1 8-1 8 0 8-1 8-1 8-1 8-1 8 0 8-2 8 0 8 0 8 2 8 4 8 2 8 1 8-2 8-4 8-3 8-3 8-2 8-2 8-2 8-2 8-1 8 0 8 0 8 0 8-1 8-1 8-1 8 0 8 0 8 0 8-1 8-2 8-2 8-1 8-1 8-2 8-2 8-5 8-5 8-5 8-4 8-2 8 0 8 0 8 0 8-1 8-2 8-2 8-4 8-5 8-7 8-7 8-7 8-6 8-4 8-4 8-4 8-5 8-6 8-7 8-8 8-7 8-8 8-8 8-9 8-10 8-11 8-10 8-11 8-10 8-12 8-11 8-13 8-13 8-14 8-14 8-12 8-9 8-7 8-4 8-3 8-3 8-1 8 3 8 8 8 12 8 18 8 19 8 20 8 18 8 17 8 16 8 14 8 12 8 10 8 8 8 6 8 6 8 5 8 5 8 5 8 6 8 8 8 10 8 9 8 10 8 8 8 9 8 8 8 7 8 7 8 6 8 6 8 7 8 7 8 7 8 7 8 7 8 10 8 11 8 13 8 12 8 10 8 8 8 5 8 4 8 3 8 4 8 3 8 5 8 4 8 4 8 4 8 5 8 5 8 5 8 5 8 4 8 2 8 0 8-1 8-1 8-1 8-1 8 0 8 0 8 0 8 2 8 2 8 2 8 0 8-1 8 0 8 1 8 4 8 5 8 6 8 5 8 3 8 1 8 0 8 0 8 0 8 0 8-1 8-3 8-4 8-3 8-1 8 2 8 4 8 5 8 4 8 2 8 0 8-2 8-2 8-1 8 0 8 1 8 1 8 1 8 2 8 1 8 2 8 2 8 3 8 4"/><path d="M2248 3619l8 0 8 1 8 1 8 1 8-1 8 0 8 0 8 1 8 1 8 1 8 0 8 0 8-1 8-3 8-2 8-1 8 1 8 2 8 3 8 2 8 1 8 1 8 0 8-1 8 0 8-1 8-2 8-1 8-1 8-1 8-1 8-1 8-1 8 0 8 0 8 0 8 0 8 0 8-1 8-1 8-2 8-4 8-6 8-5 8-3 8-1 8 1 8 1 8-1 8-3 8-3 8-3 8-4 8-4 8-5 8-5 8-4 8-2 8 0 8 0 8 0 8-2 8-2 8-4 8-4 8-5 8-4 8-4 8-2 8-3 8-3 8-4 8-5 8-5 8-5 8-5 8-5 8-7 8-7 8-6 8-5 8-5 8-6 8-7 8-10 8-13 8-13 8-12 8-12 8-9 8-9 8-9 8-9 8-10 8-8 8-9 8-9 8-8 8-7 8-6 8-3 8 0 8 5 8 10 8 13 8 14 8 14 8 13 8 12 8 12 8 11 8 11 8 9 8 7 8 4 8 3 8 2 8 4 8 8 8 10 8 11 8 13 8 10 8 8 8 6 8 5 8 4 8 7 8 8 8 11 8 12 8 11 8 12 8 11 8 11 8 9 8 7 8 6 8 4 8 4 8 4 8 6 8 8 8 10 8 9 8 7 8 6 8 5 8 4 8 5 8 3 8 4 8 3 8 4 8 5 8 4 8 5 8 4 8 3 8 2 8 2 8 1 8 2 8 2 8 2 8 2 8 2 8 2 8 3 8 2 8 0 8 0 8-2 8 0 8 0 8 2 8 2 8 2 8 4 8 3 8 3 8 0 8-1 8-2 8-1 8 1 8 3 8 3 8 2 8 2 8 1 8 2 8 1 8 1 8 0 8-1 8 0 8 0 8 1 8 1 8 1 8 1 8 0 8 1 8 1 8 1 8 2"/><path d="M2248 3657l8 0 8-1 8-2 8-2 8-1 8-1 8-1 8 0 8 0 8 1 8 1 8 0 8 0 8 0 8 0 8 0 8 1 8 1 8 0 8 0 8-1 8-1 8 0 8 0 8 0 8 0 8 0 8-1 8-1 8-2 8-3 8-3 8-2 8-1 8-1 8-1 8-1 8-3 8-2 8-3 8-1 8 0 8 0 8-1 8-2 8-2 8-2 8-2 8-1 8-2 8-2 8-3 8-2 8-2 8-3 8-2 8-3 8-2 8-2 8-2 8-3 8-3 8-3 8-2 8-2 8-1 8-2 8-4 8-5 8-8 8-8 8-8 8-7 8-5 8-5 8-5 8-7 8-6 8-5 8-4 8-3 8-3 8-6 8-7 8-10 8-11 8-9 8-8 8-7 8-8 8-11 8-13 8-13 8-12 8-10 8-7 8-6 8-5 8-3 8-3 8-2 8-1 8 3 8 7 8 10 8 12 8 14 8 12 8 11 8 9 8 8 8 8 8 9 8 10 8 10 8 9 8 7 8 4 8 4 8 3 8 2 8 3 8 4 8 5 8 6 8 8 8 8 8 8 8 8 8 8 8 9 8 9 8 10 8 9 8 8 8 9 8 8 8 9 8 9 8 8 8 8 8 8 8 10 8 11 8 11 8 10 8 8 8 6 8 5 8 5 8 5 8 4 8 4 8 2 8 2 8 3 8 3 8 4 8 5 8 5 8 4 8 4 8 3 8 3 8 2 8 1 8 1 8 0 8 0 8 0 8 1 8 2 8 3 8 3 8 3 8 1 8 1 8-1 8 0 8-1 8 0 8 0 8-1 8-2 8-2 8-1 8 0 8 3 8 5 8 4 8 3 8 1 8 1 8 0 8 0 8 0 8 1 8 0 8 1 8 1 8 1 8 1 8 2 8 1 8 2 8 2 8 2"/><path d="M2248 3660l8 1 8 3 8 4 8 3 8 1 8-1 8 0 8 0 8 0 8 1 8 2 8 1 8 0 8-2 8-1 8-2 8-1 8 0 8 0 8 1 8 0 8 0 8 0 8 1 8 0 8 2 8 2 8 2 8-1 8-3 8-4 8-4 8-4 8-1 8-1 8-1 8 0 8-1 8 0 8 0 8 1 8 0 8 0 8-3 8-4 8-5 8-6 8-5 8-4 8-2 8-2 8-1 8-2 8-1 8-2 8-2 8-1 8-2 8-2 8-3 8-5 8-5 8-5 8-4 8-3 8-4 8-4 8-3 8-3 8-2 8-1 8-2 8-2 8-4 8-5 8-6 8-5 8-6 8-7 8-8 8-9 8-10 8-9 8-8 8-6 8-5 8-3 8-4 8-5 8-7 8-11 8-12 8-14 8-13 8-11 8-9 8-7 8-5 8-3 8-1 8-1 8-1 8 2 8 5 8 9 8 10 8 12 8 12 8 10 8 10 8 9 8 8 8 6 8 5 8 3 8 3 8 3 8 2 8 3 8 3 8 4 8 6 8 6 8 7 8 5 8 7 8 7 8 8 8 9 8 8 8 8 8 8 8 10 8 11 8 12 8 12 8 11 8 9 8 9 8 9 8 9 8 10 8 8 8 7 8 6 8 6 8 5 8 6 8 6 8 6 8 7 8 7 8 7 8 6 8 5 8 5 8 4 8 4 8 4 8 5 8 5 8 6 8 5 8 3 8 2 8 1 8 1 8 1 8 1 8 0 8 1 8 2 8 2 8 2 8 1 8 0 8 0 8-1 8-1 8 0 8 1 8 2 8 2 8 1 8 0 8-2 8-1 8-1 8 0 8 0 8 0 8 0 8 1 8 1 8 3 8 4 8 3 8 3 8 2 8 2 8 1 8 0 8-1 8-2 8-1 8 2 8 2"/><path d="M2248 3704l8-1 8-1 8-1 8 0 8 0 8 1 8 1 8 0 8 0 8 0 8 1 8 1 8 0 8 0 8-1 8-2 8-1 8 0 8 0 8 0 8-1 8-1 8-2 8-1 8 0 8 0 8 0 8-1 8-2 8-3 8-2 8-1 8 0 8 0 8-1 8-1 8 0 8-1 8 0 8-1 8-3 8-2 8-1 8-1 8-2 8-2 8-3 8-4 8-4 8-4 8-2 8-3 8-1 8-1 8-1 8 0 8 0 8-2 8-2 8-3 8-4 8-3 8-3 8-2 8-3 8-2 8-4 8-4 8-6 8-5 8-7 8-6 8-7 8-7 8-6 8-6 8-6 8-4 8-4 8-5 8-6 8-7 8-7 8-7 8-6 8-4 8-5 8-4 8-5 8-5 8-6 8-8 8-8 8-9 8-9 8-10 8-9 8-9 8-6 8-5 8-2 8 0 8 2 8 6 8 6 8 8 8 8 8 6 8 7 8 5 8 6 8 6 8 6 8 6 8 7 8 6 8 7 8 6 8 4 8 3 8 2 8 3 8 3 8 4 8 5 8 5 8 6 8 6 8 7 8 7 8 8 8 8 8 8 8 10 8 10 8 11 8 11 8 10 8 10 8 8 8 10 8 10 8 12 8 13 8 13 8 10 8 9 8 7 8 6 8 6 8 7 8 7 8 7 8 5 8 4 8 4 8 2 8 3 8 4 8 5 8 6 8 6 8 5 8 5 8 3 8 3 8 1 8-1 8-3 8-2 8-2 8 1 8 2 8 2 8 2 8 2 8 2 8 2 8 1 8 1 8 0 8 1 8 3 8 3 8 3 8 1 8 0 8-2 8-1 8 0 8 1 8 3 8 2 8 2 8 2 8 1 8 1 8 1 8-1 8-1 8-2 8 0 8 0 8 1 8 1 8 0 8 1"/><path d="M2248 3723l8-1 8 0 8 0 8 0 8 0 8 1 8 2 8 2 8 2 8 2 8 0 8-1 8-2 8-2 8 0 8 0 8 0 8 0 8-1 8-1 8 0 8-1 8-1 8-1 8-2 8-2 8-2 8-1 8-2 8-1 8 0 8 1 8 2 8 0 8-1 8-3 8-4 8-4 8-3 8-2 8-1 8 1 8 1 8 1 8-1 8-2 8-4 8-4 8-3 8-2 8-2 8-1 8-1 8-1 8 0 8-1 8-1 8-3 8-4 8-5 8-8 8-8 8-7 8-7 8-5 8-4 8-4 8-2 8-2 8-2 8-2 8-3 8-3 8-4 8-3 8-2 8-3 8-2 8-3 8-3 8-5 8-7 8-8 8-9 8-9 8-9 8-8 8-8 8-6 8-6 8-6 8-6 8-6 8-7 8-6 8-7 8-7 8-7 8-6 8-5 8-2 8 1 8 3 8 4 8 4 8 4 8 4 8 5 8 5 8 5 8 7 8 6 8 7 8 6 8 5 8 5 8 4 8 4 8 4 8 4 8 3 8 2 8 1 8 3 8 3 8 5 8 6 8 6 8 7 8 8 8 10 8 12 8 12 8 12 8 11 8 10 8 10 8 8 8 9 8 9 8 10 8 10 8 9 8 8 8 8 8 7 8 7 8 6 8 7 8 8 8 7 8 7 8 6 8 7 8 9 8 9 8 9 8 7 8 5 8 4 8 4 8 4 8 4 8 4 8 3 8 2 8 1 8 0 8-2 8-2 8-3 8-2 8 1 8 3 8 5 8 5 8 5 8 3 8 1 8 1 8-1 8-1 8-1 8 0 8 2 8 3 8 4 8 4 8 3 8 1 8-1 8-3 8-3 8-2 8 0 8 1 8 2 8 2 8 1 8 0 8 1 8 1 8 2 8 1 8-1 8-2 8-4"/><path d="M2248 3768l8 2 8 0 8-2 8-3 8-4 8-3 8-3 8-4 8-3 8-1 8 0 8 1 8 0 8 0 8 0 8-1 8-1 8 0 8 0 8 1 8 1 8 0 8 1 8 0 8 0 8-1 8 0 8-1 8-1 8-1 8-1 8-1 8-2 8-3 8-3 8-4 8-4 8-3 8-1 8-1 8-1 8 1 8 0 8 0 8 0 8-1 8-1 8-2 8-3 8-4 8-4 8-5 8-4 8-4 8-3 8-3 8-4 8-4 8-4 8-2 8-2 8 0 8 0 8-1 8-2 8-2 8-4 8-4 8-6 8-6 8-7 8-5 8-4 8-4 8-2 8-4 8-4 8-6 8-7 8-6 8-6 8-4 8-2 8-2 8-3 8-4 8-6 8-7 8-7 8-6 8-7 8-6 8-6 8-7 8-8 8-9 8-7 8-6 8-4 8-3 8-1 8 1 8 3 8 5 8 5 8 4 8 5 8 5 8 5 8 4 8 4 8 3 8 2 8 3 8 4 8 4 8 4 8 3 8 2 8 2 8 2 8 1 8 2 8 2 8 5 8 5 8 7 8 8 8 7 8 8 8 7 8 7 8 10 8 10 8 11 8 10 8 8 8 9 8 8 8 10 8 10 8 12 8 12 8 11 8 10 8 10 8 8 8 9 8 7 8 7 8 6 8 6 8 5 8 6 8 6 8 7 8 8 8 7 8 6 8 6 8 4 8 2 8 1 8 1 8 2 8 3 8 2 8 3 8 2 8 1 8 2 8 1 8 0 8 1 8 1 8 2 8 3 8 2 8 2 8 1 8 1 8 1 8 0 8 2 8 2 8 4 8 4 8 4 8 2 8 1 8-1 8 0 8 1 8 1 8 1 8 0 8 0 8 0 8-1 8 0 8 0 8 0 8 1 8 1 8 1 8 3 8 2"/><path d="M2248 3791l8 1 8 1 8 1 8 0 8 1 8 0 8-1 8 0 8 1 8 2 8 1 8-1 8-2 8-3 8-4 8-3 8-1 8-1 8 0 8 0 8-2 8-2 8-2 8-2 8 0 8 0 8-1 8-1 8-3 8-2 8-4 8-3 8-2 8-3 8-1 8-1 8 0 8 0 8 1 8-1 8-1 8-2 8-3 8-1 8-2 8-1 8-2 8-4 8-5 8-6 8-6 8-6 8-5 8-4 8-3 8-2 8-1 8-1 8 0 8-1 8-3 8-3 8-4 8-5 8-5 8-5 8-4 8-3 8-4 8-3 8-3 8-4 8-4 8-5 8-4 8-3 8-2 8-2 8-3 8-5 8-5 8-5 8-5 8-3 8-2 8-2 8-2 8-4 8-4 8-6 8-7 8-7 8-8 8-7 8-5 8-4 8-2 8-3 8-1 8 0 8 0 8 0 8-1 8-2 8-3 8-2 8 1 8 2 8 3 8 3 8 3 8 3 8 3 8 4 8 4 8 4 8 4 8 3 8 3 8 2 8 1 8 0 8 0 8 0 8 1 8 4 8 7 8 9 8 10 8 10 8 9 8 7 8 7 8 7 8 8 8 7 8 8 8 8 8 10 8 10 8 12 8 13 8 12 8 11 8 10 8 7 8 7 8 7 8 8 8 10 8 10 8 10 8 9 8 7 8 6 8 5 8 6 8 6 8 6 8 7 8 7 8 7 8 7 8 7 8 6 8 5 8 3 8 1 8 1 8 1 8-1 8 0 8 0 8 0 8 2 8 3 8 4 8 2 8 1 8 0 8-1 8 0 8 2 8 2 8 1 8 0 8-2 8-1 8 0 8 1 8 1 8 0 8 1 8-1 8 0 8 0 8 0 8 1 8 2 8 2 8 2 8 1 8 2 8 1 8 1 8 1 8 2"/><path d="M2248 3829l8-3 8-4 8-2 8-3 8-2 8-2 8-1 8-2 8 0 8 1 8 2 8 1 8 1 8-1 8-2 8-1 8-2 8-2 8 0 8 0 8 1 8 1 8 0 8-1 8-2 8-2 8-2 8-5 8-4 8-5 8-3 8 0 8 0 8 1 8-1 8-2 8-2 8-3 8-2 8-3 8-2 8-2 8-1 8 1 8 1 8 1 8 0 8-3 8-4 8-4 8-5 8-3 8-3 8-3 8-3 8-3 8-3 8-3 8-3 8-3 8-4 8-3 8-3 8-3 8-3 8-5 8-5 8-5 8-6 8-5 8-4 8-4 8-3 8-4 8-5 8-5 8-3 8-2 8-2 8-2 8-2 8-4 8-3 8-3 8-3 8-5 8-5 8-5 8-4 8-4 8-5 8-5 8-6 8-6 8-5 8-3 8 0 8 0 8 0 8 0 8-2 8-3 8-4 8-3 8-3 8-2 8 1 8 2 8 3 8 5 8 5 8 3 8 3 8 1 8 1 8 0 8 0 8-1 8 0 8 1 8 0 8 1 8 1 8 2 8 4 8 4 8 5 8 4 8 4 8 3 8 4 8 6 8 7 8 9 8 10 8 11 8 11 8 12 8 11 8 11 8 10 8 11 8 12 8 11 8 11 8 10 8 8 8 9 8 9 8 11 8 11 8 10 8 9 8 7 8 7 8 6 8 7 8 7 8 7 8 5 8 3 8 3 8 4 8 5 8 5 8 5 8 5 8 4 8 4 8 3 8 1 8 1 8 0 8 3 8 3 8 4 8 3 8 2 8 0 8 0 8-1 8 0 8 2 8 2 8 2 8 2 8 2 8 1 8 0 8 0 8 0 8-1 8-1 8 0 8 1 8 2 8 1 8 0 8-1 8-2 8 0 8-1 8 0 8-1 8-2 8 0 8 0" stroke="#0070c0" stroke-width="12"/><path d="M2248 3850l8 4 8 2 8 1 8-2 8-4 8-4 8-4 8-3 8-1 8-1 8 0 8 1 8 0 8 0 8-1 8-1 8 0 8-1 8 0 8 0 8-2 8-1 8-2 8-2 8-2 8-2 8-3 8-1 8-1 8 1 8 1 8 1 8 0 8-2 8-1 8-2 8 0 8 0 8-1 8-1 8-3 8-4 8-4 8-2 8-1 8 1 8 2 8 0 8-2 8-4 8-6 8-7 8-5 8-4 8-2 8-3 8-3 8-4 8-4 8-3 8-4 8-4 8-5 8-6 8-6 8-5 8-3 8-2 8-2 8-2 8-4 8-6 8-6 8-3 8-2 8 0 8-1 8-3 8-4 8-5 8-6 8-6 8-5 8-3 8-2 8-2 8-3 8-4 8-5 8-6 8-6 8-5 8-5 8-4 8-2 8-1 8-1 8 0 8-3 8-3 8-5 8-5 8-4 8-1 8 1 8 2 8 3 8 3 8 2 8 2 8 0 8-2 8-3 8-3 8-2 8 0 8 2 8 3 8 4 8 2 8 1 8 1 8 0 8 2 8 3 8 4 8 4 8 6 8 7 8 8 8 9 8 9 8 9 8 9 8 11 8 10 8 10 8 10 8 8 8 8 8 9 8 10 8 10 8 12 8 12 8 12 8 11 8 11 8 10 8 9 8 8 8 7 8 6 8 7 8 6 8 8 8 8 8 9 8 9 8 8 8 8 8 6 8 6 8 5 8 4 8 3 8 2 8 1 8 1 8 0 8 0 8-1 8-2 8-3 8-1 8 0 8 1 8 4 8 4 8 5 8 4 8 3 8 3 8 3 8 2 8 2 8 1 8 1 8 2 8 1 8 1 8-1 8-2 8-3 8-2 8 0 8 1 8 2 8 2 8 0 8-1 8-2 8-3 8 0 8 1 8 2 8 2"/><path d="M2248 3876l8 0 8 0 8-1 8-3 8-4 8-5 8-3 8-2 8-2 8 0 8 0 8 2 8 3 8 4 8 4 8 3 8 0 8-2 8-3 8-1 8 0 8 2 8 2 8 0 8-2 8-2 8-3 8-1 8-1 8 0 8-1 8-4 8-5 8-5 8-3 8-2 8-1 8-2 8-2 8-3 8-3 8-2 8-1 8-3 8-3 8-4 8-5 8-5 8-3 8-3 8-1 8 0 8 1 8-1 8-3 8-4 8-5 8-4 8-4 8-3 8-3 8-3 8-4 8-2 8-2 8-1 8-1 8-2 8-3 8-3 8-4 8-3 8-4 8-5 8-4 8-3 8-3 8-2 8-2 8-2 8-2 8-3 8-4 8-6 8-7 8-8 8-8 8-7 8-5 8-5 8-4 8-3 8-2 8-1 8-2 8-1 8-3 8-3 8-4 8-4 8-4 8-2 8-2 8-2 8-1 8-1 8-1 8 0 8 2 8 3 8 4 8 3 8 2 8 0 8-2 8-2 8-2 8-1 8 0 8 2 8 1 8 2 8 1 8 2 8 3 8 4 8 6 8 6 8 8 8 8 8 10 8 9 8 10 8 9 8 9 8 10 8 10 8 11 8 10 8 11 8 10 8 11 8 12 8 13 8 13 8 11 8 9 8 7 8 6 8 7 8 7 8 8 8 10 8 8 8 8 8 7 8 6 8 5 8 5 8 6 8 6 8 6 8 5 8 5 8 4 8 2 8 3 8 2 8 2 8 2 8 2 8 2 8 3 8 4 8 4 8 3 8 1 8 1 8 2 8 2 8 3 8 2 8 1 8-1 8-2 8-1 8-2 8-1 8-1 8-1 8-2 8 0 8 0 8 2 8 4 8 4 8 3 8 1 8-2 8-4 8-3 8-1 8 2 8 3 8 4 8 2 8 1"/><path d="M2248 3914l8-1 8-3 8-5 8-6 8-5 8-3 8-2 8 0 8 1 8 1 8 1 8 2 8 1 8 1 8 1 8 1 8 1 8-1 8-1 8-2 8-2 8-2 8-1 8-1 8-1 8-2 8-1 8-2 8-2 8-2 8-2 8 0 8 1 8 1 8 1 8-2 8-3 8-5 8-6 8-4 8-3 8-1 8 0 8-1 8-2 8-3 8-4 8-4 8-5 8-4 8-2 8-2 8 0 8 1 8 0 8-1 8-4 8-7 8-7 8-8 8-6 8-6 8-4 8-5 8-5 8-4 8-4 8-3 8-1 8 0 8-1 8-2 8-3 8-4 8-5 8-4 8-4 8-4 8-3 8-2 8-1 8-2 8-3 8-3 8-5 8-3 8-4 8-3 8-5 8-6 8-7 8-6 8-6 8-3 8-1 8 0 8 0 8 0 8-2 8-3 8-4 8-3 8-3 8-2 8 0 8 1 8 1 8 1 8 1 8 0 8-1 8-1 8 0 8 2 8 3 8 3 8 2 8 2 8 0 8-1 8-1 8-1 8 0 8 2 8 3 8 4 8 5 8 5 8 4 8 4 8 6 8 7 8 10 8 11 8 12 8 12 8 13 8 11 8 12 8 11 8 12 8 13 8 12 8 12 8 11 8 9 8 8 8 9 8 8 8 9 8 9 8 9 8 9 8 7 8 7 8 5 8 4 8 4 8 5 8 4 8 4 8 5 8 5 8 7 8 8 8 8 8 7 8 5 8 3 8 0 8 0 8-2 8-1 8-1 8 1 8 1 8 2 8 1 8 1 8 0 8 0 8 1 8 2 8 4 8 3 8 2 8 0 8 0 8-2 8-1 8-1 8 0 8 1 8 1 8 0 8 1 8 0 8 1 8 3 8 3 8 3 8 2 8 1 8-1 8 0 8-1 8-1"/><path d="M2248 3937l8-3 8-1 8-1 8-1 8-1 8-1 8-1 8-1 8-1 8-2 8-1 8-1 8 0 8 1 8 1 8 3 8 1 8 0 8-3 8-3 8-3 8-2 8 1 8 1 8 2 8 0 8-1 8 0 8-1 8-1 8-2 8-2 8-4 8-4 8-4 8-4 8-4 8-3 8-2 8 0 8-1 8 0 8-1 8 0 8 1 8-1 8-1 8-4 8-5 8-5 8-3 8-3 8-2 8-3 8-4 8-5 8-6 8-7 8-6 8-6 8-4 8-4 8-3 8-3 8-4 8-3 8-4 8-3 8-3 8-2 8-1 8-1 8-3 8-3 8-5 8-5 8-6 8-6 8-5 8-3 8-3 8 0 8-1 8-1 8-3 8-4 8-5 8-6 8-7 8-7 8-7 8-6 8-5 8-4 8-3 8-3 8-4 8-3 8-3 8-2 8-1 8 1 8 1 8 1 8 0 8-1 8-2 8 0 8-1 8 1 8 0 8 0 8 0 8-1 8-1 8 1 8 2 8 3 8 3 8 1 8 1 8-1 8 0 8 2 8 3 8 6 8 6 8 7 8 8 8 7 8 7 8 7 8 7 8 8 8 10 8 11 8 13 8 13 8 14 8 14 8 13 8 12 8 11 8 11 8 10 8 11 8 11 8 10 8 9 8 9 8 7 8 8 8 9 8 9 8 9 8 8 8 7 8 6 8 5 8 5 8 5 8 5 8 4 8 3 8 3 8 1 8 0 8-1 8 0 8 2 8 3 8 4 8 4 8 4 8 2 8 1 8-1 8-1 8-1 8 1 8 1 8 2 8 1 8 3 8 2 8 2 8 1 8 1 8 1 8 0 8 0 8 0 8-1 8-1 8-1 8 0 8 2 8 3 8 3 8 3 8 1 8 0 8 0 8 1 8 1 8 1 8 1"/><path d="M2248 3956l8 1 8 0 8 0 8-1 8-1 8-1 8 0 8-2 8-3 8-3 8-2 8 0 8 0 8 1 8 1 8 1 8 0 8 2 8 2 8 2 8 1 8 1 8 0 8 1 8 0 8 0 8-1 8 0 8-2 8-3 8-6 8-7 8-7 8-6 8-3 8-2 8 0 8 2 8 1 8 1 8-1 8-2 8-3 8-3 8-2 8-1 8 0 8-2 8-4 8-5 8-6 8-6 8-5 8-4 8-3 8-3 8-2 8-2 8-4 8-4 8-6 8-6 8-6 8-5 8-4 8-2 8-1 8 0 8-1 8-1 8-2 8-2 8-3 8-4 8-5 8-6 8-6 8-6 8-4 8-3 8-2 8-1 8-2 8-4 8-4 8-6 8-6 8-7 8-6 8-4 8-3 8-3 8-3 8-4 8-5 8-3 8-3 8-2 8-3 8-3 8-4 8-3 8-3 8-1 8 1 8 3 8 3 8 2 8 0 8 0 8-1 8 0 8 1 8 1 8 2 8 2 8 2 8 0 8 1 8-1 8-1 8-1 8 0 8 2 8 3 8 5 8 5 8 6 8 6 8 7 8 7 8 7 8 8 8 9 8 9 8 10 8 10 8 11 8 12 8 14 8 15 8 14 8 12 8 11 8 8 8 8 8 8 8 11 8 11 8 10 8 8 8 6 8 8 8 8 8 11 8 10 8 10 8 8 8 7 8 7 8 4 8 4 8 2 8 0 8 0 8-1 8 1 8 2 8 3 8 6 8 5 8 6 8 5 8 3 8 4 8 2 8 0 8-2 8-2 8-1 8 0 8 1 8 2 8 2 8 2 8 1 8 1 8 1 8 1 8 2 8 2 8 1 8 0 8 0 8 0 8 1 8 1 8 2 8 0 8 1 8-1 8 0 8 1 8 1 8 1 8-1 8-1"/><path d="M2248 3989l8 1 8-2 8-4 8-5 8-4 8-2 8 2 8 4 8 4 8 2 8 1 8-1 8-3 8-1 8-1 8 0 8-1 8-1 8-2 8-1 8-1 8-1 8-1 8-1 8-2 8-1 8-1 8-1 8-2 8-3 8-2 8-1 8 0 8 0 8 1 8-1 8-1 8-2 8-2 8-1 8-1 8 0 8-1 8-3 8-3 8-4 8-3 8-3 8-2 8-3 8-4 8-4 8-5 8-5 8-4 8-3 8-4 8-3 8-3 8-3 8-3 8-4 8-4 8-4 8-4 8-4 8-5 8-5 8-4 8-4 8-3 8-4 8-3 8-5 8-4 8-5 8-4 8-4 8-3 8-1 8-1 8-2 8-2 8-3 8-2 8-3 8-3 8-3 8-4 8-5 8-3 8-4 8-4 8-5 8-5 8-5 8-4 8-2 8-3 8-3 8-6 8-6 8-5 8-3 8 0 8 2 8 2 8 2 8 0 8 0 8-1 8-1 8 0 8 1 8 2 8 2 8 2 8 3 8 2 8 1 8 0 8-2 8-2 8-3 8-2 8 0 8 2 8 5 8 7 8 9 8 10 8 10 8 12 8 12 8 14 8 15 8 15 8 15 8 13 8 11 8 11 8 10 8 11 8 11 8 11 8 12 8 11 8 10 8 10 8 8 8 8 8 9 8 10 8 10 8 9 8 8 8 6 8 4 8 3 8 3 8 4 8 4 8 5 8 4 8 4 8 3 8 2 8 3 8 2 8 3 8 2 8 1 8 0 8 0 8-1 8 1 8 0 8 0 8-1 8-1 8-1 8 1 8 3 8 3 8 5 8 4 8 4 8 2 8 2 8 0 8 0 8 0 8 0 8 0 8 0 8 0 8 0 8 1 8 4 8 4 8 5 8 3 8 2 8 0 8 0 8-1 8-1"/><path d="M2248 4016l8 0 8 0 8-3 8-4 8-4 8-3 8-2 8-1 8 1 8-1 8-1 8-1 8-2 8 0 8 0 8 1 8 2 8 0 8 0 8 0 8 0 8 2 8 1 8 1 8 1 8 0 8 0 8-2 8-2 8-4 8-3 8-3 8-3 8-2 8-2 8-1 8-2 8-2 8-2 8-3 8-2 8-1 8-1 8-2 8-2 8-3 8-4 8-4 8-1 8-1 8 0 8-1 8-3 8-6 8-6 8-7 8-5 8-4 8-3 8-3 8-4 8-5 8-3 8-2 8-1 8 0 8 0 8 0 8-1 8-2 8-5 8-7 8-8 8-5 8-3 8-2 8-4 8-5 8-5 8-4 8-3 8-2 8-2 8-4 8-5 8-5 8-6 8-6 8-5 8-4 8-4 8-3 8-3 8-4 8-4 8-5 8-5 8-3 8-2 8-2 8-2 8-3 8-3 8-2 8-2 8-2 8-2 8-1 8-1 8 1 8 2 8 1 8 1 8 0 8 0 8 1 8 2 8 2 8 2 8 2 8 0 8 0 8 0 8 1 8 2 8 4 8 5 8 6 8 6 8 8 8 8 8 9 8 11 8 11 8 12 8 12 8 11 8 11 8 11 8 14 8 14 8 16 8 15 8 13 8 11 8 9 8 7 8 7 8 8 8 8 8 9 8 10 8 10 8 10 8 9 8 6 8 6 8 4 8 5 8 4 8 5 8 4 8 3 8 3 8 4 8 4 8 4 8 4 8 3 8 2 8 2 8 1 8 0 8 0 8-1 8-2 8-2 8-2 8-2 8 0 8 0 8 2 8 2 8 2 8 3 8 2 8 3 8 2 8 2 8 3 8 1 8 1 8 1 8 1 8 1 8 0 8 0 8-1 8-1 8-1 8 0 8 1 8 0 8 0 8 1 8 1 8 2"/><path d="M2248 4046l8 1 8 1 8-1 8-2 8-2 8-2 8-3 8-3 8-3 8-1 8 0 8 0 8 0 8 0 8-1 8-1 8 0 8 1 8 0 8 1 8 0 8 2 8 2 8 1 8 1 8-1 8-2 8-3 8-4 8-4 8-4 8-4 8-4 8-2 8-2 8 0 8 0 8-1 8-1 8-3 8-3 8-3 8-3 8-2 8-2 8-3 8-2 8-3 8-3 8-1 8-1 8 0 8 0 8 0 8-2 8-4 8-6 8-7 8-7 8-4 8-3 8-2 8-2 8-3 8-3 8-2 8-3 8-4 8-5 8-6 8-5 8-2 8-2 8-1 8-3 8-5 8-5 8-5 8-4 8-4 8-4 8-4 8-6 8-6 8-6 8-5 8-4 8-5 8-4 8-4 8-3 8-3 8-2 8-2 8-1 8-2 8-3 8-3 8-4 8-5 8-5 8-6 8-6 8-5 8-2 8 0 8 1 8 2 8 3 8 2 8 2 8 2 8 1 8 0 8-1 8-1 8-2 8-1 8 0 8 0 8 0 8-1 8 0 8 1 8 4 8 6 8 8 8 8 8 8 8 8 8 7 8 8 8 9 8 10 8 11 8 13 8 13 8 13 8 12 8 11 8 10 8 11 8 11 8 12 8 11 8 12 8 12 8 12 8 12 8 12 8 9 8 9 8 8 8 8 8 8 8 8 8 5 8 4 8 2 8 2 8 2 8 3 8 4 8 6 8 6 8 6 8 5 8 3 8 0 8 0 8 0 8 1 8 1 8 2 8 2 8 3 8 1 8 2 8 0 8 0 8 2 8 3 8 3 8 3 8 2 8 0 8-1 8-2 8-2 8-2 8-1 8 0 8 1 8 2 8 3 8 3 8 2 8 1 8 0 8 0 8 1 8 2 8 2 8 1 8 1 8-1 8-1"/><path d="M2248 4062l8-2 8 1 8 4 8 4 8 5 8 4 8 3 8 0 8-2 8-5 8-5 8-5 8-3 8-1 8 0 8 1 8 2 8 2 8 1 8 2 8 0 8 0 8-1 8-2 8-3 8-3 8-4 8-3 8-3 8-3 8-2 8-1 8 0 8 0 8-1 8 0 8-1 8-1 8-2 8-2 8-3 8-3 8-3 8-1 8-1 8 0 8-1 8 0 8-2 8-2 8-3 8-3 8-3 8-3 8-2 8-3 8-5 8-6 8-7 8-8 8-7 8-6 8-4 8-3 8-2 8-2 8-3 8-5 8-5 8-4 8-5 8-4 8-4 8-4 8-5 8-5 8-6 8-5 8-4 8-2 8-1 8-1 8 0 8 0 8 0 8-2 8-4 8-5 8-6 8-7 8-6 8-5 8-2 8-2 8-2 8-3 8-3 8-5 8-5 8-4 8-4 8-2 8-1 8-1 8-1 8 0 8-1 8 0 8-2 8-1 8-2 8-1 8-2 8-1 8-3 8-2 8-3 8-1 8 1 8 4 8 4 8 5 8 5 8 3 8 3 8 2 8 1 8 2 8 4 8 6 8 8 8 10 8 12 8 12 8 14 8 14 8 14 8 15 8 15 8 15 8 14 8 13 8 10 8 8 8 8 8 8 8 8 8 8 8 10 8 10 8 11 8 11 8 10 8 8 8 7 8 8 8 7 8 8 8 8 8 8 8 5 8 4 8 2 8 2 8 3 8 3 8 4 8 2 8 2 8 2 8 3 8 3 8 2 8 1 8-1 8-2 8-3 8-2 8-1 8 1 8 2 8 4 8 4 8 3 8 2 8 0 8-1 8-1 8-1 8 1 8 2 8 3 8 2 8 1 8-1 8-3 8-4 8-3 8-3 8 0 8 3 8 4 8 4 8 5 8 3 8 3 8 3"/><path d="M2248 4091l8 2 8 1 8 2 8 0 8 1 8 0 8 1 8 1 8 2 8 1 8 1 8 0 8-1 8-2 8-3 8-3 8-2 8-1 8 0 8 2 8 3 8 2 8 1 8-1 8-1 8-2 8-2 8-3 8-3 8-5 8-6 8-5 8-3 8-2 8 0 8-1 8 0 8-1 8-1 8-2 8-1 8 0 8 0 8-2 8-3 8-4 8-5 8-3 8-3 8-3 8-3 8-3 8-3 8-3 8-4 8-4 8-5 8-5 8-5 8-5 8-3 8-2 8 0 8 0 8-1 8-3 8-3 8-5 8-6 8-6 8-6 8-7 8-6 8-5 8-2 8-1 8 0 8 0 8-2 8-4 8-5 8-6 8-6 8-4 8-3 8-2 8-4 8-4 8-5 8-5 8-5 8-5 8-6 8-5 8-6 8-5 8-4 8-2 8-2 8-1 8-1 8-1 8-1 8-1 8-1 8-3 8-3 8-3 8-1 8-1 8 0 8 0 8 0 8-1 8 0 8 0 8 0 8 2 8 2 8 2 8 1 8-1 8-1 8 1 8 3 8 5 8 8 8 8 8 10 8 10 8 9 8 10 8 11 8 13 8 13 8 13 8 11 8 9 8 7 8 8 8 10 8 11 8 14 8 13 8 14 8 13 8 13 8 12 8 11 8 10 8 10 8 10 8 9 8 9 8 7 8 6 8 5 8 4 8 4 8 3 8 4 8 4 8 3 8 3 8 3 8 3 8 2 8 4 8 4 8 3 8 3 8 2 8 1 8 0 8-2 8-3 8-4 8-2 8-1 8 1 8 2 8 2 8 3 8 1 8 1 8 2 8 1 8 1 8 1 8 3 8 2 8 4 8 3 8 5 8 3 8 3 8 1 8 0 8-1 8-2 8-1 8 0 8 2 8 3 8 2 8 1 8-1"/><path d="M2248 4127l8 2 8 1 8 0 8 0 8-1 8-1 8 0 8-1 8-1 8-2 8-2 8-2 8 0 8 2 8 2 8 2 8 3 8 1 8 1 8 0 8 0 8-1 8-1 8-3 8-3 8-4 8-4 8-4 8-3 8-2 8-2 8-2 8-2 8-2 8-1 8-1 8 0 8-2 8-2 8-2 8-3 8-3 8-2 8-2 8-1 8-1 8 1 8 0 8-2 8-4 8-7 8-9 8-8 8-6 8-5 8-2 8-1 8-1 8 0 8-2 8-2 8-3 8-3 8-2 8-2 8-3 8-4 8-5 8-6 8-6 8-5 8-5 8-4 8-3 8-4 8-3 8-1 8-2 8-2 8-3 8-6 8-5 8-6 8-5 8-6 8-6 8-6 8-5 8-4 8-3 8-2 8-2 8-2 8-4 8-3 8-3 8-2 8-1 8 0 8 1 8 0 8-2 8-4 8-5 8-5 8-4 8-4 8-3 8-2 8-2 8-3 8-3 8-3 8-3 8-2 8-1 8 1 8 3 8 3 8 3 8 1 8 1 8 1 8 1 8 3 8 5 8 6 8 7 8 7 8 8 8 8 8 9 8 11 8 11 8 11 8 10 8 11 8 11 8 13 8 16 8 17 8 18 8 17 8 16 8 13 8 10 8 8 8 6 8 7 8 9 8 10 8 12 8 10 8 9 8 6 8 4 8 3 8 4 8 5 8 5 8 6 8 5 8 5 8 4 8 4 8 5 8 4 8 3 8 3 8 1 8 0 8 1 8 1 8 2 8 3 8 2 8 1 8 1 8 0 8 1 8 1 8 2 8 2 8 1 8-1 8-3 8-4 8-3 8 0 8 3 8 5 8 5 8 3 8 1 8 0 8-2 8-1 8-2 8 0 8 1 8 2 8 3 8 4 8 3 8 2 8 2 8 0"/><path d="M2248 4153l8-2 8-2 8-2 8-2 8 1 8 1 8 3 8 4 8 5 8 4 8 2 8 0 8-2 8-3 8-2 8-1 8-1 8-2 8-2 8-2 8 0 8 0 8 2 8 1 8 0 8-1 8-3 8-4 8-4 8-3 8-2 8-1 8-1 8 0 8-1 8-2 8-2 8-4 8-4 8-4 8-2 8-1 8 0 8 0 8-2 8-4 8-4 8-4 8-5 8-5 8-4 8-2 8 1 8 1 8 1 8-2 8-4 8-6 8-6 8-6 8-6 8-5 8-5 8-6 8-5 8-5 8-4 8-3 8-2 8-2 8-2 8-1 8-3 8-3 8-5 8-5 8-5 8-4 8-4 8-4 8-6 8-5 8-5 8-5 8-6 8-5 8-4 8-3 8-1 8 0 8 1 8 0 8-1 8-4 8-7 8-8 8-9 8-6 8-5 8-2 8-2 8-2 8-1 8-2 8-3 8-3 8-3 8-4 8-2 8-2 8-1 8 0 8 1 8 1 8 2 8 3 8 1 8 1 8-1 8-3 8-4 8-2 8-1 8 2 8 4 8 5 8 7 8 7 8 9 8 10 8 9 8 10 8 9 8 9 8 11 8 13 8 13 8 15 8 15 8 15 8 17 8 16 8 16 8 15 8 12 8 11 8 8 8 7 8 6 8 7 8 7 8 7 8 8 8 9 8 9 8 7 8 8 8 6 8 6 8 6 8 5 8 5 8 4 8 4 8 4 8 4 8 3 8 3 8 3 8 2 8 3 8 2 8 2 8 1 8 1 8-1 8-1 8-1 8-1 8 0 8 1 8 2 8 1 8 1 8 0 8-1 8-1 8-2 8-1 8-1 8 0 8 1 8 3 8 2 8 2 8 1 8 0 8 0 8-1 8 1 8 0 8 0 8 2 8 1 8 2 8 3 8 3"/><path d="M2248 4184l8-3 8-3 8-2 8-1 8 1 8 2 8 3 8 1 8-1 8-2 8-2 8-2 8 0 8 1 8 0 8-1 8-1 8-1 8 0 8 1 8 1 8 0 8 0 8 0 8 1 8 2 8 1 8 1 8-1 8-1 8-1 8-3 8-4 8-5 8-4 8-2 8-2 8-1 8-1 8-3 8-3 8-4 8-3 8-2 8-2 8-4 8-5 8-4 8-3 8 0 8 2 8 3 8 0 8-4 8-5 8-5 8-5 8-3 8-2 8-2 8-2 8-3 8-4 8-5 8-7 8-8 8-6 8-6 8-4 8-3 8-3 8-2 8-3 8-4 8-5 8-6 8-7 8-6 8-6 8-7 8-6 8-6 8-5 8-3 8-2 8-2 8-1 8-1 8-2 8-4 8-4 8-5 8-5 8-4 8-3 8-3 8-4 8-4 8-5 8-4 8-2 8-1 8 0 8 1 8 0 8-2 8-3 8-5 8-5 8-6 8-3 8-2 8 2 8 3 8 5 8 3 8 1 8 0 8-2 8-2 8 0 8 1 8 2 8 3 8 4 8 4 8 5 8 7 8 6 8 8 8 8 8 10 8 10 8 11 8 10 8 10 8 11 8 12 8 13 8 15 8 14 8 13 8 12 8 12 8 12 8 11 8 10 8 11 8 11 8 12 8 11 8 11 8 9 8 6 8 6 8 5 8 5 8 5 8 6 8 6 8 6 8 5 8 4 8 4 8 2 8 2 8 2 8 3 8 4 8 5 8 6 8 6 8 5 8 2 8 1 8-1 8-2 8-1 8-1 8 0 8 1 8-1 8 0 8 0 8 0 8 1 8 2 8 1 8 0 8-2 8-1 8-1 8 1 8 1 8 2 8 1 8 1 8 1 8 2 8 2 8 2 8 1 8 0 8 0 8-1 8 0 8 0"/><path d="M2248 4206l8 1 8 2 8 3 8 4 8 2 8 3 8 2 8 0 8-1 8-2 8-2 8-2 8-1 8 0 8-1 8-2 8-2 8-2 8-1 8-1 8 0 8-1 8 1 8 0 8-1 8-1 8-3 8-4 8-4 8-5 8-4 8-2 8-1 8 0 8 2 8 2 8 3 8 2 8-1 8-3 8-5 8-5 8-5 8-3 8-3 8-3 8-2 8-1 8 0 8 1 8-1 8-2 8-4 8-6 8-6 8-6 8-4 8-3 8-2 8-3 8-5 8-4 8-4 8-2 8-2 8-2 8-2 8-3 8-2 8-2 8-3 8-4 8-5 8-7 8-7 8-8 8-6 8-6 8-5 8-5 8-5 8-4 8-3 8-2 8-3 8-4 8-6 8-8 8-7 8-8 8-5 8-2 8-1 8 0 8-1 8-3 8-5 8-5 8-6 8-5 8-4 8-1 8-1 8-2 8-4 8-5 8-5 8-4 8-2 8 0 8 1 8 3 8 2 8 1 8 0 8-2 8-2 8-2 8 0 8 0 8 0 8 0 8-1 8 2 8 4 8 7 8 9 8 10 8 8 8 7 8 6 8 7 8 9 8 13 8 16 8 17 8 17 8 17 8 16 8 14 8 13 8 11 8 11 8 10 8 10 8 12 8 13 8 12 8 9 8 8 8 7 8 8 8 9 8 9 8 10 8 8 8 7 8 5 8 2 8 2 8 3 8 4 8 7 8 7 8 6 8 4 8 3 8 1 8 0 8-2 8-1 8-1 8 0 8 2 8 3 8 4 8 5 8 4 8 2 8 0 8-2 8-2 8-3 8-1 8 1 8 2 8 1 8 1 8 1 8 1 8 2 8 1 8 1 8 0 8-1 8-2 8 0 8 0 8 1 8 1 8 2 8 1 8 1 8 1 8 0 8 1 8 2"/></g>
<g stroke="#2a2a2a" stroke-width="7.8"><path d="M4572 1645l8 3 8 2 8 1 8 0 8-2 8-2 8-3 8 0 8 1 8 2 8 0 8-2 8-3 8-2 8-1 8-3 8-7 8-8 8-8 8-11 8-13 8-14 8-13 8-15 8-17 8-19 8-20 8-17 8-17 8-14 8-11 8-10 8-9 8-7 8-5 8-3 8 0 8 1 8-1 8-3 8-2 8 2 8 4 8 4 8 5 8 3 8 4 8 5 8 7 8 8 8 8 8 7 8 6 8 9 8 11 8 10 8 8 8 9 8 11 8 10 8 8 8 9 8 7 8 8 8 9 8 10 8 7 8 6 8 4 8 4 8 4 8 3 8 4 8 3 8 2 8 0 8-1 8 2 8 3 8 2 8 1 8 1 8 0 8-1 8 0 8 2 8 1 8 1 8 1 8-1 8-1 8-1 8-2 8-1 8 1 8 2 8 2 8 2 8 0 8-1 8-2 8-3 8 0 8 0 8-2 8-1 8 1 8 1 8-2 8-2 8 0 8 1 8-1 8-2 8-1 8-1 8 1 8 1 8 1 8 0 8 0 8 0 8-1 8 0 8-1 8-1 8-1 8 1 8 0 8 0 8 1 8 1 8-1 8-3 8-1 8 0 8 1 8 1 8 0 8 1 8 0 8 0 8 1 8 0 8-1 8 0 8 1 8 2 8-1 8-1 8-1 8-1 8-4 8-3 8-1 8 0 8 1 8 2 8 2 8 2 8 0 8-2 8-2 8-2 8 1 8 0 8-1 8 0 8 1 8 0 8-1 8-3 8-3 8-1 8 1 8 2 8-1 8-1 8-2 8-1 8 1 8 1 8 1 8 0 8 0 8-1 8-2 8-3 8-2 8 1 8 4 8 5 8 2 8-1 8-3 8-1 8-2 8-2 8-2 8 1 8 0 8 1 8 1 8 0 8-1 8-1 8 0 8-1 8 0"/><path d="M4572 1675l8 1 8 0 8-1 8 0 8 0 8-1 8-1 8 0 8 3 8 1 8-1 8-4 8-4 8-3 8 0 8 0 8-4 8-6 8-6 8-7 8-9 8-11 8-11 8-13 8-17 8-19 8-20 8-19 8-17 8-16 8-13 8-12 8-10 8-9 8-7 8-5 8-2 8-1 8-1 8-1 8 0 8 0 8 1 8 1 8 3 8 2 8 3 8 3 8 3 8 6 8 8 8 10 8 8 8 7 8 5 8 7 8 7 8 8 8 9 8 12 8 12 8 11 8 10 8 9 8 7 8 5 8 6 8 7 8 7 8 7 8 7 8 6 8 3 8 2 8 2 8 3 8 4 8 3 8 2 8 1 8-1 8-1 8-1 8 0 8 0 8 1 8 4 8 3 8 0 8-2 8-2 8 0 8 0 8-1 8-2 8-1 8 2 8 1 8 0 8-1 8 1 8 2 8-1 8-3 8-4 8-1 8 2 8 2 8 2 8 1 8-1 8 0 8 1 8 0 8-1 8-2 8-2 8-1 8 0 8 2 8 3 8 1 8-1 8-3 8-3 8-1 8-1 8 1 8 2 8 1 8-2 8-1 8 1 8-1 8-3 8-1 8 0 8 0 8 1 8 0 8-1 8-1 8-1 8-1 8 3 8 4 8 2 8 0 8-2 8-1 8 3 8 0 8-2 8-2 8 1 8 0 8-2 8-2 8-2 8-1 8 0 8 0 8 1 8 0 8-1 8-1 8 0 8 0 8 2 8 2 8-2 8-4 8-3 8-1 8 0 8-1 8-1 8 1 8 4 8 1 8-1 8-2 8-2 8 0 8-1 8 0 8 0 8 2 8 1 8 2 8 0 8 1 8 0 8 0 8-2 8-3 8-3 8-3 8-1 8 3 8 3 8 0 8-3 8-1 8 0 8-2 8-1 8 2 8 2"/><path d="M4572 1704l8-1 8 0 8 1 8 0 8-2 8-3 8-3 8 1 8 2 8 1 8-1 8-1 8-2 8-1 8-2 8-3 8-3 8-3 8-4 8-5 8-5 8-7 8-11 8-12 8-13 8-14 8-15 8-17 8-17 8-17 8-18 8-16 8-14 8-11 8-8 8-7 8-8 8-6 8-1 8 1 8 0 8-1 8 0 8 1 8 2 8 4 8 3 8 1 8 1 8 4 8 5 8 5 8 4 8 3 8 4 8 6 8 9 8 13 8 13 8 10 8 8 8 7 8 9 8 10 8 9 8 6 8 6 8 9 8 12 8 10 8 6 8 4 8 4 8 5 8 4 8 2 8 2 8 2 8 1 8 1 8 2 8 3 8 3 8 2 8 0 8 0 8 0 8 2 8 0 8 1 8 0 8 2 8 2 8 0 8-4 8-5 8-2 8 2 8 3 8 1 8 1 8 0 8-1 8-2 8-1 8 1 8 1 8 0 8 0 8 1 8 0 8 0 8 0 8 1 8-1 8-1 8-1 8-3 8-3 8-3 8 0 8 3 8 2 8-1 8-1 8 3 8 4 8-1 8-4 8-3 8-1 8 0 8 1 8 0 8-2 8-1 8 0 8 1 8 2 8 2 8-1 8-2 8-2 8 0 8 0 8-1 8-3 8-2 8 1 8 3 8 3 8 1 8-1 8-2 8-1 8 0 8 1 8 1 8-1 8-3 8-2 8-1 8 2 8 3 8 2 8-1 8-2 8-2 8-2 8-2 8-3 8-3 8 2 8 3 8 2 8 1 8 0 8-2 8-2 8-1 8-1 8 1 8 2 8 2 8-1 8-3 8-3 8 0 8 1 8 1 8 1 8-1 8 0 8 0 8 0 8 0 8-1 8-1 8-1 8 0 8 1 8 0 8 0 8 0 8 0 8 1 8 2 8 1 8 0"/><path d="M4572 1733l8-1 8 0 8 1 8 2 8 0 8-4 8-4 8-1 8 1 8 1 8 0 8-1 8 0 8-1 8 1 8 0 8-2 8-5 8-7 8-5 8-3 8-5 8-9 8-10 8-10 8-11 8-12 8-15 8-19 8-18 8-18 8-17 8-14 8-14 8-14 8-10 8-8 8-5 8-2 8-1 8-1 8-2 8-3 8-2 8-1 8 0 8 2 8 4 8 3 8 4 8 3 8 5 8 6 8 4 8 4 8 5 8 5 8 6 8 8 8 10 8 9 8 8 8 9 8 10 8 11 8 9 8 7 8 8 8 8 8 8 8 9 8 9 8 6 8 4 8 5 8 6 8 7 8 5 8 3 8 0 8-1 8-1 8 1 8 5 8 5 8 2 8-1 8-3 8-1 8 2 8 2 8 0 8-3 8-3 8-1 8 1 8 3 8 1 8 0 8-3 8-1 8 1 8 0 8-1 8 0 8 3 8 2 8-1 8 0 8 0 8 0 8 1 8 0 8 0 8-2 8-1 8 0 8 2 8 0 8 1 8 1 8-1 8-2 8-3 8-2 8-1 8 0 8 0 8 1 8 1 8 0 8-2 8 0 8 1 8 1 8-1 8-2 8-1 8-1 8 2 8 3 8 1 8-2 8-3 8-1 8 2 8 1 8 0 8 0 8 1 8-2 8-4 8-2 8 0 8 2 8-1 8-1 8-1 8 0 8-1 8-1 8 1 8 0 8 0 8 0 8 0 8-3 8 0 8 1 8-1 8-3 8-2 8 2 8 3 8 1 8-1 8 1 8 2 8 3 8 1 8-1 8 0 8-1 8-1 8-2 8-1 8 0 8 1 8-2 8-4 8-3 8-2 8 0 8 2 8 3 8 2 8 1 8 0 8 0 8-1 8-2 8-1 8 1 8 0 8-1 8 0 8 1 8 0 8-1"/><path d="M4572 1764l8-3 8-2 8-2 8-2 8 0 8 3 8 5 8 2 8-1 8-2 8 0 8-1 8-2 8-4 8-1 8-2 8-1 8-1 8-3 8-2 8-3 8-5 8-8 8-7 8-6 8-6 8-11 8-14 8-18 8-21 8-21 8-18 8-15 8-13 8-12 8-11 8-10 8-8 8-7 8-5 8-4 8-3 8-4 8-1 8 1 8 2 8 0 8 0 8 3 8 4 8 4 8 3 8 2 8 3 8 6 8 6 8 5 8 1 8 5 8 8 8 11 8 10 8 8 8 9 8 6 8 7 8 8 8 11 8 11 8 9 8 8 8 6 8 7 8 7 8 5 8 3 8 4 8 4 8 5 8 6 8 4 8 4 8 4 8 3 8 1 8 0 8 0 8 2 8 2 8 0 8-2 8-2 8 0 8 1 8 2 8 2 8-1 8-1 8 0 8 0 8 0 8-1 8 0 8 1 8 1 8-1 8-1 8 1 8 1 8 1 8-1 8 0 8 0 8 1 8-1 8-3 8-1 8-1 8 0 8-1 8 0 8 0 8-1 8 1 8 1 8-1 8-2 8-1 8-2 8 0 8 3 8 4 8 2 8-1 8-3 8-3 8-3 8-1 8-1 8 1 8 2 8 2 8 1 8-1 8-1 8 0 8 0 8 0 8-1 8-2 8-1 8 0 8 0 8-1 8-2 8 1 8 2 8 1 8-3 8-3 8-1 8 1 8 3 8 1 8-1 8-1 8-2 8 1 8 1 8 0 8-2 8 0 8 3 8 3 8 0 8-2 8-3 8-4 8 0 8 2 8 1 8 0 8-2 8-1 8 1 8 1 8-1 8-2 8-2 8 0 8 1 8 2 8 2 8 0 8-2 8-3 8 0 8-1 8-1 8-2 8-1 8 0 8 1 8 0 8 0 8-1 8-2 8-2 8 0"/><path d="M4572 1784l8-1 8 0 8 0 8 0 8 0 8-1 8-1 8 1 8 2 8 0 8 0 8-1 8-2 8-1 8 1 8 2 8-1 8-3 8-4 8-4 8-1 8-2 8-2 8-4 8-6 8-8 8-12 8-10 8-10 8-12 8-17 8-19 8-19 8-17 8-15 8-14 8-14 8-10 8-8 8-6 8-6 8-4 8-4 8-2 8 0 8 1 8 2 8 3 8 1 8 0 8 2 8 2 8 1 8-1 8 1 8 3 8 5 8 7 8 8 8 6 8 5 8 6 8 7 8 5 8 5 8 6 8 7 8 9 8 10 8 9 8 9 8 10 8 9 8 9 8 7 8 7 8 7 8 6 8 4 8 3 8 5 8 6 8 6 8 4 8 0 8-2 8 1 8 5 8 4 8 0 8-1 8 1 8 1 8 0 8-1 8 0 8 1 8 0 8 0 8-1 8 0 8 0 8 1 8 0 8-1 8-1 8 1 8 1 8 0 8-3 8-3 8 0 8 3 8 1 8 1 8 2 8 1 8-1 8-5 8-2 8 0 8 1 8 0 8 1 8 1 8-1 8-2 8 1 8 1 8-1 8-3 8-2 8 0 8 0 8 1 8 2 8 0 8 0 8-1 8 0 8 0 8 1 8 0 8-1 8 0 8 0 8-2 8-2 8 0 8 0 8 0 8 1 8-1 8 0 8 0 8-1 8-4 8-1 8 1 8 0 8 0 8 1 8 4 8 1 8-2 8-3 8 0 8 1 8 2 8-1 8-1 8 0 8-1 8 0 8-1 8-1 8-2 8-3 8-2 8 0 8 0 8-1 8 0 8 2 8 3 8 1 8-2 8-3 8-2 8 0 8 2 8 2 8 1 8 0 8-1 8-1 8-2 8-2 8-2 8-1 8 1 8 2 8 1 8-1 8-1 8 0 8 0 8 0 8 1"/><path d="M4572 1812l8 2 8 1 8-1 8-1 8 0 8 0 8-1 8-1 8 0 8 1 8 1 8 1 8 0 8 0 8 0 8-2 8-3 8-2 8-3 8-3 8-2 8 0 8 1 8-1 8-6 8-6 8-8 8-9 8-13 8-14 8-15 8-14 8-16 8-18 8-17 8-14 8-14 8-13 8-10 8-7 8-5 8-5 8-4 8-3 8-4 8-1 8 1 8 1 8-1 8-1 8 3 8 5 8 2 8-2 8-1 8 0 8 3 8 2 8 3 8 4 8 7 8 6 8 7 8 6 8 4 8 6 8 8 8 10 8 9 8 9 8 11 8 9 8 7 8 7 8 7 8 7 8 9 8 9 8 8 8 7 8 5 8 4 8 3 8 3 8 1 8 0 8 0 8 3 8 4 8 4 8 2 8 1 8 2 8 2 8 1 8-2 8 0 8 0 8 1 8 0 8 1 8-1 8 1 8 3 8 3 8 0 8-3 8-4 8-1 8 0 8 1 8 0 8-1 8-1 8 1 8 0 8 0 8 0 8 0 8 0 8-3 8-1 8 0 8 1 8-1 8-3 8-3 8-1 8 1 8 1 8-1 8 1 8 2 8 1 8-1 8-4 8-2 8 0 8 1 8 1 8 1 8 0 8 0 8 0 8 0 8 1 8 1 8 0 8-1 8-2 8 0 8 0 8 2 8 2 8 0 8-1 8-2 8-2 8-2 8-1 8 0 8 1 8 1 8 0 8 0 8-1 8-1 8-3 8-2 8 0 8 3 8 1 8-1 8-3 8-1 8 1 8 1 8 0 8 0 8 0 8-1 8-2 8 0 8 2 8 0 8 0 8 0 8 0 8 0 8-1 8 0 8 0 8 1 8 0 8 0 8-3 8-2 8 0 8 1 8 1 8-2 8-3 8-1 8 1 8 1 8-1 8-1 8-1 8-1"/><path d="M4572 1846l8 3 8 0 8-1 8-1 8-1 8-1 8 0 8-2 8-2 8-2 8-1 8 0 8 1 8 1 8 0 8 1 8 1 8 0 8-1 8 0 8-1 8-3 8-3 8-2 8-2 8-4 8-7 8-8 8-9 8-9 8-13 8-15 8-17 8-17 8-18 8-17 8-15 8-13 8-12 8-10 8-8 8-7 8-5 8-3 8-3 8-2 8 0 8-1 8-1 8-1 8 0 8 2 8 4 8 3 8 0 8-2 8-1 8 1 8 2 8 4 8 4 8 4 8 5 8 5 8 7 8 5 8 5 8 6 8 8 8 8 8 5 8 6 8 9 8 10 8 10 8 9 8 9 8 9 8 9 8 7 8 6 8 6 8 5 8 4 8 2 8 1 8 0 8 2 8 4 8 7 8 5 8 3 8 2 8 0 8 0 8-1 8 0 8 1 8 1 8-1 8-1 8 2 8 4 8 2 8-2 8-1 8-1 8-2 8-3 8 0 8 1 8 0 8-3 8-2 8 2 8 3 8 1 8-2 8-1 8-2 8-2 8-1 8-1 8 1 8 1 8 1 8 1 8 0 8 0 8 0 8-1 8 0 8-1 8 0 8 1 8 3 8 2 8-1 8-3 8-3 8-1 8 0 8-1 8-1 8 1 8 2 8 1 8 1 8 0 8 0 8 1 8 0 8-1 8-3 8-3 8 0 8 0 8 0 8 0 8 0 8 0 8 2 8 0 8-1 8 0 8 1 8-1 8-2 8-1 8 1 8-2 8-3 8-3 8-1 8-1 8-1 8 0 8 1 8 0 8-1 8 0 8 0 8 3 8 2 8 2 8-1 8-1 8-1 8 0 8 1 8 1 8-2 8-3 8-3 8-2 8-1 8-1 8 1 8 4 8 2 8 0 8-1 8-2 8-1 8-1 8 0 8 0 8-2 8-2"/><path d="M4572 1877l8-2 8-2 8-2 8-2 8 0 8 0 8 1 8 1 8 0 8-1 8 0 8 0 8-1 8-2 8-2 8 1 8 2 8 0 8 0 8 0 8 0 8-3 8-5 8-3 8-2 8-3 8-5 8-3 8-4 8-7 8-11 8-13 8-13 8-15 8-16 8-19 8-17 8-15 8-14 8-11 8-10 8-8 8-6 8-5 8-5 8-5 8-2 8 0 8 0 8-2 8-1 8 0 8 1 8 3 8 3 8 2 8 2 8 1 8 1 8 1 8 2 8 2 8 3 8 0 8 2 8 4 8 8 8 7 8 6 8 4 8 6 8 8 8 10 8 8 8 6 8 7 8 10 8 12 8 11 8 9 8 7 8 5 8 4 8 5 8 6 8 6 8 5 8 4 8 2 8 0 8 1 8 4 8 4 8 2 8 1 8 1 8 1 8-1 8-2 8-1 8 0 8 1 8 5 8 3 8-1 8-1 8-1 8-1 8 0 8 0 8-2 8-2 8-2 8-1 8 0 8 2 8 1 8 2 8 2 8 0 8-2 8-1 8-1 8-1 8-1 8-2 8 0 8 0 8 1 8 1 8 0 8 0 8 0 8-1 8-3 8 0 8 2 8 2 8-1 8-2 8-1 8-1 8-1 8 2 8 2 8 0 8 0 8-1 8-2 8-2 8 0 8 0 8-1 8-3 8-2 8 0 8 2 8 3 8 1 8-1 8-1 8 1 8 0 8 1 8 0 8-2 8-3 8-1 8 0 8 1 8 3 8 1 8-2 8-3 8-3 8 0 8 4 8 4 8 0 8-2 8-2 8-1 8-1 8-1 8 0 8 0 8 0 8 0 8-1 8-1 8-1 8-1 8-1 8 2 8 3 8 1 8-1 8 1 8 2 8-1 8-2 8 0 8 1 8 1 8 1 8-1 8-2 8-3 8-2"/><path d="M4572 1897l8 2 8 1 8 1 8 0 8 0 8 1 8 1 8 1 8-1 8-2 8-1 8-2 8 0 8 0 8-1 8 0 8 0 8 1 8-1 8-1 8-1 8 0 8 0 8-1 8-2 8-3 8-3 8-5 8-6 8-7 8-6 8-8 8-12 8-13 8-13 8-12 8-14 8-15 8-17 8-17 8-17 8-13 8-8 8-5 8-5 8-7 8-4 8-1 8 2 8-1 8-1 8-1 8 1 8 2 8 1 8 1 8 0 8 0 8-2 8 1 8 3 8 2 8 1 8 0 8 1 8 3 8 4 8 7 8 8 8 8 8 6 8 6 8 4 8 5 8 7 8 9 8 8 8 9 8 8 8 8 8 8 8 8 8 7 8 6 8 7 8 7 8 6 8 5 8 4 8 1 8 0 8 2 8 4 8 4 8 4 8 2 8-1 8-1 8-1 8 3 8 3 8 2 8 1 8 0 8 0 8-1 8-1 8 0 8 0 8-1 8-1 8 0 8 2 8 1 8-1 8-1 8 1 8 0 8-2 8-1 8 1 8 0 8-1 8-2 8-2 8-1 8 2 8 1 8 0 8-1 8-1 8 0 8 2 8 3 8 2 8-1 8-4 8-2 8 0 8 0 8 1 8 0 8-1 8-2 8 0 8-1 8-2 8-1 8 1 8 3 8 1 8-2 8-1 8 0 8 0 8-2 8 0 8 1 8 3 8 1 8-1 8-3 8-1 8 0 8 1 8 1 8-1 8 0 8 0 8-2 8-1 8 0 8 1 8 0 8-1 8-2 8-3 8-1 8 2 8 2 8 1 8-1 8 0 8 0 8 1 8 0 8-2 8-2 8 1 8 0 8-1 8-2 8-1 8 0 8 1 8 1 8 0 8 0 8 0 8-2 8-1 8 0 8 0 8 1 8-1 8-2 8-1 8 1 8 1"/><path d="M4572 1928l8 0 8-1 8-1 8-1 8 0 8-1 8-2 8-1 8 0 8 3 8 3 8 0 8-2 8-2 8 1 8 1 8 0 8-1 8 0 8-1 8-1 8 0 8 0 8-1 8-4 8-4 8-1 8 0 8 0 8 0 8-5 8-8 8-10 8-11 8-14 8-16 8-16 8-16 8-15 8-13 8-15 8-14 8-13 8-11 8-7 8-3 8-1 8-1 8-2 8-3 8-2 8-2 8-2 8-2 8 1 8 3 8 1 8-2 8-1 8 0 8 0 8 1 8 2 8 3 8 4 8 3 8 3 8 3 8 4 8 4 8 4 8 6 8 7 8 6 8 3 8 4 8 8 8 11 8 11 8 8 8 8 8 6 8 6 8 7 8 7 8 7 8 4 8 4 8 3 8 4 8 3 8 4 8 6 8 6 8 5 8 2 8 1 8 1 8 1 8 2 8 2 8 0 8 1 8 0 8-1 8-1 8 1 8 4 8 4 8 2 8-1 8-4 8-3 8-1 8 1 8 1 8-3 8-3 8-2 8 1 8 4 8 3 8 2 8 0 8-2 8-1 8 0 8-1 8-2 8-1 8 1 8 1 8-3 8-3 8-1 8 1 8-1 8-1 8 0 8 1 8 2 8 2 8 0 8-1 8 0 8 2 8 0 8-1 8-2 8-3 8-4 8-2 8-1 8 2 8 2 8 0 8-1 8-1 8 2 8 1 8 0 8-1 8 0 8 0 8 0 8 1 8 1 8 1 8-1 8 0 8 1 8 1 8-1 8-2 8-2 8-2 8 0 8 2 8 3 8 0 8-2 8-2 8 2 8 2 8 1 8-2 8-3 8-1 8 1 8-2 8-5 8-1 8 1 8 0 8-1 8 0 8 1 8 1 8-1 8-1 8-1 8 2 8 2 8 2 8 0 8-2 8-2 8-2 8-1"/><path d="M4572 1960l8-1 8-2 8-2 8-1 8 0 8 0 8 2 8 1 8 1 8 0 8 1 8 0 8 0 8-2 8-2 8-1 8 1 8 1 8-1 8-3 8-1 8-1 8-1 8-2 8 0 8 1 8 2 8 0 8-4 8-5 8-6 8-5 8-6 8-6 8-8 8-13 8-17 8-17 8-15 8-17 8-17 8-14 8-10 8-7 8-8 8-7 8-7 8-5 8-3 8-3 8-3 8-2 8-1 8-1 8-1 8 0 8 2 8 3 8 1 8-2 8 0 8 1 8 2 8 1 8 2 8 3 8 3 8 0 8 1 8 3 8 4 8 4 8 4 8 5 8 6 8 6 8 5 8 3 8 5 8 8 8 9 8 10 8 9 8 9 8 8 8 8 8 6 8 5 8 4 8 5 8 6 8 6 8 5 8 6 8 6 8 5 8 1 8 0 8-1 8 0 8-1 8 0 8 2 8 5 8 2 8-1 8-2 8-1 8 2 8 3 8 1 8 0 8 0 8-1 8 0 8 0 8 0 8 0 8-2 8-3 8-1 8 1 8 1 8 3 8 2 8 1 8-1 8-3 8-2 8-1 8 1 8 1 8 2 8-1 8-2 8-2 8 1 8 0 8 0 8 0 8 0 8-1 8-1 8 0 8 0 8-1 8-1 8 0 8 2 8 1 8-1 8-1 8-1 8-2 8-1 8 1 8 1 8-1 8-1 8-1 8-2 8-1 8 0 8 1 8 1 8 0 8 0 8 1 8 0 8 1 8 0 8-1 8-1 8 0 8 1 8-1 8-2 8-2 8 1 8 1 8 0 8-1 8-2 8 0 8 0 8 0 8 0 8 1 8 0 8 0 8-1 8-1 8-2 8-2 8-1 8 0 8-1 8-1 8 1 8 2 8 3 8 1 8 0 8-2 8 0 8 1 8-2 8-2 8-1"/><path d="M4572 1989l8-2 8-2 8-1 8 1 8 2 8 0 8-2 8-2 8-1 8-1 8-1 8-2 8 0 8 1 8 1 8 0 8 2 8 1 8-1 8-2 8 1 8 0 8-1 8 0 8 1 8 1 8 2 8-2 8-5 8-5 8-5 8-3 8-5 8-4 8-5 8-8 8-11 8-14 8-16 8-17 8-18 8-15 8-14 8-13 8-11 8-9 8-5 8-2 8-2 8-5 8-3 8-2 8-2 8-1 8-1 8-2 8-3 8 0 8 2 8 1 8-1 8-1 8 2 8 4 8 1 8 0 8 0 8 2 8 1 8 1 8 1 8 1 8 3 8 4 8 5 8 6 8 5 8 4 8 4 8 6 8 9 8 11 8 8 8 6 8 7 8 8 8 8 8 6 8 7 8 7 8 7 8 5 8 5 8 3 8 4 8 4 8 6 8 4 8 4 8 3 8 2 8 1 8 0 8 0 8 1 8 1 8 0 8-2 8-3 8 0 8 3 8 4 8 1 8-1 8 1 8 3 8 0 8-3 8-4 8-2 8 0 8 1 8 2 8 1 8-2 8-1 8 0 8-1 8-2 8 0 8 2 8 4 8 2 8 0 8-3 8-3 8-1 8 0 8 0 8 1 8 1 8 0 8-1 8 1 8 1 8 0 8-1 8-1 8-2 8-3 8-2 8 1 8 1 8 1 8 0 8 0 8 0 8-2 8-2 8 0 8 2 8 1 8-1 8-1 8 0 8 0 8-1 8 1 8 0 8 0 8 0 8-1 8-3 8-3 8-1 8 0 8 3 8 1 8 0 8 0 8 0 8 0 8 0 8-1 8-1 8-1 8-1 8 1 8 0 8-1 8-2 8-1 8-1 8 1 8 1 8 2 8 2 8-1 8-2 8-3 8-1 8 1 8 1 8 0 8 1 8 0 8-1 8-2 8 0"/><path d="M4572 2011l8 3 8 1 8 0 8-1 8 1 8 1 8-2 8-1 8-2 8-1 8-2 8-1 8 0 8-1 8 1 8 3 8 4 8 1 8-4 8-3 8 0 8 1 8 1 8-1 8-1 8-2 8-2 8-1 8-1 8-1 8 0 8-1 8-4 8-5 8-7 8-8 8-9 8-11 8-12 8-13 8-13 8-14 8-15 8-13 8-13 8-12 8-10 8-8 8-7 8-4 8-1 8 0 8-2 8-3 8-1 8-2 8 0 8 1 8 1 8-1 8-1 8 1 8 0 8-2 8-2 8 0 8 1 8 2 8 1 8 1 8 2 8 3 8 1 8 3 8 7 8 7 8 2 8 1 8 2 8 6 8 7 8 7 8 7 8 7 8 6 8 7 8 9 8 11 8 10 8 6 8 6 8 6 8 6 8 5 8 3 8 3 8 4 8 6 8 5 8 3 8-1 8 0 8 0 8 2 8 2 8 2 8 1 8 0 8 1 8 3 8 3 8 1 8-2 8-1 8-3 8-1 8-1 8 0 8 3 8 3 8 1 8 0 8-1 8-1 8-1 8 0 8 1 8 1 8 1 8 0 8 0 8-1 8-1 8-1 8 1 8 0 8 1 8 0 8-1 8-2 8-2 8-1 8-2 8 0 8 1 8 1 8 0 8-1 8 0 8 1 8 1 8-2 8-2 8-3 8-2 8 0 8 1 8-1 8 0 8 2 8 4 8 1 8-1 8-3 8-2 8 0 8 0 8-2 8-2 8 1 8 0 8 0 8 0 8 0 8 1 8 1 8-1 8-1 8 0 8 1 8-1 8-1 8-1 8-1 8 0 8 2 8 1 8-1 8-2 8-2 8-1 8-1 8-1 8 0 8 2 8 3 8 3 8 1 8-3 8-4 8-1 8 0 8-2 8-1 8-1 8-1 8 1 8 1 8 1"/><path d="M4572 2040l8-3 8-1 8 0 8 3 8 3 8-1 8-3 8 0 8 2 8 2 8 0 8-2 8-3 8-3 8 0 8 0 8-1 8 0 8 1 8 1 8 2 8 0 8 0 8 0 8 0 8-1 8-1 8 1 8 1 8-1 8-3 8-3 8-1 8-1 8-2 8-5 8-7 8-9 8-11 8-11 8-13 8-14 8-16 8-17 8-15 8-11 8-11 8-11 8-9 8-6 8-4 8-2 8-2 8-3 8-3 8-1 8 0 8 1 8 1 8-1 8-1 8 0 8 0 8 0 8-1 8-1 8 1 8 2 8 3 8 3 8 2 8 0 8 0 8 1 8 2 8 3 8 3 8 4 8 4 8 1 8-1 8 2 8 5 8 8 8 8 8 8 8 7 8 6 8 7 8 9 8 8 8 9 8 8 8 6 8 6 8 7 8 6 8 7 8 6 8 4 8 0 8-1 8 0 8 0 8 1 8 4 8 5 8 1 8-1 8 0 8 1 8 1 8 1 8 1 8 2 8 1 8-1 8-3 8-2 8 1 8 3 8 0 8-2 8-1 8-1 8 0 8 0 8 1 8 3 8 1 8-1 8 0 8-2 8-2 8 0 8 0 8 1 8 1 8 1 8 0 8 2 8 1 8-3 8-4 8-3 8-1 8 1 8 0 8 2 8 1 8-1 8-2 8-1 8 1 8 0 8-1 8-1 8-1 8-1 8 0 8 3 8 2 8 1 8-1 8-3 8-3 8-1 8 0 8 1 8 0 8 1 8 1 8 1 8 1 8 0 8-2 8-2 8-1 8-1 8-2 8 0 8 1 8 0 8-2 8-3 8 0 8 0 8 2 8 2 8 1 8-2 8-3 8-3 8-1 8 1 8 1 8-1 8 0 8 1 8 1 8 1 8-1 8-2 8-1 8 1 8 1 8 0 8 0 8 1"/><path d="M4600 2069l8 0 8 1 8 0 8 0 8-2 8-2 8-1 8-1 8 0 8 1 8 1 8 0 8-1 8-1 8 2 8 2 8-1 8 0 8 2 8 1 8-1 8-3 8-3 8-1 8 1 8 0 8-2 8-3 8-1 8 1 8 0 8-4 8-7 8-8 8-7 8-6 8-7 8-11 8-16 8-17 8-17 8-15 8-13 8-8 8-8 8-7 8-6 8-5 8-4 8-3 8-3 8-2 8-3 8-1 8 0 8-2 8-2 8 0 8 0 8-1 8-1 8 1 8 4 8 3 8 1 8-1 8 0 8 0 8-1 8-1 8 0 8 0 8 1 8 3 8 2 8 5 8 6 8 5 8 4 8 3 8 5 8 6 8 7 8 6 8 4 8 7 8 8 8 7 8 6 8 5 8 6 8 8 8 7 8 6 8 5 8 5 8 3 8 2 8 3 8 4 8 4 8 4 8 3 8 1 8 0 8 0 8 1 8 0 8 2 8 2 8 1 8 1 8 2 8 1 8-1 8-1 8-2 8 0 8 1 8 0 8-3 8-2 8-1 8 0 8 1 8 1 8 1 8 1 8 0 8 0 8-2 8-2 8 1 8 2 8 1 8-1 8-1 8-1 8 1 8 1 8 0 8-3 8-2 8-2 8-1 8 0 8 2 8 3 8 1 8-1 8-2 8-2 8-2 8-1 8 0 8 3 8 2 8 1 8-1 8-1 8-1 8 0 8 1 8 2 8 0 8-1 8-2 8-2 8-2 8-1 8 0 8-1 8-2 8-1 8 1 8 4 8 3 8 0 8-1 8-1 8 1 8 0 8-1 8-2 8-1 8 2 8 1 8 0 8-2 8-3 8 0 8 2 8 1 8-2 8-2 8 1 8-1 8-2 8-1 8 4 8 4 8 1 8-1 8-3 8-3" stroke="#12b856" stroke-width="12"/><path d="M4572 2102l8-4 8-3 8 1 8 2 8 0 8-2 8-2 8-1 8-1 8 0 8 2 8 1 8-1 8-1 8 0 8 0 8 0 8 1 8 1 8 2 8 0 8-1 8-2 8-2 8-2 8 0 8-2 8-2 8-2 8 1 8 1 8-2 8-1 8 1 8 4 8 2 8-3 8-3 8-2 8-4 8-6 8-8 8-7 8-7 8-10 8-10 8-11 8-13 8-12 8-12 8-11 8-8 8-5 8-5 8-6 8-6 8-5 8-2 8-1 8-1 8-2 8-2 8 1 8 2 8 0 8-2 8-4 8-6 8-4 8-2 8 0 8 0 8 0 8-3 8-4 8-2 8 0 8 3 8 5 8 4 8 7 8 6 8 7 8 8 8 9 8 8 8 11 8 12 8 13 8 10 8 9 8 9 8 11 8 11 8 11 8 10 8 6 8 2 8 0 8-2 8-1 8-1 8-1 8 1 8 1 8 0 8-1 8-2 8-1 8 1 8-1 8-1 8 0 8-1 8-1 8-1 8 0 8 0 8 1 8 1 8 1 8 1 8 0 8 0 8-2 8-1 8 0 8 0 8-2 8-3 8-2 8 0 8 1 8 3 8 2 8 0 8-1 8-1 8 0 8 0 8 2 8 2 8 0 8-1 8-2 8 0 8 0 8-1 8-1 8-1 8 0 8 1 8 0 8-1 8-2 8-1 8 2 8 1 8 1 8 1 8-1 8-1 8-1 8-1 8-2 8-1 8 0 8 0 8 0 8-2 8-2 8-1 8-2 8 0 8 2 8 2 8 1 8-1 8 1 8 2 8 1 8-1 8-2 8-2 8-2 8 0 8 1 8-1 8-1 8 0 8 0 8-1 8-2 8-2 8 0 8 3 8 1 8-1 8-1 8-1 8-1 8-1 8 0 8 1 8 0 8 0 8 0 8-1 8-2"/><path d="M4572 2127l8 0 8 1 8 2 8 3 8 2 8 0 8-3 8-4 8-1 8 2 8 1 8-2 8-3 8-3 8-1 8 2 8 3 8 0 8-2 8-1 8 0 8-1 8-2 8-1 8 1 8 1 8 0 8-2 8-1 8 0 8 1 8 2 8 1 8 1 8-2 8-2 8-2 8-3 8-4 8-4 8-5 8-6 8-6 8-7 8-8 8-9 8-11 8-12 8-12 8-12 8-11 8-10 8-7 8-5 8-6 8-6 8-7 8-5 8-2 8-2 8-2 8-3 8-3 8-3 8-2 8-2 8-4 8-3 8-3 8-4 8-2 8-2 8-3 8-1 8 0 8-1 8-3 8-2 8 1 8 3 8 3 8 7 8 9 8 11 8 10 8 9 8 11 8 12 8 11 8 9 8 10 8 12 8 12 8 14 8 12 8 11 8 9 8 7 8 3 8 3 8 1 8-1 8 0 8 0 8-1 8-1 8-2 8-1 8 1 8 1 8 0 8-2 8-1 8 2 8 3 8 1 8-3 8-4 8-3 8 0 8 2 8 2 8 1 8 1 8 0 8-2 8-3 8-2 8-1 8 0 8 3 8 2 8 1 8-1 8-1 8 1 8 0 8 0 8 1 8 0 8-1 8-2 8-2 8-3 8-4 8 0 8 3 8 3 8 3 8 1 8-1 8-2 8-2 8-4 8-2 8 0 8 2 8 2 8 1 8-2 8-3 8-1 8 2 8 3 8 1 8-1 8-2 8-2 8-2 8-1 8-1 8 0 8-1 8 0 8 1 8 0 8 0 8 1 8 0 8-2 8-2 8 1 8 4 8 2 8-1 8-2 8-2 8-2 8-2 8 0 8 1 8 0 8-1 8-1 8-1 8-1 8-1 8 2 8 4 8 3 8 0 8-3 8-3 8-1 8-1 8-1 8 0 8 1 8 1"/><path d="M4572 2158l8 2 8 0 8 1 8 0 8 1 8 0 8-2 8-3 8-2 8-2 8-1 8 0 8-1 8-1 8 0 8 1 8 1 8 0 8-1 8-3 8-2 8 1 8 2 8 1 8-1 8 0 8 0 8 0 8 0 8-1 8 0 8 1 8 0 8-1 8-3 8-3 8-3 8-3 8-2 8-1 8-2 8-4 8-5 8-5 8-7 8-7 8-9 8-10 8-13 8-14 8-14 8-12 8-8 8-5 8-5 8-7 8-7 8-7 8-6 8-5 8-5 8-3 8 0 8-1 8-3 8-5 8-7 8-6 8-6 8-2 8 0 8 0 8-1 8-2 8-2 8-3 8-4 8-3 8-2 8 1 8 2 8 4 8 5 8 4 8 5 8 8 8 9 8 10 8 10 8 12 8 11 8 9 8 9 8 11 8 12 8 13 8 15 8 15 8 13 8 9 8 6 8 4 8 1 8 2 8 1 8-1 8-1 8 1 8 1 8 1 8 1 8-1 8-1 8-1 8-2 8 0 8-1 8-1 8 0 8 2 8 2 8 1 8-1 8-4 8-4 8-1 8 2 8 3 8 2 8-1 8-3 8 0 8 2 8 1 8-2 8-2 8-4 8-3 8-1 8 3 8 5 8 3 8 1 8 0 8-2 8-1 8-1 8-2 8-1 8 1 8 1 8 0 8-2 8-2 8-1 8 0 8-1 8-1 8 0 8 2 8 1 8 1 8 1 8 1 8 0 8 1 8 0 8 1 8-2 8-1 8 1 8-1 8-3 8-3 8-3 8-1 8 2 8 2 8 1 8 2 8 0 8-3 8-2 8-1 8 0 8 1 8 0 8-1 8-2 8-1 8 0 8-1 8-2 8-1 8 3 8 3 8 1 8-2 8-2 8-1 8 0 8 2 8 3 8 2 8 1 8-2 8-2 8-2 8 0"/><path d="M4572 2185l8 0 8 0 8-1 8-1 8-2 8-1 8 0 8 1 8 2 8 1 8-1 8-1 8-3 8 0 8 2 8 2 8 0 8-4 8-4 8-3 8 0 8 3 8 3 8 0 8 0 8 0 8 0 8-2 8-1 8 0 8 1 8 1 8 2 8 0 8-1 8-3 8-2 8-3 8-2 8-2 8-3 8-5 8-5 8-5 8-7 8-8 8-8 8-8 8-8 8-11 8-14 8-13 8-11 8-9 8-7 8-4 8-6 8-6 8-8 8-8 8-8 8-7 8-3 8-2 8-2 8-2 8-4 8-6 8-4 8-5 8-4 8-4 8-2 8-2 8-2 8-3 8-5 8-4 8-3 8-1 8-1 8 1 8 1 8 2 8 3 8 8 8 9 8 10 8 10 8 11 8 9 8 11 8 14 8 15 8 13 8 9 8 10 8 11 8 12 8 13 8 11 8 10 8 11 8 11 8 6 8 1 8-1 8-1 8-2 8-4 8-1 8 1 8 1 8 2 8 1 8 1 8-1 8-1 8 0 8 0 8 0 8 0 8 0 8-1 8-2 8-2 8-2 8 1 8 3 8 2 8 0 8-3 8-2 8 0 8 2 8 1 8 0 8-1 8 1 8 0 8 0 8 1 8-3 8-3 8-1 8 2 8 1 8 0 8-2 8-2 8-2 8 1 8 1 8 0 8-2 8-1 8-1 8 1 8 2 8 2 8 1 8-1 8-1 8-1 8-4 8-3 8-2 8 0 8 1 8 3 8 0 8-1 8 0 8 0 8 0 8 1 8 1 8-1 8-3 8-2 8-2 8 0 8 2 8 3 8 3 8 1 8-2 8-3 8-2 8-1 8 0 8-2 8-3 8 0 8 2 8 2 8 1 8 1 8-1 8 0 8-1 8 0 8 0 8 0 8-1 8-2 8 0 8 1 8 0"/><path d="M4572 2211l8-3 8-1 8 1 8 3 8 2 8 1 8-2 8-2 8 0 8 2 8-1 8-2 8-1 8-1 8-1 8 0 8 0 8 0 8 1 8 1 8-1 8-2 8-1 8 1 8 3 8 1 8 0 8-1 8 0 8 1 8 0 8-3 8-3 8-1 8-2 8-3 8-3 8 1 8 3 8 1 8-2 8-4 8-4 8-4 8-7 8-8 8-9 8-9 8-8 8-8 8-7 8-9 8-9 8-10 8-9 8-9 8-9 8-9 8-9 8-7 8-7 8-6 8-5 8-4 8-5 8-7 8-5 8-5 8-4 8-3 8-3 8-4 8-4 8-3 8-2 8-5 8-6 8-6 8-5 8-6 8-6 8 1 8 2 8 3 8 3 8 4 8 9 8 12 8 12 8 9 8 8 8 10 8 13 8 11 8 8 8 10 8 13 8 14 8 13 8 11 8 10 8 10 8 13 8 14 8 14 8 9 8 1 8-2 8-2 8-2 8 1 8 3 8 1 8-2 8-1 8 0 8-1 8 1 8 0 8 0 8-1 8-2 8-2 8 0 8 1 8 0 8 0 8 2 8 0 8-1 8-1 8-1 8 0 8-1 8-1 8 0 8 1 8 2 8 2 8-2 8-2 8 1 8 3 8 2 8-2 8-3 8-3 8-1 8 1 8 2 8 1 8 0 8 0 8 0 8 0 8-2 8-1 8-1 8-1 8-1 8 0 8-2 8-2 8 0 8 1 8 0 8 0 8-1 8-1 8-1 8-1 8 1 8 3 8 2 8 0 8 1 8 1 8 1 8 1 8-2 8-3 8-2 8-1 8 0 8-2 8-1 8-1 8-1 8-1 8-2 8-1 8 0 8 0 8 3 8 4 8 3 8 0 8-3 8-2 8-1 8 1 8-1 8-3 8-1 8 2 8 2 8 0 8-1 8-2"/><path d="M4572 2241l8 0 8-2 8-2 8 1 8 0 8-2 8-2 8 1 8 2 8 1 8 1 8 1 8 0 8-1 8-2 8-1 8 1 8 0 8-1 8-3 8-1 8 1 8 3 8 3 8 0 8-2 8 0 8-1 8-1 8-2 8 0 8 3 8 2 8-1 8-3 8-3 8-1 8 0 8-3 8-3 8-3 8-3 8-3 8-2 8-3 8-4 8-3 8-5 8-7 8-10 8-13 8-13 8-10 8-9 8-8 8-7 8-6 8-9 8-9 8-7 8-8 8-9 8-7 8-3 8-4 8-6 8-7 8-5 8-4 8-4 8-6 8-7 8-6 8-3 8-3 8-5 8-5 8-5 8-5 8-6 8-5 8-4 8-3 8 1 8 0 8-1 8-2 8-2 8-1 8 1 8 8 8 11 8 13 8 13 8 12 8 11 8 12 8 10 8 10 8 9 8 11 8 12 8 15 8 15 8 15 8 14 8 16 8 17 8 17 8 8 8-1 8-1 8-2 8-2 8 1 8 2 8 1 8-1 8-1 8-1 8 1 8 1 8 1 8 0 8-2 8-3 8-1 8 0 8-1 8-1 8-1 8 1 8 0 8 1 8-1 8-1 8-2 8-1 8 1 8 0 8-1 8 0 8 1 8-1 8 0 8 1 8 0 8 1 8 3 8 3 8 0 8-1 8-3 8-4 8-2 8 0 8-1 8-2 8-3 8 0 8 0 8 0 8 0 8 1 8 1 8 1 8 1 8 0 8-1 8-3 8-1 8 1 8 0 8 1 8 1 8-1 8-3 8-1 8 1 8 1 8-1 8-1 8-1 8 2 8 3 8 2 8 0 8-2 8-4 8-2 8-1 8 2 8 4 8 3 8 0 8-2 8-2 8-2 8-1 8 0 8 1 8-3 8-3 8-2 8-1 8 0 8 3 8 3 8 3"/><path d="M4572 2268l8-3 8-1 8 0 8 1 8 0 8-1 8-2 8 0 8 2 8 1 8 0 8-1 8 0 8 0 8-2 8 0 8 2 8 2 8 1 8 0 8-3 8-3 8-1 8 2 8 1 8-1 8 1 8 2 8 3 8 0 8-3 8-3 8-1 8-1 8-2 8-1 8-1 8 0 8-1 8-2 8-1 8-1 8-5 8-6 8-4 8-2 8-3 8-7 8-9 8-8 8-5 8-6 8-7 8-7 8-9 8-10 8-11 8-10 8-8 8-7 8-6 8-7 8-8 8-8 8-5 8-4 8-5 8-7 8-9 8-7 8-6 8-4 8-4 8-5 8-5 8-6 8-7 8-6 8-6 8-6 8-5 8-5 8-6 8-7 8-2 8 2 8 1 8 0 8-1 8-1 8 2 8 2 8 3 8 6 8 7 8 10 8 13 8 13 8 11 8 10 8 11 8 12 8 13 8 14 8 14 8 13 8 14 8 15 8 17 8 19 8 20 8 16 8 1 8 0 8 2 8 1 8 0 8-3 8-4 8-4 8 1 8 2 8 1 8 0 8 0 8 1 8 2 8 0 8 0 8 1 8 0 8-1 8-2 8 0 8 1 8-2 8-2 8-3 8 0 8 2 8 4 8 0 8-1 8-2 8-1 8-2 8-2 8 0 8 1 8 0 8-1 8 0 8 2 8 3 8 1 8-1 8-2 8-1 8-1 8 0 8-1 8-1 8 1 8 1 8 1 8-1 8-1 8 0 8-2 8-2 8-1 8 0 8 1 8 1 8 3 8 0 8-1 8-1 8 0 8 0 8-3 8-3 8-1 8 1 8 1 8-1 8-1 8-1 8 1 8-1 8-1 8 0 8 0 8-2 8-1 8 0 8 3 8 1 8 0 8-1 8 0 8 0 8-1 8-1 8 0 8 1 8 0 8-1 8 0"/><path d="M4572 2301l8-2 8-3 8-4 8-1 8 2 8 2 8 0 8-2 8-1 8 1 8 2 8 0 8-3 8-1 8 1 8 3 8 1 8 0 8-3 8-2 8-2 8 1 8-1 8-1 8-1 8 0 8 2 8 2 8 2 8 0 8 0 8 0 8 1 8 0 8-3 8-4 8-3 8-3 8-2 8 1 8 0 8-2 8-3 8-4 8-2 8-1 8-1 8-3 8-6 8-9 8-10 8-8 8-7 8-7 8-7 8-8 8-8 8-9 8-8 8-7 8-7 8-7 8-8 8-6 8-6 8-5 8-6 8-8 8-10 8-9 8-7 8-4 8-5 8-6 8-7 8-8 8-5 8-4 8-5 8-7 8-8 8-7 8-5 8-6 8-9 8-9 8-7 8-1 8 0 8 1 8 3 8 6 8 8 8 8 8 8 8 12 8 14 8 12 8 10 8 11 8 11 8 12 8 14 8 16 8 15 8 12 8 14 8 20 8 26 8 29 8 23 8 0 8-3 8-3 8-2 8 0 8 0 8-2 8-3 8-1 8 3 8 2 8 0 8-1 8 1 8 2 8 2 8 3 8 0 8-1 8-1 8-2 8-3 8-2 8-3 8-2 8 0 8 1 8 1 8 0 8 1 8-2 8-2 8 0 8 4 8 3 8 1 8 0 8-2 8-3 8-3 8 0 8 2 8 1 8-1 8-1 8 0 8 1 8-1 8-1 8-1 8 1 8 1 8-1 8-1 8-1 8-2 8-2 8-1 8 3 8 2 8 1 8 1 8 0 8-2 8-1 8 0 8-2 8 0 8 0 8-1 8 0 8 1 8 1 8 1 8-1 8-3 8-3 8-1 8 2 8 1 8-1 8-2 8-1 8 0 8 2 8 2 8 3 8 0 8-2 8-4 8-2 8 1 8 3 8 0 8-2 8-3 8-2 8-1"/><path d="M4572 2326l8-1 8-1 8 0 8 1 8-1 8-3 8 0 8 0 8 0 8 0 8 0 8-1 8-1 8-2 8-1 8-3 8 0 8 1 8 3 8 2 8 1 8 0 8 2 8 2 8 0 8-2 8-2 8-3 8-3 8-3 8 0 8 1 8 1 8 0 8 1 8 2 8-1 8-2 8-2 8 0 8-1 8-2 8-2 8-3 8-2 8-2 8-4 8-4 8-5 8-4 8-3 8-2 8-4 8-8 8-9 8-8 8-10 8-8 8-7 8-7 8-9 8-10 8-8 8-8 8-7 8-7 8-6 8-5 8-6 8-6 8-7 8-7 8-6 8-6 8-7 8-8 8-7 8-8 8-7 8-6 8-7 8-8 8-8 8-7 8-7 8-8 8-9 8-11 8-7 8 1 8 2 8 1 8 0 8 1 8 4 8 8 8 11 8 12 8 13 8 10 8 9 8 11 8 13 8 14 8 16 8 17 8 15 8 16 8 18 8 22 8 26 8 31 8 25 8 2 8 0 8 0 8-1 8-2 8-4 8-3 8-2 8 2 8 2 8 1 8 1 8 0 8 2 8 1 8-1 8-3 8-2 8 0 8-1 8-1 8-2 8-1 8 0 8-1 8-1 8-2 8 0 8 3 8 2 8 0 8-1 8-1 8-1 8-2 8-1 8 1 8 2 8-1 8-1 8-2 8-2 8 0 8 2 8 2 8 2 8 0 8 1 8 0 8-1 8-3 8-2 8 0 8 2 8 3 8 3 8 2 8-1 8-3 8-4 8-4 8-2 8 1 8 0 8 0 8-1 8-2 8-1 8 2 8 1 8 0 8-1 8 1 8 0 8 0 8-1 8 0 8 2 8 0 8-2 8-3 8-2 8 0 8 1 8 1 8 0 8-2 8-1 8-1 8 1 8 1 8 1 8 0 8-1 8 0 8-1"/><path d="M4572 2354l8-1 8 0 8 2 8 1 8 0 8-2 8-1 8 0 8 0 8-3 8-3 8-1 8 0 8 1 8 1 8-1 8 0 8 1 8 0 8-1 8 0 8 1 8 1 8-1 8-2 8-2 8 1 8 2 8 2 8-1 8-2 8-1 8 0 8-1 8 0 8-1 8 0 8-2 8-2 8-3 8-2 8 1 8 0 8-1 8-3 8-2 8-2 8 0 8-1 8-4 8-6 8-4 8-4 8-5 8-7 8-7 8-7 8-8 8-5 8-6 8-6 8-7 8-7 8-9 8-7 8-7 8-6 8-4 8-4 8-8 8-10 8-11 8-8 8-6 8-7 8-7 8-7 8-8 8-9 8-9 8-7 8-7 8-9 8-9 8-9 8-8 8-8 8-9 8-10 8-12 8-8 8-2 8 0 8 1 8 0 8 2 8 4 8 6 8 9 8 10 8 9 8 10 8 13 8 12 8 12 8 13 8 15 8 17 8 17 8 19 8 21 8 28 8 39 8 47 8 5 8-1 8-2 8-2 8 1 8 0 8-1 8 0 8 0 8 0 8-1 8-2 8-1 8 0 8 1 8 1 8 1 8 2 8 4 8 1 8-2 8-5 8-4 8-3 8 0 8 2 8 1 8-2 8-4 8-5 8-2 8 2 8 3 8 2 8 1 8 2 8 2 8 1 8-2 8-3 8 0 8 3 8 2 8 2 8 0 8-1 8-2 8-2 8-2 8-2 8-1 8-2 8-3 8-1 8 5 8 4 8 0 8-2 8-3 8-1 8 0 8 0 8 1 8 2 8 1 8 0 8-2 8-3 8-1 8 0 8 0 8 2 8 2 8 0 8-2 8-1 8-1 8 2 8 3 8 0 8-2 8-1 8-3 8-2 8 1 8 2 8-1 8-3 8-1 8 0 8 1 8 0 8 0 8 0 8 0"/><path d="M4572 2389l8 0 8-3 8-3 8-2 8-2 8 0 8 1 8 2 8-1 8-2 8-1 8 3 8 3 8 1 8-2 8-3 8-2 8-3 8-3 8-3 8-2 8 1 8 2 8 1 8 0 8 1 8 3 8 2 8 0 8-1 8-2 8 0 8 0 8-1 8-2 8-1 8 0 8-1 8-1 8-2 8-1 8 0 8 2 8 1 8-2 8-4 8-3 8 0 8 0 8-2 8-6 8-5 8-5 8-4 8-7 8-8 8-5 8-3 8-4 8-7 8-7 8-3 8-3 8-9 8-10 8-9 8-7 8-7 8-6 8-6 8-6 8-7 8-9 8-8 8-7 8-8 8-7 8-8 8-9 8-8 8-6 8-6 8-9 8-11 8-12 8-14 8-14 8-10 8-8 8-6 8-10 8-12 8-7 8-3 8-1 8 2 8 3 8 2 8 3 8 10 8 12 8 12 8 15 8 14 8 14 8 15 8 16 8 16 8 21 8 27 8 32 8 48 8 48 8 12 8 1 8-1 8-2 8-2 8 1 8 2 8 2 8 0 8-2 8 0 8 0 8-1 8-2 8-1 8 3 8 4 8 2 8-1 8-4 8-2 8-1 8 0 8 2 8 0 8-1 8-1 8 0 8-1 8-1 8-2 8-2 8 0 8 0 8 2 8 0 8-1 8-1 8 0 8 0 8-1 8-2 8 0 8 1 8 1 8 0 8 0 8 0 8 0 8 0 8-2 8 0 8 0 8 0 8 1 8 0 8-1 8-3 8-3 8 0 8 2 8 1 8-1 8-3 8-2 8 0 8 2 8 2 8-1 8-3 8 0 8 2 8 1 8-1 8-1 8-1 8 0 8-1 8 0 8 1 8 1 8 0 8 0 8-1 8 0 8 1 8 0 8-1 8-1 8 0 8 0 8-1 8-1 8 0 8 0 8-1"/><path d="M4572 2409l8 4 8 2 8-2 8-2 8 0 8 1 8 3 8 2 8-2 8-6 8-4 8-2 8-1 8 0 8 1 8 1 8 3 8 2 8 0 8-1 8-1 8-1 8-2 8 0 8 1 8-1 8 0 8 0 8-1 8 1 8 2 8 1 8-2 8-2 8-2 8 0 8 1 8 3 8 1 8-1 8-1 8-2 8-4 8-3 8-3 8-2 8-3 8-3 8-2 8-2 8-1 8-2 8-4 8-5 8-6 8-5 8-5 8-1 8 0 8-4 8-4 8-6 8-8 8-11 8-9 8-6 8-3 8-3 8-6 8-9 8-10 8-10 8-9 8-7 8-5 8-6 8-8 8-7 8-6 8-7 8-10 8-11 8-8 8-9 8-13 8-13 8-10 8-9 8-9 8-11 8-11 8-14 8-15 8-13 8-2 8 0 8 0 8-1 8 1 8 2 8 1 8 2 8 8 8 11 8 10 8 11 8 15 8 17 8 21 8 24 8 28 8 32 8 47 8 49 8 39 8 11 8 4 8 2 8-1 8-3 8 0 8 0 8 1 8 0 8 1 8-2 8-2 8 0 8 1 8 1 8 1 8-2 8-2 8-1 8 1 8-1 8-1 8-2 8-1 8-2 8 0 8 1 8 0 8 0 8 0 8 2 8 2 8 2 8 1 8-1 8-4 8-4 8-2 8 1 8 3 8 2 8-2 8-1 8 1 8 1 8 0 8 0 8-2 8-1 8-1 8 0 8 2 8 1 8-1 8 0 8 2 8 1 8-2 8-4 8-2 8-1 8-1 8-1 8 0 8 0 8 1 8 1 8 1 8 1 8 0 8-1 8 0 8 0 8-2 8-1 8 1 8 1 8-1 8-2 8-3 8-3 8-1 8 1 8 0 8 0 8-1 8 0 8 1 8 0 8-2 8-3 8-1 8 2 8 1"/><path d="M4572 2443l8-1 8-3 8-3 8 0 8 2 8 2 8 2 8 0 8 0 8 0 8 1 8 0 8-1 8-3 8-3 8 0 8 2 8 1 8-1 8-1 8-2 8-1 8-1 8 0 8-1 8 0 8 0 8 0 8 0 8 1 8 1 8-1 8 1 8 1 8-1 8-3 8-2 8-1 8-2 8-4 8-3 8 0 8 0 8 1 8-1 8-1 8 0 8-1 8-1 8-2 8-2 8-3 8-3 8-3 8-3 8-4 8-6 8-5 8-3 8-2 8-2 8-5 8-7 8-7 8-7 8-5 8-6 8-6 8-6 8-6 8-6 8-5 8-5 8-6 8-8 8-10 8-11 8-12 8-9 8-7 8-7 8-9 8-10 8-11 8-10 8-10 8-10 8-9 8-10 8-10 8-10 8-13 8-14 8-15 8-16 8-16 8-3 8 1 8 0 8-1 8 1 8 2 8 3 8 5 8 10 8 12 8 16 8 18 8 18 8 17 8 18 8 26 8 38 8 53 8 49 8 42 8 17 8-2 8 1 8 1 8 2 8 0 8-1 8-4 8-3 8-1 8 0 8 1 8 0 8 2 8 1 8 0 8 0 8-1 8-1 8-1 8-2 8 0 8 2 8 2 8 3 8 2 8-1 8-2 8-1 8 0 8 0 8 1 8 1 8 0 8-1 8-1 8-2 8-2 8-2 8 0 8 2 8 2 8-2 8-3 8-2 8 0 8 0 8-1 8 1 8 0 8 0 8 0 8-1 8-1 8-1 8-1 8 1 8 3 8 4 8 1 8-1 8-2 8-2 8-2 8 1 8 1 8 1 8 2 8 0 8-3 8-6 8-4 8 2 8 5 8 2 8-3 8-3 8-1 8 0 8 1 8 3 8 2 8-1 8-2 8-3 8-3 8-2 8 1 8 3 8 4 8 0 8-1 8-1"/><path d="M4572 2472l8 1 8 1 8-1 8-2 8-3 8 0 8 0 8-1 8-2 8 1 8 1 8-1 8-2 8-1 8-1 8-1 8-2 8-1 8 0 8 2 8 3 8 0 8-2 8-1 8 3 8 3 8-1 8-3 8 0 8 0 8-2 8-3 8-2 8 3 8 5 8 3 8-1 8-2 8-1 8-2 8-4 8-3 8 0 8 0 8-2 8-3 8-2 8-2 8-2 8-1 8-1 8 0 8-1 8-2 8-1 8-1 8-3 8-3 8-3 8-5 8-6 8-6 8-5 8-6 8-6 8-6 8-5 8-3 8-4 8-6 8-8 8-6 8-7 8-7 8-6 8-6 8-5 8-8 8-10 8-9 8-9 8-8 8-9 8-10 8-9 8-8 8-11 8-13 8-12 8-11 8-11 8-13 8-14 8-14 8-14 8-16 8-17 8-17 8-2 8 0 8 0 8 2 8 3 8 10 8 13 8 15 8 17 8 18 8 22 8 26 8 33 8 49 8 50 8 43 8 39 8 15 8-1 8 0 8 1 8 1 8 1 8-2 8-1 8 0 8 1 8 1 8 1 8 0 8 0 8 1 8 1 8 0 8 0 8 0 8-1 8-2 8-1 8-2 8-1 8 2 8 1 8 0 8-2 8-3 8-4 8-1 8-1 8 0 8 1 8 2 8 1 8-2 8-1 8-1 8 2 8 2 8 1 8 0 8-2 8-2 8 0 8 2 8 1 8 1 8 0 8 0 8 1 8-1 8-3 8-4 8-3 8-2 8 1 8 3 8 1 8 2 8 2 8 1 8-1 8-3 8-2 8-1 8-1 8 0 8 0 8 2 8 1 8-3 8-2 8 1 8 2 8-1 8 0 8-1 8 1 8 0 8-3 8-2 8 1 8 4 8 2 8 0 8-2 8-4 8-3 8 0 8 1 8 0 8 2"/><path d="M4572 2502l8-2 8-3 8-2 8-1 8 1 8 1 8 1 8 1 8 0 8 0 8 1 8-1 8-2 8-4 8-1 8 2 8 1 8-2 8-2 8 0 8 0 8 1 8 0 8 0 8 1 8 2 8 0 8 0 8 0 8-1 8-3 8-2 8-1 8 0 8 0 8-1 8 0 8 1 8 1 8-1 8-1 8-1 8-3 8-3 8-1 8 2 8 1 8-2 8-3 8-3 8-4 8-2 8-1 8-1 8-2 8-1 8 0 8 0 8-2 8-4 8-6 8-7 8-4 8-2 8-3 8-4 8-4 8-3 8-2 8-4 8-5 8-5 8-6 8-8 8-8 8-8 8-8 8-9 8-8 8-7 8-8 8-9 8-9 8-8 8-8 8-9 8-10 8-10 8-11 8-12 8-12 8-14 8-16 8-18 8-16 8-15 8-15 8-17 8-18 8-18 8-1 8 0 8-1 8-1 8 1 8 3 8 11 8 15 8 18 8 22 8 25 8 30 8 49 8 53 8 45 8 42 8 40 8 19 8 1 8-1 8-3 8-2 8 2 8 3 8 3 8 2 8 1 8-2 8-4 8-4 8-1 8 3 8 3 8 2 8-2 8-3 8-3 8 0 8 1 8 1 8-1 8 0 8-1 8 0 8 2 8 0 8-3 8-3 8-1 8 2 8 0 8-1 8 0 8 0 8 1 8 0 8-2 8-2 8-2 8-1 8 3 8 3 8 0 8-1 8-1 8-2 8 0 8 2 8 1 8-2 8-2 8 0 8 0 8-1 8 0 8-1 8-1 8-1 8 1 8 1 8 1 8 1 8 0 8-1 8 0 8 1 8 1 8-2 8-3 8 0 8 2 8 0 8-1 8-2 8 0 8 1 8 0 8 1 8-1 8-1 8-2 8-2 8-1 8 3 8 2 8-1 8 1 8 0 8-1"/><path d="M4572 2526l8-1 8 2 8 0 8 0 8 1 8 0 8-3 8-3 8-3 8-1 8 1 8-2 8-1 8-1 8 1 8 1 8 1 8 1 8-1 8-1 8-1 8 1 8 3 8 3 8 0 8 0 8-2 8-1 8-1 8-1 8-2 8-2 8 0 8 1 8 0 8 1 8 1 8-1 8-2 8-1 8 1 8 0 8 0 8 0 8 0 8-2 8-2 8 0 8-2 8-2 8-3 8-1 8-1 8 0 8-2 8-3 8-1 8-1 8-3 8-6 8-6 8-4 8-3 8 0 8 0 8-1 8-4 8-6 8-6 8-6 8-5 8-3 8-5 8-7 8-7 8-7 8-5 8-5 8-5 8-6 8-8 8-9 8-8 8-7 8-9 8-11 8-11 8-11 8-12 8-13 8-15 8-16 8-14 8-12 8-14 8-14 8-14 8-14 8-17 8-20 8-22 8-12 8 0 8 0 8-1 8-4 8-2 8 1 8 8 8 18 8 24 8 27 8 37 8 51 8 47 8 43 8 43 8 41 8 37 8 8 8 0 8 2 8 0 8 0 8 0 8 1 8-1 8 0 8-1 8-2 8-2 8 2 8 2 8 2 8 0 8 0 8 0 8 0 8-1 8-1 8 1 8 0 8-2 8-2 8 0 8 2 8 2 8 0 8-1 8-2 8-2 8-2 8-2 8-1 8-1 8 0 8 2 8 2 8 1 8-1 8-4 8-1 8 1 8 2 8-1 8-2 8-1 8-1 8 1 8 1 8 2 8 1 8-1 8 0 8-1 8 0 8-2 8-3 8-2 8 0 8 1 8 0 8 1 8 1 8 0 8-2 8-3 8-1 8 0 8 0 8 0 8 1 8 0 8 1 8 1 8-1 8-2 8-2 8-1 8-1 8 1 8 0 8-1 8 0 8 2 8 1 8-2 8-1 8 0"/><path d="M4572 2557l8-2 8-3 8-4 8-3 8 0 8 2 8 2 8-1 8-2 8-1 8 1 8 0 8 0 8 2 8 3 8 0 8 0 8-2 8-1 8 0 8 2 8 2 8 1 8-1 8-2 8-1 8-1 8 0 8-1 8-1 8 0 8 0 8 1 8 1 8 1 8 0 8-2 8-3 8-3 8-1 8-1 8 0 8 0 8-1 8 0 8 0 8 0 8 1 8 1 8-1 8-2 8-3 8 0 8 0 8-3 8-4 8-1 8 1 8 0 8-3 8-6 8-5 8-3 8-1 8-2 8-4 8-5 8-5 8-4 8-2 8-1 8-5 8-6 8-7 8-5 8-5 8-5 8-5 8-6 8-7 8-8 8-8 8-7 8-8 8-9 8-11 8-11 8-10 8-10 8-9 8-10 8-13 8-14 8-15 8-16 8-16 8-16 8-16 8-19 8-20 8-21 8-21 8-20 8-4 8 0 8 1 8 3 8 2 8 17 8 24 8 31 8 48 8 53 8 45 8 42 8 41 8 42 8 39 8 9 8-3 8 0 8 1 8-1 8-1 8-1 8 1 8 2 8 0 8 0 8-1 8 1 8 1 8 1 8-1 8 0 8-2 8-1 8-2 8-1 8-1 8-1 8 0 8 2 8 2 8 0 8-1 8-2 8-2 8-1 8 1 8 2 8 1 8 0 8-2 8-1 8 2 8 3 8 0 8-2 8-2 8-2 8 0 8-1 8 0 8-1 8 0 8 0 8 0 8-1 8 1 8 1 8 0 8-2 8-3 8 0 8 1 8 1 8 0 8 0 8 0 8 0 8 1 8-1 8-3 8 0 8 1 8 1 8-1 8-2 8-1 8 1 8 0 8-2 8-1 8 0 8 2 8 1 8 0 8-1 8 0 8-2 8-3 8-1 8 2 8 2 8-1 8-1 8-2 8 1"/><path d="M4572 2580l8 2 8 0 8-1 8-1 8-1 8 2 8 2 8 1 8-2 8-1 8-1 8-1 8-1 8 0 8 2 8 3 8 0 8-1 8-2 8-3 8-3 8-2 8 0 8 2 8 2 8 0 8 0 8 1 8 1 8 1 8-1 8-2 8-3 8-2 8-2 8-1 8 0 8 0 8 1 8 1 8 1 8 0 8-1 8-2 8-1 8 0 8 0 8-1 8-1 8-1 8-1 8 0 8-1 8 0 8-1 8-3 8-2 8-2 8-3 8-5 8-2 8 1 8 1 8-2 8-3 8-4 8-5 8-5 8-5 8-4 8-5 8-3 8-2 8-2 8-4 8-7 8-4 8-3 8-6 8-9 8-8 8-6 8-7 8-7 8-9 8-9 8-9 8-9 8-10 8-10 8-12 8-13 8-13 8-12 8-13 8-15 8-15 8-15 8-19 8-21 8-21 8-21 8-21 8-19 8-8 8-1 8 0 8 1 8 2 8 1 8 17 8 29 8 46 8 52 8 46 8 44 8 43 8 43 8 42 8 33 8 2 8-2 8-1 8 0 8-1 8-3 8 0 8 1 8 1 8-2 8-1 8 0 8 0 8 1 8 2 8 2 8-1 8-2 8-1 8-1 8-2 8-3 8-1 8 1 8 2 8 2 8 2 8 1 8 0 8-1 8-3 8-2 8 0 8 0 8-3 8-3 8-1 8 3 8 1 8 0 8 0 8 2 8 0 8-1 8 0 8 0 8 0 8 1 8 1 8 0 8-1 8-2 8-1 8-2 8-3 8-2 8-1 8 0 8 2 8 3 8 1 8-1 8-1 8-1 8 0 8 0 8-2 8-1 8 1 8 3 8 0 8-1 8-1 8-3 8-3 8 0 8 2 8 0 8 1 8 2 8 2 8-1 8-2 8-3 8-1 8 0 8 0 8 1 8-1"/><path d="M4572 2611l8 0 8-2 8 1 8 1 8 1 8 0 8-1 8-2 8-2 8 1 8 2 8-1 8-1 8 0 8 0 8 2 8 0 8-2 8-2 8-1 8 0 8-1 8-2 8-1 8 1 8 3 8 4 8 1 8 0 8-2 8-2 8-4 8-3 8 0 8 0 8 0 8-1 8 0 8 3 8 3 8 2 8 0 8-2 8-1 8 1 8 0 8-1 8-3 8-2 8-1 8-2 8-1 8-2 8-2 8-2 8 0 8-1 8-3 8-5 8-4 8-1 8 0 8 0 8-2 8-2 8-1 8-2 8-4 8-3 8-3 8-2 8-3 8-2 8-3 8-3 8-4 8-3 8-6 8-8 8-7 8-8 8-8 8-6 8-8 8-8 8-7 8-5 8-4 8-8 8-12 8-14 8-16 8-16 8-13 8-11 8-13 8-14 8-13 8-16 8-20 8-20 8-21 8-23 8-23 8-22 8-9 8 1 8 0 8 0 8 0 8 1 8 6 8 38 8 51 8 47 8 42 8 41 8 43 8 43 8 40 8 36 8 9 8 0 8 0 8 1 8-1 8-2 8 1 8 1 8-1 8-1 8 1 8 1 8-2 8-2 8-1 8 2 8-1 8-1 8-1 8 0 8 2 8 2 8-1 8-2 8-4 8-1 8 0 8-1 8 0 8 2 8 2 8 0 8-4 8-3 8 0 8 3 8 3 8 3 8 0 8 0 8 0 8-1 8-2 8-2 8-1 8-1 8-2 8-1 8-1 8 0 8 2 8 1 8 0 8 0 8 1 8 0 8-1 8-2 8-1 8-1 8-1 8-1 8 0 8-1 8 1 8 0 8 0 8-2 8-4 8-2 8 2 8 4 8 2 8-2 8-3 8 0 8 2 8 3 8 2 8 0 8-2 8-1 8 0 8 0 8-1 8-2 8-3 8-2"/><path d="M4572 2642l8-3 8-2 8 0 8 1 8 0 8-2 8-2 8 0 8 0 8 0 8 1 8 0 8-1 8 0 8 0 8 0 8 0 8 1 8 0 8-1 8 0 8-1 8-1 8-1 8-3 8-2 8 1 8 2 8 3 8 1 8-1 8-2 8-2 8-2 8 2 8 4 8 2 8-1 8-1 8-1 8-1 8-2 8-2 8 0 8 2 8 0 8-2 8-2 8 0 8-1 8-1 8-1 8 1 8 0 8-2 8-3 8-1 8 0 8-2 8-2 8-2 8-3 8-2 8-1 8-2 8-4 8-4 8-2 8 0 8-2 8-2 8-2 8 0 8-2 8-5 8-5 8-5 8-4 8-3 8-2 8-4 8-7 8-9 8-9 8-9 8-8 8-7 8-7 8-9 8-10 8-10 8-9 8-10 8-10 8-12 8-15 8-18 8-15 8-15 8-19 8-20 8-21 8-20 8-19 8-21 8-23 8-14 8-2 8 0 8 1 8 1 8 37 8 50 8 41 8 39 8 40 8 42 8 42 8 42 8 40 8 23 8 1 8 0 8 1 8 0 8-2 8-3 8-1 8 0 8 0 8 0 8 2 8 1 8 0 8 1 8-1 8-3 8-2 8 0 8-1 8-1 8-1 8-1 8 0 8 1 8-1 8-1 8 0 8-1 8 0 8-1 8-1 8-2 8 1 8 1 8 1 8 0 8 2 8 1 8-1 8-1 8-1 8-1 8 0 8-1 8-1 8 1 8 2 8 0 8-2 8-1 8 2 8 3 8 1 8-1 8-2 8-3 8-3 8 0 8 1 8 0 8-1 8-2 8 0 8 0 8 0 8 1 8 1 8 0 8-2 8-2 8 1 8 1 8 1 8 1 8 0 8-1 8 0 8 1 8 0 8-3 8-4 8 0 8 0 8-1 8-1 8 2 8 1 8 0"/><path d="M4572 2667l8-2 8 0 8 2 8 2 8 0 8-2 8-3 8-2 8-1 8 2 8 3 8 3 8 1 8-3 8-1 8 0 8-1 8-2 8-1 8 0 8-2 8-1 8 1 8 1 8 1 8-1 8-2 8-1 8 0 8 1 8 1 8 1 8 0 8-2 8-1 8-1 8 0 8-1 8 0 8-1 8 1 8 1 8 1 8-2 8-3 8-2 8 2 8 1 8-2 8-2 8-1 8-1 8-2 8-2 8-1 8 0 8 1 8 2 8 0 8-2 8-3 8-3 8-2 8-3 8-2 8 1 8 0 8-2 8-2 8-1 8-2 8-4 8-5 8-6 8-5 8-3 8-3 8-3 8-2 8-5 8-6 8-6 8-7 8-9 8-8 8-6 8-4 8-6 8-9 8-11 8-10 8-10 8-10 8-13 8-12 8-13 8-14 8-16 8-17 8-16 8-16 8-17 8-20 8-22 8-23 8-24 8-20 8-6 8-1 8 1 8 1 8-1 8-3 8 45 8 46 8 46 8 43 8 40 8 39 8 41 8 40 8 37 8 24 8 3 8 0 8-1 8-1 8-4 8-5 8-2 8 1 8 2 8 2 8 0 8-2 8 0 8 0 8 0 8-1 8 0 8 1 8-1 8-2 8-1 8-2 8-1 8 1 8 2 8 2 8-1 8 0 8-1 8-1 8 0 8 0 8-1 8-2 8-2 8-3 8 0 8 1 8 1 8 1 8 0 8 0 8 0 8-1 8-3 8-1 8 1 8 2 8 1 8-1 8 0 8 1 8 0 8-1 8-1 8-2 8 0 8 1 8 0 8-2 8-3 8 0 8 1 8 1 8 0 8-1 8 0 8 1 8 2 8 0 8 0 8-1 8-1 8-1 8 1 8 1 8 1 8 0 8-2 8-1 8-2 8 0 8-1 8 0 8 2 8 1"/><path d="M4572 2694l8 0 8 0 8 0 8 2 8 2 8 2 8-3 8-4 8-3 8-3 8-2 8 1 8 2 8 3 8 2 8 1 8-2 8-4 8-2 8 1 8 4 8 1 8-2 8-3 8-1 8 0 8 2 8 2 8-1 8-3 8-1 8 1 8 1 8 2 8 0 8-2 8-2 8-1 8 2 8 2 8 1 8-1 8-2 8-2 8-4 8-2 8 1 8 1 8 0 8-1 8 0 8 0 8-2 8-2 8-2 8 0 8 2 8 0 8-3 8-3 8-1 8-1 8 0 8 0 8 1 8-2 8-4 8-6 8-5 8-4 8-3 8 0 8 1 8 1 8-2 8-4 8-5 8-3 8-4 8-6 8-8 8-5 8-5 8-6 8-7 8-6 8-6 8-8 8-10 8-10 8-8 8-8 8-11 8-12 8-13 8-13 8-11 8-11 8-14 8-17 8-18 8-20 8-19 8-22 8-25 8-24 8-24 8-14 8-4 8 0 8 1 8 1 8 1 8 0 8 41 8 44 8 43 8 40 8 39 8 39 8 38 8 38 8 38 8 33 8 6 8-1 8-1 8-1 8-1 8-3 8-1 8 2 8 2 8 0 8-2 8-1 8-1 8 0 8 0 8-1 8-3 8-1 8 1 8 1 8 0 8 0 8-1 8-1 8 1 8 1 8-1 8 0 8-1 8-2 8-2 8-1 8 0 8 1 8 2 8 0 8 0 8 1 8 0 8 0 8 0 8 0 8 0 8-1 8-3 8-4 8-1 8 2 8 2 8 1 8 1 8 1 8 0 8-1 8-1 8 0 8-2 8-5 8-3 8 1 8 3 8-1 8-4 8-2 8 0 8 3 8 2 8 2 8 2 8 0 8-3 8-2 8-1 8 1 8 2 8-1 8-3 8-1 8-1 8 0 8 2 8 2 8-1 8-2 8 0"/><path d="M4572 2721l8 3 8 2 8-2 8-1 8 0 8 2 8 2 8-1 8-2 8 0 8-1 8 0 8 1 8 3 8 0 8-2 8-1 8 0 8-1 8-1 8-1 8-2 8-3 8-3 8 0 8 1 8 2 8 1 8 0 8-2 8-1 8-1 8-2 8 0 8 0 8 1 8 1 8 1 8 1 8 1 8-1 8-2 8-3 8 0 8 2 8 1 8-1 8-1 8-2 8-1 8-3 8-2 8-1 8 0 8 0 8 0 8-1 8-2 8-1 8 0 8 0 8-1 8-1 8-1 8 0 8 0 8-1 8-2 8-3 8-2 8-1 8-2 8-5 8-7 8-4 8-3 8-2 8-2 8-3 8-6 8-7 8-7 8-4 8-4 8-7 8-7 8-6 8-6 8-7 8-8 8-8 8-7 8-8 8-10 8-12 8-14 8-16 8-18 8-16 8-14 8-14 8-17 8-23 8-24 8-22 8-23 8-25 8-23 8-6 8 0 8 0 8-1 8 2 8 45 8 43 8 43 8 43 8 42 8 40 8 36 8 34 8 34 8 28 8 5 8 0 8 1 8 2 8 2 8 1 8 1 8 1 8-1 8 0 8-3 8-2 8-2 8-1 8 0 8 2 8 2 8-1 8-3 8-1 8 0 8 2 8 1 8 0 8-2 8-2 8-2 8-2 8 1 8 1 8 1 8 3 8 4 8 3 8 1 8-1 8-3 8-5 8-3 8-3 8-2 8-1 8 2 8 1 8 2 8-1 8-1 8-1 8 0 8 1 8 2 8 1 8-1 8-1 8 0 8-1 8-3 8-2 8-2 8 0 8 0 8-2 8-1 8 0 8 1 8-1 8 0 8 1 8 1 8 2 8 0 8 0 8-1 8-1 8 0 8 2 8 1 8-1 8-2 8-1 8 0 8 1 8 2 8 1 8-1 8-2"/><path d="M4572 2756l8-1 8-2 8-2 8-1 8 1 8 1 8-1 8-1 8-2 8 1 8 1 8 1 8-1 8-2 8-2 8-2 8 0 8 2 8 3 8 2 8 0 8-2 8-2 8 2 8 2 8-1 8-3 8-2 8-3 8-2 8 0 8 1 8-1 8-2 8-1 8 1 8 3 8 1 8-1 8-1 8-1 8-2 8-1 8 0 8 1 8 0 8 0 8 0 8 0 8 0 8-3 8-3 8-1 8 1 8 1 8 2 8 2 8 0 8-1 8-2 8-2 8-2 8-2 8-1 8-2 8-3 8-3 8 0 8 0 8-2 8-3 8-3 8-4 8-3 8-3 8-2 8-5 8-4 8-2 8-2 8-4 8-6 8-7 8-5 8-3 8-4 8-9 8-10 8-8 8-6 8-9 8-13 8-12 8-9 8-8 8-10 8-10 8-12 8-15 8-16 8-18 8-18 8-19 8-22 8-23 8-22 8-23 8-24 8-16 8-1 8 2 8 1 8-1 8-2 8 7 8 41 8 41 8 41 8 40 8 40 8 40 8 38 8 36 8 33 8 27 8 7 8 1 8 0 8-2 8-1 8 1 8 1 8 2 8 0 8-1 8 2 8 1 8-3 8-3 8-1 8 0 8 1 8 2 8 1 8-1 8-2 8 0 8 1 8-1 8-4 8-3 8-1 8 2 8 1 8-2 8-2 8 1 8 2 8-1 8-2 8-1 8 0 8 1 8-3 8-3 8-1 8 1 8 4 8 5 8 2 8-1 8 1 8 0 8-2 8-1 8 1 8 1 8 1 8-1 8-3 8-4 8-2 8-2 8 0 8 2 8 2 8 0 8-2 8 0 8 1 8 1 8 1 8-1 8-1 8 0 8-1 8-1 8-1 8 0 8-1 8 0 8 0 8 1 8 2 8 0 8-1 8 0 8 1 8-2"/><path d="M4572 2778l8 0 8 1 8 1 8 2 8 1 8-1 8-3 8-1 8 1 8 1 8 0 8 0 8 1 8-1 8-3 8-2 8 0 8 3 8 1 8-1 8-1 8-1 8-2 8-2 8-1 8-1 8-1 8 2 8 2 8 2 8 0 8 0 8 0 8 1 8 1 8 0 8-2 8-3 8-4 8-3 8 0 8 2 8 1 8-2 8 0 8-1 8 0 8 2 8 3 8 0 8-1 8-2 8-1 8-2 8-2 8-1 8-1 8 0 8-1 8-2 8-2 8 0 8-1 8-2 8 0 8-1 8 0 8-3 8-5 8-6 8-5 8-1 8-1 8-1 8-1 8-1 8-3 8-3 8-3 8-4 8-6 8-5 8-3 8-2 8-2 8-4 8-8 8-10 8-9 8-7 8-6 8-8 8-9 8-10 8-11 8-12 8-14 8-14 8-13 8-14 8-18 8-20 8-19 8-18 8-20 8-22 8-22 8-22 8-22 8-8 8-2 8-1 8-2 8-3 8-2 8 0 8 36 8 42 8 39 8 39 8 39 8 39 8 38 8 36 8 31 8 27 8 21 8 8 8 2 8 1 8-1 8 1 8 1 8 0 8-1 8-1 8 0 8 0 8 0 8 0 8-1 8 0 8 0 8 0 8-1 8 1 8 2 8 0 8-1 8-3 8-3 8-1 8 1 8 1 8 1 8 0 8 0 8-1 8-1 8-1 8-1 8 0 8 1 8 0 8-2 8-3 8 0 8 2 8 2 8 1 8-3 8-3 8 0 8 2 8 0 8-1 8-1 8-1 8 0 8 1 8-1 8-1 8 0 8 0 8-2 8-2 8-1 8 0 8 0 8-1 8-1 8 1 8 3 8 3 8 2 8-1 8-4 8-3 8 1 8 2 8 1 8-1 8-2 8-4 8-1 8 1 8 1 8-1 8 1"/><path d="M4572 2808l8-4 8 0 8 1 8 1 8 2 8 3 8 2 8-1 8-3 8-4 8-3 8 0 8 2 8 0 8-1 8 0 8 1 8 2 8-1 8-1 8-2 8-2 8-1 8 2 8 4 8 2 8 0 8-3 8-3 8-3 8 2 8 3 8 1 8 0 8-1 8-1 8-2 8-1 8-1 8 1 8-1 8-2 8-2 8-2 8 1 8 1 8 0 8-1 8-1 8-1 8-2 8-1 8 1 8 2 8-2 8-4 8-3 8-1 8 1 8 2 8 1 8-2 8 0 8 2 8 1 8-1 8 0 8-1 8-2 8-2 8-3 8-5 8-4 8-2 8-2 8-1 8-3 8-3 8-5 8-5 8-4 8-3 8-4 8-7 8-7 8-5 8-5 8-6 8-7 8-8 8-9 8-9 8-8 8-9 8-9 8-13 8-14 8-14 8-12 8-12 8-18 8-20 8-21 8-21 8-24 8-22 8-22 8-23 8-23 8-8 8 0 8-1 8-2 8 0 8-1 8 30 8 40 8 40 8 39 8 38 8 38 8 37 8 35 8 31 8 26 8 22 8 15 8 4 8 2 8 0 8 1 8 1 8 1 8 1 8 0 8-1 8-4 8-2 8-1 8 2 8 0 8 0 8-1 8 0 8 1 8-1 8-2 8-1 8 0 8 0 8-1 8-2 8-3 8-2 8 1 8 0 8 0 8 0 8 2 8 1 8 0 8-2 8 0 8-1 8 0 8 0 8 0 8-1 8-1 8 0 8 1 8-1 8 0 8-1 8-2 8-1 8 0 8 1 8 0 8-1 8-1 8 0 8 0 8 0 8 1 8 2 8 1 8-2 8 0 8 0 8 0 8-3 8-2 8 1 8 2 8 1 8 0 8-1 8-1 8-1 8 1 8 3 8-1 8-4 8-4 8 0 8 2 8 0 8 0"/><path d="M4572 2834l8 0 8 2 8 2 8 0 8-1 8-1 8 0 8 0 8-1 8-1 8 2 8 1 8-3 8-4 8 0 8 1 8 0 8-2 8 1 8 2 8 2 8-1 8-4 8-2 8 0 8 2 8 2 8 0 8 1 8 1 8 0 8-1 8-2 8 0 8 0 8-1 8 0 8 2 8 1 8-2 8-2 8-2 8 0 8 0 8 1 8 1 8 0 8-1 8-4 8-3 8-1 8 1 8 3 8 1 8-2 8-2 8-1 8-1 8 0 8 1 8-1 8-2 8-4 8-3 8 0 8 0 8 0 8-2 8-1 8-1 8-1 8-2 8-1 8-1 8-3 8-7 8-7 8-5 8-1 8 1 8-1 8-3 8-5 8-4 8-5 8-8 8-7 8-6 8-7 8-8 8-9 8-10 8-8 8-8 8-8 8-14 8-17 8-14 8-12 8-13 8-14 8-16 8-19 8-23 8-24 8-24 8-22 8-24 8-25 8-11 8-1 8 1 8 1 8 0 8-2 8-2 8-2 8 37 8 39 8 40 8 40 8 38 8 37 8 34 8 30 8 26 8 24 8 22 8 18 8 8 8 1 8 0 8 1 8 0 8-1 8-1 8 1 8 1 8 2 8 0 8-1 8-3 8-4 8-1 8 1 8 1 8 0 8 1 8 2 8 1 8 0 8 1 8-1 8-4 8-4 8-1 8 0 8-1 8-2 8 0 8 2 8 2 8-1 8-1 8-2 8-2 8 0 8 0 8 0 8 0 8 0 8-1 8-1 8 0 8 0 8 1 8 2 8 3 8 2 8-1 8-1 8-1 8 0 8-1 8-2 8-1 8 0 8 0 8 0 8-1 8-1 8-1 8 0 8 1 8 1 8 2 8 0 8-1 8-1 8 1 8 0 8-2 8-4 8-2 8 0 8 2 8 2 8 3 8-1"/><path d="M4600 2862l8 1 8 1 8 1 8 0 8-1 8 0 8-1 8-1 8-1 8 1 8 1 8 0 8-2 8 1 8 1 8-1 8-2 8-2 8-3 8-2 8 0 8 3 8 2 8-1 8-2 8-2 8-1 8 1 8 2 8 1 8-1 8-2 8-1 8 0 8 0 8-1 8-2 8-1 8 0 8-2 8 0 8 4 8 3 8 0 8-3 8-2 8-3 8-2 8-1 8-1 8 1 8 1 8 0 8-3 8-1 8 1 8 1 8-1 8-3 8-2 8-1 8 0 8 0 8-1 8-2 8-3 8-1 8-1 8-1 8 1 8 2 8 2 8-1 8-3 8-3 8-4 8-4 8-3 8-2 8-3 8-1 8 0 8 2 8 0 8-5 8-7 8-7 8-3 8-3 8-4 8-7 8-9 8-9 8-10 8-10 8-12 8-14 8-18 8-22 8-26 8-31 8-34 8-41 8-46 8-49 8-47 8-38 8-23 8-3 8 9 8 18 8 24 8 30 8 32 8 30 8 28 8 30 8 29 8 28 8 24 8 20 8 17 8 16 8 14 8 11 8 9 8 9 8 10 8 9 8 8 8 6 8 5 8 6 8 7 8 5 8 5 8 5 8 3 8 3 8 1 8 0 8 1 8-1 8-1 8 0 8 4 8 4 8 2 8-1 8 0 8 2 8 1 8 0 8 1 8 3 8 3 8 2 8-1 8-2 8-1 8 2 8 3 8 2 8 0 8 0 8 0 8 0 8-3 8-3 8-2 8 0 8 2 8 3 8 2 8 0 8 0 8 1 8 0 8 0 8-2 8-1 8 0 8 1 8 3 8 1 8 0 8-2 8-2 8-4 8-1 8 2 8 4 8 2 8 1 8 1 8-1 8-3 8-2 8-1 8 1 8 1 8 1 8-1 8-2 8-1" stroke="#ff0000" stroke-width="12"/><path d="M4572 2891l8-1 8 0 8 2 8 3 8 2 8 0 8-2 8-3 8-2 8 0 8 1 8-2 8-2 8-2 8-2 8 0 8 1 8 2 8 1 8-1 8 1 8 1 8 0 8-2 8-3 8-1 8 1 8 0 8 0 8-2 8-1 8 0 8 2 8 2 8-1 8-2 8-2 8-2 8-1 8 0 8 0 8 1 8 1 8 2 8 2 8 0 8-2 8-2 8-3 8-2 8-3 8-1 8-1 8 0 8 2 8 2 8 2 8 1 8-3 8-4 8-3 8-1 8 2 8 2 8 1 8-2 8-4 8-2 8-2 8-2 8-1 8-1 8-1 8-1 8-2 8 0 8 2 8 1 8 0 8-3 8-2 8-2 8-3 8-3 8-5 8-4 8-3 8-2 8-2 8-6 8-7 8-6 8-6 8-7 8-6 8-7 8-10 8-12 8-12 8-14 8-16 8-22 8-26 8-31 8-32 8-34 8-40 8-43 8-43 8-39 8-29 8-13 8 11 8 41 8 58 8 61 8 54 8 45 8 39 8 33 8 25 8 18 8 15 8 13 8 9 8 7 8 5 8 6 8 7 8 6 8 5 8 3 8 0 8 0 8 1 8 2 8 3 8 3 8 3 8 2 8 1 8-2 8 0 8 2 8 2 8-1 8-1 8 2 8 1 8-1 8-2 8 0 8 0 8 1 8 2 8 1 8-1 8-1 8 0 8 1 8-1 8-1 8-2 8-1 8 1 8 3 8 3 8 2 8 2 8-1 8-1 8-3 8-2 8-2 8-2 8-2 8-1 8 1 8 1 8 2 8 2 8 1 8-3 8-3 8 0 8 2 8 2 8-2 8-4 8-3 8 0 8 1 8 3 8 2 8 0 8-2 8-2 8-1 8-2 8-1 8 2 8 3 8 1 8 1 8 0 8-3 8-2 8 2 8 5"/><path d="M4572 2926l8-3 8-5 8-2 8 2 8 3 8 1 8 0 8 1 8 0 8-3 8-2 8-2 8-1 8 0 8 1 8 0 8-1 8 0 8-1 8 0 8-1 8-1 8 1 8 0 8-2 8-1 8 1 8 3 8 2 8 0 8-3 8-3 8-2 8 1 8 2 8 0 8-1 8-1 8 0 8-1 8-2 8-1 8 0 8 0 8 1 8 0 8-1 8-2 8-1 8 0 8-1 8 1 8 0 8 0 8 2 8 2 8-1 8-1 8-3 8-1 8-2 8 0 8-1 8 0 8-1 8-1 8 0 8-3 8-1 8-1 8-1 8-1 8 0 8 1 8 0 8-2 8-4 8-3 8-3 8-2 8-2 8-2 8-1 8-2 8 1 8 1 8-3 8-3 8-2 8-4 8-5 8-5 8-4 8-5 8-5 8-4 8-5 8-10 8-10 8-11 8-11 8-14 8-19 8-25 8-27 8-31 8-35 8-42 8-48 8-49 8-43 8-34 8-17 8 8 8 44 8 63 8 66 8 58 8 44 8 35 8 28 8 23 8 20 8 16 8 14 8 11 8 7 8 6 8 4 8 2 8 0 8 1 8 1 8 3 8 5 8 4 8 0 8-1 8 1 8 3 8 4 8 1 8 0 8-2 8-2 8-1 8 0 8-2 8-1 8-1 8 2 8 3 8 3 8 2 8 2 8 1 8 0 8-1 8-1 8-2 8-2 8-1 8 1 8 3 8 1 8-3 8-4 8-1 8 1 8 2 8 0 8-2 8-1 8 0 8 0 8 2 8 2 8 1 8-1 8 0 8 1 8 3 8 0 8-1 8-1 8 1 8-1 8-1 8-1 8 1 8 1 8-1 8-4 8-3 8-1 8 1 8 2 8 0 8 0 8-1 8-1 8 0 8 1 8 2 8 0 8 0 8-1 8-1 8 0"/><path d="M4572 2952l8-2 8-1 8-1 8-1 8-2 8 1 8 4 8 3 8-1 8-3 8-4 8-4 8 0 8 3 8 2 8 0 8 0 8-1 8-1 8 0 8 1 8-1 8-1 8 0 8 0 8 0 8-1 8-3 8-3 8 0 8 1 8 1 8 0 8 0 8-1 8-1 8-1 8 2 8 1 8-1 8 0 8-1 8-1 8-2 8 0 8 2 8-1 8-2 8-2 8-1 8-1 8-1 8-1 8-1 8-1 8 1 8 2 8 3 8 1 8-2 8-2 8-1 8 0 8-1 8-2 8-3 8-1 8 1 8 0 8-1 8-2 8 0 8 0 8 0 8-1 8 1 8-1 8-2 8-5 8-4 8-2 8-2 8-1 8-1 8-2 8-1 8-2 8-4 8-6 8-5 8-1 8 0 8-2 8-3 8-6 8-9 8-12 8-13 8-13 8-13 8-15 8-16 8-19 8-24 8-29 8-34 8-37 8-42 8-45 8-44 8-35 8-20 8 2 8 36 8 56 8 59 8 55 8 48 8 40 8 30 8 22 8 17 8 14 8 12 8 10 8 8 8 8 8 8 8 4 8 2 8 1 8 2 8 3 8 3 8 1 8 1 8 1 8 2 8 2 8 2 8 0 8-1 8-1 8 1 8 1 8 1 8 1 8-1 8 0 8 2 8 1 8 0 8-1 8-2 8-2 8 0 8 0 8 1 8 0 8-1 8-1 8 1 8 2 8 1 8 0 8 0 8 1 8-1 8 0 8 0 8 1 8-1 8-2 8-2 8-1 8 0 8 1 8 1 8-1 8-2 8-1 8 1 8 3 8 0 8-1 8 0 8-1 8 1 8 0 8-1 8-1 8-2 8-1 8 0 8 1 8 2 8 1 8 0 8 0 8-1 8-1 8 0 8 0 8-2 8-1 8-1 8 0 8 1 8 0"/><path d="M4572 2977l8 1 8 0 8-1 8-1 8 0 8-1 8-3 8-3 8 0 8 2 8 4 8 3 8-2 8-4 8-2 8 1 8 2 8 1 8-1 8-1 8-1 8-2 8-3 8 0 8 0 8 0 8 2 8 1 8 0 8 1 8 2 8 0 8-1 8-2 8-1 8 0 8-1 8-1 8 1 8 2 8-1 8-5 8-4 8-1 8 1 8-1 8-1 8-2 8-2 8-1 8 1 8 3 8 2 8 0 8-1 8 1 8-1 8-2 8-3 8-2 8-1 8 1 8 0 8-3 8-2 8-2 8 1 8 0 8 1 8 0 8-1 8-2 8-1 8 1 8-1 8-1 8-1 8 1 8 1 8-2 8-5 8-5 8-3 8 0 8 1 8-1 8-4 8-4 8-3 8-4 8-4 8-4 8-4 8-4 8-4 8-6 8-8 8-9 8-10 8-9 8-11 8-14 8-20 8-23 8-26 8-30 8-32 8-34 8-36 8-40 8-41 8-36 8-24 8-8 8 14 8 40 8 54 8 57 8 52 8 42 8 35 8 29 8 23 8 17 8 15 8 11 8 10 8 8 8 6 8 6 8 4 8 2 8 3 8 2 8 1 8 0 8 2 8 2 8 2 8 2 8 3 8 1 8 0 8 0 8 1 8 0 8-1 8 1 8 2 8 2 8 0 8-1 8-1 8 1 8 0 8-2 8-3 8 2 8 4 8 4 8 0 8-3 8-2 8 0 8 0 8 0 8 0 8 1 8 1 8 0 8-1 8 0 8 2 8-1 8-1 8-2 8 0 8 1 8 1 8-1 8-2 8-1 8 0 8 2 8 0 8 0 8 0 8 1 8 0 8 0 8 1 8 0 8 1 8 1 8 0 8-2 8-2 8-3 8-3 8 1 8 2 8 1 8 3 8 2 8-1 8-3 8-3 8-1 8-1"/><path d="M4572 3013l8-3 8-4 8-3 8 0 8 0 8 1 8 0 8-1 8-2 8 0 8 1 8 0 8-1 8 1 8 2 8 0 8-2 8-1 8-2 8-1 8-1 8 1 8 2 8-1 8-2 8-1 8 0 8 1 8 1 8-1 8-1 8-1 8 0 8 0 8-3 8-2 8 0 8 0 8 0 8 0 8 1 8-1 8-3 8-1 8 2 8 1 8 0 8 1 8-1 8-2 8-2 8-2 8-1 8 1 8 1 8 1 8 0 8-1 8-2 8-2 8-2 8-1 8 0 8 1 8-1 8-1 8-2 8-1 8-1 8 1 8-1 8 1 8 1 8 1 8-2 8-2 8-1 8-2 8-1 8-2 8-3 8-1 8-1 8 0 8-2 8-2 8-2 8-2 8-4 8-6 8-7 8-4 8-3 8-2 8-4 8-5 8-10 8-12 8-11 8-9 8-10 8-13 8-17 8-20 8-25 8-30 8-35 8-42 8-46 8-44 8-37 8-29 8-15 8 8 8 40 8 57 8 58 8 52 8 43 8 35 8 28 8 24 8 20 8 14 8 9 8 7 8 7 8 6 8 5 8 2 8 1 8 3 8 2 8 1 8 2 8 2 8 1 8 1 8 1 8 0 8 0 8 2 8 4 8 1 8-2 8-1 8 1 8 0 8 0 8 0 8 0 8 0 8 0 8 0 8-1 8-1 8 2 8 2 8-1 8-3 8 0 8 1 8 2 8 1 8-1 8 0 8 0 8 1 8 1 8 0 8 1 8 0 8-2 8-2 8 0 8 1 8 2 8 1 8-1 8 1 8 3 8 1 8-1 8-2 8-2 8-1 8 1 8 2 8 1 8 0 8-1 8 0 8-1 8-4 8-3 8-1 8 1 8 3 8 2 8 1 8 2 8 0 8-3 8-4 8 0 8 1 8-3 8-4 8 1"/><path d="M4572 3037l8 0 8-1 8-1 8-3 8-3 8-1 8 1 8 2 8 1 8 1 8-1 8-2 8-2 8 1 8 1 8 1 8 1 8-1 8-2 8-1 8 0 8 0 8-1 8-1 8 1 8 0 8-1 8-2 8-1 8-2 8 0 8 0 8 1 8 1 8 0 8-1 8 1 8-1 8-1 8-1 8 0 8 0 8-1 8 0 8 1 8 1 8 0 8-2 8-1 8-1 8-3 8-2 8 1 8 0 8-2 8 0 8 1 8-1 8 0 8-1 8-1 8-1 8-1 8-1 8-1 8 1 8-1 8-1 8 1 8 2 8-2 8-3 8-2 8 0 8 0 8 0 8-1 8-1 8-3 8-2 8 0 8-1 8-2 8-1 8-1 8-3 8-3 8-1 8 0 8-1 8-3 8-3 8-3 8-5 8-5 8-6 8-6 8-6 8-8 8-9 8-10 8-12 8-15 8-17 8-20 8-22 8-28 8-36 8-41 8-44 8-43 8-39 8-30 8-17 8 6 8 40 8 59 8 61 8 53 8 45 8 35 8 27 8 19 8 15 8 12 8 7 8 6 8 7 8 7 8 6 8 3 8 2 8 2 8 2 8 1 8 1 8 0 8 1 8 1 8 1 8 1 8 1 8 1 8 0 8 0 8 0 8 0 8-1 8 1 8 1 8 1 8-1 8-3 8-2 8-1 8 0 8 2 8 3 8 3 8 1 8 1 8 0 8 0 8-2 8-3 8-3 8-1 8 1 8 1 8 2 8 1 8 2 8 0 8 0 8 0 8 1 8 0 8 0 8-1 8-1 8-1 8 1 8 0 8-2 8 0 8 1 8 0 8 1 8 0 8-1 8-1 8 1 8 1 8-1 8-1 8 0 8 0 8 0 8-2 8 0 8 2 8 2 8-1 8-2 8-3 8-3 8-1 8 2 8 2"/><path d="M4572 3059l8 2 8 2 8 0 8-3 8-2 8 2 8 2 8 0 8-1 8 0 8 0 8-3 8-2 8 1 8 2 8 2 8 0 8-1 8-1 8-2 8-1 8 0 8-1 8 0 8-1 8 1 8 1 8 1 8-1 8-2 8-2 8-2 8-2 8 0 8 1 8-1 8-1 8-1 8-1 8 0 8 2 8 2 8-1 8-1 8 0 8 0 8-1 8 1 8 0 8-1 8-1 8-2 8-2 8-1 8 0 8-1 8 0 8 1 8 0 8-1 8-2 8-1 8-2 8-2 8-1 8-2 8-1 8 1 8 3 8 1 8-1 8-4 8-3 8-1 8 0 8-1 8-2 8-1 8 1 8 3 8 0 8-2 8-3 8-2 8-4 8-4 8-4 8-4 8-2 8-1 8-1 8-3 8-5 8-4 8-4 8-5 8-7 8-9 8-9 8-12 8-12 8-12 8-12 8-15 8-20 8-25 8-28 8-32 8-37 8-40 8-39 8-35 8-29 8-17 8 0 8 28 8 50 8 58 8 54 8 44 8 34 8 25 8 21 8 17 8 16 8 13 8 11 8 8 8 5 8 5 8 4 8 3 8 2 8 3 8 3 8 1 8 0 8 1 8 3 8 3 8 0 8-1 8-1 8 0 8-1 8 0 8-1 8 1 8 1 8 0 8 0 8 1 8 2 8 0 8-1 8 0 8 0 8 0 8 2 8 1 8 0 8-1 8-2 8 0 8-1 8 0 8 2 8 3 8 1 8-1 8-3 8 0 8 2 8 2 8 1 8 0 8 1 8 0 8 0 8-1 8 0 8 1 8 0 8 0 8 2 8 1 8-1 8-2 8-1 8 0 8-1 8-2 8 0 8 0 8 1 8 1 8 0 8 0 8 1 8 1 8-1 8-2 8 0 8 1 8 1 8-2 8-3 8-2 8 0"/><path d="M4572 3092l8-1 8-3 8-5 8-1 8 2 8 3 8 0 8 0 8-1 8 0 8 0 8 2 8 1 8-2 8-4 8-1 8 0 8 1 8 1 8 0 8-1 8-3 8-3 8 0 8 1 8 0 8 0 8 0 8 1 8 0 8-1 8-1 8 1 8 1 8 0 8-3 8-2 8 1 8 2 8 0 8 0 8-1 8-2 8-1 8-2 8-1 8-1 8 0 8 2 8 0 8-2 8 0 8 2 8 1 8-2 8-2 8 1 8 3 8 1 8-3 8-4 8-2 8 1 8 2 8-2 8-3 8-1 8 2 8 1 8-1 8-2 8-4 8-2 8-1 8 3 8 2 8-1 8-2 8-2 8-2 8-3 8-3 8-2 8-3 8-3 8-2 8-1 8-2 8-2 8-2 8-3 8-2 8-4 8-5 8-7 8-6 8-5 8-6 8-8 8-9 8-11 8-12 8-14 8-17 8-21 8-24 8-29 8-34 8-37 8-39 8-38 8-35 8-27 8-14 8 4 8 32 8 50 8 55 8 52 8 43 8 34 8 28 8 21 8 16 8 11 8 10 8 9 8 6 8 3 8 3 8 5 8 3 8 3 8 2 8 3 8 4 8 4 8 1 8-1 8-1 8 3 8 3 8-1 8-3 8-2 8 0 8 2 8 0 8-1 8-1 8-1 8 0 8 0 8 1 8 1 8 1 8 1 8 1 8 3 8 0 8-2 8-1 8 2 8 0 8 1 8 1 8 0 8-4 8-2 8 1 8 4 8 2 8 0 8-2 8 1 8 2 8 1 8-2 8-2 8 0 8 1 8 1 8 1 8 2 8 1 8 1 8 0 8 0 8-3 8-3 8-2 8-1 8 1 8 1 8 2 8 2 8-1 8-2 8-1 8 2 8 3 8 1 8 1 8 0 8-2 8-2 8-2 8-1 8-2"/><path d="M4572 3115l8-3 8 0 8 2 8 2 8 1 8-1 8-2 8-2 8-1 8 0 8 0 8 1 8 1 8 1 8 0 8 1 8-1 8-1 8-3 8-2 8 1 8 3 8 2 8-1 8-2 8-2 8-2 8 0 8 0 8 0 8 1 8 2 8 0 8-2 8-1 8 0 8-1 8-2 8-4 8-1 8 1 8 1 8 1 8 1 8 2 8 0 8 0 8 0 8-1 8 0 8 1 8 1 8-2 8-4 8-4 8 0 8 1 8 0 8 0 8 0 8-1 8-1 8-1 8-2 8-2 8 0 8 3 8 3 8 0 8-3 8-2 8-2 8-1 8-2 8-1 8-2 8-3 8-3 8-1 8 1 8 3 8 0 8-2 8-3 8-5 8-4 8 0 8 1 8 0 8 0 8-1 8-1 8-2 8-5 8-5 8-5 8-6 8-5 8-5 8-6 8-9 8-9 8-10 8-12 8-15 8-20 8-25 8-28 8-30 8-35 8-40 8-42 8-37 8-30 8-19 8 0 8 33 8 54 8 57 8 50 8 42 8 34 8 25 8 19 8 15 8 12 8 10 8 9 8 6 8 5 8 4 8 2 8 1 8 2 8 1 8 1 8-1 8 2 8 2 8 1 8-2 8-1 8-1 8 1 8 1 8 4 8 3 8 0 8-2 8-3 8-3 8-1 8 1 8 0 8 0 8 1 8 4 8 4 8 2 8-1 8-2 8-2 8-1 8-1 8 0 8 0 8 0 8 0 8 1 8 1 8 1 8-1 8 2 8 2 8-1 8-2 8 0 8 1 8 1 8 1 8 1 8-1 8-1 8-1 8 0 8 0 8 2 8 1 8 1 8-2 8-1 8 1 8 1 8 0 8 0 8 2 8-1 8-1 8-1 8 1 8 0 8-3 8-2 8 0 8 1 8 2 8 2 8 0 8-1"/><path d="M4572 3148l8-3 8-2 8 0 8 0 8-1 8 0 8 1 8 3 8 2 8-3 8-4 8-3 8 0 8 2 8 2 8 2 8 0 8-1 8 0 8 0 8 0 8-2 8-2 8-3 8-1 8 1 8 0 8-1 8 1 8 1 8 1 8-1 8-3 8-4 8-1 8 1 8 0 8 0 8 2 8 2 8 0 8-2 8-1 8-1 8-1 8 0 8 1 8-2 8-2 8 0 8 1 8 0 8-1 8-2 8 0 8 1 8 1 8 0 8-3 8-4 8-3 8 1 8 2 8 1 8-1 8-3 8-2 8 0 8 1 8 1 8 2 8 1 8-1 8-2 8-3 8-3 8-4 8-2 8 1 8 2 8-1 8-2 8 0 8 1 8 1 8-2 8-2 8-3 8-5 8-5 8-5 8-4 8-2 8-3 8-4 8-7 8-6 8-5 8-6 8-9 8-11 8-12 8-13 8-15 8-17 8-21 8-25 8-29 8-31 8-35 8-40 8-41 8-33 8-17 8 0 8 25 8 43 8 51 8 48 8 41 8 34 8 30 8 23 8 17 8 13 8 10 8 8 8 9 8 8 8 5 8 2 8 0 8 1 8 2 8 2 8 3 8 1 8 2 8 0 8 0 8 0 8 1 8 0 8 1 8 0 8 0 8-1 8-2 8-1 8 0 8 0 8 0 8 0 8 0 8-2 8-1 8 1 8 3 8 2 8 0 8 0 8 0 8 1 8 0 8-1 8 0 8 2 8 3 8 5 8 3 8-2 8-4 8-3 8 0 8 4 8 2 8-2 8-1 8 3 8 3 8 0 8-1 8-1 8-1 8-2 8 0 8 2 8 0 8 0 8-1 8-1 8 0 8 1 8 1 8 0 8 0 8-1 8-3 8-2 8 0 8 0 8 1 8 1 8 1 8 0 8 0 8-1 8-1 8 3"/><path d="M4572 3174l8 1 8-1 8 0 8-2 8-2 8-1 8 1 8 2 8 1 8-1 8-2 8-3 8-1 8 0 8 0 8 0 8 0 8 3 8 3 8 2 8-1 8-2 8-3 8-3 8-4 8 0 8 2 8 4 8 3 8 1 8-2 8-3 8-2 8-2 8 1 8 0 8 1 8-1 8-4 8-1 8 1 8 1 8-1 8-3 8-3 8 2 8 2 8 3 8 0 8-2 8-3 8-3 8-1 8 2 8 1 8 1 8-2 8-2 8-1 8-1 8-1 8-1 8-1 8-1 8-2 8 1 8 1 8 0 8 0 8 2 8 1 8 1 8-2 8-3 8-2 8-3 8-2 8-1 8 0 8-1 8 0 8 1 8-1 8-5 8-4 8-2 8-2 8-2 8-3 8-1 8-2 8-2 8-5 8-6 8-5 8-3 8-2 8-2 8-3 8-7 8-11 8-12 8-12 8-13 8-14 8-15 8-17 8-22 8-28 8-30 8-33 8-35 8-35 8-33 8-25 8-12 8 8 8 34 8 47 8 49 8 44 8 37 8 29 8 24 8 20 8 14 8 10 8 10 8 8 8 8 8 6 8 3 8 3 8 2 8 2 8 3 8 2 8 3 8 2 8 2 8 0 8-2 8-2 8 0 8 0 8-1 8-1 8 0 8 2 8 2 8 2 8 0 8 0 8 1 8 1 8 0 8-2 8 0 8-1 8 0 8 2 8 3 8 1 8-2 8-3 8 1 8 3 8 1 8 0 8 1 8 1 8 0 8 0 8-1 8-1 8 0 8 2 8 2 8 0 8-2 8-1 8 1 8 0 8 0 8 1 8 3 8 0 8-2 8-1 8 1 8 3 8 2 8-1 8 0 8 0 8 1 8 1 8 0 8 0 8 0 8-2 8-2 8-2 8-1 8 1 8 1 8 0 8-2 8-1"/><path d="M4572 3198l8 2 8-1 8-2 8-1 8-1 8 1 8 1 8 0 8-1 8 0 8-1 8-1 8 0 8 1 8 1 8 0 8-3 8-2 8 1 8 1 8 0 8 0 8-1 8-2 8 1 8 3 8 2 8 0 8-1 8-1 8-2 8-3 8-1 8 2 8 3 8 1 8 0 8-1 8-2 8-3 8-2 8 0 8 1 8 0 8-1 8 0 8 1 8 2 8 1 8 0 8-2 8-1 8-1 8-1 8-1 8-1 8-2 8 0 8 0 8-1 8-1 8-1 8-1 8-3 8-3 8 0 8 2 8 1 8 1 8 0 8 0 8 0 8-1 8-2 8-2 8 0 8-1 8-1 8-1 8 0 8 0 8 1 8-1 8-5 8-5 8-3 8-2 8-3 8-3 8 0 8 1 8 0 8-3 8-5 8-6 8-5 8-3 8-4 8-4 8-6 8-8 8-9 8-11 8-14 8-14 8-16 8-19 8-25 8-30 8-35 8-39 8-40 8-39 8-33 8-18 8 3 8 32 8 51 8 55 8 48 8 40 8 31 8 26 8 22 8 16 8 11 8 7 8 6 8 4 8 4 8 4 8 4 8 2 8 0 8-1 8 1 8 3 8 3 8 3 8-1 8-2 8-2 8 1 8 0 8-2 8-2 8 1 8 2 8 0 8-1 8 0 8 0 8 0 8-1 8-1 8 0 8 0 8 1 8-1 8-2 8-1 8 1 8 3 8 3 8 3 8 3 8-1 8 0 8 0 8-2 8-1 8 1 8 4 8 3 8-1 8-1 8-1 8-1 8-1 8 2 8 2 8 2 8 2 8 1 8 0 8-2 8-2 8 0 8 1 8 2 8-1 8-1 8 0 8 0 8 1 8 1 8 1 8 0 8 0 8-2 8-3 8-2 8-2 8 0 8 2 8 2 8 1 8 0 8-1"/><path d="M4572 3226l8 1 8 0 8 1 8 1 8 2 8 1 8 1 8-2 8-3 8-3 8 0 8 1 8 1 8 0 8-2 8-1 8 1 8 0 8-1 8-1 8-2 8-1 8 0 8 1 8 0 8-1 8-1 8 2 8 2 8 1 8-2 8-3 8-4 8-1 8 1 8 1 8 0 8 0 8 1 8 2 8-1 8-3 8-3 8 0 8 3 8 2 8 1 8 1 8 0 8 0 8-1 8-2 8-2 8-1 8-1 8 0 8 0 8-1 8-2 8 0 8 1 8 0 8 0 8 1 8-1 8 0 8-1 8-2 8-2 8 0 8 0 8 1 8-1 8-1 8-4 8-5 8-2 8 1 8 2 8 2 8 0 8-3 8-2 8-1 8-3 8-3 8-3 8-3 8-4 8-4 8-3 8-1 8 0 8 0 8-1 8-4 8-5 8-5 8-4 8-4 8-5 8-7 8-10 8-13 8-15 8-14 8-16 8-18 8-23 8-30 8-35 8-39 8-40 8-36 8-28 8-16 8 2 8 30 8 48 8 52 8 46 8 38 8 30 8 23 8 18 8 15 8 13 8 10 8 6 8 5 8 4 8 4 8 4 8 3 8 3 8 3 8 3 8-1 8-2 8-1 8 0 8-1 8 0 8-1 8-1 8-1 8 0 8 0 8 1 8 2 8 1 8 1 8-1 8-3 8 0 8 1 8 1 8 2 8 1 8-1 8-1 8-1 8 0 8 3 8 3 8-1 8-2 8-1 8 2 8 1 8 1 8 0 8 1 8 0 8 1 8 1 8 1 8 1 8 2 8 2 8 2 8-1 8-1 8-1 8 0 8-1 8-1 8-2 8-1 8-1 8-1 8 1 8 1 8 2 8 1 8 1 8 1 8 3 8 1 8-2 8-2 8-2 8-1 8-1 8-1 8 0 8 1 8 0 8-1"/><path d="M4572 3255l8 0 8 1 8-1 8-2 8-1 8 1 8 4 8 3 8-2 8-3 8-2 8-1 8 0 8 0 8-2 8-2 8 0 8 1 8 0 8 0 8 0 8 1 8 0 8 1 8 0 8-1 8-3 8-2 8-2 8 0 8 3 8 2 8 1 8-1 8-2 8-2 8 0 8 1 8 1 8 1 8-1 8-1 8-1 8-1 8-1 8-1 8-1 8-2 8 0 8 3 8 2 8 0 8-1 8-2 8-2 8-2 8-1 8 0 8-1 8-1 8 0 8 0 8 0 8-1 8 1 8 0 8-2 8-2 8-2 8-1 8-1 8-1 8-1 8 0 8 1 8 1 8-1 8-2 8-1 8 1 8 1 8-2 8-3 8-3 8-2 8-3 8-2 8-1 8 0 8-2 8-3 8-3 8-3 8-4 8-4 8-3 8-4 8-4 8-6 8-7 8-6 8-7 8-7 8-10 8-15 8-18 8-20 8-20 8-22 8-28 8-32 8-33 8-33 8-30 8-24 8-16 8-2 8 23 8 42 8 47 8 41 8 36 8 31 8 27 8 20 8 16 8 11 8 10 8 8 8 5 8 5 8 6 8 5 8 2 8-1 8-3 8 1 8 2 8 2 8 2 8 1 8 1 8-1 8-2 8-1 8 1 8 1 8-2 8-2 8 1 8 5 8 3 8 1 8 0 8-2 8-2 8 0 8 1 8 0 8-2 8-1 8 1 8 2 8 4 8 3 8 1 8 2 8 1 8-1 8-2 8 0 8 1 8-1 8-1 8 0 8 1 8 1 8 2 8 0 8 0 8 0 8 0 8 1 8 3 8 3 8 1 8-2 8-3 8-1 8 0 8 2 8 2 8 1 8-1 8-3 8-3 8-1 8 1 8 3 8 2 8-1 8-1 8 0 8-1 8-1 8-3 8-1 8 1 8 3"/><path d="M4572 3289l8-4 8-3 8 0 8 0 8 0 8 0 8-1 8-2 8 0 8 2 8 1 8 0 8-2 8-1 8 0 8 2 8 1 8 1 8 1 8-1 8-1 8-2 8-1 8-1 8 2 8 2 8 0 8-3 8-3 8-1 8-1 8-2 8-2 8-1 8-1 8 0 8 1 8 2 8 1 8 0 8 0 8 0 8 1 8-1 8 0 8 0 8 2 8 0 8 0 8 0 8-1 8-2 8-2 8-1 8 0 8 0 8 0 8-2 8-3 8 0 8 1 8 1 8 0 8-3 8-3 8 2 8 3 8 0 8-1 8-2 8-2 8 1 8 1 8-1 8-2 8-1 8 0 8-1 8-1 8-1 8-1 8-2 8-2 8-2 8 0 8 0 8-2 8-3 8-2 8 0 8-1 8-3 8-6 8-4 8-3 8-2 8-3 8-5 8-3 8-4 8-8 8-8 8-7 8-9 8-12 8-16 8-20 8-22 8-23 8-26 8-31 8-33 8-35 8-34 8-28 8-17 8-1 8 25 8 42 8 47 8 45 8 38 8 30 8 22 8 17 8 15 8 13 8 10 8 6 8 6 8 5 8 4 8 2 8 2 8 0 8 0 8 1 8 1 8 0 8 0 8 0 8 2 8 3 8 2 8 1 8-2 8-3 8-2 8 0 8 0 8 0 8-2 8-2 8-1 8 1 8 1 8 1 8 0 8 0 8 1 8 0 8 0 8 1 8 1 8 4 8 5 8 3 8 1 8-2 8-2 8 0 8 2 8 2 8-1 8-2 8-1 8 2 8 2 8 1 8 0 8-1 8 0 8 0 8-1 8-1 8 0 8-1 8-2 8 0 8 0 8 2 8 2 8 3 8 4 8 1 8-1 8-1 8 1 8 1 8-1 8-3 8-2 8-1 8 0 8 1 8 0 8 0 8 0 8 2"/><path d="M4572 3315l8 0 8 0 8 0 8-1 8-3 8-4 8 0 8 3 8 2 8 0 8-4 8-4 8-1 8 1 8 2 8 2 8-1 8-2 8-1 8 1 8 2 8 0 8 0 8 0 8 1 8-1 8-1 8-1 8-1 8 0 8 0 8 1 8-1 8-1 8-1 8 0 8 0 8-2 8-2 8-2 8 0 8 1 8 1 8 1 8 2 8 0 8-4 8-3 8 1 8 2 8-1 8-3 8-2 8 0 8 2 8 2 8-1 8-3 8-2 8 0 8 1 8 0 8-2 8-3 8-2 8 1 8 1 8 0 8-1 8-1 8 1 8 0 8 0 8 0 8 0 8-1 8-2 8-1 8 1 8-1 8-2 8-2 8-1 8-1 8-1 8 0 8 1 8 0 8 1 8-1 8-4 8-4 8-2 8-1 8-2 8-3 8-5 8-5 8-2 8-2 8-4 8-7 8-9 8-11 8-11 8-12 8-12 8-13 8-18 8-22 8-25 8-31 8-36 8-39 8-36 8-29 8-19 8-3 8 24 8 43 8 49 8 48 8 40 8 31 8 23 8 17 8 13 8 10 8 9 8 5 8 2 8 1 8 2 8 4 8 5 8 2 8 0 8 1 8 1 8 0 8 1 8 1 8 0 8-1 8 0 8-2 8-3 8-1 8 1 8 1 8 0 8 1 8 1 8 1 8 0 8 1 8 0 8-1 8-1 8-2 8 0 8 2 8 3 8 1 8-1 8-1 8 1 8 1 8 1 8 1 8 0 8-1 8-1 8-1 8 1 8 2 8 3 8 2 8 0 8 2 8 2 8 2 8 4 8 2 8-1 8-4 8-3 8-1 8 1 8 1 8 1 8 1 8-2 8-1 8 0 8 2 8 1 8 0 8 0 8 0 8 1 8 0 8 1 8 1 8 0 8-1 8-2 8-4 8-4"/><path d="M4572 3343l8-1 8-1 8 0 8-1 8-1 8 0 8 0 8 1 8 1 8 0 8-1 8 0 8-1 8 0 8 1 8 0 8 0 8-2 8-1 8-2 8-2 8-2 8 0 8 2 8 1 8 0 8-1 8-2 8-1 8 1 8 2 8 1 8-1 8-4 8-2 8 1 8 2 8 1 8 0 8 1 8 2 8 1 8 0 8 0 8-1 8-3 8-3 8-2 8-2 8-3 8-3 8 0 8 2 8 2 8 0 8-2 8-4 8-2 8 0 8 2 8 1 8 0 8 1 8 1 8-1 8-2 8-2 8-2 8 0 8 2 8 1 8-1 8-2 8-3 8-3 8 0 8 3 8 0 8-2 8-2 8-1 8 0 8 0 8-1 8-2 8-2 8 0 8-1 8-3 8-3 8-5 8-3 8-2 8-2 8-3 8-3 8-5 8-3 8-4 8-6 8-6 8-7 8-9 8-10 8-12 8-16 8-17 8-19 8-21 8-24 8-27 8-29 8-31 8-33 8-28 8-19 8-5 8 16 8 34 8 41 8 43 8 40 8 32 8 23 8 18 8 15 8 14 8 10 8 7 8 7 8 7 8 4 8 1 8-2 8 0 8 3 8 3 8 3 8 3 8 1 8-1 8-2 8-1 8-1 8 0 8 0 8 0 8-1 8 0 8-1 8-2 8-1 8 0 8 0 8 0 8 1 8 2 8 2 8 3 8-1 8-2 8 0 8 1 8 1 8 1 8 1 8 2 8 1 8-1 8-1 8 0 8 1 8 1 8 2 8 0 8 1 8 3 8 4 8 3 8 0 8-2 8-1 8-2 8-1 8-1 8 2 8 1 8 1 8 2 8 1 8 0 8 1 8 3 8 2 8-1 8 0 8 2 8 2 8 0 8-1 8-3 8-3 8 0 8 1 8-2 8-2 8-2 8-1 8 0"/><path d="M4572 3370l8-3 8-1 8 0 8 2 8 1 8 1 8 2 8 2 8-2 8-3 8-2 8-1 8-1 8-2 8 0 8 0 8 2 8 1 8-1 8-1 8-1 8 0 8 1 8 2 8 1 8-1 8 0 8 0 8-2 8-3 8-2 8 0 8 0 8 3 8 2 8 1 8-1 8-2 8-2 8-1 8 0 8-2 8-3 8-2 8 0 8 0 8-1 8 0 8 1 8 2 8-1 8-2 8 0 8 0 8 0 8-2 8-1 8-1 8 1 8 3 8 2 8 2 8-1 8-2 8-3 8-2 8 0 8 0 8-1 8-3 8-3 8-1 8 0 8 0 8 0 8-2 8-1 8 2 8 2 8 0 8-2 8-3 8-2 8-1 8 0 8-2 8 0 8 0 8 0 8-2 8-4 8-3 8-2 8 0 8-2 8-3 8-6 8-6 8-6 8-4 8-3 8-4 8-7 8-10 8-11 8-11 8-12 8-12 8-14 8-17 8-23 8-29 8-32 8-31 8-29 8-27 8-22 8-12 8 3 8 25 8 38 8 41 8 38 8 33 8 28 8 23 8 18 8 13 8 8 8 5 8 5 8 5 8 5 8 4 8 2 8 1 8 1 8 2 8 1 8-1 8 0 8 2 8 2 8 1 8 0 8 0 8 0 8 1 8-1 8-1 8-1 8 0 8-2 8-2 8 1 8 1 8 0 8 1 8 1 8 3 8 2 8-1 8-1 8 0 8 2 8 2 8 0 8-2 8-1 8 3 8 4 8 4 8 1 8 0 8-2 8-1 8 0 8 1 8 2 8 3 8 3 8 2 8-2 8-2 8 0 8 1 8 1 8-1 8 0 8 0 8 2 8 1 8 1 8 1 8-1 8-3 8-3 8 2 8 2 8 0 8 0 8 1 8 0 8-1 8 0 8 2 8 1 8-1 8-2"/><path d="M4572 3401l8-3 8-2 8-1 8 0 8 1 8 0 8 1 8 2 8 1 8-2 8 0 8 0 8 0 8-1 8 0 8 0 8-2 8-3 8-1 8 1 8 0 8-2 8-2 8-1 8 2 8 1 8 0 8 0 8 0 8 1 8 1 8 2 8-1 8-2 8-2 8-1 8-2 8 1 8 3 8 1 8-1 8-1 8-1 8-2 8-3 8-2 8-1 8 1 8 3 8 3 8 0 8-2 8-4 8-3 8 0 8 1 8 0 8 1 8 0 8 0 8-1 8-2 8-2 8-2 8 0 8 1 8 0 8 0 8-1 8-1 8 1 8 1 8-2 8-1 8 0 8 1 8-2 8-2 8-1 8-1 8-1 8 0 8-1 8-1 8-2 8-3 8-1 8-1 8-1 8-3 8-3 8-2 8 0 8 0 8-1 8-1 8-2 8-4 8-6 8-8 8-7 8-6 8-6 8-5 8-6 8-11 8-14 8-16 8-20 8-23 8-27 8-28 8-29 8-30 8-32 8-29 8-18 8-2 8 24 8 41 8 44 8 41 8 33 8 26 8 22 8 19 8 16 8 11 8 7 8 4 8 3 8 2 8 2 8 2 8 2 8 2 8 1 8 2 8 2 8 2 8-2 8-3 8-1 8 1 8-1 8-2 8-1 8 0 8-1 8-2 8-2 8-1 8 0 8 1 8 0 8 3 8 4 8 3 8 0 8 0 8 1 8 0 8-1 8 0 8 1 8-1 8-1 8 2 8 4 8 1 8-1 8-1 8 0 8 1 8 1 8 1 8 2 8 3 8 1 8-1 8 0 8 2 8 3 8 1 8 0 8-1 8-1 8 1 8 3 8 2 8 3 8 1 8-2 8-4 8-3 8 0 8 3 8 1 8-2 8 0 8 0 8 0 8-1 8 1 8 1 8 2 8-1 8-2 8-2"/><path d="M4572 3428l8 1 8 3 8 1 8 0 8-3 8-4 8-1 8 0 8 1 8 0 8-2 8-1 8 1 8 1 8-1 8-1 8-1 8 2 8 2 8 0 8-2 8-2 8 0 8 2 8 1 8 0 8-1 8-4 8-4 8-2 8 2 8 1 8 2 8 0 8 0 8 0 8 0 8-2 8-1 8-1 8 1 8 1 8 0 8-1 8-1 8-2 8-1 8-1 8-2 8-3 8 1 8 2 8 2 8-1 8-1 8-1 8-2 8-2 8-1 8 1 8 5 8 4 8 0 8-3 8-4 8-2 8-1 8 1 8 0 8-1 8-1 8 0 8-1 8-1 8 0 8-1 8-3 8-2 8 0 8-1 8 0 8 0 8-1 8-1 8-1 8-1 8-3 8-2 8-2 8-3 8-4 8-4 8-2 8 2 8 1 8-3 8-6 8-5 8-3 8-4 8-4 8-5 8-6 8-8 8-7 8-8 8-11 8-15 8-16 8-17 8-20 8-24 8-29 8-33 8-34 8-30 8-23 8-12 8 0 8 20 8 33 8 40 8 40 8 36 8 28 8 20 8 15 8 13 8 12 8 9 8 6 8 7 8 5 8 3 8 2 8 2 8 2 8 1 8 1 8 0 8 1 8 2 8 1 8-2 8-5 8-4 8-2 8-1 8 1 8 1 8 1 8 0 8 0 8-1 8-1 8 2 8 4 8 1 8 0 8 0 8 2 8 3 8 1 8 0 8 0 8 0 8 0 8 1 8 1 8 1 8 1 8 1 8 1 8 1 8 4 8 3 8 2 8 1 8 1 8 0 8-2 8-3 8-3 8-1 8 1 8 2 8 0 8-1 8-2 8 0 8 1 8 4 8 4 8 2 8 0 8 1 8 1 8 0 8-1 8-1 8-1 8 0 8 0 8 1 8 0 8-2 8-3 8-3 8 0"/><path d="M4572 3458l8 0 8-1 8-3 8-3 8-1 8 1 8 1 8 1 8 1 8 1 8-1 8-1 8-2 8 0 8 0 8 1 8 0 8-1 8-1 8-1 8 1 8 1 8 0 8 0 8-1 8 0 8 0 8 0 8-1 8-1 8 0 8-1 8 1 8 1 8-1 8-3 8-1 8 0 8 0 8 2 8 2 8-1 8-4 8-3 8 0 8 1 8 1 8-1 8-1 8-1 8 0 8 1 8 0 8-1 8-1 8-2 8 1 8 2 8 1 8-1 8-2 8-1 8 0 8 0 8-1 8-3 8-2 8-1 8-1 8 0 8-1 8-1 8 0 8 0 8-1 8-1 8 0 8 1 8 0 8-1 8-5 8-6 8-3 8 1 8 0 8 0 8-2 8-1 8-1 8-1 8 0 8 0 8-1 8-2 8-2 8-4 8-5 8-5 8-4 8-4 8-5 8-6 8-6 8-8 8-8 8-9 8-12 8-15 8-16 8-18 8-21 8-25 8-27 8-28 8-28 8-29 8-22 8-10 8 2 8 20 8 32 8 36 8 35 8 31 8 26 8 22 8 19 8 16 8 12 8 8 8 5 8 2 8 2 8 3 8 3 8 3 8 4 8 1 8-2 8-3 8-1 8 0 8 1 8-1 8 0 8 0 8 1 8 0 8 0 8-1 8-2 8-1 8 0 8 2 8 3 8 3 8 1 8-1 8-1 8 0 8 3 8 4 8 1 8-1 8-1 8 0 8 1 8 0 8 1 8 2 8 1 8 1 8 3 8 3 8 1 8 2 8 0 8-1 8-1 8 1 8 1 8 0 8 0 8 1 8 2 8 0 8-1 8 1 8 2 8 1 8 0 8-1 8 0 8-2 8-1 8 1 8 1 8 1 8 2 8 2 8-1 8-2 8 1 8 2 8 2 8-1 8-1 8 1 8 2"/><path d="M4572 3483l8 0 8 1 8 0 8-2 8-2 8 0 8 3 8 3 8 1 8 0 8 0 8-2 8-2 8-3 8-2 8-1 8 0 8 2 8 1 8 1 8 1 8 0 8-1 8-3 8-2 8-2 8 1 8 2 8 0 8 1 8 1 8-1 8-1 8 0 8 1 8-2 8-3 8-2 8 1 8 1 8-2 8-2 8 0 8 1 8 1 8 0 8-2 8 0 8-1 8 0 8-2 8 1 8 0 8-1 8-2 8 0 8 0 8-2 8 0 8 0 8 1 8-1 8 0 8 2 8 0 8-1 8-2 8-1 8-1 8-1 8 0 8 0 8 0 8 1 8 1 8-1 8-3 8-3 8-3 8 0 8-1 8-2 8-1 8 2 8 1 8-3 8-3 8-2 8-1 8-1 8 0 8-2 8-4 8-2 8-1 8-2 8-3 8-4 8-5 8-4 8-3 8-3 8-6 8-7 8-8 8-9 8-11 8-13 8-16 8-18 8-20 8-22 8-25 8-31 8-34 8-30 8-22 8-13 8-1 8 18 8 34 8 40 8 39 8 32 8 25 8 22 8 19 8 14 8 10 8 6 8 4 8 4 8 4 8 0 8-2 8 1 8 3 8 3 8 1 8-1 8 0 8 1 8-1 8-2 8-2 8 1 8 0 8-1 8 1 8 3 8 4 8 1 8-2 8-2 8-1 8 0 8 0 8 1 8 0 8-1 8-1 8-1 8 2 8 4 8 2 8 1 8 0 8 1 8 1 8-1 8 0 8 4 8 5 8 2 8 1 8 1 8 0 8-1 8-1 8-1 8-1 8 1 8 3 8 4 8 2 8 0 8 1 8 3 8 1 8-1 8-2 8-1 8 0 8 1 8 1 8 0 8-3 8-1 8-1 8-1 8 1 8 0 8 0 8 1 8 1 8 0 8-1 8-1 8-1"/><path d="M4572 3515l8-1 8-1 8 0 8-2 8-5 8-3 8 1 8 4 8 4 8 1 8-1 8-1 8-1 8-1 8-1 8 0 8 0 8 0 8 0 8-1 8 0 8 2 8 2 8 0 8-2 8-4 8-4 8-2 8-1 8 0 8 2 8 3 8 4 8 1 8 0 8-1 8-3 8-4 8-3 8 1 8 2 8 3 8 3 8 2 8-2 8-2 8-1 8-1 8-1 8-2 8-1 8-2 8-2 8 0 8 1 8 1 8 1 8 2 8 0 8-2 8-2 8-2 8-1 8 0 8 1 8 0 8 0 8-2 8-3 8-2 8 0 8 0 8-2 8-1 8 0 8-1 8 0 8 0 8 0 8-1 8-3 8-3 8 0 8 1 8 0 8-3 8-1 8-1 8-1 8 0 8 0 8-1 8-3 8-4 8-3 8-4 8-3 8-3 8-2 8-2 8-3 8-4 8-5 8-6 8-8 8-8 8-9 8-10 8-13 8-17 8-17 8-19 8-23 8-29 8-32 8-28 8-25 8-21 8-16 8-4 8 16 8 33 8 41 8 40 8 36 8 27 8 18 8 13 8 11 8 9 8 7 8 7 8 6 8 4 8 2 8 1 8 1 8 0 8-1 8-1 8 0 8 0 8 2 8 3 8 1 8-1 8-1 8-2 8-2 8 0 8 1 8 2 8 1 8 0 8-2 8-1 8 0 8 0 8 0 8 0 8 0 8 1 8 2 8 3 8 4 8 4 8 1 8-1 8-2 8-1 8 2 8 2 8 1 8 1 8 3 8 3 8 1 8-1 8 1 8 0 8 1 8 0 8 1 8 0 8-1 8 1 8 2 8 1 8 0 8 0 8 3 8 2 8 0 8-2 8 0 8 2 8 3 8 2 8 0 8-1 8-2 8-1 8 1 8-1 8-2 8-2 8 0 8-2 8-2"/><path d="M4572 3546l8-2 8-2 8-1 8-2 8-1 8 2 8 1 8 1 8 1 8 1 8-2 8-4 8-1 8 0 8 1 8 1 8-1 8 1 8 1 8 0 8 1 8 1 8 2 8 0 8-3 8-5 8-4 8-1 8 0 8-2 8 1 8 2 8 2 8-1 8-1 8-2 8 0 8 0 8 0 8 0 8 1 8 2 8 1 8-1 8-3 8-2 8-1 8 0 8 0 8 0 8-1 8-2 8-2 8 0 8 2 8 1 8 0 8-2 8-2 8-2 8-3 8 0 8 1 8 1 8 0 8 0 8-1 8-2 8 0 8-1 8-1 8-2 8-3 8-1 8 0 8 1 8 1 8 1 8-1 8-2 8 0 8 1 8 1 8-2 8-3 8-1 8-2 8-3 8-3 8-1 8 1 8-1 8-2 8-1 8-4 8-5 8-5 8-4 8-4 8-6 8-4 8-3 8-4 8-7 8-10 8-10 8-13 8-16 8-15 8-16 8-17 8-21 8-24 8-26 8-25 8-26 8-23 8-14 8-1 8 14 8 25 8 30 8 33 8 31 8 26 8 19 8 16 8 16 8 14 8 10 8 4 8 2 8 4 8 5 8 3 8 4 8 4 8 3 8 1 8-1 8-4 8-1 8 1 8 1 8-1 8-1 8 0 8 0 8 0 8 0 8-1 8-2 8 0 8 3 8 2 8-2 8-1 8 0 8 2 8 2 8 2 8 1 8 1 8 0 8 0 8 1 8 2 8 1 8-1 8-1 8 1 8 3 8 4 8 4 8 2 8 0 8-1 8-1 8 0 8 2 8 3 8 4 8 3 8 1 8 0 8 0 8-1 8-1 8 0 8 0 8 2 8 1 8 0 8 1 8-1 8-2 8-1 8 1 8 3 8 1 8-1 8-1 8-1 8-2 8-1 8 0 8 1 8 1 8-1"/><path d="M4572 3578l8-1 8-2 8-2 8-2 8-1 8-1 8-2 8-2 8 2 8 4 8 2 8-1 8-1 8 0 8 0 8-1 8-2 8-1 8 0 8 0 8 0 8-3 8-3 8 0 8 2 8 1 8-2 8 0 8 1 8 2 8 0 8-2 8-2 8 0 8-1 8-1 8-1 8 0 8 1 8 2 8 2 8 0 8-1 8 0 8-2 8-1 8-1 8-1 8-1 8 0 8-1 8 0 8 1 8-2 8-1 8 3 8 3 8-1 8-2 8-2 8-2 8-3 8-2 8-2 8-2 8 1 8 0 8-1 8 0 8 2 8 2 8 1 8-1 8-3 8-2 8 0 8 0 8-2 8-3 8-1 8-1 8-1 8-2 8-2 8 1 8 3 8-1 8-3 8-4 8-3 8 0 8 1 8 0 8-1 8-3 8-4 8-3 8-2 8 0 8-1 8-4 8-7 8-8 8-5 8-2 8-6 8-8 8-10 8-10 8-12 8-18 8-21 8-22 8-24 8-28 8-29 8-27 8-24 8-17 8-9 8 6 8 25 8 35 8 35 8 33 8 27 8 20 8 14 8 10 8 10 8 11 8 10 8 6 8 5 8 3 8 3 8 1 8 2 8 2 8 0 8-1 8 0 8 0 8-2 8-3 8-2 8 0 8 1 8 3 8 2 8 1 8-1 8-1 8-1 8-2 8 0 8 1 8 2 8 2 8 3 8 3 8 0 8 0 8-1 8 0 8 0 8 1 8 3 8 2 8 1 8 0 8 0 8 2 8 3 8 4 8 2 8 2 8 2 8 0 8-1 8 0 8 1 8-1 8-2 8-1 8 0 8 3 8 3 8 2 8 2 8 0 8 0 8 0 8 0 8-1 8 0 8 2 8 2 8 0 8-3 8-3 8 1 8 4 8 1 8-2 8-3 8-2 8 0 8 1"/><path d="M4572 3600l8-1 8 2 8 2 8-1 8-4 8-4 8-1 8 0 8 1 8 0 8 1 8 0 8 0 8-1 8 0 8 0 8 2 8 1 8 0 8-1 8-1 8 0 8-3 8-2 8-2 8 0 8 2 8 3 8 3 8 1 8-1 8-3 8-2 8 0 8 0 8 0 8-1 8 0 8 2 8 2 8-3 8-5 8-3 8 2 8 3 8 1 8-1 8-2 8-3 8-2 8 1 8 2 8 1 8-1 8 1 8 2 8 0 8 0 8-3 8-2 8-3 8-2 8-1 8 0 8 0 8-1 8 0 8 1 8 0 8-1 8-1 8-1 8 1 8 0 8-2 8-3 8-1 8 1 8-1 8-2 8-2 8-1 8 1 8 1 8 0 8-1 8-1 8-3 8-4 8-2 8 0 8 0 8-3 8-4 8-4 8-2 8-1 8 1 8-2 8-4 8-5 8-4 8-6 8-6 8-8 8-10 8-11 8-9 8-9 8-12 8-15 8-20 8-22 8-26 8-30 8-30 8-25 8-20 8-11 8 2 8 20 8 32 8 35 8 31 8 27 8 23 8 19 8 17 8 13 8 9 8 6 8 4 8 3 8 5 8 3 8 2 8 1 8 1 8 0 8-3 8-1 8 0 8 1 8 1 8-1 8-2 8-1 8-1 8 0 8 0 8 0 8-1 8-3 8-1 8 0 8-1 8 0 8 2 8 2 8 1 8 0 8 2 8 3 8 3 8 3 8 2 8 0 8 0 8 1 8 2 8 3 8 1 8 0 8-2 8 0 8 2 8 5 8 4 8 1 8-3 8 0 8 1 8 2 8 1 8 2 8 3 8 4 8 1 8-2 8-4 8-1 8 1 8 3 8 1 8-3 8-3 8-1 8 0 8 0 8 2 8 2 8 1 8-2 8-2 8-2 8 0 8 1 8 1 8 1"/><path d="M4572 3631l8 3 8 1 8-2 8-3 8-4 8-2 8-1 8 0 8-1 8 0 8 1 8 2 8 2 8 1 8-2 8-2 8 0 8 2 8 1 8-1 8-2 8-3 8-2 8-2 8 0 8 2 8 2 8 2 8-1 8-1 8 0 8 1 8-1 8-1 8-1 8-1 8-2 8-1 8 0 8 3 8 1 8-3 8-3 8 0 8 0 8 0 8 1 8 2 8 1 8-2 8-3 8-2 8 0 8 1 8 0 8-1 8 0 8-1 8-2 8-1 8 0 8 1 8 1 8 1 8 1 8 0 8-1 8 0 8-1 8-1 8-3 8-4 8-2 8-1 8 0 8-1 8-1 8-2 8-1 8 1 8 0 8-2 8-2 8-2 8-1 8 0 8 0 8-2 8-1 8-1 8 1 8 2 8 0 8-1 8-4 8-3 8-2 8-3 8-4 8-5 8-6 8-7 8-5 8-4 8-4 8-6 8-9 8-8 8-10 8-14 8-17 8-18 8-21 8-22 8-24 8-25 8-25 8-23 8-18 8-12 8 1 8 16 8 27 8 29 8 29 8 26 8 23 8 20 8 16 8 14 8 10 8 8 8 6 8 3 8 2 8 4 8 2 8 0 8 0 8 1 8 1 8 1 8 0 8 1 8 0 8 1 8 0 8 1 8 1 8 1 8 1 8 0 8-1 8-3 8-2 8-1 8 0 8 1 8 0 8-1 8-1 8 2 8 4 8 5 8 2 8 1 8 1 8 1 8 2 8 2 8 2 8 1 8 2 8 1 8 0 8 2 8 2 8 3 8 3 8 1 8-2 8-1 8 1 8 3 8 2 8 0 8 1 8 0 8 1 8 0 8 0 8-1 8-1 8 1 8 1 8 2 8 0 8 0 8-1 8 0 8 1 8 0 8-2 8-1 8 1 8 1 8 0 8-2 8-2"/><path d="M4572 3659l8 0 8 0 8 0 8-1 8-1 8-2 8 0 8 0 8 1 8-2 8-3 8 0 8 3 8 1 8 0 8 0 8 0 8 0 8 1 8-1 8 1 8-1 8-1 8 0 8 1 8 0 8-1 8-2 8-2 8-2 8-3 8 0 8 2 8 1 8 1 8 2 8 1 8-3 8-4 8-2 8-1 8 1 8 0 8 0 8 1 8 1 8-3 8-3 8-1 8 3 8 1 8 0 8 1 8-1 8-4 8-4 8-1 8 0 8 0 8 0 8 2 8 0 8-1 8-2 8-1 8 1 8 0 8 0 8 1 8 1 8 0 8-2 8-2 8-3 8-1 8 0 8 0 8 0 8 1 8-1 8-4 8-4 8 0 8 2 8 0 8 0 8-1 8-1 8-2 8 0 8 0 8-3 8-4 8-3 8-3 8-3 8-2 8-2 8-3 8-3 8-3 8-4 8-3 8-4 8-6 8-8 8-10 8-10 8-10 8-13 8-14 8-15 8-19 8-23 8-25 8-25 8-25 8-23 8-19 8-11 8 1 8 16 8 27 8 32 8 33 8 28 8 22 8 20 8 16 8 12 8 6 8 2 8 3 8 6 8 6 8 3 8-1 8-1 8 2 8 2 8 0 8-2 8 0 8 3 8 2 8 1 8 0 8-1 8-1 8-2 8-3 8-2 8-1 8 2 8 2 8 1 8-1 8 0 8 1 8 1 8 2 8-1 8 1 8 2 8 3 8 1 8 0 8 2 8 2 8 2 8 2 8 2 8 3 8 2 8 1 8 1 8 2 8 2 8 2 8 0 8 0 8 1 8 1 8 1 8 1 8 0 8 1 8-1 8 0 8-1 8 0 8 2 8 3 8 1 8-2 8-2 8-1 8-1 8-1 8-1 8 2 8 2 8 1 8 2 8 3 8 0 8-3 8-3 8-1"/><path d="M4572 3689l8 3 8 0 8-1 8-3 8-3 8 0 8 1 8 1 8-1 8-2 8-1 8 1 8-1 8-3 8-1 8 2 8 4 8 4 8 1 8-4 8-5 8-3 8 0 8 2 8 1 8-2 8-1 8-1 8 0 8-1 8-1 8 1 8 2 8 1 8-1 8-2 8-3 8-1 8 0 8 2 8 1 8-1 8-1 8 1 8 2 8 1 8-1 8-1 8-3 8-3 8-2 8-2 8 0 8 2 8 4 8 1 8-2 8-2 8 0 8 0 8 1 8-1 8-1 8-2 8-1 8 1 8 0 8-1 8-1 8 1 8 0 8 0 8-2 8-2 8-1 8 0 8-2 8-2 8-1 8 0 8 1 8 0 8-1 8-3 8-4 8-2 8 0 8 0 8 1 8 0 8-2 8-3 8-2 8-2 8-3 8-3 8-3 8-1 8-1 8 0 8-1 8-4 8-6 8-6 8-6 8-8 8-9 8-10 8-9 8-8 8-11 8-17 8-20 8-21 8-21 8-24 8-27 8-25 8-20 8-13 8-1 8 16 8 29 8 34 8 32 8 26 8 22 8 17 8 14 8 10 8 6 8 5 8 4 8 3 8 2 8 1 8 0 8 2 8 4 8 4 8 1 8-2 8-1 8 0 8 0 8-1 8-1 8-1 8-2 8-2 8-2 8-1 8-1 8 1 8 3 8 2 8 1 8 0 8 1 8 1 8 1 8-1 8 0 8 3 8 3 8 0 8 1 8 3 8 3 8 1 8-1 8 0 8 2 8 3 8 1 8 0 8 1 8 1 8 2 8 1 8 1 8 3 8 4 8 3 8-2 8-3 8-1 8 2 8 4 8 1 8-1 8-2 8 0 8 2 8 1 8 1 8-1 8-2 8-1 8 1 8 1 8 0 8 0 8 0 8-1 8 1 8 3 8 2 8-3"/><path d="M4572 3720l8-3 8-2 8 1 8 2 8-1 8 0 8 1 8 0 8-3 8-4 8-1 8 0 8 0 8 0 8 1 8 0 8-1 8 1 8 1 8-1 8-3 8-2 8-1 8 0 8 0 8 1 8 0 8 1 8 2 8 0 8-2 8-3 8 0 8-1 8-2 8-1 8 1 8 1 8-1 8-3 8-1 8 2 8 2 8 2 8 1 8-1 8-2 8-2 8 0 8 2 8 1 8-1 8-2 8-3 8-3 8-2 8-1 8 3 8 3 8 1 8-1 8-4 8-1 8 0 8 1 8 0 8 1 8 2 8 2 8-1 8-4 8-3 8 0 8 1 8-1 8-2 8 0 8 1 8 0 8-2 8-3 8-1 8 0 8-1 8-3 8-3 8-1 8 1 8-2 8-3 8-3 8 0 8 0 8-2 8-4 8-2 8 1 8-1 8-4 8-4 8-3 8-4 8-4 8-3 8-5 8-5 8-7 8-9 8-10 8-12 8-14 8-15 8-14 8-16 8-22 8-26 8-23 8-23 8-21 8-15 8-7 8 2 8 13 8 24 8 27 8 28 8 25 8 22 8 17 8 15 8 12 8 9 8 7 8 5 8 3 8 1 8 2 8 3 8 1 8-2 8-1 8 1 8 2 8 2 8-1 8-2 8-2 8-2 8-1 8 0 8 1 8 2 8 1 8 0 8 1 8 2 8-1 8-1 8 0 8 3 8 3 8 2 8 0 8 0 8 2 8 1 8 1 8 2 8 4 8 2 8 1 8-2 8-2 8-1 8 3 8 4 8 4 8 1 8-1 8-1 8 0 8 2 8 4 8 5 8 3 8 1 8-2 8-1 8 1 8 1 8 0 8 0 8 0 8-1 8 0 8-1 8 0 8 1 8 1 8 1 8 0 8 0 8 0 8 0 8 0 8 2 8 1 8-2 8-4"/><path d="M4572 3744l8 0 8 1 8 2 8-1 8-2 8-1 8 0 8-1 8 0 8 1 8 0 8-2 8-2 8 0 8 1 8-1 8-2 8-3 8 1 8 2 8 4 8 3 8 1 8-3 8 0 8 0 8-1 8-3 8-4 8 0 8 3 8 2 8 0 8-2 8-2 8-1 8-1 8-1 8-1 8 0 8 0 8-2 8-2 8 2 8 0 8-2 8-3 8 0 8 3 8 1 8 1 8 1 8 0 8-1 8-3 8-2 8-1 8-1 8-1 8 1 8 3 8 4 8 2 8-2 8-4 8-3 8-2 8-1 8-2 8-1 8 0 8-1 8 0 8 3 8 1 8-2 8-3 8-2 8 1 8 1 8-2 8-3 8-1 8-1 8-1 8-4 8-2 8 0 8-1 8-3 8-2 8 1 8 1 8-1 8-4 8-4 8-3 8-1 8-3 8-3 8-4 8-5 8-5 8-4 8-6 8-7 8-9 8-7 8-8 8-10 8-15 8-18 8-19 8-18 8-19 8-21 8-21 8-22 8-17 8-9 8-1 8 10 8 19 8 25 8 26 8 25 8 20 8 16 8 14 8 12 8 9 8 6 8 6 8 7 8 4 8 2 8 0 8 0 8 2 8 2 8 1 8 0 8-1 8 0 8-1 8-1 8-4 8-2 8 1 8 2 8 1 8 0 8 1 8 2 8 0 8-1 8-2 8 2 8 3 8 2 8 1 8 1 8 1 8 1 8 2 8 3 8 1 8 1 8 0 8 0 8 2 8 3 8 3 8 1 8 1 8 2 8 1 8 0 8 3 8 6 8 4 8 0 8-2 8-1 8 2 8 2 8 0 8 1 8 1 8 0 8-2 8-1 8-1 8 1 8 0 8-1 8 1 8 1 8 1 8-1 8-1 8-1 8-3 8-3 8 0 8 2 8 1 8 0 8 1"/><path d="M4572 3772l8 1 8 3 8 3 8 0 8-1 8-3 8-2 8-1 8 1 8 2 8 2 8 0 8 0 8-1 8-2 8-2 8 1 8 1 8-1 8-2 8-2 8 1 8 1 8-1 8-3 8-3 8 0 8 1 8 2 8-1 8-2 8-2 8 0 8 1 8 1 8-2 8-3 8 0 8 3 8 4 8 2 8-2 8-2 8-2 8-2 8-1 8 0 8 0 8 1 8 0 8 0 8-1 8-2 8-3 8-3 8 1 8 2 8 1 8-2 8-3 8-2 8 0 8 1 8 0 8-2 8 0 8 1 8 0 8-1 8-2 8-2 8 2 8 2 8 0 8 0 8 1 8 0 8-1 8-3 8-5 8-3 8 0 8 0 8-1 8-1 8 1 8 1 8 0 8-2 8-2 8-2 8-2 8-1 8-2 8-2 8 0 8 2 8 0 8-4 8-5 8-5 8-3 8-2 8-4 8-5 8-5 8-5 8-6 8-7 8-11 8-12 8-14 8-13 8-16 8-19 8-21 8-20 8-21 8-21 8-21 8-15 8-8 8 4 8 19 8 27 8 28 8 26 8 22 8 16 8 13 8 11 8 10 8 8 8 9 8 4 8 0 8-1 8 0 8 2 8 0 8 2 8 1 8 0 8 0 8-1 8 0 8 0 8 1 8 1 8-1 8-3 8-4 8-1 8 0 8 2 8 0 8 0 8 1 8 1 8 2 8 1 8 2 8 2 8 3 8 3 8 2 8 2 8 0 8-2 8 0 8 2 8 4 8 3 8 1 8 0 8 2 8 5 8 4 8 2 8 1 8 2 8 2 8 1 8 0 8 0 8 1 8 2 8 2 8 2 8 1 8 1 8-2 8-2 8-3 8-1 8-1 8 1 8 3 8 2 8-1 8-2 8-1 8-2 8 0 8 0 8 1 8 1 8 3 8 2"/><path d="M4572 3803l8 0 8 0 8 0 8-1 8-1 8 1 8-1 8 0 8 1 8 1 8 1 8-1 8-2 8-2 8-1 8-1 8-1 8 1 8 1 8-1 8-3 8-2 8 1 8 4 8 3 8 1 8 0 8-1 8-2 8-3 8-2 8-3 8-3 8-2 8-1 8 0 8 3 8 1 8-1 8-1 8 1 8 1 8 1 8 0 8 0 8-1 8-1 8-2 8-1 8-1 8-1 8 0 8 0 8-1 8-1 8 0 8-1 8-2 8-2 8-1 8 0 8 0 8-1 8 1 8 2 8 0 8-2 8 1 8 2 8 2 8 1 8-1 8-3 8-2 8-2 8-3 8-2 8-1 8 1 8 2 8 1 8 0 8-3 8-3 8-1 8-1 8-1 8-2 8-1 8-2 8-1 8 1 8 1 8-2 8-4 8-3 8-4 8-3 8-2 8-2 8-3 8-3 8-4 8-5 8-8 8-9 8-7 8-6 8-8 8-10 8-12 8-12 8-14 8-17 8-19 8-18 8-19 8-20 8-20 8-17 8-10 8 0 8 10 8 19 8 24 8 25 8 21 8 15 8 15 8 14 8 12 8 8 8 8 8 6 8 5 8 3 8 2 8 2 8 0 8 0 8 0 8 1 8 0 8-1 8 0 8 0 8 0 8-1 8-1 8-1 8-1 8 0 8 2 8 3 8 1 8-1 8 2 8 2 8 1 8 0 8 3 8 3 8 3 8 1 8-1 8-2 8 0 8 2 8 3 8 2 8 3 8 3 8 2 8 1 8-1 8 1 8 1 8 1 8 1 8 2 8 3 8 2 8 1 8-1 8 0 8 2 8 4 8 3 8 0 8-2 8-1 8 0 8 1 8 1 8 1 8 0 8 1 8 1 8 2 8 3 8 0 8-2 8-2 8-1 8 0 8 0 8 0 8-1 8-2"/><path d="M4572 3832l8 3 8 0 8-3 8-2 8-1 8 1 8 0 8 0 8 0 8-1 8-1 8 1 8 0 8-1 8-2 8-1 8-1 8 0 8 0 8 0 8 0 8 0 8 1 8 1 8 1 8 0 8 0 8-3 8-3 8 0 8 1 8-1 8-2 8-1 8 2 8 3 8-1 8-1 8-2 8-2 8-1 8 0 8-1 8-1 8-1 8-1 8 1 8 2 8 0 8-1 8-1 8-2 8-1 8 0 8-2 8-3 8-1 8 1 8 0 8 0 8-1 8-2 8-1 8 2 8 4 8 1 8 1 8 0 8-2 8-2 8-1 8 0 8 0 8 0 8-1 8-1 8-1 8-1 8-2 8-2 8-2 8-2 8 0 8-2 8-3 8-3 8 0 8 2 8-1 8-2 8-1 8-1 8-2 8-2 8-3 8-4 8-2 8-2 8-3 8-4 8-3 8-3 8-3 8-5 8-5 8-5 8-6 8-9 8-12 8-12 8-11 8-10 8-12 8-15 8-14 8-15 8-17 8-20 8-19 8-15 8-11 8-6 8-2 8 5 8 9 8 13 8 16 8 22 8 22 8 18 8 11 8 8 8 8 8 8 8 9 8 5 8 4 8 3 8 4 8 2 8-1 8-2 8 0 8 3 8 3 8 2 8 2 8 2 8 1 8-1 8-4 8 0 8 1 8 2 8 0 8-2 8-2 8 1 8 4 8 4 8 3 8 2 8 3 8 2 8 1 8 2 8 3 8 3 8 2 8 0 8 0 8 1 8 3 8 2 8 1 8-1 8 1 8 3 8 4 8 3 8 0 8-1 8 1 8 4 8 2 8 0 8-1 8 2 8 4 8 5 8 2 8-1 8-2 8 0 8 2 8 1 8-3 8-2 8 1 8 1 8 0 8-1 8-1 8 0 8 1 8 1 8 0 8-1 8-1"/><path d="M4572 3860l8 0 8 0 8-2 8-2 8-1 8 0 8 1 8 1 8-1 8 1 8 1 8 1 8 0 8 0 8-1 8-2 8-2 8 0 8-1 8 0 8 0 8 0 8 1 8-1 8 1 8 1 8-1 8-2 8-1 8-1 8-1 8 0 8 0 8 1 8 0 8 0 8-1 8 0 8 0 8 0 8-2 8-2 8-2 8-2 8-1 8 1 8 3 8 3 8-1 8-4 8-2 8-2 8-1 8-1 8 1 8 0 8-1 8-1 8-1 8 0 8 1 8 0 8 0 8 0 8 0 8 1 8-1 8 0 8 0 8 1 8-1 8-4 8-3 8 0 8-1 8-2 8-1 8 0 8-1 8-1 8-1 8 0 8 1 8 0 8 0 8-1 8-4 8-5 8-4 8-1 8 1 8 1 8-1 8-3 8-4 8-4 8-4 8-2 8-1 8-1 8-1 8-5 8-5 8-5 8-4 8-5 8-6 8-8 8-9 8-10 8-11 8-11 8-12 8-13 8-14 8-16 8-17 8-16 8-15 8-14 8-14 8-10 8-2 8 5 8 10 8 12 8 15 8 18 8 17 8 17 8 15 8 12 8 8 8 5 8 4 8 4 8 4 8 5 8 4 8 2 8 0 8 1 8 2 8 2 8 1 8 1 8-1 8-2 8-1 8-1 8 0 8 1 8 0 8 0 8 1 8 2 8 3 8 2 8 0 8 1 8 3 8 3 8 2 8 3 8 2 8 2 8 2 8 0 8 1 8 1 8 2 8 3 8 4 8 1 8 0 8 1 8 2 8 4 8 4 8 1 8 0 8 1 8 0 8-1 8 2 8 2 8 2 8 1 8 3 8 3 8 1 8 2 8 3 8 0 8-2 8-4 8-4 8-1 8 0 8 3 8 5 8 2 8-1 8-4 8-2 8-1 8 0 8 0 8 1"/><path d="M4572 3886l8-1 8-1 8-2 8 1 8 1 8-1 8-1 8 0 8 1 8 1 8 0 8 0 8-1 8 0 8 0 8-2 8-1 8 2 8 2 8 0 8-2 8-2 8-1 8 0 8 0 8-1 8 0 8 0 8-2 8-2 8 0 8 0 8 0 8 0 8 1 8 1 8 0 8 0 8-1 8-2 8-2 8-1 8 1 8 0 8-2 8-2 8-1 8 0 8 0 8 1 8 0 8-2 8-1 8 2 8 0 8-2 8-3 8 0 8 1 8 0 8-2 8 1 8 2 8 2 8 2 8 1 8 0 8-3 8-4 8-3 8-1 8 1 8-1 8-2 8-2 8-2 8 0 8 0 8-1 8 0 8 0 8 0 8-1 8-2 8-2 8-1 8 1 8 0 8 0 8-2 8-3 8-2 8-2 8-3 8-1 8-3 8-5 8-5 8-3 8-3 8-3 8-3 8-4 8-4 8-5 8-7 8-7 8-7 8-5 8-6 8-8 8-11 8-12 8-15 8-15 8-16 8-16 8-16 8-17 8-17 8-13 8-9 8-3 8 4 8 7 8 9 8 13 8 16 8 16 8 12 8 10 8 11 8 11 8 8 8 7 8 7 8 7 8 6 8 3 8 0 8 1 8 2 8 3 8 4 8 2 8-2 8-1 8 1 8 1 8 2 8 1 8 0 8-1 8 1 8 3 8 2 8 3 8 0 8-1 8-1 8-1 8 0 8 2 8 4 8 4 8 5 8 5 8 4 8 3 8 1 8-2 8-1 8 0 8 2 8 3 8 2 8 5 8 4 8 3 8 0 8-1 8 1 8 3 8 3 8 2 8 1 8-1 8-2 8 0 8 1 8 2 8 2 8 1 8 0 8 0 8 2 8 0 8 0 8-2 8-2 8-1 8 2 8 1 8 0 8 0 8 1 8 1 8-2 8-3"/><path d="M4572 3914l8 2 8 3 8 2 8 0 8-2 8-2 8-1 8 0 8-1 8-2 8-2 8-1 8 0 8 0 8 2 8 1 8-1 8-5 8-2 8-1 8 0 8 0 8 1 8 1 8 2 8 1 8-2 8-3 8-1 8 4 8 4 8-1 8-4 8-2 8-1 8 0 8 0 8-1 8-1 8-1 8-3 8 0 8 1 8 2 8 1 8-1 8 0 8-1 8-2 8-2 8-1 8-1 8-2 8-1 8 0 8 1 8 1 8 1 8 1 8 0 8-1 8-1 8-3 8-1 8 0 8 1 8-1 8-2 8-2 8-2 8-1 8 1 8-1 8-1 8 0 8-1 8-1 8-2 8 1 8 1 8-2 8-3 8-1 8-1 8-2 8-2 8-2 8-1 8 0 8 1 8-2 8-3 8-3 8-3 8-5 8-4 8-2 8-1 8-1 8-2 8-4 8-4 8-4 8-1 8-3 8-4 8-7 8-9 8-10 8-11 8-11 8-10 8-9 8-8 8-11 8-13 8-16 8-15 8-14 8-14 8-12 8-7 8-5 8-2 8 0 8 3 8 7 8 8 8 10 8 10 8 10 8 11 8 11 8 10 8 7 8 5 8 7 8 6 8 4 8 2 8 2 8 2 8 4 8 6 8 4 8 2 8-1 8-1 8 0 8 1 8-1 8 0 8 4 8 5 8 5 8 1 8 0 8-2 8-1 8 1 8 5 8 4 8 3 8 1 8 1 8 1 8 1 8 2 8 4 8 4 8 4 8 3 8 3 8 3 8 3 8 1 8 0 8 1 8 0 8 2 8 2 8 1 8 2 8 3 8 4 8 3 8 1 8-1 8-1 8 0 8 3 8 3 8 1 8-1 8-1 8 1 8 2 8 1 8-1 8-3 8-3 8-1 8 1 8 2 8 1 8 1 8 0 8 1 8-1"/><path d="M4572 3944l8-1 8-2 8-1 8 1 8 1 8 1 8-1 8-1 8 1 8 2 8 0 8 1 8 0 8 0 8-1 8-2 8-3 8-2 8 0 8 1 8 0 8-1 8-2 8-1 8 0 8 0 8-1 8 1 8 1 8 2 8 0 8-1 8-4 8-3 8 2 8 4 8 2 8-1 8-1 8-1 8-3 8-2 8-1 8-1 8-1 8 0 8 0 8 1 8 1 8-1 8-2 8-2 8-2 8-1 8 1 8 1 8 1 8-1 8-2 8-3 8-1 8-1 8 1 8 1 8 0 8 0 8 0 8 1 8 1 8-2 8-3 8-3 8 0 8-2 8-1 8 0 8-1 8 0 8-1 8 0 8-1 8-1 8-3 8-2 8-2 8 0 8-1 8-1 8-2 8-4 8-4 8-1 8 1 8 2 8-1 8-4 8-5 8-2 8 0 8-1 8-3 8-6 8-7 8-6 8-5 8-5 8-7 8-7 8-7 8-6 8-9 8-12 8-13 8-14 8-11 8-12 8-13 8-16 8-15 8-13 8-10 8-5 8-3 8-2 8 1 8 6 8 10 8 12 8 11 8 7 8 9 8 9 8 9 8 7 8 6 8 8 8 8 8 6 8 4 8 1 8 2 8 0 8 0 8 0 8 3 8 3 8 1 8-1 8-1 8 3 8 3 8 3 8 0 8-2 8-1 8 2 8 3 8 1 8 1 8 3 8 5 8 5 8 3 8 3 8 3 8 1 8 1 8 0 8 0 8 0 8 2 8 2 8 4 8 4 8 5 8 3 8 1 8 3 8 4 8 1 8-1 8 1 8 3 8 4 8 2 8 1 8 1 8 0 8 1 8 2 8 2 8 1 8 0 8 0 8 1 8-1 8-3 8-3 8 0 8 0 8 1 8 3 8 3 8 1 8 1 8 0 8-2 8-3 8 0"/><path d="M4600 3975l8 0 8-1 8-2 8 1 8 0 8-1 8-3 8-3 8-1 8 0 8-2 8-2 8 2 8 4 8 2 8 0 8-2 8-2 8 0 8 1 8 1 8 0 8-1 8-1 8 1 8 0 8-2 8-3 8-3 8-1 8-2 8-1 8 0 8 2 8 3 8 3 8 0 8-2 8-4 8-3 8-1 8 1 8 0 8 0 8 0 8 1 8 1 8 0 8-4 8-3 8 1 8 0 8 0 8 0 8-1 8-3 8-2 8 2 8 2 8-1 8-2 8-2 8-2 8-1 8 0 8 2 8 1 8-1 8 2 8 1 8 1 8-1 8-1 8-3 8-2 8-2 8-1 8-1 8-1 8-3 8-3 8-1 8 1 8-2 8-3 8-4 8-2 8 1 8 0 8-1 8-1 8 0 8 1 8-1 8-2 8-3 8-6 8-7 8-5 8-2 8-1 8-1 8-3 8-8 8-9 8-10 8-8 8-8 8-9 8-9 8-9 8-12 8-14 8-14 8-12 8-12 8-13 8-14 8-11 8-6 8-3 8-1 8-1 8 2 8 6 8 10 8 11 8 9 8 7 8 6 8 7 8 8 8 7 8 7 8 8 8 5 8 4 8 3 8 2 8 2 8 1 8 3 8 2 8 0 8-2 8 1 8 3 8 1 8 0 8 0 8 1 8 2 8 2 8 3 8 4 8 5 8 3 8 2 8-1 8 0 8 3 8 3 8 3 8 2 8 3 8 4 8 2 8 2 8 3 8 3 8 1 8 1 8 1 8 4 8 5 8 5 8 3 8 2 8 2 8 1 8-1 8-1 8 1 8 3 8 4 8 3 8 2 8-3 8-5 8-1 8 2 8 2 8 2 8 2 8 1 8 0 8-1 8 1 8 2 8-1 8-1 8-1 8-2 8-3 8-1" stroke="#0070c0" stroke-width="12"/><path d="M4572 4001l8 2 8 2 8 0 8-3 8-3 8-2 8-1 8 1 8 2 8-1 8-1 8 0 8 1 8-1 8 0 8 0 8 0 8-1 8-1 8-2 8-1 8 1 8 1 8-1 8-1 8-1 8-1 8-2 8-1 8 1 8 1 8 1 8-1 8-2 8-1 8-1 8 1 8 1 8-1 8-1 8-1 8-2 8-2 8 0 8 0 8 0 8 1 8 1 8 2 8 0 8 0 8-1 8-1 8 0 8 1 8 2 8 0 8-4 8-7 8-5 8-3 8 1 8 2 8 1 8 0 8 0 8 0 8 0 8-1 8-2 8-2 8-4 8 0 8 3 8 1 8-1 8-2 8-2 8 0 8-1 8-3 8-3 8 1 8 1 8 0 8-1 8-2 8-3 8-2 8-1 8-1 8-2 8-3 8-1 8-1 8-2 8-3 8-4 8-1 8 0 8-2 8-3 8-5 8-6 8-7 8-5 8-5 8-6 8-6 8-5 8-6 8-9 8-12 8-11 8-10 8-11 8-13 8-13 8-12 8-10 8-11 8-10 8-8 8-7 8-4 8-1 8 1 8 3 8 5 8 4 8 7 8 10 8 12 8 9 8 8 8 9 8 8 8 5 8 4 8 3 8 2 8 2 8 4 8 4 8 2 8 1 8 2 8 2 8 1 8 0 8 0 8 0 8 2 8 4 8 4 8 0 8-1 8 0 8 2 8 2 8 4 8 5 8 5 8 2 8 1 8 2 8 3 8 5 8 4 8 3 8 3 8 3 8 4 8 4 8 3 8 0 8 1 8 2 8 2 8 1 8 0 8 0 8 0 8 2 8 4 8 3 8 2 8 2 8 2 8 0 8 1 8 0 8 0 8-1 8 1 8 2 8 2 8 1 8-2 8-2 8-2 8 1 8 3 8 3 8 2 8-1 8-2 8-2 8-1"/><path d="M4572 4029l8 2 8-2 8-3 8-1 8 0 8 1 8 0 8-1 8-2 8-1 8 2 8 1 8 0 8 1 8 1 8 0 8 0 8 0 8-1 8-1 8 0 8-1 8-1 8-1 8-2 8-2 8 0 8 0 8 0 8-2 8-2 8 2 8 3 8 1 8 0 8 0 8-1 8-2 8 0 8-1 8-3 8-1 8-1 8-1 8-3 8-4 8-3 8 0 8 3 8 4 8 2 8 0 8-2 8 0 8-2 8-3 8-1 8 0 8 2 8 2 8 1 8-2 8-2 8-1 8-1 8-1 8-1 8 0 8 0 8-1 8 0 8 0 8 0 8 0 8 0 8-2 8-3 8-4 8-4 8-3 8-1 8 1 8 0 8 2 8 2 8 2 8 1 8-2 8-3 8-3 8-3 8-3 8-4 8-5 8-2 8 1 8 1 8-2 8-3 8-4 8-2 8-2 8-3 8-3 8-2 8-4 8-6 8-7 8-6 8-6 8-5 8-7 8-6 8-6 8-9 8-12 8-12 8-11 8-11 8-11 8-11 8-14 8-13 8-12 8-8 8-5 8-4 8-3 8 0 8 2 8 4 8 7 8 7 8 9 8 9 8 10 8 11 8 8 8 5 8 4 8 5 8 4 8 3 8 5 8 5 8 1 8 0 8 2 8 4 8 4 8 1 8 0 8 2 8 4 8 2 8-1 8-1 8 2 8 4 8 5 8 5 8 2 8 0 8 1 8 2 8 4 8 4 8 2 8 2 8 3 8 3 8 4 8 4 8 3 8 3 8 2 8 2 8 1 8 1 8 2 8 3 8 3 8 1 8 1 8 0 8 1 8 3 8 3 8 2 8 3 8 2 8 1 8-3 8-3 8-1 8 3 8 3 8 2 8-1 8-3 8-3 8-3 8-1 8 2 8 3 8 2 8-1 8-2 8-1"/><path d="M4572 4063l8 0 8 0 8 1 8-1 8-3 8-3 8-2 8-1 8 1 8 1 8-1 8-4 8-2 8 1 8 1 8-1 8-1 8 1 8 1 8 1 8 0 8-3 8-3 8-2 8 0 8-1 8 1 8 2 8 3 8 3 8 1 8-2 8-6 8-5 8-1 8 3 8 1 8-1 8 0 8 0 8-2 8 0 8 0 8-1 8-1 8-2 8 0 8 2 8 2 8 2 8 1 8-3 8-3 8-2 8 0 8-1 8 1 8 1 8 1 8 0 8-2 8-1 8 1 8 0 8-4 8-3 8-3 8-1 8 0 8 1 8 2 8 0 8-2 8-3 8 1 8 2 8 1 8-2 8-1 8 0 8 0 8-1 8 0 8-1 8-2 8-2 8-1 8 0 8-2 8-3 8-1 8 0 8-1 8-1 8-1 8-3 8-5 8-2 8 0 8 0 8-4 8-6 8-6 8-2 8-1 8-1 8-2 8-6 8-9 8-8 8-3 8-2 8-6 8-9 8-9 8-10 8-12 8-12 8-12 8-9 8-11 8-14 8-14 8-13 8-11 8-9 8-7 8-4 8 0 8 4 8 6 8 9 8 10 8 9 8 6 8 5 8 5 8 8 8 9 8 6 8 4 8 3 8 3 8 2 8 2 8 5 8 4 8 5 8 3 8 4 8 2 8 2 8 3 8 2 8 4 8 4 8 2 8 0 8 1 8 1 8 1 8 1 8 1 8 2 8 2 8 3 8 4 8 5 8 3 8-1 8-1 8 4 8 7 8 5 8 4 8 3 8 2 8 1 8 1 8-1 8-1 8 0 8 1 8 3 8 5 8 4 8 0 8 0 8 1 8 1 8-1 8 0 8 2 8 2 8 0 8 0 8 0 8 0 8 0 8 2 8 0 8-2 8-2 8 0 8 2 8 2 8 1 8-1 8-2"/><path d="M4572 4087l8-1 8-1 8-2 8-3 8-2 8 2 8 1 8 1 8 0 8 1 8 1 8-2 8-3 8-2 8 0 8-1 8-1 8 2 8 5 8 4 8 0 8-2 8-3 8-4 8-2 8 2 8 3 8 1 8-1 8-3 8-4 8-1 8 0 8-1 8-2 8 0 8 0 8 1 8 0 8 0 8-1 8-1 8-2 8-1 8 2 8 4 8 1 8-2 8-3 8 0 8 1 8 1 8-2 8-1 8-1 8-1 8 1 8 0 8-1 8-3 8 1 8 1 8 0 8-3 8-4 8-1 8 0 8 2 8 0 8 0 8-2 8-2 8-2 8-2 8 0 8 0 8-2 8-1 8 0 8 0 8 1 8 2 8 0 8-3 8-4 8-3 8 0 8 2 8 2 8-1 8-2 8-1 8-3 8-4 8-2 8 0 8-1 8-3 8-4 8-4 8-2 8-1 8 0 8-2 8-2 8-4 8-5 8-5 8-5 8-5 8-5 8-6 8-7 8-8 8-9 8-10 8-10 8-9 8-8 8-12 8-13 8-10 8-10 8-10 8-12 8-12 8-12 8-9 8-5 8-3 8 1 8 4 8 6 8 9 8 10 8 10 8 8 8 7 8 6 8 6 8 6 8 5 8 6 8 6 8 6 8 6 8 4 8 1 8 3 8 3 8 3 8 2 8 1 8 0 8 1 8 2 8 4 8 3 8 2 8 4 8 3 8 2 8 1 8 1 8 2 8 2 8 3 8 4 8 2 8 1 8 1 8 2 8 3 8 3 8 3 8 4 8 4 8 4 8 3 8 1 8 1 8 1 8 0 8 1 8 1 8 1 8 2 8 2 8 1 8 0 8-1 8-1 8 1 8 2 8 1 8 0 8-1 8 2 8 3 8 3 8 1 8-1 8-1 8-1 8 0 8 1 8 1 8 0 8-2"/><path d="M4572 4118l8-1 8 1 8 1 8-1 8-4 8-4 8 0 8 1 8 3 8 0 8-2 8-2 8 0 8 0 8-1 8-2 8 0 8 0 8 1 8 2 8 1 8-4 8-3 8-1 8 2 8 1 8 1 8 0 8 0 8 0 8-1 8 0 8 0 8-1 8-4 8-4 8-2 8 0 8 0 8 0 8 0 8-2 8-1 8 0 8-1 8 1 8 4 8 3 8 0 8-3 8-1 8-1 8 1 8-1 8 0 8-1 8-1 8-1 8 0 8 0 8-1 8-2 8-1 8 1 8 1 8-1 8-3 8-4 8-2 8 1 8 2 8 1 8-3 8-1 8 0 8 2 8-1 8-2 8-1 8-2 8-2 8-2 8-1 8-1 8-1 8 2 8 2 8-1 8-2 8-2 8-2 8-1 8-1 8-2 8-3 8-5 8-2 8 0 8 0 8-2 8 0 8-2 8-3 8-4 8-4 8-2 8-4 8-6 8-5 8-4 8-3 8-5 8-7 8-8 8-7 8-7 8-7 8-9 8-7 8-9 8-9 8-10 8-11 8-11 8-12 8-12 8-12 8-8 8-5 8-4 8-4 8-5 8-3 8 1 8 5 8 9 8 7 8 7 8 5 8 7 8 8 8 8 8 6 8 5 8 4 8 5 8 6 8 4 8 4 8 4 8 4 8 2 8 1 8 4 8 8 8 5 8 2 8 3 8 1 8 1 8 1 8 2 8 3 8 2 8 3 8 5 8 5 8 4 8 1 8 0 8 1 8 2 8 1 8-1 8 1 8 3 8 6 8 5 8 4 8 2 8 1 8 1 8 1 8 1 8 3 8 2 8 1 8 1 8 1 8 2 8 1 8 0 8-1 8 0 8 0 8 0 8 1 8 1 8 1 8 1 8 0 8-1 8 1 8 1 8 1 8 1 8 1 8 0 8-3"/><path d="M4572 4146l8 0 8-2 8-3 8-2 8 0 8 0 8 1 8 1 8 2 8 1 8-1 8-1 8-3 8-2 8 0 8 2 8 1 8-1 8-1 8-2 8 0 8-1 8 0 8 0 8 1 8 2 8 1 8 1 8 1 8-1 8-2 8-2 8-5 8-5 8-3 8 1 8 4 8 3 8-1 8-1 8 0 8 0 8-2 8-1 8-1 8-1 8-1 8-2 8-3 8-2 8 0 8 2 8 3 8 0 8 0 8 1 8 0 8-1 8-1 8-2 8 0 8-1 8-1 8-2 8-2 8 0 8 1 8 1 8-2 8-2 8 1 8 1 8 0 8-3 8-1 8 0 8 1 8 0 8-1 8-1 8-1 8 0 8-1 8 1 8 0 8-2 8-4 8-2 8-1 8 0 8 1 8 3 8 1 8-6 8-7 8-2 8 0 8-1 8-1 8-1 8-2 8-5 8-5 8-1 8-1 8-2 8-3 8-4 8-4 8-5 8-5 8-3 8-3 8-7 8-9 8-9 8-8 8-7 8-7 8-9 8-10 8-11 8-12 8-13 8-14 8-16 8-11 8-7 8-5 8-4 8-4 8-3 8-1 8 3 8 5 8 7 8 9 8 10 8 8 8 9 8 8 8 7 8 5 8 5 8 6 8 8 8 6 8 5 8 1 8 1 8 0 8 2 8 5 8 5 8 3 8 1 8 1 8 4 8 5 8 2 8 0 8 2 8 2 8 4 8 3 8 3 8 1 8 1 8 0 8 0 8 2 8 4 8 3 8 1 8 1 8 2 8 3 8 4 8 4 8 1 8 0 8 2 8 3 8 1 8-2 8 0 8 2 8 3 8 1 8 2 8 1 8 0 8 0 8-1 8 0 8 1 8 0 8-2 8-2 8 2 8 2 8 3 8 0 8 0 8 2 8 2 8-1 8-3 8-2"/><path d="M4572 4171l8-1 8-1 8 1 8 3 8 1 8 1 8 1 8 1 8-3 8-3 8 0 8 1 8 0 8-1 8-3 8-1 8-1 8-2 8-1 8 2 8 0 8-3 8-2 8-1 8 2 8 2 8 1 8-1 8-1 8 2 8 3 8 0 8-2 8-2 8-2 8-1 8-1 8 0 8 0 8-1 8-1 8-1 8 0 8-2 8-3 8-1 8 0 8 1 8 2 8 3 8 1 8-1 8-3 8-2 8-1 8 0 8-1 8-1 8-1 8 0 8 0 8 0 8-1 8 1 8 2 8 2 8-2 8-4 8-3 8 0 8-1 8-2 8 0 8 1 8-3 8-4 8-1 8 1 8 1 8 1 8 1 8 0 8-2 8-4 8-3 8-1 8-1 8-1 8-2 8 0 8 1 8 1 8 0 8-4 8-4 8-1 8 2 8-1 8-3 8-3 8-3 8-3 8-2 8-2 8-1 8-1 8-1 8-4 8-4 8-4 8-4 8-4 8-5 8-4 8-5 8-5 8-6 8-9 8-9 8-8 8-7 8-7 8-9 8-12 8-12 8-12 8-11 8-9 8-9 8-9 8-9 8-9 8-7 8-4 8-1 8 3 8 6 8 7 8 7 8 7 8 6 8 5 8 5 8 7 8 9 8 7 8 7 8 7 8 8 8 7 8 4 8 2 8 1 8 1 8 4 8 6 8 5 8 2 8 0 8 2 8 4 8 6 8 4 8 0 8-1 8 1 8 3 8 3 8 2 8 1 8 3 8 5 8 3 8 2 8 1 8-1 8-2 8 1 8 3 8 4 8 4 8 3 8 2 8 0 8 1 8 1 8 0 8 0 8 0 8-1 8 0 8 3 8 2 8 2 8 1 8 2 8 0 8-1 8 0 8 3 8 3 8 1 8-1 8 0 8 0 8-1 8-1 8 0 8 1"/><path d="M4572 4198l8-2 8 0 8 3 8 3 8 0 8-2 8-3 8-2 8 0 8 0 8-1 8 0 8 1 8 0 8 1 8 1 8 0 8 0 8 1 8 1 8-1 8-4 8-4 8-1 8 0 8 0 8 0 8 1 8 1 8 0 8-1 8-1 8 2 8 1 8-1 8-3 8-3 8-1 8 0 8 0 8 0 8-1 8-2 8-1 8 0 8-1 8-2 8 2 8 3 8 1 8-2 8-2 8-1 8 1 8 2 8 2 8 0 8-2 8-4 8-3 8 0 8 0 8 0 8 0 8-3 8-3 8-1 8 2 8 2 8-1 8-3 8-3 8 0 8 1 8 1 8 0 8 0 8 2 8 2 8-1 8-3 8-4 8-2 8-2 8-2 8-1 8 2 8 2 8-2 8-2 8-2 8-1 8-2 8-3 8-4 8-2 8-1 8-1 8-3 8-1 8-1 8-2 8-4 8-4 8-2 8-2 8 1 8-1 8-4 8-5 8-3 8-3 8-8 8-10 8-10 8-5 8-3 8-3 8-6 8-8 8-9 8-10 8-11 8-10 8-9 8-9 8-10 8-11 8-11 8-11 8-9 8-6 8-2 8-2 8-2 8 0 8 5 8 7 8 6 8 5 8 6 8 6 8 5 8 5 8 9 8 9 8 8 8 7 8 7 8 4 8 2 8 0 8 2 8 2 8 4 8 4 8 5 8 5 8 3 8 3 8 2 8 4 8 3 8 3 8 3 8 2 8 1 8 1 8 2 8 3 8 5 8 3 8 1 8 2 8 3 8 2 8 2 8 4 8 3 8 2 8-2 8-2 8-2 8 2 8 4 8 3 8 1 8 0 8-1 8 1 8 0 8 0 8 1 8 3 8 4 8 2 8 1 8-1 8-1 8 1 8 0 8 0 8-2 8-1 8 2 8 3 8 2 8 0 8-2"/><path d="M4572 4227l8-1 8 1 8 3 8 3 8 0 8-3 8-5 8-3 8 2 8 3 8 1 8-1 8-4 8-2 8 1 8 1 8-1 8 0 8 2 8 0 8-1 8-2 8-2 8-3 8-3 8-3 8 0 8 0 8 1 8 2 8 1 8 0 8 1 8 2 8 1 8 0 8-2 8-3 8-2 8-2 8 0 8 0 8 0 8 1 8 2 8 1 8 0 8 0 8-1 8 0 8-1 8 1 8-1 8-2 8-3 8-1 8 0 8 2 8 1 8 0 8-1 8-2 8-2 8-1 8 0 8 1 8 0 8-1 8 0 8 1 8-2 8-2 8-2 8-1 8 1 8 0 8 1 8 1 8-1 8-2 8-3 8 0 8 0 8-1 8-3 8-4 8-2 8-1 8 0 8 1 8 0 8-1 8-2 8-2 8-1 8-1 8-1 8-2 8-3 8-2 8-2 8 0 8-1 8-3 8-2 8-1 8-3 8-5 8-5 8-3 8-2 8-4 8-5 8-5 8-4 8-4 8-3 8-5 8-6 8-6 8-9 8-9 8-8 8-7 8-9 8-11 8-12 8-12 8-12 8-10 8-9 8-9 8-8 8-7 8-5 8-1 8 2 8 2 8 4 8 5 8 6 8 7 8 9 8 7 8 6 8 7 8 8 8 9 8 8 8 6 8 1 8-1 8 1 8 4 8 6 8 6 8 4 8 4 8 4 8 4 8 2 8 2 8 3 8 4 8 4 8 3 8 1 8 1 8 3 8 3 8 3 8 0 8 1 8 2 8 4 8 2 8 1 8 1 8 1 8 1 8 1 8 1 8 1 8 0 8 1 8 3 8 2 8 2 8 3 8 2 8 1 8 1 8 0 8-2 8-2 8-1 8 4 8 5 8 5 8 0 8-2 8-5 8-2 8 1 8 1 8-1 8 1 8 2 8-1"/><path d="M4572 4262l8 0 8-2 8 1 8 2 8-2 8-5 8-3 8 0 8 2 8 1 8-1 8-2 8-1 8-1 8 0 8 0 8 0 8-1 8-1 8-1 8-4 8-1 8 1 8 2 8-1 8-2 8 0 8 2 8 3 8 0 8-1 8 0 8-1 8-1 8 0 8 1 8 1 8 1 8 0 8-2 8-4 8-1 8 0 8 2 8 0 8-2 8-1 8 1 8-1 8-3 8-3 8-2 8 1 8 2 8 2 8-1 8-1 8-1 8 0 8 0 8-1 8-1 8-1 8-1 8-2 8 0 8 1 8 0 8 0 8-1 8 0 8-1 8 2 8 2 8 0 8-2 8-3 8-2 8 0 8-1 8-2 8-3 8-2 8-1 8 0 8 0 8 1 8-2 8-2 8 0 8 1 8 1 8-2 8-2 8-2 8-1 8 0 8-2 8-3 8-3 8-2 8-3 8-5 8-2 8 1 8 1 8-3 8-4 8-3 8-3 8-4 8-4 8-3 8-3 8-5 8-7 8-8 8-5 8-3 8-2 8-6 8-8 8-10 8-10 8-8 8-9 8-10 8-12 8-11 8-10 8-7 8-8 8-10 8-8 8-6 8-2 8 0 8 1 8 3 8 6 8 6 8 6 8 7 8 6 8 5 8 7 8 9 8 8 8 6 8 6 8 6 8 4 8 3 8 1 8 2 8 4 8 3 8 4 8 6 8 5 8 2 8 1 8 2 8 3 8 4 8 2 8 1 8 3 8 5 8 3 8 2 8 2 8 4 8 4 8 1 8 0 8-1 8-1 8 2 8 2 8 2 8 1 8 0 8 0 8 1 8-1 8 0 8 2 8 4 8 3 8 0 8 0 8-1 8-1 8 1 8 1 8 0 8 1 8 1 8 0 8-1 8 0 8 3 8 3 8 1 8 0 8 0 8 1 8 0"/><path d="M4572 4287l8 0 8-1 8-3 8-3 8-2 8 1 8 2 8 3 8 2 8-1 8-1 8 1 8 2 8-1 8-5 8-5 8-4 8 0 8 3 8 4 8 1 8 0 8-1 8-1 8-2 8-1 8 1 8 1 8-1 8-1 8-1 8 0 8 2 8 0 8-2 8-3 8-3 8 1 8 0 8-1 8-1 8 1 8 1 8 0 8 1 8 0 8-2 8-1 8 1 8 2 8 0 8-1 8-1 8-2 8-2 8-1 8-2 8 0 8 0 8-1 8-3 8-1 8 1 8 0 8-2 8-3 8 0 8 3 8 2 8 1 8-2 8-2 8 0 8 3 8 3 8 1 8-3 8-5 8-3 8-3 8-1 8-1 8-1 8 1 8 1 8 0 8 1 8 0 8-2 8-3 8-1 8 0 8-1 8-1 8-2 8-3 8-3 8-3 8-1 8-1 8-3 8-2 8-2 8-2 8-2 8-2 8-3 8-5 8-6 8-5 8-4 8-2 8-2 8-2 8-2 8-4 8-4 8-5 8-7 8-6 8-4 8-5 8-6 8-9 8-8 8-9 8-10 8-8 8-9 8-10 8-9 8-9 8-8 8-9 8-10 8-4 8-2 8-1 8 0 8 1 8 4 8 5 8 7 8 6 8 5 8 4 8 6 8 9 8 9 8 8 8 5 8 5 8 5 8 5 8 4 8 4 8 3 8 3 8 2 8 3 8 4 8 3 8 4 8 3 8 2 8 3 8 3 8 4 8 3 8-1 8 0 8 2 8 2 8 1 8 2 8 5 8 4 8 2 8 0 8 0 8 2 8 2 8-1 8 1 8 1 8 1 8 3 8 2 8 1 8 2 8 2 8 3 8 0 8-1 8 0 8 0 8 1 8 0 8 0 8 2 8 3 8 1 8-1 8 0 8 0 8 1 8 0 8 0 8-2"/><path d="M4572 4317l8 1 8 1 8 0 8-2 8-2 8-3 8-2 8-1 8 1 8-1 8-2 8-2 8-1 8 1 8 2 8 2 8 1 8 0 8-1 8-1 8 0 8 0 8-1 8-3 8-3 8 1 8 3 8 0 8 0 8-2 8-1 8-1 8 1 8 0 8-1 8 0 8-1 8 0 8-2 8-2 8-1 8 0 8 1 8 1 8-1 8-2 8-3 8 0 8 1 8 2 8 1 8-2 8-1 8 0 8-1 8-2 8 0 8 2 8 1 8-1 8-3 8-4 8 0 8 1 8 0 8 0 8 0 8-1 8 1 8 1 8 0 8-1 8-1 8-1 8-1 8-1 8-1 8-2 8-3 8-2 8-1 8 1 8 0 8-1 8-3 8-2 8 0 8 0 8 1 8 0 8-2 8-1 8-2 8-4 8-4 8-2 8 1 8 1 8-1 8-4 8-5 8-2 8 1 8 0 8-3 8-4 8-3 8-1 8 0 8-1 8-4 8-3 8-2 8-2 8-4 8-5 8-3 8-4 8-6 8-6 8-4 8-5 8-6 8-8 8-9 8-9 8-9 8-7 8-6 8-8 8-9 8-10 8-10 8-9 8-9 8-7 8-4 8-4 8-2 8-1 8 0 8 3 8 4 8 6 8 6 8 6 8 5 8 7 8 8 8 8 8 7 8 5 8 4 8 4 8 5 8 7 8 7 8 5 8 1 8 1 8 3 8 2 8 2 8 2 8 3 8 4 8 4 8 4 8 3 8 2 8 2 8 2 8 2 8 2 8 2 8 2 8 2 8 1 8-1 8 0 8 3 8 5 8 5 8 1 8 0 8 0 8 1 8 1 8 1 8 2 8 1 8-1 8-2 8 1 8 2 8 1 8 1 8 1 8 0 8-1 8-1 8 1 8 3 8 2 8-1 8-3 8-3 8 1 8 2"/></g>
</g>
<g font-family="'Liberation Serif','Times New Roman',serif">
<text x="226.3" y="42.3" font-size="55" fill="#000">Deintercalation</text>
<text x="582.6" y="42.3" font-size="55" fill="#000">from</text>
<text x="704.2" y="42.3" font-size="55" fill="#000">turbostratic</text>
<text x="970.7" y="42.3" font-size="55" fill="#000">graphite</text>
<text x="1165.7" y="42.3" font-size="55" fill="#000">at</text>
<text x="1219.4" y="42.3" font-size="55" fill="#000">second</text>
<text x="1387.4" y="42.3" font-size="55" fill="#000">cycle</text>
<text x="138.0" y="104.2" font-size="41.5" fill="#000">(A)</text>
<text x="205.6" y="90.3" font-size="27">7</text>
<text x="220.2" y="104.2" font-size="41.5" fill="#000">Li-NMR</text>
<text x="602.8" y="104.5" font-size="41.5" fill="#000">(B) 100 diffraction</text>
<text x="1187.7" y="104.3" font-size="41.5" fill="#000">(C) 002 diffraction</text>
<text transform="translate(159.5 270.8) rotate(-90)" font-size="37">Peak III</text>
<text transform="translate(237.5 254.8) rotate(-90)" font-size="36">Peak II</text>
<text transform="translate(281.7 255.8) rotate(-90)" font-size="35.5">LiC<tspan font-size="23" dy="7.2">6</tspan><tspan dy="-7.2"> type</tspan></text>
<text transform="translate(338.1 264.3) rotate(-90)" font-size="37">Peak I</text>
<text transform="translate(382.3 264.3) rotate(-90)" font-size="35.5">LiC<tspan font-size="23" dy="7.2">9</tspan><tspan dy="-7.2"> type</tspan></text>
<text x="565.1" y="211.7" font-size="41.5" fill="#000">LiC<tspan font-size="26" dy="8.7">9</tspan><tspan dy="-8.7"> type</tspan></text>
<text x="732.5" y="170.4" font-size="41.5" fill="#000">LiC<tspan font-size="26" dy="8.7">6</tspan><tspan dy="-8.7"> type</tspan></text>
<text x="1158.6" y="230.0" font-size="41.5" fill="#000">LiC<tspan font-size="26" dy="8.7">9</tspan><tspan dy="-8.7"> type</tspan></text>
<text x="1321.8" y="184.5" font-size="41.5" fill="#000">LiC<tspan font-size="26" dy="8.7">6</tspan><tspan dy="-8.7"> type</tspan></text>
<text x="1661.3" y="434.5" font-size="36" fill="#000">Random</text>
<text x="1661.0" y="478.5" font-size="36" fill="#000">doping</text>
<text x="1661.1" y="622.0" font-size="41.5" fill="#000">LiC<tspan font-size="26" dy="8.7">9</tspan><tspan dy="-8.7"> type</tspan></text>
<text x="1656.3" y="897.5" font-size="41.5" fill="#000">LiC<tspan font-size="26" dy="8.7">6</tspan><tspan dy="-8.7"> type</tspan></text>
<rect x="0" y="626.5" width="155" height="56" fill="#fff"/>
<text x="2.5" y="667.1" font-size="31" fill="#ff0000">C/Li=18.9</text>
<text x="995.3" y="531.9" font-size="31" fill="#12b856">C/Li=54.3</text>
<text x="995.3" y="728.2" font-size="31" fill="#ff0000">C/Li=20.0</text>
<text x="995.3" y="1002.6" font-size="31" fill="#0070c0">C/Li=10.9</text>
<text transform="translate(530.9 888.4) rotate(-90)" font-size="46.8">Intercalation</text>
<text x="40.1" y="1174" font-size="31.5" text-anchor="middle">120</text>
<text x="95.2" y="1174" font-size="31.5" text-anchor="middle">100</text>
<text x="150.3" y="1174" font-size="31.5" text-anchor="middle">80</text>
<text x="205.5" y="1174" font-size="31.5" text-anchor="middle">60</text>
<text x="260.6" y="1174" font-size="31.5" text-anchor="middle">40</text>
<text x="315.7" y="1174" font-size="31.5" text-anchor="middle">20</text>
<text x="370.8" y="1174" font-size="31.5" text-anchor="middle">0</text>
<text x="425.9" y="1174" font-size="31.5" text-anchor="middle">-20</text>
<text x="481.1" y="1174" font-size="31.5" text-anchor="middle">-40</text>
<text x="561.6" y="1173" font-size="31.5" text-anchor="middle">0.212</text>
<text x="644.4" y="1173" font-size="31.5" text-anchor="middle">0.213</text>
<text x="727.3" y="1173" font-size="31.5" text-anchor="middle">0.214</text>
<text x="810.1" y="1173" font-size="31.5" text-anchor="middle">0.215</text>
<text x="893.0" y="1173" font-size="31.5" text-anchor="middle">0.216</text>
<text x="975.8" y="1173" font-size="31.5" text-anchor="middle">0.217</text>
<text x="1142.6" y="1172" font-size="30.5" text-anchor="middle">0.33</text>
<text x="1247.2" y="1172" font-size="30.5" text-anchor="middle">0.34</text>
<text x="1351.8" y="1172" font-size="30.5" text-anchor="middle">0.35</text>
<text x="1456.4" y="1172" font-size="30.5" text-anchor="middle">0.36</text>
<text x="1561.0" y="1172" font-size="30.5" text-anchor="middle">0.37</text>
<text x="91.7" y="1209.6" font-size="42" fill="#000">Chemical shift/ppm</text>
<text x="671.2" y="1209.9" font-size="42"><tspan font-style="italic">d</tspan> value/nm</text>
<text x="1260.7" y="1208.5" font-size="42"><tspan font-style="italic">d</tspan> value/nm</text>
</g>
<path d="M40.1 1126.0H481.1M40.1 1126.0V1135.5M95.2 1126.0V1135.5M150.3 1126.0V1135.5M205.5 1126.0V1135.5M260.6 1126.0V1135.5M315.7 1126.0V1135.5M370.8 1126.0V1135.5M425.9 1126.0V1135.5M481.1 1126.0V1135.5" fill="none" stroke="#000" stroke-width="2.6"/>
<path d="M561.6 1124.3H975.8M561.6 1124.3V1133.8M644.4 1124.3V1133.8M727.3 1124.3V1133.8M810.1 1124.3V1133.8M893.0 1124.3V1133.8M975.8 1124.3V1133.8" fill="none" stroke="#000" stroke-width="2.6"/>
<path d="M1142.6 1125.3H1561.0M1142.6 1125.3V1134.8M1247.2 1125.3V1134.8M1351.8 1125.3V1134.8M1456.4 1125.3V1134.8M1561.0 1125.3V1134.8" fill="none" stroke="#000" stroke-width="2.6"/>
<path d="M144.9 290V389M248.2 285.8V314" stroke="#f00" stroke-width="4.3" fill="none"/>
<path d="M138.2 388.5H151.6L144.9 401.5ZM241.5 313.8H255L248.2 326.9Z" fill="#f00"/>
<path d="M508.7 634.7V482H518.3V634.7ZM500.2 482.6H526.8L513.5 456.6Z" fill="#f00"/>
<rect x="508.7" y="904.3" width="9.4" height="215" fill="#f00"/>
<path d="M283.4 326.9L283.4 319.2Q283.4 311.2 289.4 311.2L315.2 311.2Q321.2 311.2 321.2 297.2L321.2 278.5M321.2 297.2Q321.2 311.2 327.2 311.2L354.3 311.2Q360.3 311.2 360.3 319.2L360.3 326.9M649.0 336.7L649.0 312.5Q649.0 292.5 654.0 292.5L676.3 292.5Q682.3 292.5 682.3 276.5L682.3 234.8M682.3 276.5Q682.3 292.5 688.3 292.5L711.3 292.5Q716.3 292.5 716.3 312.5L716.3 336.7M724.0 337.7L724.0 312.5Q724.0 292.5 729.0 292.5L792.0 292.5Q798.0 292.5 798.0 276.5L798.0 233.8M798.0 276.5Q798.0 292.5 804.0 292.5L861.3 292.5Q866.3 292.5 866.3 312.5L866.3 337.7M1179.2 344.7L1179.2 325.2Q1179.2 305.2 1184.2 305.2L1233.9 305.2Q1239.9 305.2 1239.9 289.2L1239.9 253.7M1239.9 289.2Q1239.9 305.2 1245.9 305.2L1294.2 305.2Q1299.2 305.2 1299.2 325.2L1299.2 344.7M1314.0 345.7L1314.0 323.8Q1314.0 303.8 1319.0 303.8L1388.2 303.8Q1394.2 303.8 1394.2 287.8L1394.2 248.8M1394.2 287.8Q1394.2 303.8 1400.2 303.8L1470.2 303.8Q1475.2 303.8 1475.2 323.8L1475.2 345.7" stroke="#f00" stroke-width="3.1" fill="none"/>
<path d="M1574.3 390.6L1579.5 390.6Q1599.5 390.6 1599.5 398.6L1599.5 437.0Q1599.5 443.0 1613.5 443.0L1641.6 443.0M1613.5 443.0Q1599.5 443.0 1599.5 449.0L1599.5 486.5Q1599.5 494.5 1579.5 494.5L1574.3 494.5M1572.9 507.4L1576.6 507.4Q1596.6 507.4 1596.6 515.4L1596.6 599.3Q1596.6 605.3 1610.6 605.3L1641.6 605.3M1610.6 605.3Q1596.6 605.3 1596.6 611.3L1596.6 694.0Q1596.6 702.0 1576.6 702.0L1572.9 702.0M1573.0 708.8L1577.6 708.8Q1597.6 708.8 1597.6 716.8L1597.6 876.8Q1597.6 882.8 1611.6 882.8L1640.0 882.8M1611.6 882.8Q1597.6 882.8 1597.6 888.8L1597.6 1047.5Q1597.6 1055.5 1577.6 1055.5L1573.0 1055.5" stroke="#f00" stroke-width="4.3" fill="none"/>
</g>
</svg></body></html>
